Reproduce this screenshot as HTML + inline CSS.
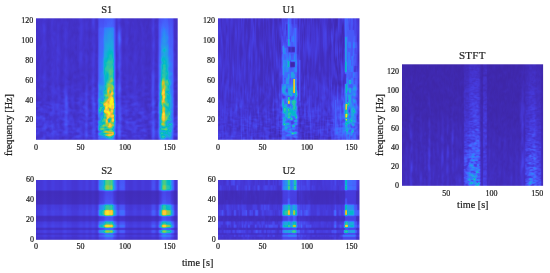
<!DOCTYPE html>
<html lang="en"><head><meta charset="utf-8"><title>Time-frequency figure</title><style>
html,body{margin:0;padding:0;background:#fff}
body{width:550px;height:273px;position:relative;overflow:hidden;font-family:"Liberation Serif",serif;color:#1c1c1c;-webkit-text-stroke:.2px #1c1c1c}
.p{position:absolute;display:flex;overflow:hidden}
.p i{display:block;flex:1 1 0;height:100%}
.t{position:absolute;white-space:nowrap;line-height:1;transform:translate(-50%,-50%);font-size:8px}
.r{position:absolute;white-space:nowrap;line-height:1;transform:translate(-100%,-50%);font-size:8px}
.T{position:absolute;white-space:nowrap;line-height:1;transform:translate(-50%,-50%);font-size:10.5px}
.L{position:absolute;white-space:nowrap;line-height:1;transform:translate(-50%,-50%);font-size:10.2px}
.Y{position:absolute;white-space:nowrap;line-height:1;transform:translate(-50%,-50%) rotate(-90deg);font-size:10.2px}
</style></head><body>
<div class="p" style="left:36px;top:18px;width:142px;height:122px"><i style="background:linear-gradient(#7c70dc .5px,#43c 1.5px,#4330c5 5.5px,#4434ce 8.5px,#4330c5 12.5px,#4434ce 15.5px,#422fc1 21.5px,#4332c9 23.5px,#4331c6 28.5px,#4433cd 34.5px,#422ebf 44.5px,#4330c5 48.5px,#422ec0 50.5px,#4330c5 53.5px,#422fc1 57.5px,#4331c8 62.5px,#422fc2 64.5px,#4434cf 67.5px,#4331c8 69.5px,#4331c7,#412cb8 81.5px,#412cba 82.5px,#4435d0 84.5px,#4538d8 87.5px,#4539d9,#4332c9,#422fc2 90.5px,#4536d3 93.5px,#4435d0 94.5px,#4536d4 96.5px,#4742e6 99.5px,#463adb,#463cde,#4433cd,#4538d7 107.5px,#4433cd 108.5px,#473fe3 110.5px,#463de0,#4537d6,#4536d4 113.5px,#473fe3,#4639da,#4331c8 119.5px,#4332c9,#6a5edb 121.5px)"></i><i style="background:linear-gradient(#7c71dc .5px,#4433cd 1.5px,#4332c9 4.5px,#4435d0,#4332c8 12.5px,#43c 18.5px,#4330c5 22.5px,#4433cd 38.5px,#422fc1 44.5px,#4332c9 49.5px,#422fc0 57.5px,#4433cb 62.5px,#4331c8 65.5px,#4435d0 71.5px,#4433cb,#4435d0 75.5px,#412ebe 81.5px,#422ebf 82.5px,#4537d6,#4537d6,#463adc 88.5px,#4434cf,#4433cb 90.5px,#4537d5,#4433cd 94.5px,#4536d5 97.5px,#4743e7 99.5px,#4743e7,#463ddf 101.5px,#4639da 104.5px,#4536d3 105.5px,#4539d9 107.5px,#4435d0,#4537d5,#473fe3 110.5px,#4639da 112.5px,#473fe3,#43c 118.5px,#4332c9,#43c,#6a5fde 121.5px)"></i><i style="background:linear-gradient(#7c70db .5px,#4433cb 1.5px,#4434cf,#4332cb 17.5px,#4434ce 19.5px,#4331c6 23.5px,#4434ce 29.5px,#4330c5 41.5px,#4332cb 43.5px,#4331c8,#4433cd 49.5px,#4332c9 54.5px,#4435d0 62.5px,#4331c7 66.5px,#4332ca 69.5px,#4435d1,#4434ce,#4538d7 75.5px,#422fc3 81.5px,#4330c4 82.5px,#463bde,#4538d8,#463bdd 88.5px,#4536d5 89.5px,#463adb 91.5px,#4639d9 92.5px,#43c 94.5px,#4536d3 95.5px,#4537d5,#4744e8 99.5px,#4744e8 100.5px,#4539d9 102.5px,#463cde 106.5px,#463adc,#4435d2,#4536d4,#473ee2 110.5px,#463cdf,#4740e4 114.5px,#473fe2 115.5px,#4435d1,#43c 119.5px,#4434cf,#6a60df 121.5px)"></i><i style="background:linear-gradient(#7c70db .5px,#4332ca 1.5px,#4435d0 10.5px,#4332c8 17.5px,#4433cd 20.5px,#4332c9,#4434cf 30.5px,#4331c7 41.5px,#4434d0 44.5px,#4433cd 54.5px,#4536d4 58.5px,#4332ca 69.5px,#4435d0,#4434ce,#4538d8 75.5px,#4331c6 81.5px,#4331c8 82.5px,#463cdf,#4536d4,#4639da 88.5px,#4538d7 89.5px,#463cdf 91.5px,#43c,#4538d7 97.5px,#4745e9 99.5px,#4742e6 100.5px,#4537d5 102.5px,#463ddf 106.5px,#4434cf 108.5px,#4435d2,#463cdf 110.5px,#463cdf 112.5px,#4639da 115.5px,#4434cf,#4434ce 119.5px,#4536d3,#6a60df 121.5px)"></i><i style="background:linear-gradient(#7c70db .5px,#4432cb 1.5px,#4435d0 11.5px,#4331c6 25.5px,#4434cf,#4435d0 33.5px,#4332ca 38.5px,#4435d2,#4433cd 54.5px,#4535d2 58.5px,#4433cb 63.5px,#4435d1 67.5px,#4332cb 70.5px,#4433cd 74.5px,#4435d2 75.5px,#4434cf 78.5px,#4331c6,#4332c9,#4639da,#4331c8 86.5px,#4332ca,#4536d4 88.5px,#473fe3,#4435d1 94.5px,#4434cf,#4743e7 98.5px,#4745e9 99.5px,#4537d6 102.5px,#463cde 106.5px,#4433cd 108.5px,#4435d1,#463adc 110.5px,#463bdc,#4434cf 114.5px,#43c 118.5px,#4434ce,#4537d6,#6a5fdf 121.5px)"></i><i style="background:linear-gradient(#7c70da .5px,#4332ca 1.5px,#4435d2 13.5px,#4332c9 24.5px,#4435d1 29.5px,#4332ca 35.5px,#4434d0 42.5px,#4332ca 55.5px,#4435d1,#4332c9,#4535d2 67.5px,#4332c9 70.5px,#43c,#4331c8 74.5px,#4434ce 78.5px,#4331c8 80.5px,#4435d1 84.5px,#4230c4 86.5px,#4331c7 87.5px,#473fe2 90.5px,#4740e3 91.5px,#463adb,#4433cb 95.5px,#43c 96.5px,#4742e6 98.5px,#4743e7 99.5px,#4639d9 102.5px,#463adc 106.5px,#4434ce,#463cde,#463bdd,#43c 114.5px,#4433cb 118.5px,#463ada 120.5px,#6a5fde 121.5px)"></i><i style="background:linear-gradient(#7c70da .5px,#4332cb 1.5px,#4537d6 7.5px,#4535d2,#4537d5 13.5px,#4434ce 18.5px,#4536d3 28.5px,#4433cb 33.5px,#4434ce 42.5px,#4331c8 54.5px,#4537d7 59.5px,#4433cb,#4535d2 67.5px,#4332c9 70.5px,#4433cb 79.5px,#4434cf 81.5px,#4331c6 86.5px,#4537d5 89.5px,#463ddf,#463ee1 91.5px,#4537d6 94.5px,#43c,#43c 96.5px,#473ee1,#4743e7 100.5px,#4538d7,#4537d6 108.5px,#4742e6,#463ee1,#4434cf 114.5px,#4434cf 117.5px,#4435d0 118.5px,#463ee1 120.5px,#6a60e0 121.5px)"></i><i style="background:linear-gradient(#7c72df .5px,#4435d0 1.5px,#4435d1,#463adb 7.5px,#463cde,#4536d2 17.5px,#4537d6 19.5px,#4537d6 27.5px,#4435d0 31.5px,#4536d2 36.5px,#4434ce 39.5px,#43c 47.5px,#4434cf 54.5px,#463bdd,#4435d1 64.5px,#4539d9 68.5px,#4332cb,#4435d1 74.5px,#4434d0 79.5px,#4537d5,#4433cd 83.5px,#43c 86.5px,#4536d3 87.5px,#4535d2,#463bdd 91.5px,#4538d8 94.5px,#4434cf,#4435d0 96.5px,#463bdd,#4849ed 100.5px,#4537d7 104.5px,#4537d6 105.5px,#4747eb 110.5px,#4536d4 114.5px,#4536d3 115.5px,#4743e7 120.5px,#6b62e4 121.5px)"></i><i style="background:linear-gradient(#7d73e3 .5px,#4536d4 1.5px,#4434cf 3.5px,#463adb 7.5px,#463de0,#4537d6 17.5px,#4537d5 23.5px,#4639d9 27.5px,#4536d5 29.5px,#4536d3 40.5px,#4434ce 45.5px,#4435d1 51.5px,#463cdf 59.5px,#4537d6 63.5px,#463adc 68.5px,#4435d1,#4433cd,#4537d6 74.5px,#4435d1 77.5px,#4537d6 81.5px,#4435d0 83.5px,#4435d0 86.5px,#4539d9 87.5px,#4536d3,#463adb,#463bdd 93.5px,#463adb,#4435d2,#4535d2 96.5px,#4538d7,#4746ea 100.5px,#463bdd 104.5px,#4743e7 106.5px,#484aee 110.5px,#463adb 113.5px,#4537d5 115.5px,#4740e4 118.5px,#4741e5 120.5px,#6b62e3 121.5px)"></i><i style="background:linear-gradient(#7d72e0 .5px,#4435d1 1.5px,#43c 3.5px,#4538d8 11.5px,#4434cd 20.5px,#4538d8 27.5px,#4537d6 32.5px,#4434cf 34.5px,#4536d3 39.5px,#43c 45.5px,#4639da 60.5px,#4536d5,#4639da 66.5px,#4434cd 70.5px,#4537d5 78.5px,#4434d0 83.5px,#4536d3 84.5px,#4434ce 86.5px,#4538d7,#4538d7,#4435d1 89.5px,#463bdc 92.5px,#4538d8 94.5px,#4433cb,#4332ca 96.5px,#4433cd,#463bdc 100.5px,#4538d8 101.5px,#463ddf 104.5px,#4746ea 106.5px,#484bef 109.5px,#4848ec 110.5px,#463bdc 112.5px,#4536d3,#463cde 118.5px,#4639d9 120.5px,#6a5edb 121.5px)"></i><i style="background:linear-gradient(#7c70db .5px,#4433cb 1.5px,#4332c9 4.5px,#4434cd,#4331c7 18.5px,#4435d0 28.5px,#4332ca 34.5px,#4434cf 39.5px,#4331c7 45.5px,#4434ce 48.5px,#43c 55.5px,#4536d3 61.5px,#4434ce 64.5px,#4535d2 66.5px,#4332c9 70.5px,#4536d4 77.5px,#4332c8 82.5px,#4536d3 84.5px,#4536d2,#4332ca 86.5px,#4538d7,#4536d3 90.5px,#463bdc 93.5px,#4539d9,#4332ca,#4330c5 96.5px,#4435d2 100.5px,#4433cd 101.5px,#463ddf 103.5px,#4746ea 108.5px,#4745e9,#473fe2,#4536d3,#4435d0 112.5px,#463cde 114.5px,#4639da 115.5px,#463adb 117.5px,#4433cb 120.5px,#695ad3 121.5px)"></i><i style="background:linear-gradient(#7b6fd8 .5px,#4332c9 1.5px,#4230c4 6.5px,#4330c5 26.5px,#4332ca 30.5px,#4230c3 33.5px,#43c 39.5px,#4230c3 42.5px,#4433cd 50.5px,#4230c4 55.5px,#4435d0 61.5px,#4331c7 64.5px,#4332ca 66.5px,#4230c3 69.5px,#4433cd 76.5px,#4330c5 81.5px,#4330c5 82.5px,#4536d4 84.5px,#4536d3,#4332ca 86.5px,#463bdc,#4537d6 90.5px,#4538d8 94.5px,#4330c5 96.5px,#4331c7 97.5px,#4536d4,#4434cf,#463ddf 103.5px,#4740e4 107.5px,#463cdf,#4331c8 111.5px,#4332c9 112.5px,#463ee1 114.5px,#463de0,#4331c6 120.5px,#6859cf 121.5px)"></i><i style="background:linear-gradient(#7b6ed6 .5px,#4331c7 1.5px,#4230c3 6.5px,#422fc1,#4331c7 14.5px,#4230c3 17.5px,#4331c7 21.5px,#4230c4 27.5px,#4332ca,#4230c4,#4332cb,#4332c8,#422fc0,#4332c9 45.5px,#4432cb 50.5px,#422fc2 56.5px,#4434ce 61.5px,#4230c3 65.5px,#4331c8,#4230c3 71.5px,#4434cf 76.5px,#4330c5 78.5px,#422fc1 82.5px,#4536d2 84.5px,#4536d3,#43c,#4435d1,#463bde,#463cde 89.5px,#4435d0 91.5px,#4538d8 94.5px,#4434cd 96.5px,#4537d6 99.5px,#4435d0,#463bdd,#463adb,#473fe2 107.5px,#473fe2 108.5px,#4433cd 110.5px,#4332c8,#4332ca 112.5px,#463bdd 114.5px,#473fe2,#4331c7 120.5px,#6859cf 121.5px)"></i><i style="background:linear-gradient(#7b6fd8 .5px,#4331c8 1.5px,#4230c4 9.5px,#4331c8,#4230c3 17.5px,#43c 26.5px,#4331c7 28.5px,#4332c9 36.5px,#4230c4 41.5px,#43c 45.5px,#4331c6 48.5px,#4332ca 53.5px,#422fc1 56.5px,#4434ce,#422fc1 66.5px,#4433cd 68.5px,#4331c6 73.5px,#4435d1 76.5px,#4331c8 78.5px,#4230c3 82.5px,#4536d4 84.5px,#4538d7 85.5px,#4434ce,#463bdd,#4433cd 91.5px,#4434cf 92.5px,#463bdd 94.5px,#463bdd 95.5px,#4434d0,#43c 101.5px,#4538d8 103.5px,#4539d9 106.5px,#473fe3,#4740e4 108.5px,#4536d4,#4433cd 112.5px,#4434ce 113.5px,#463bdd,#473fe3 117.5px,#463cde 118.5px,#43c 120.5px,#695bd4 121.5px)"></i><i style="background:linear-gradient(#7c70db .5px,#4433cb 1.5px,#4332c9 6.5px,#4433cd 12.5px,#4331c7 17.5px,#4433cd 26.5px,#4332c9 30.5px,#4332c9 41.5px,#4434ce 44.5px,#4331c8 49.5px,#4433cd 53.5px,#4331c6,#4434cf 59.5px,#4331c6 66.5px,#4536d2 68.5px,#4432cb 74.5px,#4435d0 76.5px,#4331c6,#4434ce,#463bdd 85.5px,#463ada,#4435d1 87.5px,#463adb,#4332ca 91.5px,#4332cb 92.5px,#473ee2 94.5px,#4741e5 95.5px,#463de0 97.5px,#4536d3 98.5px,#4433cb 100.5px,#4433cb 101.5px,#463adc,#4538d8 105.5px,#463adc,#4742e6,#4743e7,#463cde 109.5px,#4639d9 111.5px,#4435d0,#4434cf,#4536d4,#463ee1,#4740e3 116.5px,#463de0,#4536d4 120.5px,#6a5dda 121.5px)"></i><i style="background:linear-gradient(#7c70dc .5px,#4434ce 1.5px,#4536d4 4.5px,#4434ce 17.5px,#4536d3 20.5px,#43c 25.5px,#4434ce 39.5px,#4332c9 41.5px,#4536d3 47.5px,#4433cb,#4536d3 53.5px,#4434ce 55.5px,#4435d1 58.5px,#4433cb 63.5px,#4434ce 66.5px,#4639d9,#4537d6,#4639d9 72.5px,#4433cb 80.5px,#473fe2 86.5px,#463adb,#463adb,#463ee1,#463bdd,#4536d2,#4535d2 92.5px,#4742e6 94.5px,#4744e8 95.5px,#463ee1 97.5px,#4537d5,#4435d1,#4435d1,#4536d2 101.5px,#463ee1,#463bdd,#4747eb 107.5px,#4747eb 108.5px,#4538d8 112.5px,#4639da 113.5px,#4745e9 115.5px,#4538d8 120.5px,#6a5edd 121.5px)"></i><i style="background:linear-gradient(#7c72df .5px,#4536d2 1.5px,#4537d5 5.5px,#4435d0 8.5px,#4536d3 15.5px,#4434cf 17.5px,#4538d7 21.5px,#4433cd 30.5px,#4536d2 34.5px,#4435d2 39.5px,#43c 41.5px,#4537d6 46.5px,#4435d1 49.5px,#4538d7 53.5px,#4537d5 58.5px,#4434ce 61.5px,#463cdf 72.5px,#4538d7 77.5px,#4639d9 78.5px,#4435d1 81.5px,#4742e6 86.5px,#473fe2 88.5px,#4743e7 89.5px,#463de0 91.5px,#4744e8 94.5px,#4744e8 95.5px,#4536d3 99.5px,#4537d6,#463de0 105.5px,#4744e8 106.5px,#484bee 108.5px,#473fe2 112.5px,#484aee 115.5px,#463adc 120.5px,#6a60df 121.5px)"></i><i style="background:linear-gradient(#7c72df .5px,#4435d1 1.5px,#4332ca 11.5px,#4537d5 15.5px,#4434cf 18.5px,#4538d7 25.5px,#4434ce 30.5px,#4435d1,#4433cd,#4536d3 39.5px,#4434cf 41.5px,#4535d2 49.5px,#4537d6 52.5px,#4435d2 63.5px,#463de0 73.5px,#4434d0 81.5px,#4741e5 86.5px,#4743e7 89.5px,#4742e6 94.5px,#4741e4 95.5px,#4536d3 98.5px,#4435d2 102.5px,#4537d5,#4741e5,#4744e8 108.5px,#463de0 111.5px,#484aed 113.5px,#4746eb 116.5px,#4539d9 120.5px,#6a5fde 121.5px)"></i><i style="background:linear-gradient(#7c70db .5px,#4433cb 1.5px,#4434ce 5.5px,#4331c7 11.5px,#4537d6,#43c 19.5px,#4536d4 24.5px,#4434cd 31.5px,#4536d3 52.5px,#4434cd,#4536d3 58.5px,#4434ce 65.5px,#463ddf 74.5px,#4536d4 77.5px,#4433cb 81.5px,#4740e4 86.5px,#463ddf 90.5px,#463ee1 95.5px,#4435d2 97.5px,#4433cd 101.5px,#463de0 109.5px,#4639da,#4848ec 113.5px,#473ee2 117.5px,#4536d3 120.5px,#6a5dd9 121.5px)"></i><i style="background:linear-gradient(#7c6fd9 .5px,#4332c9 1.5px,#4434cd 3.5px,#4331c7 11.5px,#4435d1,#4433cd 19.5px,#4536d2 24.5px,#4332c9 27.5px,#4434ce 29.5px,#43c 35.5px,#4435d1 38.5px,#4433cd 49.5px,#4435d0 53.5px,#4433cd 55.5px,#4535d2 60.5px,#4332c9 68.5px,#4537d6,#463bdd,#4435d1 77.5px,#4332ca 81.5px,#4535d2 84.5px,#473fe3 86.5px,#463cde 91.5px,#4536d4,#463ada,#4434cf,#4433cd 99.5px,#4538d7 111.5px,#4744e9 113.5px,#4536d3 120.5px,#695cd8 121.5px)"></i><i style="background:linear-gradient(#7c6fd9 .5px,#4332c9 1.5px,#4332ca 12.5px,#4435d1 18.5px,#4433cb 27.5px,#4537d6 32.5px,#4435d0 35.5px,#4537d5 42.5px,#4434cf 55.5px,#4537d6 60.5px,#4332ca 67.5px,#4536d4 70.5px,#4639da 74.5px,#4639d9 75.5px,#4332ca 78.5px,#4536d2 84.5px,#4742e6 86.5px,#4742e6 87.5px,#463ee1 91.5px,#4435d0,#4639da 95.5px,#4433cd 98.5px,#4433cd 99.5px,#463adb 102.5px,#4435d1,#4539d9 106.5px,#4537d5 110.5px,#4740e3,#4740e4 116.5px,#4538d7,#4537d6 120.5px,#6a5dda 121.5px)"></i><i style="background:linear-gradient(#7b6fd9 .5px,#4331c8 1.5px,#4435d1 7.5px,#4434ce 14.5px,#4537d6 19.5px,#4536d3 25.5px,#463bdc 32.5px,#4537d5 36.5px,#463adb 41.5px,#4435d0 47.5px,#4639da 50.5px,#4536d5 63.5px,#4434cf 67.5px,#463adb,#4537d6 73.5px,#4539d9 75.5px,#4435d1 78.5px,#4538d8 84.5px,#4744e8 86.5px,#4745e9 87.5px,#4743e7,#4639da 93.5px,#473fe2 95.5px,#4535d2 98.5px,#4535d2 99.5px,#463cdf 101.5px,#463de0 102.5px,#4538d8,#473fe3 106.5px,#463bdd 107.5px,#463ada 110.5px,#463cde 114.5px,#4743e8,#4639da,#4639da 120.5px,#6a5fdd 121.5px)"></i><i style="background:linear-gradient(#7b6fd7 .5px,#4330c5 1.5px,#4536d4 7.5px,#4434ce 14.5px,#4537d6 17.5px,#4536d3,#463bdc 33.5px,#4536d4 38.5px,#4639da 41.5px,#4433cd 47.5px,#4538d8 51.5px,#4434ce 66.5px,#463cde 70.5px,#4538d7 73.5px,#463adb 79.5px,#4538d8 84.5px,#4742e6 86.5px,#4742e6 87.5px,#463ee1 93.5px,#4743e7 95.5px,#4537d5,#463bdd,#4537d6 104.5px,#463ee1 106.5px,#473ee2 109.5px,#463bdd 110.5px,#463de0,#4538d8,#4740e4,#4539d9,#4538d8 120.5px,#6a5edc 121.5px)"></i><i style="background:linear-gradient(#7b6ed6 .5px,#4330c5 1.5px,#4434d0 6.5px,#4332c9 14.5px,#4538d8 35.5px,#4435d1,#4536d4 41.5px,#43c 48.5px,#4435d2 54.5px,#4332c9 59.5px,#43c 63.5px,#4331c6,#4537d6 69.5px,#4538d7 70.5px,#4536d5 75.5px,#463bdd 79.5px,#4536d4 84.5px,#463de0 86.5px,#463bdd 89.5px,#463ee1 90.5px,#473fe2 95.5px,#4539d9 98.5px,#463cdf 100.5px,#4435d0 103.5px,#463adc 109.5px,#4639d9,#463de0,#463cdf 112.5px,#4434ce,#463adb 116.5px,#4434ce 120.5px,#695bd5 121.5px)"></i><i style="background:linear-gradient(#7b6fd8 .5px,#4331c8 1.5px,#43c 5.5px,#4230c4 14.5px,#4332c9 17.5px,#4332cb 28.5px,#4435d2 35.5px,#4331c7,#4331c7 63.5px,#422fc0 66.5px,#4434cf 72.5px,#4433cb 75.5px,#4536d3 77.5px,#4538d7 80.5px,#4434ce 84.5px,#4435d0 85.5px,#463bdd,#4539d9 89.5px,#473ee1,#4538d8 97.5px,#463ddf 100.5px,#4433cd,#4331c8 104.5px,#4536d3 110.5px,#463bde,#463cdf 112.5px,#4332c9,#4537d6,#4536d3,#4332ca 120.5px,#695bd3 121.5px)"></i><i style="background:linear-gradient(#7c70db .5px,#43c 1.5px,#4433cd 5.5px,#4330c5 8.5px,#422fc1 13.5px,#4332c9 24.5px,#4331c5 29.5px,#43c 39.5px,#4330c5 43.5px,#4331c6 51.5px,#422fc1 54.5px,#4331c8 61.5px,#412ebe,#43c 73.5px,#4331c6,#43c 77.5px,#4331c7 78.5px,#4535d2 81.5px,#4536d3,#4332ca,#463bdc,#4538d8 89.5px,#4741e5 93.5px,#4538d7 98.5px,#463cdf 100.5px,#463adb,#4433cd,#4331c6,#4331c6 104.5px,#4536d2,#43c,#4434ce,#463cde,#4435d0,#4539d8 116.5px,#4538d8 117.5px,#4331c8 120.5px,#695bd5 121.5px)"></i><i style="background:linear-gradient(#7c70da .5px,#4433cb 1.5px,#4433cd,#4330c5,#4332c8 10.5px,#422fc2 12.5px,#4332c9 17.5px,#4330c5 21.5px,#4332cb 26.5px,#4331c6 45.5px,#4332ca 50.5px,#422fc1 54.5px,#4433cd 61.5px,#422ebf,#4435d1 73.5px,#4331c7,#4433cb 77.5px,#4330c5,#4331c6 79.5px,#4536d4,#4538d7,#43c,#463bde 87.5px,#4537d5,#4742e6,#4538d7 96.5px,#4535d2,#463de0 100.5px,#463ee1 101.5px,#4332cb 103.5px,#4433cb,#4537d6,#4639da,#4538d8,#4434cf 108.5px,#4433cd,#463bdc 112.5px,#463bdd 116.5px,#463ada 117.5px,#4330c5 119.5px,#4230c4,#695bd5 121.5px)"></i><i style="background:linear-gradient(#7b6fd8 .5px,#4331c7 1.5px,#4433cd,#4332c9 7.5px,#4434ce 9.5px,#4331c7 13.5px,#4435d0 18.5px,#4332c8 22.5px,#4434ce 25.5px,#4331c7 32.5px,#4434cf 51.5px,#4331c6,#4434d0 59.5px,#4435d0 61.5px,#4230c3,#463adb 73.5px,#4435d0,#4536d4,#4434ce,#463bdc 81.5px,#463cde,#463cde 83.5px,#4536d3,#463cdf 87.5px,#4537d5 90.5px,#4538d8 91.5px,#4743e7 93.5px,#4536d3 96.5px,#4435d2,#4536d3 98.5px,#4741e5 100.5px,#4744e8 101.5px,#4537d6 103.5px,#473fe2 106.5px,#4535d2 110.5px,#4535d2 111.5px,#4741e5 113.5px,#4743e7 114.5px,#463bde 117.5px,#4332c8 119.5px,#4331c8,#695cd7 121.5px)"></i><i style="background:linear-gradient(#7b6fd7 .5px,#4331c6 1.5px,#4434cf,#43c 7.5px,#4537d6 18.5px,#4434cf 22.5px,#4536d3 25.5px,#4331c8 31.5px,#4536d4 43.5px,#4434ce 48.5px,#4537d6 52.5px,#4434cf 55.5px,#4435d1 62.5px,#4434ce 67.5px,#4741e5,#463cdf 79.5px,#4743e7,#4744e8,#473fe3 85.5px,#4742e6,#463de0 91.5px,#4849ed 93.5px,#463cde 96.5px,#463ee1 98.5px,#484bef 101.5px,#4741e5 103.5px,#484bef 106.5px,#4741e4 108.5px,#463bdd 111.5px,#4848ec 113.5px,#484aee 114.5px,#463ddf 117.5px,#4536d4,#4434cf,#4434cf,#6a5edc 121.5px)"></i><i style="background:linear-gradient(#7c6fda .5px,#4332c8 1.5px,#4435d1,#4434ce 7.5px,#4537d5 11.5px,#4639d9 18.5px,#4537d5 26.5px,#43c 31.5px,#4639da 43.5px,#4536d4 48.5px,#463ada 52.5px,#4435d1 58.5px,#4538d8 63.5px,#4537d6 66.5px,#4743e8 73.5px,#4745e9 76.5px,#484ff2 81.5px,#484ff2 88.5px,#4746eb 91.5px,#4852f4 93.5px,#4852f4,#4849ed 95.5px,#4746ea 97.5px,#484ff2 101.5px,#484df0 104.5px,#4758f8,#4849ed,#4745e9 110.5px,#4744e8 111.5px,#4850f3 114.5px,#4741e5 116.5px,#4536d4 119.5px,#4537d6,#6a60e0 121.5px)"></i><i style="background:linear-gradient(#7b6fd8 .5px,#4331c6 1.5px,#4435d1 4.5px,#4434cd 8.5px,#4538d8 14.5px,#4435d1 24.5px,#4536d4 28.5px,#43c 31.5px,#4434cf 37.5px,#4537d6 39.5px,#463adb 43.5px,#4537d5 50.5px,#4538d8 54.5px,#4434cf 59.5px,#4539d9 63.5px,#4535d2 66.5px,#463adb 68.5px,#4744e8 76.5px,#484df0,#4852f4 80.5px,#4851f3 83.5px,#4757f7 85.5px,#484cf0 91.5px,#4756f7 94.5px,#4849ed 96.5px,#4747eb 97.5px,#4852f4 102.5px,#484ff2,#4758f8,#4848ec 108.5px,#4849ed,#4850f3 114.5px,#4742e6 116.5px,#4537d7 119.5px,#4538d8,#6a5fde 121.5px)"></i><i style="background:linear-gradient(#7b6ed6 .5px,#422fc2 1.5px,#4435d1 5.5px,#43c 11.5px,#4536d4 15.5px,#4433cb 25.5px,#4434ce,#4331c7 31.5px,#4536d3 43.5px,#4435d1 51.5px,#4537d5 54.5px,#4332ca 60.5px,#4536d4,#4434ce 66.5px,#4538d7 68.5px,#4639d9 74.5px,#463ddf 77.5px,#4745e9 79.5px,#4743e7,#484df0 85.5px,#4848ec 90.5px,#484df0 94.5px,#473ee1 97.5px,#4744e8 101.5px,#484df0 103.5px,#4849ed 104.5px,#484df0,#473fe2,#4745e9 110.5px,#4747eb,#4539d9 118.5px,#4537d5 120.5px,#6a5dd9 121.5px)"></i><i style="background:linear-gradient(#7b6ed7 .5px,#4230c4 1.5px,#4433cb 4.5px,#4331c7 10.5px,#4433cd 15.5px,#4331c7 24.5px,#4433cd 27.5px,#4230c4 33.5px,#4434cf 45.5px,#4434ce 55.5px,#422fc2 61.5px,#4434ce 63.5px,#4332ca 66.5px,#4536d4 68.5px,#4332ca 75.5px,#463ada 80.5px,#4536d3,#463cdf 84.5px,#463ada 87.5px,#4743e7,#4537d6 97.5px,#463de0 101.5px,#4745e9 103.5px,#4740e4 106.5px,#4537d7,#4536d4 108.5px,#463de0,#463adc,#463ddf 114.5px,#4538d7 115.5px,#4539d9 117.5px,#4434d0 120.5px,#695bd5 121.5px)"></i><i style="background:linear-gradient(#7b6ed7 .5px,#4330c5 1.5px,#4230c4 9.5px,#4433cb 13.5px,#4331c6 20.5px,#43c 26.5px,#422fc2 37.5px,#43c 44.5px,#4433cd 50.5px,#412ebe 61.5px,#4332c9 63.5px,#4230c4 66.5px,#4435d0 68.5px,#4435d1 69.5px,#4332c9,#4332ca 73.5px,#4330c5 74.5px,#4536d4 80.5px,#4332c9,#4435d2,#4332ca,#4331c8 88.5px,#463cdf 91.5px,#473ee1 92.5px,#4538d7,#4536d4 96.5px,#463de0 100.5px,#463ddf 106.5px,#4434d0,#4433cb 108.5px,#4539d9,#4537d6 112.5px,#463adb,#4538d7,#4433cd 115.5px,#4536d4 117.5px,#4332c9 120.5px,#695ad3 121.5px)"></i><i style="background:linear-gradient(#7b6fd7 .5px,#4331c6 1.5px,#4332c9 16.5px,#4330c5 19.5px,#4332ca 25.5px,#422fc0 38.5px,#4433cb,#4331c8,#43c 50.5px,#412ebd 60.5px,#4330c5,#4230c4,#4435d0 69.5px,#4332ca 71.5px,#4332c9 76.5px,#4537d6 80.5px,#4434ce,#4434cf 84.5px,#422fc3 88.5px,#4230c4 89.5px,#4639da 91.5px,#463bdd 92.5px,#4434ce 94.5px,#4434ce 95.5px,#473fe3 100.5px,#4539d9,#463cdf 106.5px,#4435d1,#43c 108.5px,#4538d8,#4537d6 112.5px,#463bdd,#4539d9,#43c,#4433cb,#4435d1 117.5px,#4331c6 119.5px,#4331c7,#695bd5 121.5px)"></i><i style="background:linear-gradient(#7b6fd7 .5px,#4330c5 1.5px,#4332c9 4.5px,#4230c4 18.5px,#4433cd 22.5px,#4331c7 32.5px,#422fc0 36.5px,#4434d0 42.5px,#4332c8 46.5px,#43c 53.5px,#422fc0,#4331c7 65.5px,#4536d3 68.5px,#4435d1 73.5px,#4332ca 76.5px,#463adb 80.5px,#4435d1 86.5px,#4331c6 89.5px,#4332c8,#4537d6,#4639da 92.5px,#4433cb 94.5px,#4433cb 95.5px,#473fe2 100.5px,#4538d8,#463de0 106.5px,#4536d3,#4537d6 110.5px,#4535d2,#4536d3,#463bdd,#463bdd,#4434d0,#4433cd,#4435d2 117.5px,#4332ca 119.5px,#4434ce,#6a5dd9 121.5px)"></i><i style="background:linear-gradient(#7c70da .5px,#4332c9,#4331c8 2.5px,#4331c7 7.5px,#4433cb 9.5px,#4230c4,#422fc2 17.5px,#4434ce 22.5px,#4332c9 31.5px,#422ebf 35.5px,#4434ce 42.5px,#4332c9 45.5px,#4434ce 47.5px,#4434ce 52.5px,#4330c5 56.5px,#43c 65.5px,#4537d6 68.5px,#4434ce 76.5px,#463bdd 80.5px,#4539d9 86.5px,#4332ca 90.5px,#4539d9 92.5px,#43c,#463cdf 100.5px,#463adc,#473fe3 106.5px,#463adb,#463bdd,#4536d3 112.5px,#463bdc,#463ddf 114.5px,#4435d1 116.5px,#4536d4,#4435d0 118.5px,#4538d7 120.5px,#6a5edc 121.5px)"></i><i style="background:linear-gradient(#7c70db .5px,#4433cb 1.5px,#4230c4 7.5px,#4332ca 9.5px,#422fc2 14.5px,#43c 20.5px,#4433cd 25.5px,#4332ca 27.5px,#43c 30.5px,#422fc1 35.5px,#4331c7 39.5px,#4331c7 44.5px,#4435d0,#4434ce 52.5px,#4331c7,#4435d0 58.5px,#4331c7 62.5px,#4535d2 67.5px,#4435d1 70.5px,#4537d5 71.5px,#4434ce 76.5px,#4538d8,#4537d5 82.5px,#463adc 84.5px,#4434cf 90.5px,#463adb 92.5px,#4332c9 96.5px,#4331c7 98.5px,#4639d9 101.5px,#473fe2 106.5px,#463bdd,#4741e5,#4538d7,#463bdd 114.5px,#4536d2,#4434cf 116.5px,#463adb 119.5px,#4539d9,#6a5edb 121.5px)"></i><i style="background:linear-gradient(#7c70da .5px,#4332c9 1.5px,#4230c3 6.5px,#4331c8 9.5px,#422fc1 14.5px,#43c 18.5px,#4332ca 21.5px,#4434cf 25.5px,#4332c9 28.5px,#4433cb 33.5px,#4230c4 37.5px,#4434cf 51.5px,#422fc2 54.5px,#4435d0 58.5px,#4435d1 59.5px,#4331c6,#4330c5 63.5px,#4434cf 67.5px,#4332ca 69.5px,#4536d4,#4332ca 75.5px,#4434ce 77.5px,#4332cb 82.5px,#4538d7 84.5px,#4433cd 87.5px,#4433cb 89.5px,#4433cd 90.5px,#4639d9 92.5px,#4332cb,#4230c3,#4434cf,#4536d2 104.5px,#463bdc,#4538d7,#473fe3,#4538d8 112.5px,#4639da 113.5px,#4434ce 115.5px,#4434ce 116.5px,#463ddf 118.5px,#463cdf,#4537d6,#695cd7 121.5px)"></i><i style="background:linear-gradient(#7c6fd9 .5px,#4331c8 1.5px,#4332c9 3.5px,#4230c4 6.5px,#4331c8 10.5px,#422fc2 15.5px,#4332c9,#4330c5 21.5px,#4433cb,#422fc2 29.5px,#43c,#422fc1 39.5px,#4433cb 51.5px,#422fc0 54.5px,#4434cf 58.5px,#4435d0 59.5px,#4330c5,#4230c3 63.5px,#4434ce 67.5px,#4331c8 69.5px,#4536d3,#4331c5 75.5px,#4331c7 80.5px,#422fc3 82.5px,#4331c7,#4536d2 84.5px,#4330c5,#4330c5 90.5px,#4537d5 92.5px,#4331c6 98.5px,#4434cf 103.5px,#43c 104.5px,#4537d6,#4435d1,#463cde 110.5px,#4539d9 113.5px,#4332c8 115.5px,#4432cb 116.5px,#4740e4 118.5px,#463ee0,#4435d1,#695bd4 121.5px)"></i><i style="background:linear-gradient(#7c70da .5px,#4331c8 1.5px,#4230c4,#4332c9 9.5px,#422fc1 15.5px,#4331c7 17.5px,#422fc2 20.5px,#4332c9 24.5px,#422fc2,#4332ca,#422fc1 39.5px,#4331c6 41.5px,#4230c3 44.5px,#4332ca 51.5px,#4230c3 53.5px,#4433cb,#422fc0 63.5px,#43c 67.5px,#4332cb,#4536d3 71.5px,#4331c7 74.5px,#4230c4 78.5px,#43c,#4230c4 82.5px,#4331c8,#4537d6,#4536d3 85.5px,#4230c4 87.5px,#422fc2 90.5px,#4434cf,#4535d2 94.5px,#4332c9 98.5px,#4536d4 103.5px,#4434cf 104.5px,#4537d6,#4435d1 108.5px,#4740e4 112.5px,#463ee1,#4435d0,#4331c7,#4433cb,#463ee1,#4745e9,#4740e4,#4535d2,#695cd6 121.5px)"></i><i style="background:linear-gradient(#7c70db .5px,#4332c8 1.5px,#4330c5,#4433cb 9.5px,#422ec0 14.5px,#4331c7 18.5px,#4433cb 24.5px,#4332ca 41.5px,#422fc1 45.5px,#4331c8 50.5px,#422fc1 53.5px,#43c 58.5px,#4230c4,#43c 66.5px,#43c 69.5px,#4536d4,#4332c9 73.5px,#4331c6 76.5px,#4331c7,#4536d3,#4331c8 82.5px,#4434cf,#463bdd,#463ada 85.5px,#4332c9 87.5px,#4330c5 90.5px,#4537d5 94.5px,#4332c9 97.5px,#4538d8 103.5px,#4434cf 105.5px,#4434ce 108.5px,#463ee1,#4848ec 112.5px,#4744e8 113.5px,#4332ca 115.5px,#4433cd,#4741e4,#4747eb,#4743e7,#4538d7,#6a5dda 121.5px)"></i><i style="background:linear-gradient(#7c71dd .5px,#43c 1.5px,#4331c6 6.5px,#4435d0 10.5px,#4230c4 15.5px,#43c 18.5px,#4433cb 32.5px,#4435d1 42.5px,#4331c7 45.5px,#43c 49.5px,#422fc0 52.5px,#422fc0 53.5px,#4434ce 58.5px,#4330c5 62.5px,#4434ce 65.5px,#4434cf 69.5px,#4537d5,#4332c9 73.5px,#4331c8 76.5px,#4332ca,#4538d8,#4435d0,#473fe2 84.5px,#463de0 85.5px,#43c 88.5px,#4332ca 90.5px,#4639d9 94.5px,#4332c9 96.5px,#4332c9 97.5px,#4536d4 99.5px,#463bdd 103.5px,#4434ce,#4332ca 107.5px,#4433cd 108.5px,#4741e5,#4848ec 112.5px,#4745e9 113.5px,#4434cf 115.5px,#4536d4,#4743e8,#4849ed,#4744e8,#4639d9,#6a5edc 121.5px)"></i><i style="background:linear-gradient(#7d72e1 .5px,#4536d3 1.5px,#43c 6.5px,#4537d6,#4434cf 14.5px,#4537d6 20.5px,#4435d0 23.5px,#4536d3 29.5px,#4434ce,#4538d7 35.5px,#4539d9,#4435d1 49.5px,#4331c7 52.5px,#4433cb 58.5px,#4331c8 62.5px,#4435d1 65.5px,#4434cf 69.5px,#4537d5 71.5px,#43c 74.5px,#4536d3 78.5px,#463bde,#463adb,#4740e4 84.5px,#4435d1 89.5px,#4435d0 90.5px,#463adb,#463bdd,#43c 96.5px,#4538d7 99.5px,#4537d6,#4740e3 103.5px,#4435d2 106.5px,#4536d4,#4742e7 110.5px,#4745e9 113.5px,#463adc 115.5px,#463cde,#4746ea,#4848ec 118.5px,#4539d9 120.5px,#6a5fdd 121.5px)"></i><i style="background:linear-gradient(#7d74e3 .5px,#4538d7 1.5px,#4536d4 4.5px,#4639da,#4538d7 14.5px,#463adc 21.5px,#4537d7 23.5px,#4435d1 31.5px,#463bdd 35.5px,#463cde 41.5px,#43c 52.5px,#4434d0,#4331c7 60.5px,#4536d3 67.5px,#4435d0,#4536d4 71.5px,#4434ce 74.5px,#473ee1,#4538d7 88.5px,#4538d8,#473fe2 92.5px,#473fe2,#463ddf,#4536d3,#4434cf 96.5px,#4538d8 99.5px,#4435d0,#4740e3 103.5px,#4538d7 106.5px,#4740e4 110.5px,#473fe2 112.5px,#4743e7 113.5px,#4740e3 116.5px,#4745e9,#4744e8 118.5px,#4538d7 120.5px,#6a5edc 121.5px)"></i><i style="background:linear-gradient(#7d74e3 .5px,#4538d7 1.5px,#4537d5 3.5px,#463adc 8.5px,#4639da 18.5px,#4434cf 31.5px,#463bdd 35.5px,#463bdd 41.5px,#4332ca 52.5px,#4536d3 56.5px,#4330c5 59.5px,#4434d0 64.5px,#4434cf 73.5px,#4537d5,#4536d4 77.5px,#4740e3 81.5px,#4536d3 86.5px,#4538d8,#4537d6 90.5px,#4740e4,#4434d0,#4639da 99.5px,#4433cd,#463cdf 103.5px,#463de0 104.5px,#4539d9 106.5px,#463ddf,#463bdc,#4742e6 115.5px,#4740e4 117.5px,#4537d6 120.5px,#6a5edc 121.5px)"></i><i style="background:linear-gradient(#7d72e0 .5px,#4535d2,#4435d1 2.5px,#4538d8 8.5px,#4433cd 30.5px,#4538d7 36.5px,#4435d1 39.5px,#4536d4 44.5px,#4331c6 52.5px,#4435d1 56.5px,#422fc3 59.5px,#4434ce 63.5px,#4331c8 69.5px,#4433cd 73.5px,#4537d6,#4536d3 77.5px,#463de0 81.5px,#4434ce 84.5px,#4433cd 85.5px,#4435d2 87.5px,#463adb 88.5px,#4536d3 90.5px,#4536d4,#463cde,#463de0,#463cde 94.5px,#4434ce 96.5px,#4434ce 97.5px,#463bdc 99.5px,#4539d9,#4434cf 101.5px,#463de0 104.5px,#4538d7 106.5px,#4537d6 112.5px,#463ee1,#4435d0 120.5px,#6a5dd9 121.5px)"></i><i style="background:linear-gradient(#7c70db .5px,#43c 1.5px,#4536d2 7.5px,#4332c9 26.5px,#4434d0 30.5px,#4434ce 37.5px,#4332c8 40.5px,#4434ce 44.5px,#4331c6 52.5px,#4434cf 56.5px,#4230c3,#4432cb 62.5px,#422fc2 69.5px,#4331c7 73.5px,#4537d5 75.5px,#4435d2,#463adb,#4332c9 84.5px,#4332c9,#43c 86.5px,#473fe2 88.5px,#4740e4 89.5px,#4536d4 91.5px,#463bdd 94.5px,#463ada 95.5px,#43c,#463bdd 99.5px,#463cde 100.5px,#4435d1,#463bdc 104.5px,#4435d1 111.5px,#4536d3 114.5px,#463cdf 116.5px,#4332c9 120.5px,#695bd6 121.5px)"></i><i style="background:linear-gradient(#7c70da .5px,#4332ca 1.5px,#4434cf 6.5px,#4434ce 10.5px,#4332c9 13.5px,#4433cd 20.5px,#4331c8 26.5px,#4435d0,#4332c8 32.5px,#4435d0 37.5px,#4331c7,#43c 45.5px,#4331c8 52.5px,#4435d1 57.5px,#4331c7 59.5px,#43c 62.5px,#4330c5 69.5px,#43c 73.5px,#463ada 75.5px,#4537d5,#463adc 81.5px,#4536d2,#4435d1 85.5px,#4742e7 88.5px,#4745e9 89.5px,#463bdc,#4538d8,#463ddf,#4536d4 97.5px,#463de0 100.5px,#463bdd,#4536d3,#4535d2 103.5px,#463ddf,#463cdf 107.5px,#4537d5 110.5px,#4740e3 116.5px,#473fe2 117.5px,#4435d0 120.5px,#695dd8 121.5px)"></i><i style="background:linear-gradient(#7c70db .5px,#4433cb 1.5px,#4536d3 6.5px,#4435d1 10.5px,#4332c9 13.5px,#4434d0 24.5px,#4434cf 29.5px,#4331c7 32.5px,#4537d6 38.5px,#4435d0 41.5px,#4536d2 43.5px,#4332cb 51.5px,#4536d3 57.5px,#43c 60.5px,#4435d1 62.5px,#4434ce,#4536d4 70.5px,#463ada 73.5px,#4741e5 75.5px,#463de0 79.5px,#4740e4 81.5px,#473ee1 86.5px,#484bee 89.5px,#463ee1 93.5px,#4745e9 96.5px,#463de0 98.5px,#4740e4 101.5px,#463bdc,#463adc 103.5px,#484aee 106.5px,#463ee1 111.5px,#4848ec,#484cef,#463adc 120.5px,#6a5edc 121.5px)"></i><i style="background:linear-gradient(#7c6fd9 .5px,#4332cb 1.5px,#4537d5 5.5px,#4536d5 10.5px,#4332cb 14.5px,#4535d2 20.5px,#4434ce 29.5px,#4332c8 32.5px,#4538d7 38.5px,#4538d8 43.5px,#4435d0 46.5px,#4434ce 55.5px,#4536d3 57.5px,#4435d0 60.5px,#4537d6 62.5px,#4537d6 66.5px,#463adb 67.5px,#463ee1 73.5px,#4746ea 76.5px,#4741e5 78.5px,#4746eb 84.5px,#4743e8 86.5px,#484cef 90.5px,#4744e8,#484ef1,#4742e6 99.5px,#473fe2 103.5px,#4850f2 106.5px,#4742e6,#4854f6 116.5px,#4854f5 117.5px,#463ddf 120.5px,#6a5dda 121.5px)"></i><i style="background:linear-gradient(#7b6ed6 .5px,#4332c8 1.5px,#4535d2 4.5px,#4435d2 10.5px,#4331c8 14.5px,#4536d2 20.5px,#4433cb 24.5px,#4434ce 29.5px,#4230c3 33.5px,#4331c6 35.5px,#4535d2 38.5px,#4536d4,#4433cb 46.5px,#4332cb 56.5px,#4434cf 58.5px,#4435d0 65.5px,#4538d7 67.5px,#463adb 72.5px,#4740e4 76.5px,#463adb 78.5px,#463adb 79.5px,#4741e5,#463de0,#4744e9 91.5px,#4742e7 94.5px,#4747eb 96.5px,#4741e5 97.5px,#473fe3 101.5px,#463adb,#463adb 103.5px,#4742e6,#4745ea,#463de0,#463bdd 111.5px,#484df1 117.5px,#4538d8 120.5px,#695bd3 121.5px)"></i><i style="background:linear-gradient(#7b6fd7 .5px,#4332ca 1.5px,#4434ce 3.5px,#4332ca 6.5px,#4434cf 10.5px,#4331c5,#4330c4 16.5px,#4433cd 21.5px,#4332c8 24.5px,#4433cd 30.5px,#422fc2 35.5px,#4433cb,#4433cd 41.5px,#4331c5,#4332ca 49.5px,#4330c5 51.5px,#4332c9 54.5px,#4230c3 56.5px,#4330c5 63.5px,#4435d0 66.5px,#4433cb 70.5px,#463adb 76.5px,#4434cf 78.5px,#4538d7,#43c 88.5px,#463cdf,#463adb 96.5px,#4536d2 97.5px,#463cde 100.5px,#463adb,#4434d0,#4434cf,#4538d7 104.5px,#463adb,#4434d0 110.5px,#463adb 114.5px,#4538d8 115.5px,#4742e6 117.5px,#4537d6 120.5px,#695bd5 121.5px)"></i><i style="background:linear-gradient(#7b6fd8 .5px,#4331c7 1.5px,#4332ca 10.5px,#422ec0 14.5px,#422ec0 17.5px,#4332ca 22.5px,#4330c5 25.5px,#4331c8 40.5px,#4230c4,#43c 48.5px,#4330c5,#4331c7 54.5px,#422fc1 58.5px,#4435d1 66.5px,#4230c3 69.5px,#4330c5,#4434cf 73.5px,#4537d5 76.5px,#43c,#4434ce,#4332c9,#4433cd 84.5px,#422fc1 87.5px,#4331c6 89.5px,#4539d9 92.5px,#4331c6 97.5px,#4432cb,#4538d7,#4539d9,#4537d5,#4332c9,#4433cb,#463adb,#463adc 105.5px,#4332ca 110.5px,#4538d7 113.5px,#4537d6,#4434cf 115.5px,#463ee1 117.5px,#463de0,#4537d7,#4537d6,#695dd8 121.5px)"></i><i style="background:linear-gradient(#7b6fd9 .5px,#4331c7 1.5px,#4432cb 9.5px,#422fc0 14.5px,#43c 22.5px,#4230c3,#4331c8,#4230c4 31.5px,#43c 40.5px,#4331c8 44.5px,#4433cd 46.5px,#4331c6 51.5px,#4332ca,#4330c5 59.5px,#4434d0 62.5px,#4435d2 66.5px,#4330c5,#422fc1 70.5px,#4435d0 73.5px,#4434d0 75.5px,#4536d4 76.5px,#4435d0,#4536d3,#4332ca,#4435d1 84.5px,#4230c4 87.5px,#4230c4 88.5px,#4332c8,#4537d7 92.5px,#4536d4,#4332ca 94.5px,#4230c3 97.5px,#4538d7 99.5px,#4332c8 102.5px,#4434ce,#473fe3,#4741e5 105.5px,#4434cf 108.5px,#4332c9,#4538d8,#4538d8 114.5px,#4535d2,#4537d5,#463de0,#463cdf,#4536d3,#4536d4,#695cd7 121.5px)"></i><i style="background:linear-gradient(#7c71de .5px,#4435d0 1.5px,#4435d2 9.5px,#4230c4 15.5px,#4434cf 22.5px,#4332ca,#4433cd,#4230c3 31.5px,#4434ce 35.5px,#4536d4 40.5px,#4434d0 44.5px,#4536d3 47.5px,#4332c9 51.5px,#4434cf 54.5px,#4435d0 60.5px,#4539d9 63.5px,#4434ce 69.5px,#4539d9 73.5px,#4537d5 75.5px,#473fe3 80.5px,#4538d8,#463cdf 84.5px,#4434cf 88.5px,#4435d0,#463ada 92.5px,#4639da,#4536d2 94.5px,#4435d1 97.5px,#463cde 99.5px,#4537d6 100.5px,#4434d0 102.5px,#4537d5,#4744e8,#4746ea 105.5px,#4535d2 109.5px,#4435d1 110.5px,#463ddf 112.5px,#463cde 116.5px,#4741e5,#473fe2,#4537d6,#4535d2,#695cd6 121.5px)"></i><i style="background:linear-gradient(#7d75e6 .5px,#463bdd 1.5px,#463ee1 4.5px,#4332c9 16.5px,#4536d3 20.5px,#4537d5 26.5px,#4332c8 31.5px,#4537d6 35.5px,#463adb 40.5px,#463adc 47.5px,#4536d3 50.5px,#4535d2 52.5px,#473fe3 63.5px,#4639d9 67.5px,#4740e3 72.5px,#463cdf 75.5px,#484aee 80.5px,#4743e7 82.5px,#4848ec,#4740e4 88.5px,#4741e5 93.5px,#463cde 95.5px,#4743e7 99.5px,#463cdf,#463cde 101.5px,#473fe2 103.5px,#4848ec 104.5px,#463de0 109.5px,#4849ed 112.5px,#4849ed,#4744e8,#4744e9 118.5px,#463cde,#4639da,#6a5fde 121.5px)"></i><i style="background:linear-gradient(#7e78eb .5px,#473fe2 1.5px,#4741e5 4.5px,#43c 15.5px,#4537d6 20.5px,#4536d3 22.5px,#4538d8 28.5px,#4536d4 32.5px,#463adc 35.5px,#463cdf 40.5px,#463cde 47.5px,#4537d7 51.5px,#4740e3 63.5px,#4538d8 66.5px,#463bdd,#4745e9 70.5px,#463ee1 74.5px,#484bef 80.5px,#4849ed 83.5px,#4854f5 85.5px,#484aee 88.5px,#4848ec 93.5px,#4740e3 95.5px,#4848ec 98.5px,#4743e7 100.5px,#484aee 104.5px,#4745ea 109.5px,#4851f3 112.5px,#484aee 116.5px,#484bef 118.5px,#4743e7,#4741e5,#6b65e8 121.5px)"></i><i style="background:linear-gradient(#7e76e7 .5px,#463bdc 1.5px,#463ada 9.5px,#4433cb 15.5px,#4536d3 20.5px,#4435d0 23.5px,#4538d7,#4536d4 33.5px,#463adb 36.5px,#4538d8 47.5px,#4435d2 51.5px,#4537d6 53.5px,#4536d3 57.5px,#463ada,#4433cd 67.5px,#473fe3,#463adb 73.5px,#463cdf 78.5px,#4742e6 80.5px,#4741e5 83.5px,#4850f3 85.5px,#4852f4 86.5px,#4848ec 88.5px,#484aee 92.5px,#473fe3 95.5px,#4745e9 99.5px,#4741e5 100.5px,#4746eb 103.5px,#4743e7 105.5px,#4745e9 109.5px,#484ff2 112.5px,#484aee 113.5px,#484ef1 115.5px,#4848ec 116.5px,#484aee,#4743e7 120.5px,#6c66e9 121.5px)"></i><i style="background:linear-gradient(#7c71de .5px,#4434ce 1.5px,#4434ce 14.5px,#4331c6,#4433cd 20.5px,#4433cb 25.5px,#4435d0 28.5px,#4332ca 34.5px,#4435d2 36.5px,#43c 40.5px,#4434ce 54.5px,#4331c7 57.5px,#4434cd 59.5px,#4434cf,#422fc2 67.5px,#4331c5 68.5px,#4538d7 70.5px,#4435d0 73.5px,#463adb,#4435d0 77.5px,#4639da,#4536d5 83.5px,#4742e6 85.5px,#4744e8 86.5px,#463cdf 88.5px,#4741e5 93.5px,#4536d5 97.5px,#463adb 99.5px,#4537d5,#4538d8,#473fe3,#4741e5 103.5px,#463cdf 105.5px,#4743e7 111.5px,#463de0,#4743e8 115.5px,#473fe3 116.5px,#4742e6,#473fe3 120.5px,#6b62e4 121.5px)"></i><i style="background:linear-gradient(#7c6fd9 .5px,#4331c7,#4331c6 2.5px,#43c 14.5px,#4230c4 17.5px,#4332c8 19.5px,#4331c7 29.5px,#422fc1,#4433cd 37.5px,#4330c5,#4332ca 43.5px,#4331c6 47.5px,#4332c8 54.5px,#4230c3 58.5px,#4332c9 63.5px,#4230c4 67.5px,#4434cf,#4332cb 73.5px,#4537d6,#4332ca 77.5px,#4537d7 81.5px,#4435d1,#463adb 85.5px,#4434cf 88.5px,#4435d1,#4639da 92.5px,#4538d8 95.5px,#4331c6 97.5px,#4331c7 100.5px,#43c,#463adb,#463ddf 103.5px,#4538d7 106.5px,#473fe3,#4537d7 110.5px,#4538d7 111.5px,#4332ca,#4639da 115.5px,#463bde 120.5px,#6a5fde 121.5px)"></i><i style="background:linear-gradient(#7c71dd .5px,#4434ce 1.5px,#4331c8 5.5px,#4435d1 11.5px,#43c,#4434cf 19.5px,#4332ca 24.5px,#4433cb 34.5px,#4536d3 38.5px,#4434ce 40.5px,#4536d3 43.5px,#4434cd,#4535d2 51.5px,#4434ce 61.5px,#4539d9 66.5px,#4537d5 72.5px,#463cde 75.5px,#4639da 77.5px,#4743e7 82.5px,#4741e5 85.5px,#4639da 87.5px,#463bdd 90.5px,#473fe3 91.5px,#4741e5 95.5px,#4537d6 97.5px,#4435d0 100.5px,#4536d3,#473fe3,#4746ea,#4746ea 104.5px,#463ddf,#4848ec 108.5px,#4741e5 111.5px,#43c,#4740e3 115.5px,#463de0 120.5px,#6b60e0 121.5px)"></i><i style="background:linear-gradient(#7e7bee .5px,#4742e6 1.5px,#4741e5 4.5px,#4743e7 8.5px,#4849ed 11.5px,#484cf0 35.5px,#4853f5 42.5px,#4853f5 60.5px,#465dfb 64.5px,#406dfe 67.5px,#4564fd 71.5px,#4465fd,#3d70ff 75.5px,#3f6eff 78.5px,#3c72ff 79.5px,#2e86f7 81.5px,#2d89f5 82.5px,#3678fd 85.5px,#3678fe,#2f81fa,#2a92ee 91.5px,#2a93ed 92.5px,#317dfc 95.5px,#3b72fe 96.5px,#406dfe,#475af9 100.5px,#475af9,#3f6eff,#2d88f6,#2d8bf4 104.5px,#337bfc,#2b90ef,#2994ed 110.5px,#2c90f0,#406cfe,#4755f6,#475bfa,#327cfc,#3875fe,#4562fc,#4757f7,#475cfa,#4854f5,#6c70f3 121.5px)"></i><i style="background:linear-gradient(#7f83f5 .5px,#484df1 1.5px,#4852f4 8.5px,#475bf9 11.5px,#4759f8 15.5px,#4562fc 28.5px,#4562fc 35.5px,#406dfe 51.5px,#406dfe 61.5px,#3479fd 65.5px,#2d8cf3 67.5px,#2c8ff1 68.5px,#2c90f0 71.5px,#2e85f8,#2c90f0 75.5px,#2c90f0 79.5px,#1ea8e1 81.5px,#19acdc,#1aabdd 83.5px,#2699e9 86.5px,#259be8,#1fa6e2 88.5px,#02bac5 90.5px,#1cc0b4,#23c1af,#0cbdbc,#15afd9,#269be8,#2d8df2 96.5px,#2d89f5,#3479fd 100.5px,#337bfc,#2994ed,#18addb,#15afd8 104.5px,#23a0e5 106.5px,#17aeda,#05b6ce,#01b8c9,#11beb9,#0abdbd,#2796eb,#3c71ff,#307ffb,#20a4e3,#259de7,#3080fa,#426afe,#3b72fe,#4563fd,#6c7cfb 121.5px)"></i><i style="background:linear-gradient(#7f84f6 .5px,#484ff2 1.5px,#4756f6 8.5px,#465efb 10.5px,#475bfa 15.5px,#4562fc 21.5px,#4368fe 39.5px,#3f6eff,#406dfe 49.5px,#327cfc 58.5px,#3a73fe 61.5px,#307ffb 65.5px,#2798ea 68.5px,#249ee6 70.5px,#259de7 71.5px,#2e86f7 73.5px,#2d88f6 74.5px,#2797ea 77.5px,#2797eb 79.5px,#259de7,#1da9e0,#0db3d3,#05bbc1,#14beb8,#01b9c8,#1babde,#1ea7e1,#04b6cc,#28c3ab 89.5px,#38c896 91.5px,#35c79a,#11beba,#1da8e0,#2b90ef,#2d87f6 96.5px,#2a93ee 99.5px,#2d8cf3 101.5px,#23a1e4,#0db3d4,#0ab4d2 104.5px,#18addb 106.5px,#02bac3,#1ac0b5,#1fc0b2,#44cb89,#42ca8b,#1da8e0,#307ffb,#2699e9,#13b1d7,#1aacdd 116.5px,#3875fe 118.5px,#317efb,#4368fd,#6b7dfb 121.5px)"></i><i style="background:linear-gradient(#7f84f6 .5px,#484ff2 1.5px,#4756f7 8.5px,#465ffb 10.5px,#475cfa 14.5px,#4465fd 23.5px,#4367fd 35.5px,#3875fe 48.5px,#3d71ff,#317dfc 54.5px,#2e84f8 58.5px,#337bfc 60.5px,#347afd,#2e85f8 66.5px,#2699e9 68.5px,#249fe6,#249de6 70.5px,#2d87f6,#2d88f6 76.5px,#259de7 78.5px,#2994ec 81.5px,#22a2e4,#01b8ca,#27c2ac,#13beb8,#19acdc,#20a5e2,#02bbc3,#32c69e,#2bc3a8 90.5px,#02bac4 92.5px,#20a5e2,#2d89f5,#2f80fa,#2f81fa,#2b91ef 97.5px,#1ea7e1,#19acdc 101.5px,#05b6ce,#07bcc0,#01b9c7,#0fb2d4,#15afd9,#1cc0b3,#2fc5a3,#2bc3a8,#6ccd69,#62cd70,#12b1d6,#2a92ee,#16afd9,#0bb3d2,#0fb2d5,#269ae8,#307ffb,#2e85f8,#416bfe,#6c7cfb 121.5px)"></i><i style="background:linear-gradient(#7f84f6 .5px,#484ff2 1.5px,#4756f6 8.5px,#475dfa 10.5px,#4367fd 22.5px,#4465fd 29.5px,#3876fe 42.5px,#3080fa 48.5px,#337bfd,#2e87f7 54.5px,#2f82fa,#2e86f7 66.5px,#2698ea 68.5px,#259be7 69.5px,#2a93ee 72.5px,#269ae8,#2b90ef,#259ce7 78.5px,#269ae9 79.5px,#2d87f7 81.5px,#2895ec,#0fb2d4,#21c1b0,#2ac3a9,#06bcc0,#08b4d1,#0bbdbc,#23c1af,#02b7ca,#1aacdd,#1da8e0 92.5px,#2d87f6 94.5px,#2e83f9,#2e87f7,#2797eb,#259ce7,#1da9e0,#04b6cd,#0bbdbd,#2ac3a9,#2cc4a6,#0bbdbd,#01b9c6,#0dbdbc,#4bcb83,#51cc7f,#33c79c,#77cc60,#62cd71,#01bac5,#15afd9,#14beb8,#09b4d1,#05b6cd,#21a4e3,#2e84f8,#2d88f6,#3f6dfe,#6c7bfa 121.5px)"></i><i style="background:linear-gradient(#7f83f5 .5px,#484ef1 1.5px,#4756f7 8.5px,#4661fc 10.5px,#4368fe 16.5px,#3776fe 21.5px,#3a74fe 29.5px,#2f80fa 34.5px,#2e84f9 38.5px,#2c90f0 40.5px,#2896eb 44.5px,#2995ec 47.5px,#259de7 54.5px,#2c90f0,#2b92ee 60.5px,#2d8af4 65.5px,#2d8df2 66.5px,#259de7,#259ce7 70.5px,#22a1e4 71.5px,#10b2d5,#19acdc,#18addb 77.5px,#249fe5 80.5px,#249fe5,#15afd9,#1ec0b2,#46cb88,#86cb55,#94ca4a,#52cc7e,#2ec4a5,#04bbc2,#19acdc,#12b1d7,#26c2ad,#2fc5a3,#03bbc3,#14b0d8,#0cb3d3,#05bbc1 97.5px,#01b9c6 99.5px,#24c1ae,#36c799,#37c897,#2ac3a9,#01b9c6,#07bcc0,#38c895,#96ca49,#76cc60,#37c897,#6dcd68,#52cc7e,#28c3aa,#30c5a2,#43ca8b,#01b8c8,#10beba,#0fb2d5,#2d8cf3,#2d89f5,#3c71ff,#6c7bfa 121.5px)"></i><i style="background:linear-gradient(#7f86f8 .5px,#4853f5 1.5px,#475cfa 8.5px,#426afe,#3677fe 10.5px,#317dfc 12.5px,#2b91ef 21.5px,#2994ed 29.5px,#20a4e3 35.5px,#21a4e3 38.5px,#15afd9 40.5px,#01b8c9 44.5px,#0ab4d2 47.5px,#01b8c8 49.5px,#05bbc1 50.5px,#01b9c6 55.5px,#15afd9 57.5px,#1babde,#249ee6 65.5px,#18addb 67.5px,#1aacdd 70.5px,#11b1d6,#03bbc2,#16bfb7,#0ebdbb,#13beb9,#2dc4a5,#31c5a1,#18bfb6,#04bbc2 79.5px,#2dc4a5 81.5px,#3ac994,#5bcc76,#98c947,#e9bb30,#fec239,#d3bf27,#77cc60,#44cb89,#39c895,#82cc58,#fec03a,#fcd030,#bec32e,#3dc990,#2ec4a4,#44cb8a,#3fca8e,#2ec4a4,#49cb85,#6ecd66,#4fcc81,#30c5a1,#0abdbe,#12beb9,#3fca8e,#83cc57,#4acb84,#1bc0b4,#3ac994,#30c5a1,#36c899,#77cc5f,#6ccd69,#04bbc2,#2ec5a4,#0fbeba,#2994ed,#2d8bf4,#3876fe,#6b7dfb 121.5px)"></i><i style="background:linear-gradient(#7e89f9 .5px,#4757f7 1.5px,#4758f8 5.5px,#4660fb 8.5px,#3f6fff,#317efb,#2f82fa 11.5px,#2c8ff1 17.5px,#2994ed 22.5px,#23a0e5,#249fe5 30.5px,#19acdc 35.5px,#1aacdd 38.5px,#0ab4d1 40.5px,#01b9c6 43.5px,#09bcbe,#0abdbd,#02bac3,#02bac5,#08bcbf 48.5px,#25c2ad 50.5px,#25c2ad 51.5px,#14beb8,#17bfb6,#05bbc1 57.5px,#02bac4 58.5px,#03b7cc 61.5px,#0bb4d2,#07b5d0 65.5px,#01b9c7,#16bfb7,#19bfb5,#08bcbf,#01b9c6,#02bac4,#16bfb7,#1dc0b3,#12beb9,#20c1b1,#44cb8a,#66cd6d,#41ca8c,#2cc4a7,#35c79a,#4bcb83,#5fcd73,#8ecb4f,#d7be28,#fdcc32,#f7dc2a,#fec03b,#f5ba3a,#fec636 89.5px,#fdcc32 91.5px,#f5e526,#f5ee21,#fec636,#afc637,#5ccc75,#67cd6d,#4ecc81,#1ec0b2,#34c79c,#7bcc5d,#88cb53,#7ccc5c,#5fcd73,#59cc78,#72cd63,#7bcc5d,#39c895,#06bcc0,#2fc5a3,#1fc0b1,#47cb87,#c5c22a,#9ac945,#1dc0b2,#5ccc75,#46cb88,#20a4e3 118.5px,#317efb 120.5px,#6b7efb 121.5px)"></i><i style="background:linear-gradient(#7e8bfa .5px,#4759f9 1.5px,#4759f9 5.5px,#4561fc 8.5px,#3d71ff,#2f81fa 10.5px,#2d89f5 12.5px,#2895ec 22.5px,#21a3e3 26.5px,#1ea7e1 32.5px,#11b1d6,#17aeda 38.5px,#06b5cf,#01b8c9 42.5px,#02bac4,#12beb9,#19bfb5,#15bfb7,#18bfb6 47.5px,#2ac3a9 49.5px,#2dc4a5 50.5px,#2ac3a9,#0ebebb,#06bcc0 56.5px,#01b9c6 61.5px,#04bbc1,#0dbdbb,#21c1b0 64.5px,#3bc992 67.5px,#3dc991,#34c79c,#31c6a0 70.5px,#38c895,#2dc4a6 74.5px,#32c69f,#5dcc75,#8ecb4f,#6ccd68,#3dca90,#42ca8b,#6acd6a,#9ec942,#dcbd29,#fec239,#f6e028,#f5ed21,#f6e028,#f5eb23,#f9fb15,#f6f01f,#fdce31,#fdce31,#f5e725,#f7dc2a,#f0ba36,#bac430,#c4c22b,#bdc32e,#8bcb51,#9ec943,#e1bc2b,#fdbd3d,#fec339,#eeba34,#bec32e,#a9c73b,#8ecb4e,#56cc7b,#20c1b1,#30c5a2,#06bcc0,#43ca8a,#d7be28,#b1c636,#30c5a2,#97ca48,#98ca47,#04b6cd,#20a4e3,#2d8af5,#6b80fc 121.5px)"></i><i style="background:linear-gradient(#7e8bfa .5px,#4759f9 1.5px,#4465fd 8.5px,#3975fe,#2e85f8 10.5px,#2d8cf3 12.5px,#259be8 23.5px,#1da8e0,#1baade,#07b5cf 35.5px,#0ab4d1 38.5px,#01b9c6,#0cbdbc,#28c3ab,#23c1af,#33c69e 48.5px,#34c79c 49.5px,#31c6a0,#09bcbe 55.5px,#01b9c7 56.5px,#01b8ca,#02bac4 60.5px,#28c3ab 63.5px,#35c79a,#55cc7c,#6bcd69 66.5px,#60cd72 68.5px,#69cd6b,#82cc58,#a3c83f,#c2c22c,#c6c22a 73.5px,#99c946 75.5px,#9ac945,#94ca4a,#65cd6e,#43ca8a,#68cd6c,#c0c32d,#e9bb30 82.5px,#f9bb3d 84.5px,#feca34,#f9d72c,#f9d72d,#f6df29,#fbd22f,#fcbc3d 90.5px,#fcd030 92.5px,#f7f61a,#f5ee21,#fec736,#eeba34,#f4ba3a,#fec239,#fdcb33,#f9bb3d,#d1bf27,#d1bf27,#ecba32,#e6bb2d,#bec32e,#9dc943,#85cb55,#94ca4a,#49cb85,#38c896,#01b8ca,#36c799,#c8c129,#c3c22b,#49cb86,#c8c129,#d7be28,#2ac3a9,#06b5ce,#2797ea,#6985fe 121.5px)"></i><i style="background:linear-gradient(#7e8bfa .5px,#475af9 1.5px,#4367fd 8.5px,#3777fe,#2e86f7 10.5px,#2698ea 16.5px,#23a0e5 24.5px,#1caadf 26.5px,#15afd9 31.5px,#07b5d0 33.5px,#01b9c6,#04bbc2 39.5px,#14bfb8,#2fc5a3 43.5px,#31c6a0,#29c3aa,#27c2ac 46.5px,#31c69f,#32c69e,#38c895,#2fc5a2,#19bfb5 56.5px,#17bfb7 57.5px,#23c1af 60.5px,#2ac3a8,#36c899 62.5px,#54cc7c,#98c947 66.5px,#8acb52,#86cb54,#b2c635,#d3bf27,#e0bc2a,#f2ba38,#f2ba38,#dcbd29,#cdc028 75.5px,#bac430 77.5px,#a3c83e,#9ac945,#ccc028,#fcbc3d,#febe3c,#e3bc2c,#dcbd29,#f7ba3c,#fdcb33,#f9d82c,#fbd22f,#dfbc2a,#d4bf28,#f3ba38,#fec03a,#f5e924,#f8f917 94.5px,#f6e028 96.5px,#fdce31 99.5px,#b5c533,#15bfb8,#15afd9,#12beb9,#5bcc76,#abc739,#c6c22a,#d6be28,#f6ba3b,#a8c73b,#4dcc82,#07bcc0,#3ac994,#b6c532,#d9bd28,#7acc5d,#eeba34,#fabb3d,#49cb86,#17bfb6,#21a3e4,#648dff 121.5px)"></i><i style="background:linear-gradient(#7e8cfb .5px,#475bfa 1.5px,#4367fd 8.5px,#3479fd,#2d89f5 10.5px,#2796eb 14.5px,#23a0e5 23.5px,#19acdc,#01b8c9 33.5px,#01b9c6,#10beba 37.5px,#12beb9 40.5px,#19bfb6 41.5px,#31c69f 43.5px,#33c79c,#2fc5a2 45.5px,#2dc4a6 49.5px,#47cb87 52.5px,#4dcc82 53.5px,#43ca8a 56.5px,#36c898,#3eca8f 60.5px,#3bc992,#51cc7f,#6fcd66,#6fcd66,#78cc5f,#98ca47 66.5px,#96ca48 68.5px,#bec32e,#ccc028 70.5px,#a1c840 72.5px,#74cc62,#61cd72,#89cb52,#aac73a,#bec32e,#cdc028,#e3bc2c,#fabb3d,#fec03b 81.5px,#fec934,#fec835,#f6f11f 87.5px,#f5ec22,#fcbd3d,#8acb51,#5bcc77,#89cb53,#f3ba39,#f5e825,#f8f719,#f5ed22,#f9d82c,#fbbc3d,#bcc42f,#35c79b,#14b0d8,#1fa5e2,#05b6ce,#5bcc77,#f2ba38,#fad52d,#f7db2a,#f9d62d,#d7be28,#64cd6e,#2fc5a3,#61cd71,#aac73a,#e8bb2f,#a6c83d,#fec239,#fec537,#66cd6d,#28c3aa,#1da9e0,#599afb 121.5px)"></i><i style="background:linear-gradient(#7e8cfb .5px,#475cfa 1.5px,#4466fd 8.5px,#3479fd,#2d8af5,#2d8df2 11.5px,#2798ea 15.5px,#1ca9df 28.5px,#11b1d6 31.5px,#01b8c8,#02bac4,#19bfb5 37.5px,#1ac0b5 41.5px,#30c5a2 43.5px,#34c79c 44.5px,#2bc3a8 48.5px,#2fc5a3 49.5px,#4fcc81 52.5px,#54cc7c 53.5px,#57cc7a 56.5px,#3eca8f,#34c79b 58.5px,#5dcc75 60.5px,#60cd73,#7ccc5c,#8fcb4e,#73cd62,#65cd6e,#82cc57,#88cb53,#7dcc5c,#94ca4a,#a2c83f,#8acb52 71.5px,#3cc992 73.5px,#4bcb83,#aec637,#e5bb2c 76.5px,#f1ba36 78.5px,#fec636,#fcd130,#fcd12f,#f5ee21,#f9fb15,#f9fb15,#f6f11e,#f6f11e,#f9fb15,#f9f916,#f5e626,#e4bb2c,#89cb52,#a3c83e,#debc2a,#fcbd3d 94.5px,#febe3c 97.5px,#f1ba37,#a0c841,#2dc4a5,#19bfb6 101.5px,#57cc7a 103.5px,#85cb55,#e3bb2c,#fec934,#fec835,#fdbd3d,#b7c532,#5ccc76,#3dc990,#80cc5a,#8ecb4f,#e4bb2c,#b1c635,#fec13a,#f7ba3c,#52cc7e,#18bfb6,#1fa6e2,#57a3f5 121.5px)"></i><i style="background:linear-gradient(#7e8dfb .5px,#465dfb 1.5px,#4564fd 5.5px,#4562fc 7.5px,#4465fd,#3479fd,#2d8af4 10.5px,#2797ea 16.5px,#2699e9 20.5px,#20a5e3 23.5px,#1babde 29.5px,#14b0d8,#01b8c9,#07bcbf,#15bfb7 37.5px,#20c1b1 41.5px,#2ec4a4 43.5px,#30c5a1 44.5px,#2ac3a9,#3cc992,#4acb85 53.5px,#48cb86 55.5px,#44cb8a,#39c895,#3ac993 58.5px,#70cd65,#9fc941 62.5px,#90ca4d,#57cc7a,#45cb89 65.5px,#94ca4a,#8ecb4e,#a9c73b 71.5px,#a5c83d,#b3c534,#eeba35,#fbd32f,#fdcb33,#e9bb30,#f7ba3c,#f5e526,#f8f719 80.5px,#f9fb15,#f9fb15 84.5px,#f6f11f,#f5ed22 86.5px,#fad52e 88.5px,#f8da2b,#febe3c,#efba35,#fccf31,#f9d82c,#febf3b,#debc2a,#e3bc2c,#fec437,#fdce31,#e0bc2a,#87cb54,#96ca48,#bcc42f,#a9c73a,#73cd63,#93ca4b,#d5be28,#f0ba36,#ddbd29,#83cc57,#3bc993,#2fc5a2,#6ccd69,#75cc61,#e9bb30,#c9c129,#febe3c,#c9c129,#35c79a,#01b9c7,#23a0e5,#54a9f1 121.5px)"></i><i style="background:linear-gradient(#7e8dfb .5px,#465dfa 1.5px,#4660fc 7.5px,#4564fd,#3677fe,#2d88f6 10.5px,#2994ed 16.5px,#2a92ee 19.5px,#23a0e5 23.5px,#1fa6e2 29.5px,#13b0d7 32.5px,#01b8ca 34.5px,#03bbc3 37.5px,#0abdbd,#20c1b1 41.5px,#26c2ac 42.5px,#25c2ae,#18bfb6,#2cc4a7 48.5px,#36c799 51.5px,#3fca8e,#43ca8b 53.5px,#34c79c 55.5px,#33c79d 56.5px,#3ac993 58.5px,#41ca8c,#53cc7d,#6bcd69,#77cc60,#59cc78,#34c79c,#2ec4a4,#49cb85,#8acb52,#afc637,#b0c636,#9fc941,#9dc943,#b0c636,#ddbd29,#fec636,#fad42e,#f1ba37,#9bc945,#b3c534,#fec438,#f5e626,#f9fa16,#f9fb15,#f9fb15,#f5ec22 84.5px,#f8f818 86.5px,#fad42e,#fec537,#f8da2b,#fec537,#f0ba36,#fec735,#fcd030,#eaba30,#aac73a,#d5be28,#f9d72d,#f8db2b,#eeba34,#f1ba36,#f8da2b,#f6de29,#f6ba3c,#88cb53,#6acd6a,#acc739,#afc637,#51cc7f,#37c898,#16bfb7,#02bac4,#39c895,#61cd71,#f4ba3a,#efba35,#febe3c,#7acc5e,#12beb9,#17aeda,#2994ed,#56a6f3 121.5px)"></i><i style="background:linear-gradient(#7f87f8 .5px,#4755f6 1.5px,#465dfa 8.5px,#416bfe,#327bfc,#3080fb 11.5px,#2e85f8,#2896eb 27.5px,#2994ed 29.5px,#259de7 33.5px,#19acdc 39.5px,#01b8c9 42.5px,#01b7ca 43.5px,#14b0d8 45.5px,#14b0d8 46.5px,#05b6ce,#01b8c9 50.5px,#02bac3,#0dbdbc,#0bbdbd,#01b9c6,#05b6ce 55.5px,#01b8c9,#02b7cb 59.5px,#06bcc0,#1dc0b3,#22c1af 62.5px,#01b9c7 64.5px,#07b5d0,#01b8c8,#25c2ad,#48cb86,#6bcd69,#62cd71,#42ca8b,#31c6a0,#36c799,#6bcd69,#92ca4c,#5ecc74,#32c69f,#3bc993,#6fcd66,#9dc943,#d6be28,#ecba33,#ddbd29,#e9bb30,#f9d72c,#f5e626,#fec835,#fcd12f,#f5e227,#f9bb3d,#95ca49,#66cd6d,#6acd6a,#3fca8e,#2ec4a4,#89cb53,#fec03b,#fdbd3d,#cbc129,#eeba34,#fad42e,#fcd12f,#dfbc2a,#61cd71,#3cc991,#6bcd69,#71cd64,#28c3ab,#01b9c6 109.5px,#1ea7e1 111.5px,#03b7cc,#2dc4a5,#b7c532,#d1bf27,#c4c22b,#19bfb5,#1fa6e2 118.5px,#317efb 120.5px,#5c95fd 121.5px)"></i><i style="background:linear-gradient(#7f81f3 .5px,#484cef 1.5px,#484ff2 8.5px,#475bfa 11.5px,#4564fd 33.5px,#3e6fff 39.5px,#327cfc 42.5px,#3c72ff 46.5px,#327bfc,#317dfc 52.5px,#3876fe 59.5px,#2e87f7 62.5px,#307ffb 66.5px,#2797eb 68.5px,#249de6,#259ce7 70.5px,#2e87f7 72.5px,#2d88f6,#2698ea,#21a3e3 75.5px,#2a92ee 77.5px,#2b92ef 78.5px,#22a1e4 80.5px,#19addc,#11b1d6,#13b0d7,#02b7cb,#22c1b0,#28c2ab,#1fc0b2,#32c69f,#34c79c,#05bbc1,#1baade,#22a2e4,#20a4e3 93.5px,#2b92ee 95.5px,#1aacdd,#15bfb7,#07bcbf,#11b1d6,#08b4d1,#06bcc0,#14bfb8,#02bac4,#1babde,#21a3e3,#1ca9df,#1ea7e1 107.5px,#2c8ef1 109.5px,#2d89f5,#3479fd,#2f81fa,#2995ec,#13b0d7,#01b8c9,#0fb2d5,#2e84f9,#416bfe 118.5px,#475bf9 120.5px,#6c78f9 121.5px)"></i><i style="background:linear-gradient(#7e78ea .5px,#463ee1 1.5px,#463de0 7.5px,#4747eb 17.5px,#4742e6 29.5px,#484cef 42.5px,#4848ec 46.5px,#484ef1 49.5px,#4848ec 53.5px,#4849ed 60.5px,#4852f4,#4851f3 66.5px,#475af9 68.5px,#4851f4 73.5px,#4562fc 75.5px,#4755f6 78.5px,#4755f6 79.5px,#4562fc 83.5px,#3677fe 85.5px,#337afd 86.5px,#3678fe,#4564fd 90.5px,#4465fd 93.5px,#475af9,#3a73fe,#4464fd 99.5px,#4562fc,#4464fd 101.5px,#3678fe,#406dfe 105.5px,#4368fe,#4755f6 111.5px,#4756f7 112.5px,#3f6efe 115.5px,#4465fd,#484ef1,#4745e9 118.5px,#4740e3 120.5px,#6b64e6 121.5px)"></i><i style="background:linear-gradient(#7c72df .5px,#4536d2 1.5px,#4434cf 4.5px,#4434ce 11.5px,#4539d9 17.5px,#4537d6 22.5px,#4538d8 26.5px,#4536d3 28.5px,#4536d3,#43c 36.5px,#4536d3 42.5px,#4536d4 49.5px,#4331c7 54.5px,#4332ca,#4331c6 60.5px,#4435d1 62.5px,#463adb,#4538d7 72.5px,#463de0 75.5px,#4433cd 80.5px,#4744e8 86.5px,#4639da 90.5px,#463ee1 92.5px,#463adc 95.5px,#473fe2 97.5px,#4538d8 101.5px,#4746ea 103.5px,#4747eb,#4746ea 109.5px,#463de0 111.5px,#4743e7,#4538d7,#43c 120.5px,#695bd4 121.5px)"></i><i style="background:linear-gradient(#7d75e5 .5px,#4639d9 1.5px,#4536d4 4.5px,#4537d6 11.5px,#4740e4 16.5px,#4742e6 20.5px,#463cde 28.5px,#463de0 31.5px,#4536d4 37.5px,#463bdd 48.5px,#4330c5 55.5px,#4332c9 59.5px,#4639d9 62.5px,#4538d8 64.5px,#463ee1 67.5px,#473ee2 75.5px,#463adc 78.5px,#4535d2 80.5px,#4744e8 86.5px,#463bdd 89.5px,#463de0 94.5px,#4639da 96.5px,#4538d8 101.5px,#473fe3 103.5px,#463de0 104.5px,#4747eb 106.5px,#4745e9 107.5px,#484bee,#4743e7,#484bee 113.5px,#484aed 114.5px,#4537d5 120.5px,#6a5edb 121.5px)"></i><i style="background:linear-gradient(#7e7aec .5px,#473fe2 1.5px,#463ada 4.5px,#4741e5 10.5px,#4853f5 15.5px,#475cfa 19.5px,#4849ed 28.5px,#4741e4 36.5px,#4740e3 42.5px,#4747eb,#4849ed 48.5px,#463de0 53.5px,#4537d6 55.5px,#463cde 59.5px,#4847ec 62.5px,#4746ea 64.5px,#4854f6 71.5px,#4741e5 80.5px,#484ef1 86.5px,#4747eb 89.5px,#4849ed 94.5px,#4742e6 104.5px,#484ef1 106.5px,#4759f8 109.5px,#4854f5,#465efb 113.5px,#4852f4 117.5px,#4741e5 120.5px,#6b64e6 121.5px)"></i><i style="background:linear-gradient(#7e7aec .5px,#463ee1 1.5px,#4538d8 4.5px,#4745e9 10.5px,#475bf9 15.5px,#4367fd 18.5px,#426afe 20.5px,#465ffb,#484ef1,#4848ec 32.5px,#484cef 39.5px,#4848ec 42.5px,#484ff2 47.5px,#4742e6 56.5px,#484ef1 64.5px,#4660fc 70.5px,#4660fb 71.5px,#484aee 76.5px,#484bef,#4745e9 80.5px,#4850f2 85.5px,#484ff2 93.5px,#4755f6 100.5px,#4848ec 104.5px,#4849ed,#4852f4 106.5px,#475af9 108.5px,#4759f8 111.5px,#4466fd 113.5px,#475af9 117.5px,#4745e9 120.5px,#6b65e8 121.5px)"></i><i style="background:linear-gradient(#7d74e5 .5px,#4538d7 1.5px,#4434cf 4.5px,#4536d2 6.5px,#4747eb 13.5px,#4759f8 21.5px,#4746ea 27.5px,#4740e3 31.5px,#4848ec 39.5px,#4744e8 42.5px,#4848ec 46.5px,#473fe3 51.5px,#4744e8 54.5px,#4740e4,#4744e8 64.5px,#4852f4 70.5px,#4742e6 75.5px,#4743e7 78.5px,#463de0 80.5px,#4743e8,#4744e8 86.5px,#484ef1 90.5px,#484bef,#4852f4 96.5px,#484ef1,#4755f6 100.5px,#4755f6 101.5px,#4848ec,#4743e7,#4851f3 107.5px,#484bef 111.5px,#4758f8,#4850f2,#484ff2 117.5px,#463bde 120.5px,#6a5fde 121.5px)"></i><i style="background:linear-gradient(#7c70db .5px,#43c 1.5px,#4331c7 5.5px,#4332ca 7.5px,#4539d9 11.5px,#463adb 17.5px,#473fe3 22.5px,#4536d3 29.5px,#463bdd 40.5px,#4539d8 42.5px,#463adc 46.5px,#4435d0 51.5px,#463ada 54.5px,#4536d4 59.5px,#4639d9 62.5px,#4536d5 64.5px,#4538d7 68.5px,#463de0 71.5px,#4435d1 76.5px,#4639da,#4435d0 80.5px,#4539d9 83.5px,#4536d3 85.5px,#4745e9 90.5px,#4740e4 93.5px,#4744e8,#463de0 97.5px,#4848ec 100.5px,#4848ec 101.5px,#463bde,#4538d8,#4743e7 107.5px,#4745e9 108.5px,#463cdf 111.5px,#4746eb,#463adc,#4742e6 117.5px,#4332cb 120.5px,#685ad1 121.5px)"></i><i style="background:linear-gradient(#7b6ed7 .5px,#4330c5 1.5px,#4230c4 6.5px,#4433cd 10.5px,#4331c8 19.5px,#4433cd 23.5px,#4331c6 30.5px,#4434ce 40.5px,#4434ce,#4331c8 50.5px,#4434cf 54.5px,#4331c7 59.5px,#4434cf 62.5px,#4330c5 68.5px,#4535d2 71.5px,#4332c8 73.5px,#4230c4 76.5px,#4536d2 78.5px,#4331c7 81.5px,#4535d2,#4331c7,#4537d5 87.5px,#473ee1 90.5px,#463adc 92.5px,#463cde 95.5px,#4433cd 97.5px,#4434cf,#463adb,#463de0,#463ee1 101.5px,#4433cb 104.5px,#4332ca,#4433cd 106.5px,#463adc 108.5px,#4538d7 111.5px,#463ee1,#4434ce,#4741e5,#43c 119.5px,#4230c4,#6859ce 121.5px)"></i><i style="background:linear-gradient(#7b6fd8 .5px,#4331c7 1.5px,#422fc2,#4332ca 11.5px,#4331c8 17.5px,#422fc2 19.5px,#4332c9 24.5px,#422fc2 31.5px,#4433cd,#4331c8 57.5px,#422fc1,#4433cd,#4331c6 66.5px,#4433cd 71.5px,#422fc1 75.5px,#422fc2 76.5px,#4538d7 78.5px,#4537d6 79.5px,#4331c8,#4537d6,#4331c8,#4537d7 87.5px,#463cdf,#463cdf 93.5px,#463adc 95.5px,#4433cd,#4331c6,#4331c7 98.5px,#4639d9 101.5px,#4538d8 102.5px,#4331c7 104.5px,#4330c5,#4331c7 106.5px,#4537d5 108.5px,#4535d2 112.5px,#463adb 113.5px,#4434cf,#4744e8 117.5px,#463de0,#4434ce,#4331c6,#695bd4 121.5px)"></i><i style="background:linear-gradient(#7c70db .5px,#4432cb 1.5px,#43c 3.5px,#4330c5 6.5px,#4332ca 11.5px,#4331c6 19.5px,#43c 23.5px,#422fc3 32.5px,#4434ce 39.5px,#4332c9 51.5px,#4434cf 57.5px,#422fc2,#4433cd,#4331c7,#4433cd,#4432cb,#422fc1 75.5px,#422fc3 76.5px,#4639d9 78.5px,#4639da 79.5px,#4434ce,#4639da,#43c 85.5px,#463cde 88.5px,#463bdc 90.5px,#473fe3 93.5px,#463bdd,#4332ca 97.5px,#4331c7 98.5px,#4538d8 102.5px,#4538d8 103.5px,#4332ca 105.5px,#4537d7 109.5px,#4332c8 112.5px,#4536d3,#4537d6,#4435d1 115.5px,#4742e6 117.5px,#463ddf,#4434cf,#4331c7,#695cd6 121.5px)"></i><i style="background:linear-gradient(#7c70db .5px,#4433cd 1.5px,#4435d0 3.5px,#4332c9 13.5px,#4536d3 24.5px,#4331c6 32.5px,#4535d2 39.5px,#4332c9 51.5px,#43c 55.5px,#4535d2 57.5px,#4332c9,#4435d0,#4432cb,#4536d3 69.5px,#4230c4 76.5px,#4537d6 78.5px,#4435d1 81.5px,#463bdd,#4536d3 85.5px,#473fe2 88.5px,#463adb,#4743e8 92.5px,#4434ce 99.5px,#473fe3 103.5px,#463de0,#4537d6 105.5px,#463adb 109.5px,#4538d8 110.5px,#4331c8,#4539d9 114.5px,#4435d2 115.5px,#4740e3 117.5px,#4433cd 120.5px,#695bd5 121.5px)"></i><i style="background:linear-gradient(#7c70db .5px,#4434ce 1.5px,#4536d3 3.5px,#4434ce 7.5px,#4434cf 14.5px,#4539d9 24.5px,#4434ce,#4433cb 32.5px,#4434cf 37.5px,#4537d6 40.5px,#43c 55.5px,#4536d3 57.5px,#4434cf 60.5px,#4537d6 64.5px,#4435d1,#4639da 68.5px,#4434cf,#4435d1 74.5px,#4433cd,#4537d5,#4434ce 80.5px,#4435d1 81.5px,#463de0,#4539d9 85.5px,#463ee1 88.5px,#4538d8,#4745e9 92.5px,#463bdd 97.5px,#4536d2,#4434d0 99.5px,#463ee1 102.5px,#4746ea,#4848ec 104.5px,#463cde 106.5px,#463cde 110.5px,#4433cd 112.5px,#4434cf,#4539d8,#4435d2,#4536d3,#463cde 117.5px,#4536d3 120.5px,#695cd7 121.5px)"></i><i style="background:linear-gradient(#7c70db .5px,#43c 1.5px,#4537d6,#4433cd 7.5px,#4435d1 18.5px,#4538d8 20.5px,#4536d3 26.5px,#4433cd 28.5px,#43c 33.5px,#4537d5 42.5px,#43c 55.5px,#4536d3 58.5px,#4536d3 64.5px,#4434cf,#4639da 68.5px,#4434cf 71.5px,#4538d8 78.5px,#4434cf 80.5px,#4435d0 81.5px,#463cde,#4536d3 85.5px,#4639d9 88.5px,#4537d6,#4743e7,#463bdd 94.5px,#463adb 97.5px,#4435d0,#43c 99.5px,#463cdf 101.5px,#463cdf,#4746ea,#484bef 104.5px,#473ee1 106.5px,#473ee2 110.5px,#4434cf 112.5px,#4433cd,#4435d1,#4434ce,#4434cf,#4538d7 117.5px,#4536d3 120.5px,#6a5dd9 121.5px)"></i><i style="background:linear-gradient(#7c6fd9 .5px,#4332c8 1.5px,#4536d3 4.5px,#43c 6.5px,#4332ca 10.5px,#4332c9 17.5px,#4434d0 20.5px,#4331c8 24.5px,#4434ce 30.5px,#4332c9,#4435d0,#43c 39.5px,#4535d2 43.5px,#43c 46.5px,#4332ca 55.5px,#4434d0 57.5px,#4435d0 62.5px,#4332c8 66.5px,#4536d2 68.5px,#4332ca 71.5px,#4639d9 77.5px,#4434d0 81.5px,#463ada,#4332ca,#4536d3,#4536d3 89.5px,#463ee1 92.5px,#4537d5,#4538d7,#4332ca 98.5px,#4332cb,#4538d7,#463adc,#4537d6 102.5px,#4747eb,#463cde 106.5px,#463bdc,#473ee1 108.5px,#4740e3 110.5px,#463cdf,#4434ce,#4332c9 113.5px,#4435d2 117.5px,#4433cd 119.5px,#4435d0,#6a5edb 121.5px)"></i><i style="background:linear-gradient(#7b6fd7 .5px,#4331c6 1.5px,#43c 4.5px,#4330c5 11.5px,#422fc2 23.5px,#4332cb 27.5px,#4332ca 33.5px,#4434d0,#4330c5 39.5px,#4433cd 44.5px,#4331c7 50.5px,#4331c7 55.5px,#4433cd 58.5px,#4433cb 62.5px,#4230c3,#4434ce 68.5px,#4331c8 70.5px,#4331c8 73.5px,#4639da 78.5px,#4433cb 81.5px,#4535d2,#4330c5,#4435d1,#4433cd,#4639da,#4537d6 93.5px,#4433cb 94.5px,#4434cf,#4332c9 98.5px,#4434ce,#463adc,#4539d9,#4434ce,#463cde,#4743e7 104.5px,#4538d8 106.5px,#4537d5 107.5px,#4740e4 110.5px,#473fe3,#4435d1,#4332c8 113.5px,#4434ce 117.5px,#4332c9 119.5px,#4433cd,#695dd9 121.5px)"></i><i style="background:linear-gradient(#7b6ed7 .5px,#4331c7 1.5px,#4230c4 7.5px,#4332c8 15.5px,#422ebf 19.5px,#4331c8 25.5px,#4330c5,#43c,#422fc0 40.5px,#4432cb 44.5px,#4331c8 55.5px,#4434ce,#4434cf,#422fc2 64.5px,#4433cd 68.5px,#422fc2,#463bdd 78.5px,#4639d9 79.5px,#4331c6 81.5px,#4330c5,#4332ca 83.5px,#4331c8 85.5px,#4435d2,#4537d5,#4433cd,#43c,#4536d4 90.5px,#4536d3,#4331c7,#4433cd,#4332ca 98.5px,#4435d1,#463de0 100.5px,#4435d0,#4742e6 104.5px,#4536d2 107.5px,#4742e6 111.5px,#4433cd 113.5px,#4433cb 119.5px,#4433cd,#695cd7 121.5px)"></i><i style="background:linear-gradient(#7b6ed6 .5px,#4330c5 1.5px,#4331c7 7.5px,#4433cd 10.5px,#43c,#422fc1 18.5px,#4331c6 23.5px,#4230c4 31.5px,#4332c9 36.5px,#422fc0 40.5px,#4434ce 45.5px,#4332c9 53.5px,#4434cf 58.5px,#4433cd 62.5px,#4230c3 64.5px,#43c 69.5px,#4330c5 73.5px,#463ddf 78.5px,#463bdd 79.5px,#4332c9 81.5px,#4331c7 82.5px,#4332c9,#463adb 86.5px,#463ada,#4435d0,#4434ce,#4435d2 90.5px,#4434cf 93.5px,#4331c7,#4434cf,#4435d1 96.5px,#4332cb,#463adc,#4536d3,#4743e8 104.5px,#4538d7 107.5px,#463adb,#4741e5,#4539d9 113.5px,#4434cf 116.5px,#4434cf 120.5px,#695bd5 121.5px)"></i><i style="background:linear-gradient(#7b6ed6 .5px,#4330c4 1.5px,#43c,#4331c7 7.5px,#4433cd 13.5px,#4330c4 18.5px,#4433cb 22.5px,#4230c3,#4331c7,#422fc2 31.5px,#4332ca 37.5px,#4331c7 42.5px,#4535d2 48.5px,#4332c8 60.5px,#4434ce 62.5px,#4332c9 65.5px,#4434ce 69.5px,#4332c9 72.5px,#4433cd 74.5px,#463de0 78.5px,#463cdf 79.5px,#4434d0 81.5px,#4434ce 84.5px,#473fe2 86.5px,#463cdf,#4536d4,#4434cf 89.5px,#4433cb,#4536d4 93.5px,#4535d2 94.5px,#4538d8,#4332ca,#4434ce 100.5px,#43c,#4435d1,#463de0,#4745e9 104.5px,#463adb 108.5px,#473ee1 111.5px,#463ee0 113.5px,#463cdf 114.5px,#4435d2,#4538d7,#4434cf 120.5px,#695bd4 121.5px)"></i><i style="background:linear-gradient(#7b6fd8 .5px,#4330c5 1.5px,#4433cd 5.5px,#4332c9 8.5px,#43c,#4330c5 18.5px,#4434ce 22.5px,#4331c7,#4332c9 28.5px,#4330c5 30.5px,#4434cf 38.5px,#43c 43.5px,#4435d1 50.5px,#4332ca,#4536d3 62.5px,#4434ce 72.5px,#4435d1 74.5px,#463de0 79.5px,#4537d5,#4435d0 83.5px,#4741e5,#4435d0 89.5px,#4536d4 90.5px,#4435d1 92.5px,#4639da 93.5px,#463cdf,#4538d7 97.5px,#4433cb 98.5px,#4332c9 101.5px,#4434cf,#463de0,#4745e9,#4745e9 105.5px,#463cdf,#4740e4 113.5px,#463de0,#4537d5,#4536d3 116.5px,#463cde,#4435d1 120.5px,#695cd6 121.5px)"></i><i style="background:linear-gradient(#7c70da .5px,#4332c9 1.5px,#4332c8 10.5px,#4434ce 13.5px,#4434cf 22.5px,#4332c9,#4332ca 30.5px,#4537d5 38.5px,#4434ce,#4434ce 56.5px,#4639da 62.5px,#4536d3 65.5px,#4536d3 74.5px,#4538d8 77.5px,#463cde 78.5px,#4537d5 83.5px,#4742e6 85.5px,#4744e8 86.5px,#4537d6 88.5px,#4537d6,#463adb 90.5px,#4538d7 92.5px,#463cde 95.5px,#4538d7 97.5px,#43c 98.5px,#4332c9 100.5px,#4332c9,#4435d0,#463ee1,#4744e8 104.5px,#4740e3 106.5px,#4743e7 113.5px,#473fe3,#4537d6,#4537d6 116.5px,#473ee2,#4536d4 120.5px,#695cd7 121.5px)"></i><i style="background:linear-gradient(#7c70da .5px,#4332ca 1.5px,#4332c8 5.5px,#4332c9 10.5px,#4434cf 13.5px,#4332c9 26.5px,#4434cf 28.5px,#4434ce 32.5px,#4537d6 38.5px,#4332ca 50.5px,#4435d0 56.5px,#4538d7,#4538d7,#463bdc 62.5px,#4535d2,#4536d3 76.5px,#463bdd 78.5px,#4538d7 83.5px,#4743e7 85.5px,#4742e6 86.5px,#4536d4,#463cdf 90.5px,#463cde 91.5px,#4332cb 100.5px,#43c 101.5px,#463ee1 103.5px,#4740e4 104.5px,#463adc,#4742e6,#4744e8 110.5px,#463ee1 114.5px,#4538d8,#4538d7,#463de0,#463de0 118.5px,#4537d6 120.5px,#695cd7 121.5px)"></i><i style="background:linear-gradient(#7c6fd9 .5px,#4331c7 1.5px,#4433cd,#4332c8 25.5px,#4434cf 29.5px,#4433cb 32.5px,#4536d4 41.5px,#43c,#4332ca 51.5px,#4434cf 53.5px,#4433cd 56.5px,#4536d4,#4435d1 60.5px,#4538d8,#4433cd,#43c 69.5px,#4537d6 74.5px,#4435d1,#463adb 78.5px,#4537d5 82.5px,#4741e5 85.5px,#473fe2 86.5px,#4536d3 88.5px,#463ddf 91.5px,#4434cf 96.5px,#4434ce 100.5px,#463bdd 102.5px,#463cde 103.5px,#4536d4 105.5px,#4537d6,#4740e4,#4742e6 108.5px,#4741e4,#4539d8,#463ada 114.5px,#4536d4,#4537d6,#463ddf 117.5px,#4536d3 120.5px,#695bd5 121.5px)"></i><i style="background:linear-gradient(#7b6fd7 .5px,#4230c4,#4230c3 2.5px,#4433cb 13.5px,#4230c3 21.5px,#4332ca,#4331c8 31.5px,#4434ce 34.5px,#4433cd 42.5px,#4331c7 46.5px,#43c 53.5px,#4331c7 56.5px,#4434d0 63.5px,#4331c6 66.5px,#4536d3 74.5px,#4332ca,#4537d5 78.5px,#4434cf 82.5px,#463cdf 84.5px,#473fe2,#473ee2 86.5px,#4538d7 88.5px,#463cde 92.5px,#4537d7 93.5px,#4536d2 95.5px,#4332c9,#4332c9 97.5px,#4433cb 99.5px,#463bdd,#4433cd 105.5px,#4536d3,#4741e5,#4741e4,#4539d9,#463adb 110.5px,#4434ce,#4536d4,#4535d2 116.5px,#463bdd 117.5px,#4434ce 120.5px,#685ad1 121.5px)"></i><i style="background:linear-gradient(#7b6fd8 .5px,#4331c6 1.5px,#4230c3 5.5px,#4331c8 14.5px,#422fc2 22.5px,#43c,#4330c5 28.5px,#4433cb 33.5px,#4331c7 37.5px,#4332cb 39.5px,#4230c3 44.5px,#4332cb 50.5px,#4331c6 55.5px,#4332cb 58.5px,#4331c6 60.5px,#4332cb 63.5px,#4230c4 65.5px,#4433cd 68.5px,#4332c9 69.5px,#4536d3 72.5px,#4230c4 76.5px,#4535d2,#4332c9 82.5px,#463cdf 86.5px,#4537d6 89.5px,#4538d7 93.5px,#463bdc,#4539d9,#4332c9,#4230c3 97.5px,#4332c8,#4639da 101.5px,#463bde 102.5px,#4433cb 104.5px,#4332ca,#4434cf,#473fe3,#463ee1,#4434ce,#4435d1 110.5px,#4332c9,#4537d6,#4536d4 116.5px,#463cde,#463cde 118.5px,#4434cf 120.5px,#695ad2 121.5px)"></i><i style="background:linear-gradient(#7b6fd8 .5px,#4331c6 1.5px,#4230c3 5.5px,#4331c6 22.5px,#4433cb 25.5px,#4230c3 36.5px,#4332ca,#4330c5 42.5px,#4332ca 50.5px,#4330c5 65.5px,#4332cb,#4332c9 69.5px,#4535d2 72.5px,#4331c7,#422fc2 76.5px,#4434ce,#4331c7 82.5px,#463adb 86.5px,#4536d4,#4538d7 92.5px,#4741e4 94.5px,#463ee0,#4434ce,#422fc2 97.5px,#4331c7,#463cde 101.5px,#463ee1,#4639da,#43c,#4332c9,#4434cf,#463de0,#463cdf,#4434cd 109.5px,#4538d7 114.5px,#4536d4 116.5px,#463cde 117.5px,#463adb 119.5px,#4536d4,#695dd8 121.5px)"></i><i style="background:linear-gradient(#7b6fd8 .5px,#4331c6 1.5px,#4433cb 6.5px,#4230c4 9.5px,#4230c3 13.5px,#4332c9 21.5px,#4330c5 36.5px,#43c 42.5px,#4330c5 65.5px,#4435d1 71.5px,#4435d1 72.5px,#4330c5 74.5px,#4433cb 80.5px,#4331c6 81.5px,#4537d7 86.5px,#4434d0 89.5px,#4537d6 90.5px,#4538d7,#4744e8 94.5px,#4741e5 95.5px,#4332ca 97.5px,#4332c8,#4332c9 99.5px,#463ddf 101.5px,#473fe2,#463bdc,#4433cd,#4332ca 105.5px,#463cde 107.5px,#463adc,#4433cd 109.5px,#463bdd 112.5px,#4435d0 116.5px,#4639d9 117.5px,#4538d8 120.5px,#6a60df 121.5px)"></i><i style="background:linear-gradient(#7b6fd7 .5px,#4331c6,#4331c5 2.5px,#4434ce 6.5px,#4331c7 17.5px,#4433cd 26.5px,#4331c6 30.5px,#4434cd,#4433cb 36.5px,#4435d1 42.5px,#43c,#4434cf 48.5px,#4432cb 60.5px,#4330c5 64.5px,#4434ce,#4433cd 70.5px,#4435d0,#43c 74.5px,#4434ce 77.5px,#4331c6 81.5px,#4535d2 86.5px,#43c,#4639d9,#4538d8,#4745e9 94.5px,#4744e8 95.5px,#4537d6 97.5px,#4536d4,#4536d3 99.5px,#463cde 101.5px,#463bdd,#4538d8,#43c,#4433cd 105.5px,#463bdd 107.5px,#463adb,#4434ce,#4435d1,#463cde,#473fe3 112.5px,#4536d3,#4434cf 116.5px,#4537d5,#4435d2 118.5px,#463adb 120.5px,#6b61e1 121.5px)"></i><i style="background:linear-gradient(#7b6fd7 .5px,#4331c6 1.5px,#4330c5 3.5px,#4434d0 10.5px,#43c 20.5px,#4435d2,#4331c8 30.5px,#4435d0 34.5px,#4433cb 45.5px,#4536d3 48.5px,#43c 63.5px,#4536d4 67.5px,#4435d0 70.5px,#4537d6 77.5px,#4332c9,#4331c8 81.5px,#4434cf 85.5px,#4433cd 88.5px,#463bdd,#4639da,#4745e9 94.5px,#463de0,#463cdf 100.5px,#43c 104.5px,#463adb 107.5px,#4539d9,#4434cf,#4536d4,#473fe2,#4743e7 112.5px,#4536d4 114.5px,#4435d1 118.5px,#4639da 120.5px,#6a60df 121.5px)"></i><i style="background:linear-gradient(#7b6ed6 .5px,#4330c5 1.5px,#4230c3,#4230c4,#4433cd 10.5px,#4332ca 12.5px,#4434cf 15.5px,#4331c8 21.5px,#4435d1 24.5px,#4332c9 30.5px,#4535d2 34.5px,#4332c9 45.5px,#4435d1,#4435d1 51.5px,#4433cb,#4536d3 59.5px,#4435d0 62.5px,#4538d7 66.5px,#4435d0 73.5px,#4538d7 76.5px,#4537d6 77.5px,#4332c8 79.5px,#4435d0 85.5px,#4434cf 88.5px,#4539d9,#4539d9,#4741e5,#463cdf,#4742e6 98.5px,#4433cd 104.5px,#4639da 107.5px,#4536d4,#4743e7 111.5px,#4745ea 112.5px,#4536d4 114.5px,#4435d1 115.5px,#4539d9 117.5px,#4536d4 118.5px,#4538d7 120.5px,#6a5dda 121.5px)"></i><i style="background:linear-gradient(#7b6dd4 .5px,#422fc2 1.5px,#43c 18.5px,#4331c7,#43c 24.5px,#4332c9 30.5px,#4434ce 39.5px,#4331c7,#4434cf 51.5px,#4331c7 55.5px,#4536d4 60.5px,#4434cf 62.5px,#4537d6 69.5px,#4332c8 73.5px,#4537d6,#4435d2 77.5px,#4332c9,#4331c6,#43c 80.5px,#4331c6 84.5px,#4332ca 85.5px,#4332ca 88.5px,#4536d5 92.5px,#463adc 93.5px,#4537d5 96.5px,#4740e4,#463bdd,#4433cd,#4332ca 104.5px,#4433cd,#4538d8 106.5px,#4537d7 109.5px,#4742e6 111.5px,#4745e9,#4741e4,#4537d6,#4435d1 115.5px,#473ee1 117.5px,#4538d8 118.5px,#4435d0 120.5px,#695ad2 121.5px)"></i><i style="background:linear-gradient(#7b6dd4 .5px,#422fc1 1.5px,#4331c7 4.5px,#4332ca 10.5px,#4330c4 13.5px,#43c 18.5px,#4331c7 21.5px,#4330c5 35.5px,#4332c9 39.5px,#4230c3 46.5px,#4433cd 51.5px,#4230c4 54.5px,#4435d0 59.5px,#4330c5 65.5px,#4536d3 69.5px,#422fc2 72.5px,#422fc3 73.5px,#4536d3 75.5px,#4230c3 79.5px,#4332ca,#4332c9 81.5px,#422fc0 84.5px,#4331c7 90.5px,#4536d4,#4434ce 96.5px,#463de0 98.5px,#463de0 99.5px,#4539d9 101.5px,#4332c9 102.5px,#4230c3 104.5px,#4331c8,#4536d4 106.5px,#4535d2 109.5px,#463de0 111.5px,#473fe3,#463ee1 113.5px,#4433cd,#463de0,#4434ce 119.5px,#4433cb,#6859cf 121.5px)"></i><i style="background:linear-gradient(#7b6ed4 .5px,#422fc2 1.5px,#4332c9 5.5px,#422fc1,#4330c5 11.5px,#422fc1 13.5px,#4433cb 17.5px,#4330c5 23.5px,#4433cd 27.5px,#4331c6 30.5px,#4230c3 35.5px,#422fc2 46.5px,#4433cd,#422fc1 54.5px,#43c 59.5px,#4331c8 63.5px,#422fc1 65.5px,#4435d1 69.5px,#422fc1 72.5px,#422fc2 73.5px,#4435d2 75.5px,#4435d0 76.5px,#422fc3 78.5px,#4331c8,#422ebf 84.5px,#4331c7 86.5px,#422ec0 90.5px,#422fc1 91.5px,#43c 93.5px,#4434cd 96.5px,#4639da,#463bde 100.5px,#4538d8,#4331c7,#4230c3,#4230c3 104.5px,#4435d1 106.5px,#43c 109.5px,#4639da,#463ada,#4433cb,#4538d8,#4332c9 119.5px,#4332c9,#6859cf 121.5px)"></i><i style="background:linear-gradient(#7b6ed4 .5px,#422fc1 1.5px,#4331c6 4.5px,#422ebf 9.5px,#4331c7 16.5px,#422fc1 20.5px,#43c 26.5px,#422fc1,#4331c8 42.5px,#422fc1,#43c 50.5px,#422fc2 55.5px,#4331c8 59.5px,#4230c3 65.5px,#43c 69.5px,#422fc2 72.5px,#4230c4 73.5px,#4536d3 75.5px,#4230c3 78.5px,#4433cd 80.5px,#43c 81.5px,#422ec0 83.5px,#422fc1 84.5px,#4435d0 86.5px,#422ebf 91.5px,#463ada 100.5px,#4536d4,#4331c7 102.5px,#4331c6,#4434cd,#4330c4 108.5px,#4331c6,#4435d0,#4536d4,#4433cd 112.5px,#4435d0 114.5px,#4331c6 120.5px,#6859cf 121.5px)"></i><i style="background:linear-gradient(#7b6ed4 .5px,#422fc0 1.5px,#4230c3 9.5px,#4332ca,#422fc2 19.5px,#4332ca 26.5px,#4230c3 35.5px,#4332c9 41.5px,#422fc1 45.5px,#4332ca,#4230c4,#4432cb 60.5px,#4330c5 64.5px,#4432cb 67.5px,#4331c6 73.5px,#4435d1 75.5px,#4434cf 76.5px,#422fc2 78.5px,#4330c5,#4434cf,#4435d1 81.5px,#422fc2 83.5px,#4230c4 84.5px,#4538d8 86.5px,#4331c6,#4331c6 94.5px,#4536d4 96.5px,#4537d6,#4432cb 102.5px,#4535d2 103.5px,#4435d0 106.5px,#4230c4 108.5px,#4330c5,#4434cf,#4434cf,#4230c4 112.5px,#4432cb 115.5px,#422fc2 117.5px,#4230c3 120.5px,#685ad0 121.5px)"></i><i style="background:linear-gradient(#7b6dd4 .5px,#422fc1 1.5px,#4332c9 7.5px,#4330c5 11.5px,#4332c9,#422fc2 17.5px,#4332c9 26.5px,#4230c3 36.5px,#4331c8,#422ebf 44.5px,#4332cb 51.5px,#4230c4 59.5px,#4433cb,#4230c4 65.5px,#4332c9 66.5px,#4330c5 69.5px,#43c 75.5px,#4230c3 78.5px,#4330c5,#4434ce,#4435d1 81.5px,#422fc0 83.5px,#422fc2 84.5px,#4538d8 86.5px,#4332c8 94.5px,#4639d9 96.5px,#4434cf 101.5px,#4536d3,#463cde,#463cdf 104.5px,#4331c7 108.5px,#4332c9,#4435d1,#4435d0,#4331c6 112.5px,#43c 115.5px,#422fc1,#422ec0 119.5px,#422fc1,#685ad1 121.5px)"></i><i style="background:linear-gradient(#7b6ed5 .5px,#422fc2 1.5px,#43c 7.5px,#4330c5 12.5px,#4332c9 15.5px,#4230c4 17.5px,#4332cb 39.5px,#4230c3 43.5px,#4434ce 50.5px,#4331c7,#4332ca,#4230c4,#4434cd,#4331c8 65.5px,#43c 66.5px,#4332c9,#4535d2 72.5px,#43c 79.5px,#4536d4,#4331c7 83.5px,#4331c8 84.5px,#463ada 86.5px,#463adc,#4539d8,#4434cf 89.5px,#4433cd 93.5px,#463adb 96.5px,#4537d6 97.5px,#4539d8,#4536d3,#4741e5 103.5px,#4742e6 104.5px,#4434ce 108.5px,#4538d8 110.5px,#4538d7,#4435d1 112.5px,#4435d1,#4330c5 118.5px,#4330c5 120.5px,#695bd3 121.5px)"></i><i style="background:linear-gradient(#7c6fd9 .5px,#4332ca 1.5px,#4536d4 10.5px,#4332c9 17.5px,#4435d0 27.5px,#4433cb 30.5px,#4435d1 40.5px,#4434cf 47.5px,#4536d4 50.5px,#4435d0 52.5px,#463bdc 56.5px,#4539d9,#473fe3 74.5px,#463adb 79.5px,#463adc 83.5px,#4743e7 86.5px,#4741e5 87.5px,#4536d4 89.5px,#4435d1 90.5px,#4537d5,#473fe3 94.5px,#463ee1 99.5px,#463adb,#4747eb 103.5px,#4849ed 104.5px,#463bdd 107.5px,#4742e6 111.5px,#4639da 119.5px,#4536d3,#6a5dda 121.5px)"></i><i style="background:linear-gradient(#7d73e3 .5px,#4537d6 1.5px,#4639d9 7.5px,#463ee1 10.5px,#4435d1 20.5px,#463cdf,#4537d5 34.5px,#4538d8 42.5px,#463cde 45.5px,#4639da 47.5px,#463bdc 51.5px,#4849ed 57.5px,#4848ec 65.5px,#484df0 69.5px,#4746ea 79.5px,#4852f4 86.5px,#4740e3 90.5px,#4741e5 92.5px,#484cef,#4850f3 94.5px,#4747eb 96.5px,#4741e5 100.5px,#4742e6 101.5px,#4854f5,#484aed 107.5px,#4854f6 112.5px,#484ff2 114.5px,#484ef1 118.5px,#4743e7 120.5px,#6b65e7 121.5px)"></i><i style="background:linear-gradient(#7d75e6 .5px,#463adb,#463ada 2.5px,#473fe2 10.5px,#463adb 14.5px,#4639d9 20.5px,#4742e6,#4539d9 34.5px,#473fe2 45.5px,#463bdc 50.5px,#484df0 58.5px,#484aee 65.5px,#484df0 69.5px,#4745e9 79.5px,#4758f8,#4742e6 91.5px,#4745e9,#4852f4,#4756f6 94.5px,#4747eb 96.5px,#4742e6 99.5px,#4747eb 101.5px,#4757f7,#4851f4 107.5px,#465efb 112.5px,#4755f6 118.5px,#4747eb 120.5px,#6c68eb 121.5px)"></i><i style="background:linear-gradient(#7d73e1 .5px,#4536d3 1.5px,#4434cf 3.5px,#4538d7 8.5px,#4435d1 15.5px,#463cdf 27.5px,#4536d3 34.5px,#4537d7 40.5px,#4536d3 42.5px,#4539d9 45.5px,#4435d0 50.5px,#4741e5 58.5px,#463cde 64.5px,#463ddf 77.5px,#4538d8 79.5px,#484aee 85.5px,#4740e3 87.5px,#4639da 91.5px,#463ee1,#484aee,#484bef 94.5px,#463adc 96.5px,#4538d8 99.5px,#4848ec 103.5px,#484aed,#4744e8 109.5px,#4854f5,#484df0 117.5px,#473fe2 120.5px,#6b61e2 121.5px)"></i><i style="background:linear-gradient(#7c70db .5px,#4332c8 1.5px,#4230c3 3.5px,#4435d0,#4331c8 11.5px,#4434cf 32.5px,#4331c8 36.5px,#4332ca,#4330c5 42.5px,#4434ce,#4330c5 50.5px,#4537d6 58.5px,#4332ca 61.5px,#4332c9 63.5px,#4435d1 69.5px,#4434cf 71.5px,#4537d6,#4435d2 77.5px,#4330c5 79.5px,#4539d9 83.5px,#4538d7,#4332ca,#4536d4 89.5px,#4433cd,#4433cd 91.5px,#473fe3 93.5px,#463de0,#4435d0,#4331c7,#4330c5 97.5px,#4332c8 99.5px,#463bdd 102.5px,#463cdf 103.5px,#4539d8 105.5px,#463adc 106.5px,#4535d2 109.5px,#4745e9 113.5px,#463ee0 118.5px,#4537d5 120.5px,#695cd6 121.5px)"></i><i style="background:linear-gradient(#7b6ed7 .5px,#4230c4,#4230c3 2.5px,#4433cd,#4330c4 12.5px,#4331c7 16.5px,#422fc2,#4331c8 22.5px,#4230c4 36.5px,#4331c7 39.5px,#422fc1 43.5px,#4433cb 46.5px,#4230c3 50.5px,#4434cf 58.5px,#422fc2,#4332ca 68.5px,#4331c8 71.5px,#4536d3 73.5px,#43c 77.5px,#4330c5 78.5px,#4330c4 81.5px,#4332c9 83.5px,#412dbd 86.5px,#412dbd 87.5px,#4435d0,#4332cb,#463ada 93.5px,#4537d5,#4331c8,#4230c4 96.5px,#4330c5 99.5px,#4538d7 103.5px,#4433cd 105.5px,#4331c8,#4740e4 113.5px,#463adb 118.5px,#4538d8,#4434ce,#6859cf 121.5px)"></i><i style="background:linear-gradient(#7b6fd8 .5px,#4331c8 1.5px,#4434ce 9.5px,#4331c7 13.5px,#4332ca,#4330c5,#4433cb 22.5px,#4332c9,#4435d0 40.5px,#43c 44.5px,#4435d2,#4433cd 50.5px,#4535d2 58.5px,#4331c8,#4435d1 68.5px,#43c 71.5px,#4538d7 73.5px,#4434cf 78.5px,#4537d6 80.5px,#4434cf 81.5px,#4331c8 85.5px,#4332ca,#463adb 89.5px,#4537d6 92.5px,#463cde,#463cde 94.5px,#4434cd 96.5px,#43c 97.5px,#4433cd 101.5px,#4538d8 103.5px,#4538d8 104.5px,#4434cf 106.5px,#4434ce,#4743e7 112.5px,#4745e9 113.5px,#463ada 119.5px,#4435d1,#685ad0 121.5px)"></i><i style="background:linear-gradient(#7d75e6 .5px,#463bdc 1.5px,#4742e6 7.5px,#473fe3 18.5px,#4744e8 24.5px,#4742e7 31.5px,#484cf0 47.5px,#4848ec,#484bef 55.5px,#4849ec 63.5px,#4852f4 68.5px,#484cef 71.5px,#4854f5 75.5px,#484ef1 78.5px,#4854f5,#484cef 82.5px,#4757f7 85.5px,#465ffb 89.5px,#475af9 92.5px,#4562fc,#4564fd 94.5px,#4852f4 96.5px,#484ef1 97.5px,#4852f4 100.5px,#484ff2,#4854f5,#484ef1 106.5px,#4850f3 109.5px,#475bf9,#4660fb 113.5px,#4850f3 118.5px,#4743e7 120.5px,#6b63e5 121.5px)"></i><i style="background:linear-gradient(#7f81f4 .5px,#484df0 1.5px,#4757f7 7.5px,#4758f8 18.5px,#4661fc 26.5px,#465ffb 31.5px,#426afe 40.5px,#4367fd,#3876fe 48.5px,#3f6eff 50.5px,#3c72ff 55.5px,#3f6efe,#3777fe 61.5px,#3b73fe,#2e83f9 65.5px,#2d8df2 69.5px,#2d8bf4 70.5px,#337bfc 72.5px,#2b90f0 75.5px,#2a92ee 76.5px,#2e86f7,#2d8af4,#3080fa,#2895ec 84.5px,#259be7 85.5px,#2995ec 89.5px,#2c8ff1,#2c8ff0 91.5px,#22a1e4 93.5px,#22a2e4 94.5px,#2c8ef1 96.5px,#2d8cf3 97.5px,#2798ea 99.5px,#2a93ee,#2e86f7,#2e86f7,#2d8df2 103.5px,#2d8cf3,#2d8af5 107.5px,#2e83f9,#2e87f7,#2797eb 110.5px,#2d8af4,#2995ec 114.5px,#2994ed,#2d88f6 116.5px,#307ffb 118.5px,#3c72ff,#4660fc,#6c79f9 121.5px)"></i><i style="background:linear-gradient(#7f85f7 .5px,#4852f4 1.5px,#4851f4 3.5px,#475af9 7.5px,#4661fc 18.5px,#3e70ff 28.5px,#426afe 31.5px,#3b73fe 33.5px,#3a73fe 36.5px,#317efb 41.5px,#3974fe 44.5px,#2e83f9,#2c8ef2,#2d89f5 50.5px,#2d8df2 55.5px,#2d8af4 57.5px,#2797eb 60.5px,#2994ed 62.5px,#2798ea 63.5px,#19acdc 65.5px,#14b0d8 66.5px,#19addc 70.5px,#22a2e4 72.5px,#1ea8e1,#15afd9,#05b6ce,#01b8c8,#05b6ce,#14b0d8,#18addb 79.5px,#0fb2d4 81.5px,#0fb2d4 82.5px,#01b9c7 84.5px,#01b9c8,#07b5d0,#1ca9df,#22a1e4 88.5px,#259de7 90.5px,#15afd8 93.5px,#12b1d7 95.5px,#09b4d1 96.5px,#01b9c7 98.5px,#0abdbe,#02bac5,#0fb2d5,#18aedb 102.5px,#0fb2d5 104.5px,#02bac3,#02bbc3,#13b0d7,#249ee6,#22a2e4,#01b7ca,#09b4d1,#21a3e3,#1ea7e1,#0bb3d2,#01b8ca,#16afd9 116.5px,#1ca9e0 118.5px,#249ee6,#2d88f6,#5f92fe 121.5px)"></i><i style="background:linear-gradient(#7f87f8 .5px,#4756f6 1.5px,#4756f7 4.5px,#416cfe,#3974fe 18.5px,#307ffb 21.5px,#2e84f8 25.5px,#2c8ff1 28.5px,#2d8df2 30.5px,#2994ed,#2c8ef2 36.5px,#2895ec 38.5px,#1ea7e1 41.5px,#1fa5e2 42.5px,#2895ec 44.5px,#19addc,#1baade 50.5px,#09b4d1 55.5px,#0ab4d2 58.5px,#02b7cb,#02bac4 60.5px,#0abdbd 62.5px,#24c1ae 63.5px,#3bc993 65.5px,#40ca8d 66.5px,#30c5a2 68.5px,#29c3aa 71.5px,#35c79b 73.5px,#49cb85,#6dcd68,#5fcd73,#34c79b,#1abfb5,#0ebdbb,#1fc0b2,#31c6a0,#44cb8a,#5ecc74,#54cc7c,#38c896,#2cc4a7,#07bcbf,#10b2d5,#15afd9,#0fb2d5,#01b8c9,#06bcc0,#01b8c9,#01b8ca,#22c1b0,#37c897,#3eca8f 97.5px,#67cd6c 99.5px,#63cd70,#53cc7d,#33c79d,#25c2ae,#2ac3a9,#5dcc75,#66cd6d,#27c2ab,#12b1d6,#13b1d7,#25c2ad,#20c1b1,#16afd9,#18aedb,#09bcbe,#26c2ad,#04bbc2,#01b9c6,#0abdbd,#01b8c9,#1fa6e2,#56a5f4 121.5px)"></i><i style="background:linear-gradient(#7f88f9 .5px,#4756f7 1.5px,#4368fe 8.5px,#307ffb 14.5px,#307ffb,#2d8bf3 20.5px,#2d8df2 25.5px,#2797eb 27.5px,#259de7 30.5px,#1da9e0 32.5px,#2798ea 35.5px,#269ae8 36.5px,#1ea8e0 38.5px,#15afd8,#05b6cd,#02bac4,#01bac6 42.5px,#1aacdd 44.5px,#17aeda,#01b8ca,#07bcbf 47.5px,#02bac4 49.5px,#03bbc2 50.5px,#1cc0b3 52.5px,#1cc0b3,#13beb8,#18bfb6,#26c2ad,#26c2ad,#1dc0b3,#24c1ae,#37c897,#5ccc76,#8bcb51,#bec32e,#d2bf27,#d9be28,#cfc028,#b0c636,#91ca4c,#84cc56,#92ca4c,#b4c534,#e0bc2a,#f6ba3b,#fec735,#fcd12f,#fdbd3d,#d2bf27,#b8c431,#b1c635,#b3c534,#c2c22b,#e2bc2b,#f7ba3c,#dbbd29,#a0c841 85.5px,#5acc77 88.5px,#6ccd68 89.5px,#9cc943 91.5px,#aec637,#9bc944,#abc739,#e8bb2f,#fdbd3d,#f9bb3d 97.5px,#fdbd3d,#ecba33 101.5px,#b7c532,#78cc5f,#71cd65,#bac430,#c1c32c,#5acc77,#14bfb8,#01b8ca,#2ec4a4,#35c79b,#0bb3d2,#1aacdd,#0fbebb,#26c2ac,#02bac3,#0bbdbd,#2bc3a8,#1ec0b2,#16afd9,#55a8f1 121.5px)"></i><i style="background:linear-gradient(#7e8afa .5px,#4758f8 1.5px,#4368fd 7.5px,#3c72ff,#317dfc 11.5px,#2d88f6 15.5px,#2797eb 23.5px,#2c90f0 25.5px,#249ee6 29.5px,#1fa6e1 30.5px,#07b5d0,#1da9e0 34.5px,#21a2e4,#21a3e3,#1da9e0 37.5px,#02b7cb 40.5px,#08bcbf 42.5px,#02bac5 45.5px,#25c2ad 47.5px,#21c1b0 48.5px,#2dc4a6 53.5px,#24c2ae,#22c1b0,#2ec5a4,#32c69e,#30c5a2,#37c897,#55cc7b 60.5px,#98c947 62.5px,#c5c22a,#dbbd28,#d9bd28,#bdc32e,#a0c840,#94ca4a,#9ec942,#cfc028,#f9bb3d,#fccf30,#f5e227,#f5ea24,#f7db2b,#fec339,#fec437,#f7db2a,#f6e028 79.5px,#febe3c,#f5ba3b 83.5px,#c6c22a,#6fcd66,#4dcb82,#56cc7b,#89cb53,#cdc028,#e2bc2b 90.5px,#e6bb2d 92.5px,#eeba34,#feca33,#f5ed21,#f7f51b,#f6df29 97.5px,#f6e028,#fdcb33 101.5px,#eabb30,#b3c534,#97ca48,#b8c431,#c5c22a,#7ccc5c,#2ac3a9,#02b7cb,#29c3aa,#41ca8c,#04b6cd,#20a5e2,#01b8c9,#06bcc0,#08b5d0,#09bcbe,#2fc5a2,#20c1b1,#1babde,#57a3f5 121.5px)"></i><i style="background:linear-gradient(#7e8efc .5px,#465dfa 1.5px,#4269fe 8.5px,#2f81fa 11.5px,#2b90f0 17.5px,#2994ed 21.5px,#259be8,#2b92ee 25.5px,#2a93ee 26.5px,#1fa6e2 29.5px,#15afd9,#02b7cb,#02bac5,#07b5d0,#19acdc 34.5px,#1ea7e1,#17aeda 38.5px,#0bb4d2 39.5px,#01b9c7,#16bfb7,#09bcbe 45.5px,#1cc0b3,#28c2ab,#24c1ae 48.5px,#2ec5a4,#27c2ab 52.5px,#2bc3a8 53.5px,#26c2ad 55.5px,#2fc5a2 58.5px,#38c896,#4acb84 60.5px,#60cd72 62.5px,#86cb55,#a2c83f,#9fc941,#97ca48 66.5px,#c9c129 68.5px,#d4bf27,#debd29 70.5px,#e4bb2c 72.5px,#f7ba3c,#fcbc3d 74.5px,#dbbd29 76.5px,#efba35,#fdcb33,#fdcc32,#efba35,#c1c32c,#c2c22c,#d2bf27,#b7c531,#6bcd69,#37c897,#33c69e,#4acb84,#96ca48,#c8c129,#c8c129,#b9c430,#c7c12a,#edba33,#fec636,#fccf31,#fec239 97.5px,#fec13a,#f7ba3c 101.5px,#d7be28,#9ac945,#67cd6c,#69cd6b,#89cb53,#62cd70,#25c2ad,#01b9c7,#33c79d,#5dcc75,#04bbc2,#1fa6e2,#09b4d1,#05b6ce,#17aeda,#01b8c9,#20c1b1,#01bac5,#249ee6,#589cfa 121.5px)"></i><i style="background:linear-gradient(#7e8efc .5px,#465efb 1.5px,#4466fd 8.5px,#3f6fff,#317dfc 12.5px,#2d8cf3 20.5px,#2895ec 22.5px,#2c8ff1 26.5px,#2a93ee 27.5px,#21a3e3,#13b1d7 31.5px,#13b1d7 32.5px,#21a3e3,#22a2e4 36.5px,#09b4d1 41.5px,#01b8c8,#07bcc0 43.5px,#01b9c6,#15bfb7 47.5px,#11beba 48.5px,#21c1b0,#16bfb7 52.5px,#1ec0b2 58.5px,#1abfb5,#1ec0b2,#28c3ab 61.5px,#46cb87 63.5px,#48cb86,#3dc990,#3fca8e 66.5px,#86cb55 68.5px,#8acb52 69.5px,#46cb88 72.5px,#3cc991,#3dca90 74.5px,#57cc7a 77.5px,#72cd63,#64cd6f,#37c897,#2cc4a7,#38c896,#59cc79,#6ecd67,#61cd71,#3eca8f,#2bc3a8,#15bfb7,#28c2ab,#3eca8f,#43ca8b,#34c79c,#31c6a0,#3ac994,#4fcc80,#6dcd67 96.5px,#9ec942 99.5px,#9cc944 101.5px,#6dcd67,#3bc992,#24c1ae,#22c1b0,#33c79d,#2ec4a5,#12beb9,#18bfb6,#52cc7e,#75cc61,#18bfb6,#13b0d7,#01b9c7,#02b7cb,#1baade,#1aabdd,#0ab4d2,#1fa6e2,#2d88f6,#6190ff 121.5px)"></i><i style="background:linear-gradient(#7e8cfb .5px,#475bfa 1.5px,#4368fe 9.5px,#3678fd,#2d88f6 19.5px,#2d8af4 25.5px,#2c8ff1 27.5px,#22a2e4 31.5px,#249ee6,#15afd8 41.5px,#08b4d0,#0bb3d2,#01b8c9 47.5px,#03bbc2 53.5px,#1cc0b3 55.5px,#02bac4 58.5px,#02b7cb,#01b7ca,#11beb9,#33c69d,#4acb84,#51cc7f,#3fca8e,#35c79a,#39c895,#46cb88,#47cb87 69.5px,#26c2ac 72.5px,#0abdbe,#0ebdbb,#2cc4a6,#30c5a1,#29c3aa,#2ec4a4,#2cc4a7,#22c1b0,#28c3aa 81.5px,#3cc991 84.5px,#51cc7f,#5acc77,#3dc990,#17bfb7,#04bbc2,#16bfb7,#1ec0b2,#17bfb6,#17bfb6 93.5px,#2dc4a5 95.5px,#3ac994,#4bcb84 97.5px,#9bc944 99.5px,#9ac945,#7bcc5d,#37c898,#0bbdbc,#0cb3d3,#12b1d6 105.5px,#0bb3d2 107.5px,#03bbc2,#27c2ab,#4dcc82,#5ccc76,#18bfb6,#01b8c8,#11beb9,#06bcc0,#18addb,#23a0e5,#21a3e3,#2a92ee,#3a73fe,#6a83fd 121.5px)"></i><i style="background:linear-gradient(#7e8afa .5px,#4758f8 1.5px,#3d71ff 13.5px,#327cfc 17.5px,#2d88f6 19.5px,#317efb 24.5px,#2b92ee 28.5px,#269ae8 33.5px,#2896ec 36.5px,#1da8e0 41.5px,#1caadf 45.5px,#0eb2d4 47.5px,#0db3d3 48.5px,#17aeda 50.5px,#17aeda,#13b1d7,#05b6ce,#04bbc1,#0cbdbc,#04bbc2,#02b7cb 57.5px,#07b5cf 59.5px,#04b6cd,#11beb9,#32c69e,#45cb89,#53cc7d,#45cb89 65.5px,#26c2ad 67.5px,#1fc0b1,#25c2ad 69.5px,#27c2ac 71.5px,#1ac0b5,#02bac4,#01b8c9,#16bfb7,#21c1b0,#05bbc1,#02b7cb,#01b8c9,#06bcc0,#15bfb7,#1ac0b4,#19bfb6,#24c2ae,#3ac994,#5bcc77,#4ccb83,#28c2ab,#07bcbf,#06bcc0,#10beba 91.5px,#0fbeba 93.5px,#1fc0b1,#29c3aa,#36c898 96.5px,#5dcc75 98.5px,#5acc78 99.5px,#34c79c 101.5px,#04bbc1,#17aedb,#1fa5e2,#1caadf 105.5px,#1da9e0 107.5px,#02bac5,#14bfb8,#1dc0b3,#2cc4a7,#02bbc3,#04b6cd 113.5px,#02bac4 115.5px,#11b2d5,#22a2e4,#249ee6,#2d8cf3,#3e6fff,#6b80fc 121.5px)"></i><i style="background:linear-gradient(#7f84f6 .5px,#4850f3,#4851f3 2.5px,#4561fc 10.5px,#4367fd 16.5px,#3a73fe 19.5px,#416bfe 23.5px,#3b73fe,#327cfc 27.5px,#2e83f9,#2f83f9 37.5px,#2b91ef,#2994ed 43.5px,#23a1e4 47.5px,#2c8ff0 50.5px,#2b92ef 51.5px,#1ea8e1 54.5px,#1ea8e1 56.5px,#23a0e5 59.5px,#21a4e3,#14b0d8,#01b9c7 62.5px,#29c3aa 65.5px,#28c3ab,#11beb9,#01b9c7,#02bac4 69.5px,#23c1af 71.5px,#19bfb5,#01b8ca,#14b0d8,#01b8c9,#17bfb6,#0fbebb,#01b9c7,#01b8c9,#02bac5,#04b6cd,#0db3d3,#07b5d0,#08bcbf,#2fc5a3,#3dc990,#33c69d,#20c1b1,#09bcbe,#01b9c7,#01b9c6,#09bcbe 92.5px,#29c3aa,#39c895 96.5px,#3eca90,#36c799,#20c1b1,#16bfb7,#1fc0b2,#09b4d1,#249fe5,#259ce7,#13b0d7,#09b4d1,#12b1d6,#01b9c8 108.5px,#1babde 110.5px,#02b7cb,#01b9c7 112.5px,#18addb,#08b4d0 116.5px,#18addb,#21a3e3 118.5px,#347afd 120.5px,#6888fe 121.5px)"></i><i style="background:linear-gradient(#7f84f6 .5px,#4850f2 1.5px,#4851f3 4.5px,#4562fc 20.5px,#4465fd 28.5px,#3e6fff 31.5px,#406dfe,#317dfc 39.5px,#327cfc 42.5px,#2d8bf4 46.5px,#2d8af4 47.5px,#3579fd 50.5px,#2797eb 56.5px,#2994ed 57.5px,#2e85f8 59.5px,#2d89f5 60.5px,#21a3e3 62.5px,#1babde 63.5px,#01b8c9 65.5px,#01b8c8,#13b1d7,#1ea7e1,#20a5e2 69.5px,#13b0d7 71.5px,#15afd8 72.5px,#249ee6 74.5px,#1aabdd,#02b7cb,#01b9c6 77.5px,#05b6ce 79.5px,#04b6cd 80.5px,#15afd9 82.5px,#13b0d7 83.5px,#01b9c8 85.5px,#01b8c8,#08b5d0 87.5px,#03b7cc,#12b1d6 91.5px,#01b8ca,#18bfb6,#26c2ad,#46cb88,#44cb8a,#07bcc0,#03b7cc,#10b2d5,#02b7cb,#13beb8,#13b0d7,#2895ec,#2994ed,#04b6cd,#1ac0b4,#01b8ca,#09b4d1,#1fa5e2,#269ae9,#13b0d7,#13beb9,#05bbc1,#1aacdd,#1caadf,#0bb3d2,#0ab4d2,#1da9e0,#2895ec,#2e87f7,#5c94fd 121.5px)"></i><i style="background:linear-gradient(#7f83f5 .5px,#484ff2 1.5px,#475af9 12.5px,#4561fc 28.5px,#416afe 31.5px,#4368fd 35.5px,#3b73fe 38.5px,#3e70ff 42.5px,#307ffb 45.5px,#317dfb 47.5px,#3c72ff 50.5px,#3876fe 52.5px,#2c8ff0 55.5px,#2b90ef 56.5px,#347afd 59.5px,#307ffb 60.5px,#2699e9 63.5px,#20a4e3 65.5px,#249de7 66.5px,#2f82f9 68.5px,#3080fa 69.5px,#2d8df2 71.5px,#2d8cf3 74.5px,#239fe5,#1fa6e2 78.5px,#1da9e0 83.5px,#259de7,#1fa6e2 89.5px,#2699e9 91.5px,#21a3e3,#16afd9 93.5px,#13b1d7 95.5px,#16afd9,#239fe5 97.5px,#259be8 99.5px,#1fa6e2,#0fb2d5,#21a4e3,#2c8ef1,#2b90ef,#07b5d0,#1bc0b4,#11b1d6,#1da9e0 108.5px,#2699e9 110.5px,#1caadf,#04bbc2,#02bac4,#1ca9df,#22a1e4 115.5px,#1da9e0,#2c8ef1 119.5px,#2e84f8,#5c95fd 121.5px)"></i><i style="background:linear-gradient(#7f82f5 .5px,#484df0 1.5px,#4759f9 11.5px,#4561fc 28.5px,#4368fe 32.5px,#4368fe 42.5px,#3678fd 46.5px,#3f6fff 52.5px,#3b73fe,#307ffb,#2d89f5,#2e85f8,#347afd,#3974fe 58.5px,#2e87f7 65.5px,#2f82f9,#3777fe 67.5px,#3c72ff 69.5px,#327cfc 72.5px,#2e86f7 77.5px,#2c8ff1,#2d8bf4 81.5px,#2895ec 86.5px,#2b92ee 88.5px,#2e85f8 91.5px,#2797eb,#2d88f6 95.5px,#2d88f6 98.5px,#2e84f8 99.5px,#2a92ee,#2e87f7 103.5px,#2c8ef2,#1caadf,#04b6cd,#21a2e4,#259ce7,#22a2e4 109.5px,#2699e9 111.5px,#22a2e4,#23a1e4,#2a93ee 114.5px,#2c90f0,#2e83f9 118.5px,#3479fd,#3b72fe,#6789fe 121.5px)"></i><i style="background:linear-gradient(#7f80f3 .5px,#484aed 1.5px,#465efb 23.5px,#475cfa,#4465fd 35.5px,#4465fd 43.5px,#416bfe 45.5px,#4269fe 53.5px,#3f6efe,#3678fd 55.5px,#406cfe 58.5px,#3c71ff 63.5px,#426afe 67.5px,#416bfe 69.5px,#3777fe,#3d71ff 77.5px,#317dfc 80.5px,#337bfc 84.5px,#2d89f5 86.5px,#3777fe 91.5px,#2e85f8 93.5px,#3975fe 96.5px,#317dfc 101.5px,#3578fd,#3479fd,#2f82fa 104.5px,#269be8 106.5px,#2c8ef1,#2d89f5,#2c90f0 109.5px,#317efb,#3479fd 113.5px,#3d70ff 114.5px,#3d70ff 116.5px,#475dfa 120.5px,#6c7cfa 121.5px)"></i><i style="background:linear-gradient(#7d75e5 .5px,#463ada 1.5px,#463ee1 4.5px,#463ddf 8.5px,#4745e9 24.5px,#4741e5 31.5px,#484aee 36.5px,#4747eb 53.5px,#484ff2 63.5px,#4746ea 67.5px,#4848ec,#4853f5 73.5px,#484aed 78.5px,#4852f4 80.5px,#4850f3 84.5px,#4755f6 86.5px,#484df0 91.5px,#4851f4 93.5px,#484bee 96.5px,#4854f5 100.5px,#4850f2,#4563fd 106.5px,#465ffb,#4850f2 110.5px,#484df0,#4853f5 112.5px,#484ef1,#4853f5,#4746ea,#473fe3 120.5px,#6b65e7 121.5px)"></i><i style="background:linear-gradient(#7b6fd8 .5px,#4331c7 1.5px,#43c 4.5px,#4230c4 8.5px,#4332c9 11.5px,#4331c7 19.5px,#4435d1 23.5px,#4331c7 31.5px,#4537d5 36.5px,#4434ce 39.5px,#4536d4 43.5px,#4332ca 54.5px,#4538d8 62.5px,#4331c6 65.5px,#4330c5 66.5px,#43c,#4331c7 70.5px,#4537d6 73.5px,#4332c9 77.5px,#4435d1 80.5px,#4435d0 86.5px,#4536d4 88.5px,#4330c5 96.5px,#4433cb,#463bdd,#4537d6 102.5px,#4745e9 106.5px,#4740e4,#4435d1 110.5px,#4435d1,#463cde 112.5px,#463adc 114.5px,#4742e6,#4744e8 116.5px,#4434ce 119.5px,#4332c9,#685ad1 121.5px)"></i><i style="background:linear-gradient(#7b6fd8 .5px,#4331c6 1.5px,#4230c3 5.5px,#4331c7 11.5px,#422fc2 20.5px,#4433cb 23.5px,#4230c4 27.5px,#4331c7 30.5px,#422fc3 32.5px,#43c 36.5px,#4330c5 39.5px,#4434ce,#4433cd 47.5px,#422fc3,#4330c5 57.5px,#4435d2,#422ebe 65.5px,#4332ca 68.5px,#422ebf 70.5px,#4433cd,#422fc2 76.5px,#422fc1 82.5px,#4330c5,#422fc1,#4434ce 88.5px,#412dbd 96.5px,#4332cb 98.5px,#4538d7,#463adb,#4536d3 101.5px,#463ee1 106.5px,#4536d3,#4434d0,#4538d8 112.5px,#4435d0,#4537d5,#4740e3,#4744e8,#473fe2 117.5px,#4331c7 119.5px,#4230c3,#6859cf 121.5px)"></i><i style="background:linear-gradient(#7b6fd8 .5px,#4331c7 1.5px,#4230c3 5.5px,#4331c7 18.5px,#422fc2 20.5px,#4331c7 24.5px,#4230c3,#4332c8,#4230c3 33.5px,#4433cb 47.5px,#4330c4 50.5px,#4331c7 54.5px,#422fc2 57.5px,#43c 61.5px,#422ebf,#4433cb,#422ebf,#4332c8,#422fc0 76.5px,#422ebe 82.5px,#4331c7,#4230c3,#4536d3,#4331c6 90.5px,#4332c9,#4230c4,#463bdd 99.5px,#463bdc,#4537d5 101.5px,#463cde,#4639da 105.5px,#463cde 106.5px,#4434ce,#463adb 110.5px,#4639d9 111.5px,#4433cb 113.5px,#4536d3,#473fe3,#4743e7,#4740e4 117.5px,#4330c5 119.5px,#422fc2,#685ad2 121.5px)"></i><i style="background:linear-gradient(#a39be5 .5px,#7c70da 1.5px,#7b6ed5 6.5px,#7b6fd8 8.5px,#7b6dd3,#7c70db 16.5px,#7a6dd2 21.5px,#7b6fd9 24.5px,#7b6ed4 44.5px,#7b6fd8,#7b6dd3,#7c70da 53.5px,#7b6ed5,#7c70da 61.5px,#7a6dd2,#7c70da 67.5px,#7b6ed5 69.5px,#7b6ed6 73.5px,#7a6bce 81.5px,#7d73e2 88.5px,#7b6dd3,#7b6ed7 92.5px,#7c71dd 93.5px,#7c70dc,#7e78ea 99.5px,#7d73e2,#7e76e8,#7d72e0 105.5px,#7d75e6,#7d75e5,#7c71de 108.5px,#7e78ea 110.5px,#7e76e8 111.5px,#7c70db,#7e79ec 115.5px,#7e7bed,#7e79ec 117.5px,#7b6fd9 119.5px,#7b6fd7,#968de3 121.5px)"></i></div>
<div class="p" style="left:218px;top:18px;width:142px;height:122px"><i style="background:linear-gradient(#7c71de .5px,#4434cf 1.5px,#463adc 14.5px,#4434ce 24.5px,#4332ca 32.5px,#463cde 44.5px,#4536d4 55.5px,#4537d5 58.5px,#4434ce 62.5px,#4435d1 70.5px,#4433cd 75.5px,#4537d5 78.5px,#4536d4 80.5px,#463bde 83.5px,#4538d7 85.5px,#4538d7 91.5px,#4331c7,#4433cb 95.5px,#4331c6,#4331c7 97.5px,#4539d9,#4434cf 101.5px,#4434cf 102.5px,#463bde 104.5px,#4538d7,#4332c8,#4332c9,#4536d4,#4538d8 109.5px,#4536d4 112.5px,#473fe2 116.5px,#463adb,#463ee1 118.5px,#4537d5 120.5px,#6b61e1 121.5px)"></i><i style="background:linear-gradient(#7d72e0 .5px,#4536d4 1.5px,#463bdc,#4330c5 21.5px,#4332c9 32.5px,#4537d6 37.5px,#463bdc 43.5px,#4330c5 62.5px,#4230c4 66.5px,#4332c9 69.5px,#422fc2 73.5px,#4332ca 80.5px,#4537d7 82.5px,#4538d8 83.5px,#4433cd 85.5px,#4435d1 90.5px,#4230c4 93.5px,#4331c6 95.5px,#422fc2 96.5px,#4536d3,#4330c5 102.5px,#4535d2,#422ec0 106.5px,#4330c5,#4536d4 108.5px,#4538d8,#4433cd 112.5px,#4537d5 113.5px,#463adc 115.5px,#4742e6,#473ee1,#4742e6 118.5px,#4538d7 120.5px,#6b64e6 121.5px)"></i><i style="background:linear-gradient(#7c71dd .5px,#4434d0 1.5px,#463bdc 11.5px,#4435d1 20.5px,#4434ce 32.5px,#463cdf 39.5px,#473ee1 43.5px,#4435d1 54.5px,#43c,#4434cf,#4331c7 78.5px,#4538d8 84.5px,#463bdd 89.5px,#4639d9 93.5px,#463adb 101.5px,#4537d5 102.5px,#463adc,#4536d4,#463ee1,#463bde,#4435d1 112.5px,#4639d9,#4539d9,#463cde,#4743e8 116.5px,#4740e3 118.5px,#4536d4,#4537d5,#6b64e7 121.5px)"></i><i style="background:linear-gradient(#7b6ed5 .5px,#4230c3 1.5px,#4330c5 8.5px,#463de0 22.5px,#4434cf 33.5px,#4639d9 47.5px,#4230c4 59.5px,#4330c5 62.5px,#4536d3 66.5px,#4536d4 71.5px,#4332ca 78.5px,#4434cf 82.5px,#4537d6 84.5px,#4639da 89.5px,#4538d8 97.5px,#4435d1,#4435d0 99.5px,#463ddf 101.5px,#4539d9 102.5px,#463adb 104.5px,#4536d4 105.5px,#463ddf 108.5px,#4537d6 112.5px,#463cdf,#4538d7 114.5px,#463adb,#4537d7 118.5px,#4332c9,#4435d1,#6b62e3 121.5px)"></i><i style="background:linear-gradient(#7d72e0 .5px,#4536d2 1.5px,#4331c6 17.5px,#4538d7 27.5px,#4433cb 48.5px,#4537d5 54.5px,#463adc 65.5px,#4230c3 74.5px,#422fc2 79.5px,#4435d1 86.5px,#463ada,#463adb,#4740e4 92.5px,#463de0 97.5px,#4537d5,#463cdf 101.5px,#4539d8 102.5px,#463bdd 104.5px,#4536d4,#4536d5,#463de0,#473fe2 108.5px,#463cde 112.5px,#4742e6,#473fe2 114.5px,#463ee1 118.5px,#463ada,#473fe2,#6c66e9 121.5px)"></i><i style="background:linear-gradient(#7c71de .5px,#4435d0 1.5px,#4434ce 10.5px,#422ebf 18.5px,#422ec0 25.5px,#4332ca 30.5px,#4331c8 39.5px,#463adb 53.5px,#463bdd 58.5px,#4435d0 70.5px,#43c 80.5px,#4434cf,#463ddf 92.5px,#463bdd 94.5px,#4537d6 95.5px,#4538d8,#4435d0 99.5px,#463bdd 104.5px,#4434cf,#4433cd,#4639da,#463adb 108.5px,#4535d2 112.5px,#463bdc 113.5px,#4740e4 115.5px,#4538d7 119.5px,#463ddf,#6b62e3 121.5px)"></i><i style="background:linear-gradient(#7c70db .5px,#43c 1.5px,#4536d4 11.5px,#422ebe 23.5px,#4330c4 30.5px,#422fc1 38.5px,#4433cd 43.5px,#4536d5 50.5px,#4435d2 55.5px,#422fc2 63.5px,#4435d1 68.5px,#4435d0 71.5px,#4537d6 73.5px,#463ada 78.5px,#4639da,#4740e3 94.5px,#463cde 96.5px,#463ee0 104.5px,#4536d3,#4435d1,#4639d9 107.5px,#4332ca 109.5px,#4330c5,#463bdd 115.5px,#4539d9,#4434ce 117.5px,#4536d4 119.5px,#463bdc,#6a5fde 121.5px)"></i><i style="background:linear-gradient(#7c71dd .5px,#4434cd 1.5px,#4433cd 15.5px,#4230c3 24.5px,#4434cf 32.5px,#4433cd 38.5px,#4536d3 42.5px,#4536d4 48.5px,#422ec0 60.5px,#4331c6,#463adb 68.5px,#463ee0 74.5px,#463de0 78.5px,#4639da 81.5px,#463de0 94.5px,#4539d9 96.5px,#463de0 100.5px,#463adb 101.5px,#463cde 104.5px,#4537d6 105.5px,#463bdc 107.5px,#4537d7 111.5px,#4639d9,#4742e6,#4639da 117.5px,#4639da 120.5px,#6a5fde 121.5px)"></i><i style="background:linear-gradient(#7d75e5 .5px,#4539d9 1.5px,#4435d0 5.5px,#422fc2 8.5px,#422fc0 10.5px,#422fc1 13.5px,#4536d3 18.5px,#4538d8 22.5px,#4536d4 46.5px,#4230c4 59.5px,#4536d3 63.5px,#463ddf 69.5px,#4433cd 81.5px,#4538d7,#4332ca 89.5px,#4535d2 90.5px,#463adb 94.5px,#463bdc,#4537d5 96.5px,#463de0 99.5px,#4538d7 104.5px,#4435d2 105.5px,#4434ce 111.5px,#4742e6 115.5px,#463cde 120.5px,#6b64e6 121.5px)"></i><i style="background:linear-gradient(#7d75e6 .5px,#4639da 1.5px,#4332ca,#463adc 21.5px,#4332ca,#4538d7 45.5px,#4332c8 53.5px,#4434ce,#4434ce 59.5px,#463bdd 63.5px,#463bdd,#43c 75.5px,#4332c9 80.5px,#4332ca 83.5px,#4536d4,#4537d6,#4434ce 89.5px,#4537d6 90.5px,#4639da 92.5px,#4538d7 93.5px,#463de0 95.5px,#4537d5,#4535d2 101.5px,#4537d5 102.5px,#43c,#4434d0 106.5px,#4332c9 107.5px,#4536d5 110.5px,#4435d1 111.5px,#4536d3,#473fe2 115.5px,#4740e3 118.5px,#463adb,#463bdd,#6c66e9 121.5px)"></i><i style="background:linear-gradient(#7d72e0 .5px,#4536d2 1.5px,#4434d0 12.5px,#4537d6 24.5px,#4434cf 33.5px,#4536d3 36.5px,#4435d0 40.5px,#4538d7 46.5px,#4535d2 53.5px,#4539d9 56.5px,#4538d8 60.5px,#463ddf 63.5px,#4538d8 67.5px,#463bdc 73.5px,#4331c6 83.5px,#43c 87.5px,#4332c9 89.5px,#4435d1 90.5px,#4536d3 92.5px,#4434ce 93.5px,#4536d3 95.5px,#422fc2 99.5px,#4332ca 102.5px,#422fc0 104.5px,#4331c6,#4536d4,#43c,#43c 108.5px,#4538d8 110.5px,#4434cf 113.5px,#4539d9 115.5px,#4538d7 116.5px,#463de0 118.5px,#4639da,#463bdc,#6b64e6 121.5px)"></i><i style="background:linear-gradient(#7c6fd9 .5px,#4332c9 1.5px,#4332ca 14.5px,#422fc1 28.5px,#4230c3 40.5px,#4434ce 49.5px,#4332c9 62.5px,#422fc1,#4536d2 72.5px,#4331c7 76.5px,#4331c6 81.5px,#422fc1 83.5px,#4332cb 87.5px,#4331c7 88.5px,#4435d1,#4536d3,#4535d2,#4332ca 96.5px,#4434cf 97.5px,#4230c4 99.5px,#4332ca 102.5px,#422fc1 104.5px,#4330c5,#4537d5 106.5px,#4330c5,#4434ce 110.5px,#4331c7,#4433cd 116.5px,#463adb,#463bdc 120.5px,#6b63e5 121.5px)"></i><i style="background:linear-gradient(#7c71dc .5px,#4434cf 1.5px,#4536d3 4.5px,#43c 18.5px,#4434d0 35.5px,#4230c3 46.5px,#4330c5 59.5px,#422ebf 65.5px,#422fc1 67.5px,#4435d2 72.5px,#422fc2 76.5px,#4331c8 81.5px,#422fc0 84.5px,#43c,#4433cb,#4539d9 90.5px,#473fe3 93.5px,#4740e4 97.5px,#4539d9,#463cde,#43c 103.5px,#4332c8,#43c,#463ada 106.5px,#4330c5 108.5px,#422ebf,#4332c9 116.5px,#463cde,#463ddf 120.5px,#6b64e7 121.5px)"></i><i style="background:linear-gradient(#7d74e5 .5px,#4639d9 1.5px,#4538d7 5.5px,#422fc1 19.5px,#4330c5 26.5px,#4331c7 55.5px,#4434cf 59.5px,#4432cb 64.5px,#463de0 73.5px,#4537d6,#4537d6 81.5px,#4433cb 84.5px,#4537d5,#4536d4,#463cde 90.5px,#473fe3 93.5px,#473fe3 97.5px,#4538d7,#4740e3 101.5px,#4434cf 104.5px,#4434d0,#4639d9,#4538d7 107.5px,#4331c7 109.5px,#43c 110.5px,#4332ca 112.5px,#463bdd 116.5px,#4848ec 118.5px,#4741e5,#4740e4,#6c67ea 121.5px)"></i><i style="background:linear-gradient(#7d73e1 .5px,#4536d4 1.5px,#4536d3 5.5px,#412dbc 19.5px,#422fc1 28.5px,#4639da 49.5px,#4332cb 61.5px,#463cdf 71.5px,#4535d2,#4535d2 81.5px,#4332ca 84.5px,#4536d4 86.5px,#4434ce 92.5px,#4538d8 93.5px,#463adb,#4537d6,#4331c8 99.5px,#4434ce,#463bde,#463cde 102.5px,#4433cb,#4435d1 108.5px,#43c,#4538d7 110.5px,#4537d6 112.5px,#4740e3 116.5px,#4849ed 118.5px,#463ee1,#463adb,#6b62e3 121.5px)"></i><i style="background:linear-gradient(#7c70da .5px,#4332ca 1.5px,#4332ca 4.5px,#412ebe 11.5px,#422fc1 14.5px,#412ebd 20.5px,#43c 40.5px,#473fe3 50.5px,#463de0 57.5px,#4537d6 60.5px,#4435d0 65.5px,#4536d4 73.5px,#4331c6 78.5px,#4434ce,#4433cb 84.5px,#4537d6,#4537d6 88.5px,#4332ca 91.5px,#4433cb 92.5px,#463adc 94.5px,#4435d2 99.5px,#4536d5 100.5px,#4743e7 102.5px,#4743e7 103.5px,#4639da 106.5px,#463ee0 108.5px,#463bdc,#4740e4 110.5px,#463de0,#4741e5 114.5px,#4740e3 117.5px,#4744e9 118.5px,#4536d4 120.5px,#6a5dda 121.5px)"></i><i style="background:linear-gradient(#7c70da .5px,#4332c9 1.5px,#4331c6 11.5px,#43c 24.5px,#422fc1 40.5px,#4435d1 50.5px,#4332cb 61.5px,#4435d0 68.5px,#463adb 73.5px,#4536d3 76.5px,#4537d5,#4434ce 84.5px,#4538d7 86.5px,#4539d9 91.5px,#473fe3 94.5px,#4639da,#4538d8,#4435d1 100.5px,#4537d6,#473fe2,#4741e5 103.5px,#4537d6 106.5px,#463ddf 108.5px,#463adb,#473ee2,#4639da,#463adb 112.5px,#4745e9 114.5px,#473fe2 117.5px,#4742e6 118.5px,#4536d3 120.5px,#695cd7 121.5px)"></i><i style="background:linear-gradient(#7c70da .5px,#4332ca 1.5px,#463bdd 14.5px,#4434cf 24.5px,#4331c7 35.5px,#4435d1 53.5px,#4330c5 66.5px,#4536d2 74.5px,#4434cf 77.5px,#4536d4 79.5px,#4537d6 84.5px,#463cdf 86.5px,#463ee0,#4745e9 92.5px,#4538d8 97.5px,#463adb 98.5px,#4434ce 100.5px,#4434cf,#463bdd 102.5px,#43c 106.5px,#4536d4 107.5px,#4538d8 109.5px,#463de0 110.5px,#4538d7,#4742e6 114.5px,#463adb 117.5px,#463cde 118.5px,#4434ce 120.5px,#695bd3 121.5px)"></i><i style="background:linear-gradient(#7c70da .5px,#4332ca 1.5px,#43c 5.5px,#463adb 14.5px,#4537d7 20.5px,#4331c6 29.5px,#4332ca 44.5px,#4538d8 60.5px,#4538d8 62.5px,#4434ce 66.5px,#4435d2 72.5px,#463adb,#4539d9,#473fe3,#463ddf 84.5px,#484bee,#4746ea 92.5px,#4740e4 93.5px,#463bde 98.5px,#4537d5 99.5px,#4434ce 101.5px,#463adb 102.5px,#4332c9 106.5px,#4536d4,#4537d6,#4435d0,#4536d3 110.5px,#4434cf,#4639da,#4536d5,#463adb,#4435d1 120.5px,#695bd4 121.5px)"></i><i style="background:linear-gradient(#7c70db .5px,#43c 1.5px,#4332c9 17.5px,#4536d3 28.5px,#4539d9 55.5px,#4537d6 62.5px,#4331c7 66.5px,#4433cb 71.5px,#4536d4 74.5px,#4537d5 78.5px,#463de0,#4639da,#4639da 87.5px,#463ee1 89.5px,#4639da 92.5px,#4435d1,#4434ce 94.5px,#4538d8 98.5px,#4434cf 101.5px,#463adb 102.5px,#4537d5 106.5px,#4639d9,#4538d7,#4332c9,#4230c3,#422fc2,#4330c5 112.5px,#4536d4,#4537d5 116.5px,#463adc 117.5px,#4537d5 120.5px,#695bd5 121.5px)"></i><i style="background:linear-gradient(#7c71de .5px,#4535d2 1.5px,#4639da 9.5px,#4435d1 31.5px,#4435d2 44.5px,#4539d9 55.5px,#4536d3,#4536d4 61.5px,#4332c9 65.5px,#4537d7 73.5px,#4536d3 79.5px,#4639d9 82.5px,#4331c7 87.5px,#4435d0 89.5px,#4433cd 92.5px,#4330c5 94.5px,#4539d9 99.5px,#4434ce 101.5px,#4537d6,#4535d2 103.5px,#4537d6 107.5px,#422fc2 110.5px,#4330c5,#4537d5,#4537d6 116.5px,#463bdd 117.5px,#4536d5 120.5px,#695bd5 121.5px)"></i><i style="background:linear-gradient(#7c71de .5px,#4435d0 1.5px,#4536d4 19.5px,#4230c4 30.5px,#4230c4 34.5px,#4435d1 45.5px,#4539d9 48.5px,#463ddf 56.5px,#4536d5,#4539d9 76.5px,#4435d1 80.5px,#4538d8,#4537d6,#463adb,#463adb 88.5px,#4230c4 91.5px,#4331c8 92.5px,#422fc2 96.5px,#4537d5 99.5px,#4332ca 101.5px,#4434cf 102.5px,#4332c8,#4434ce,#422fc1,#412dbc 110.5px,#4536d3 114.5px,#4538d7,#4536d4,#463bdd 117.5px,#4537d5 120.5px,#695cd7 121.5px)"></i><i style="background:linear-gradient(#7b6fd8 .5px,#4331c7 1.5px,#4434cf 14.5px,#412dbd 28.5px,#412dbd 34.5px,#422fc2 46.5px,#463bdd 57.5px,#4536d3 66.5px,#4331c6 70.5px,#4331c8 72.5px,#4536d3 75.5px,#463de0 84.5px,#4747eb 88.5px,#4537d5 91.5px,#4537d7 93.5px,#4434ce,#4639da 99.5px,#4537d5,#4639da 101.5px,#4538d7 104.5px,#463adb,#4332cb 108.5px,#4536d4 111.5px,#4435d0,#4639d9 115.5px,#4538d7,#463cdf,#4537d6 118.5px,#4435d2 120.5px,#695cd7 121.5px)"></i><i style="background:linear-gradient(#7d75e6 .5px,#463ada 1.5px,#4538d8 6.5px,#4331c8 16.5px,#4331c6 24.5px,#412dbd,#412dbc 36.5px,#4434ce 44.5px,#4433cd 49.5px,#4537d5 56.5px,#4434cf,#4435d2 66.5px,#422fc2 70.5px,#422fc2 73.5px,#4536d4 80.5px,#4741e5 83.5px,#4746ea 88.5px,#463bdd 91.5px,#463ddf 98.5px,#4742e6,#4740e3,#4746ea 101.5px,#4744e8 104.5px,#4848ec,#4741e5 108.5px,#4746ea,#473ee2,#484aee,#4744e8 120.5px,#6c68eb 121.5px)"></i><i style="background:linear-gradient(#7b6fd8 .5px,#4332c8 1.5px,#4536d3 7.5px,#4434ce 15.5px,#4538d8 24.5px,#4230c4 32.5px,#422fc0 35.5px,#4539d9 45.5px,#4434cf 50.5px,#4434cf 63.5px,#4537d6 66.5px,#4536d4 70.5px,#4538d8 77.5px,#4741e5 85.5px,#4536d4 92.5px,#4535d2,#4537d5 98.5px,#463bdd,#4538d8,#463ee1 101.5px,#4639da,#4743e7 107.5px,#463de0 108.5px,#4742e6,#4434cf 114.5px,#4536d3,#4434cd,#4536d3,#4434cf,#4539d8,#463adb,#6b64e6 121.5px)"></i><i style="background:linear-gradient(#7d73e3 .5px,#4537d6 1.5px,#4536d3 14.5px,#4538d8 25.5px,#4434ce 35.5px,#4536d5,#43c 49.5px,#4435d1 54.5px,#4332ca 63.5px,#4639da 73.5px,#4536d2 80.5px,#4639da 83.5px,#463adc 88.5px,#4435d2 95.5px,#463bdd,#463ee1 99.5px,#4639d9,#463ee1 101.5px,#4639d9,#4747eb 107.5px,#4740e3 108.5px,#4747eb 110.5px,#4746ea 111.5px,#4639da 114.5px,#463bdd,#4536d3 116.5px,#4536d4 118.5px,#473fe3,#4744e8,#6c70f2 121.5px)"></i><i style="background:linear-gradient(#7c71dd .5px,#4433cd 1.5px,#422fc1 7.5px,#4331c5 21.5px,#4435d1 31.5px,#4435d1 39.5px,#4538d7 42.5px,#463cde 53.5px,#4537d6 60.5px,#422fc2 68.5px,#4230c3 70.5px,#4433cd,#4331c6 76.5px,#4332c9 84.5px,#4537d6 88.5px,#4434cf 90.5px,#4537d6 91.5px,#4433cd 95.5px,#4537d6 98.5px,#463cde,#463adb,#463de0 101.5px,#4434cf 103.5px,#4435d0 106.5px,#463adc,#4433cb 108.5px,#4538d7,#4331c7 112.5px,#463bdc 115.5px,#4434cf,#4434ce,#4536d4,#473ee1,#473fe3,#6c6bef 121.5px)"></i><i style="background:linear-gradient(#7a6dd2 .5px,#412ebe 1.5px,#412dbc 3.5px,#422ebf 13.5px,#4332ca 19.5px,#4331c6 28.5px,#4435d0 36.5px,#4537d5 51.5px,#4332c9 64.5px,#463de0 74.5px,#4536d3 77.5px,#4330c5 84.5px,#4536d4 88.5px,#4435d1 90.5px,#4639d9 91.5px,#4537d6 95.5px,#463ada,#4744e8 101.5px,#4435d2 105.5px,#4536d2,#463cdf,#4435d0 108.5px,#4536d5 110.5px,#4330c5,#412dbd 112.5px,#4536d4 115.5px,#4331c6 116.5px,#4433cd 118.5px,#4538d7,#4536d2,#6b62e4 121.5px)"></i><i style="background:linear-gradient(#7b6dd3 .5px,#422ebf 1.5px,#412dbd 3.5px,#412ebe 6.5px,#4434ce 13.5px,#4536d4 18.5px,#4331c8 27.5px,#422fc1 41.5px,#4331c7 52.5px,#422fc1 58.5px,#4331c5 63.5px,#4536d4 69.5px,#4536d4 80.5px,#4433cb,#4435d1 88.5px,#4433cd,#4434cf,#4538d8,#4537d6,#4433cd,#4434ce 94.5px,#4639da 100.5px,#473fe3 101.5px,#473fe3,#4538d7,#463ee1 107.5px,#4538d8,#4537d5,#463ada,#4435d1,#4434cf,#4538d7 113.5px,#4538d7 115.5px,#4434cd 116.5px,#4536d4 119.5px,#4434cd,#6a60e0 121.5px)"></i><i style="background:linear-gradient(#7c70dc .5px,#4332ca 1.5px,#412ebe 7.5px,#4434cd 19.5px,#412ebe 27.5px,#422ebf 32.5px,#4332c9 38.5px,#422fc0 45.5px,#4230c4 50.5px,#422fc1 63.5px,#4435d1 72.5px,#463cde 76.5px,#463ee1 81.5px,#4435d1 85.5px,#463ada 88.5px,#4435d2,#4639d9 92.5px,#4537d5 93.5px,#473fe2 98.5px,#473fe2 100.5px,#4849ec 103.5px,#473fe3,#4743e7,#463cdf 109.5px,#4741e6 110.5px,#463ee1 112.5px,#4741e5 115.5px,#463bdc 120.5px,#6b64e6 121.5px)"></i><i style="background:linear-gradient(#7b6ed5 .5px,#422ebf 1.5px,#412dbc 4.5px,#422ebe 24.5px,#4434ce 31.5px,#4538d7,#4434d0,#4537d6 49.5px,#43c 56.5px,#4434cf 64.5px,#4433cb 67.5px,#4434ce 72.5px,#4537d5 75.5px,#4435d2 79.5px,#4639d9,#4434cf,#4434cf 88.5px,#4332cb,#4537d5 92.5px,#4435d1 96.5px,#463bdd,#4639da 102.5px,#473ee1 103.5px,#4536d3 106.5px,#4538d7 108.5px,#4332ca,#4435d2 110.5px,#4536d4 114.5px,#463bdd,#4538d7 120.5px,#6b61e2 121.5px)"></i><i style="background:linear-gradient(#7a6cd1 .5px,#412dbc,#412dbc 2.5px,#422ebf 18.5px,#463cdf 30.5px,#4740e4 36.5px,#4740e3 38.5px,#4435d2 45.5px,#4536d3 60.5px,#4331c8 71.5px,#4536d3,#4538d7 83.5px,#4332ca 86.5px,#4332ca,#422fc1 90.5px,#4434d0 96.5px,#4741e5 98.5px,#4747eb 99.5px,#4745e9 101.5px,#473fe2 102.5px,#4745ea 105.5px,#4740e3 106.5px,#4742e6 108.5px,#463bdd 109.5px,#473fe2 111.5px,#4535d2 114.5px,#463adb 118.5px,#4537d5 120.5px,#6a5fde 121.5px)"></i><i style="background:linear-gradient(#7b6fd7 .5px,#4331c5,#4330c5 2.5px,#4332c8,#4538d7 22.5px,#463ada 31.5px,#4538d8,#4332cb 43.5px,#4331c7 47.5px,#4639da,#463de0 65.5px,#4639d9 69.5px,#463cdf 74.5px,#463ada 78.5px,#4433cd 81.5px,#4331c6 86.5px,#4536d3,#4331c6 90.5px,#4537d6 94.5px,#4741e5 97.5px,#4746ea,#4746ea 101.5px,#463ee1 102.5px,#4746ea 105.5px,#463adc 107.5px,#463cde,#4536d5 109.5px,#4538d7 111.5px,#4330c4 114.5px,#43c 115.5px,#4435d1 117.5px,#463bdd 118.5px,#463cde 120.5px,#6b64e7 121.5px)"></i><i style="background:linear-gradient(#7e76e8 .5px,#463bdd 1.5px,#4434cf 14.5px,#4435d0 18.5px,#463adb 24.5px,#4539d9 32.5px,#463ddf 41.5px,#4538d7 48.5px,#463adc 65.5px,#4434cf,#4435d1 73.5px,#4331c7 76.5px,#4434ce 80.5px,#4331c6 86.5px,#4536d2,#4332ca,#4434cf,#4332ca,#43c,#4536d4,#4535d2 100.5px,#4537d7,#4331c8,#4332c8,#4537d5,#463adb 105.5px,#4434cf,#4435d0,#4639da 111.5px,#4536d3 114.5px,#463cdf 115.5px,#463cdf 117.5px,#4744e8 118.5px,#4848ec 120.5px,#6c70f3 121.5px)"></i><i style="background:linear-gradient(#7d75e6 .5px,#463bdc 1.5px,#4537d6 11.5px,#463ee1 24.5px,#4435d2 33.5px,#4536d4 41.5px,#4434ce 47.5px,#4433cd 60.5px,#422ebf 69.5px,#4331c8 72.5px,#422fc0 76.5px,#463adc 82.5px,#463ada 83.5px,#4331c7 86.5px,#4433cd 92.5px,#4330c5 96.5px,#43c 98.5px,#4330c4,#4330c5,#4433cd,#412ebe,#422ebe,#4434d0 104.5px,#463ada,#4536d3,#4539d9 113.5px,#4537d5,#463ddf,#4539d9 116.5px,#463cde,#463bdc 120.5px,#6c67ea 121.5px)"></i><i style="background:linear-gradient(#7b6dd3 .5px,#422fc1 1.5px,#463bdc 8.5px,#4741e5 16.5px,#463ee1 22.5px,#4332c9 30.5px,#422fc0 36.5px,#4230c3 39.5px,#422fc0 45.5px,#4434ce 55.5px,#422fc0 60.5px,#412ebd 66.5px,#422fc0,#4434cf,#4433cb 75.5px,#463bdc 82.5px,#43c,#4434ce 90.5px,#4230c3,#4230c4 96.5px,#4330c5,#4434ce,#4331c8 99.5px,#4538d8 101.5px,#43c,#4434d0,#463cde 104.5px,#4744e8 107.5px,#4742e6 108.5px,#4535d2,#4434ce 114.5px,#4538d7,#4435d1,#4536d4,#4434d0,#422fc0,#422ebf,#695bd3 121.5px)"></i><i style="background:linear-gradient(#7a6dd2 .5px,#422ec0 1.5px,#4330c5 6.5px,#4639d9 17.5px,#463bdd 22.5px,#4537d6 28.5px,#4230c4 37.5px,#4230c4 42.5px,#4433cd 50.5px,#422fc2 64.5px,#4331c6,#4230c3 70.5px,#4332ca 72.5px,#4230c4 75.5px,#4435d1 82.5px,#4435d1 85.5px,#43c 86.5px,#4537d5,#4331c7 96.5px,#4536d3 98.5px,#4433cb 99.5px,#473fe3,#4536d4 103.5px,#4746eb 107.5px,#463ee1 110.5px,#4639d9 111.5px,#4537d5 113.5px,#463bdd 117.5px,#422fc3 120.5px,#695ad2 121.5px)"></i><i style="background:linear-gradient(#7d73e2 .5px,#4538d8 1.5px,#4537d6 14.5px,#463adb,#4536d2 32.5px,#4538d8,#4434ce 48.5px,#4538d8 60.5px,#4331c7 69.5px,#4332ca 74.5px,#4536d4 78.5px,#43c 80.5px,#4332c8 86.5px,#4434cf 89.5px,#4331c6 93.5px,#4332cb 94.5px,#4332c9,#4639d9 98.5px,#4536d4,#463bdd,#4746eb 101.5px,#463bdc 103.5px,#463adb 104.5px,#4744e8,#4849ed 108.5px,#4639d9 111.5px,#4434cf 113.5px,#4434cf,#4639d9,#463ada 116.5px,#4536d3 119.5px,#4537d6,#6b62e3 121.5px)"></i><i style="background:linear-gradient(#7c70db .5px,#4433cb 1.5px,#422ebf 8.5px,#422ebe 16.5px,#4331c7 26.5px,#4639d9 34.5px,#463adb 38.5px,#4536d4 47.5px,#463ada 53.5px,#463ada 60.5px,#4435d0 64.5px,#4434ce 69.5px,#4434ce 79.5px,#4536d4 82.5px,#4332ca,#4433cb 86.5px,#4536d4 87.5px,#4538d7 89.5px,#4331c8 92.5px,#43c,#422ec0,#4434cf 98.5px,#4332c9,#4536d2,#473fe3,#4740e4 102.5px,#463adb 104.5px,#4741e4 105.5px,#484aee 108.5px,#4435d1 113.5px,#4434ce,#4538d7 115.5px,#4433cd 119.5px,#4536d3,#6b61e2 121.5px)"></i><i style="background:linear-gradient(#7b6dd3 .5px,#422fc0 1.5px,#412cbb 13.5px,#412dbc 27.5px,#4433cb 34.5px,#4332ca 46.5px,#4435d0 52.5px,#4332ca 62.5px,#463cde 70.5px,#4435d0 77.5px,#463cde 82.5px,#4536d3,#4536d3 86.5px,#463cdf 89.5px,#463adb 91.5px,#4740e4 94.5px,#4332ca,#4434cd 98.5px,#4330c5,#4332c8,#4537d5,#463adb 102.5px,#4537d5 104.5px,#463bdd,#463bdd,#4537d7,#463bdc,#4434d0 109.5px,#4230c4 113.5px,#4331c6,#4435d0,#4331c6 116.5px,#4330c5 119.5px,#4432cb,#6a5edc 121.5px)"></i><i style="background:linear-gradient(#7c70db .5px,#4434ce 1.5px,#4435d1,#422ebf 11.5px,#412dbb 14.5px,#422fc2 37.5px,#4331c8 40.5px,#4331c7 44.5px,#4536d4 52.5px,#4535d2 55.5px,#4230c4 60.5px,#4331c7 64.5px,#4536d3 69.5px,#4433cd 86.5px,#4740e3,#4848ec 94.5px,#463cdf,#463ee1 98.5px,#4538d7 99.5px,#463adb 102.5px,#4435d1 104.5px,#463adb,#463bdd,#4435d1,#4435d0,#4330c5 109.5px,#4230c4 111.5px,#4332c8,#4330c5 113.5px,#4536d5 115.5px,#43c 116.5px,#4434cf 118.5px,#4331c8,#4433cb,#6a5edc 121.5px)"></i><i style="background:linear-gradient(#7c71dd .5px,#4434d0 1.5px,#4535d2 6.5px,#422fc2 14.5px,#4332ca 27.5px,#4330c5 37.5px,#4435d1 41.5px,#4539d9,#422fc0 61.5px,#422ebf 66.5px,#43c,#422fc2 80.5px,#422ec0 86.5px,#4435d2 89.5px,#4536d4 90.5px,#4332ca 93.5px,#4536d2 94.5px,#4433cd,#4639da 98.5px,#4536d3,#4537d5 100.5px,#43c,#4537d5 106.5px,#4331c7 107.5px,#4230c4,#4331c8 111.5px,#4435d2,#4433cd 113.5px,#463adb 115.5px,#4538d8 116.5px,#463adb 118.5px,#4536d2,#4536d3,#6a5fde 121.5px)"></i><i style="background:linear-gradient(#7c70db .5px,#4332cb 1.5px,#422ec0 9.5px,#422ebf 16.5px,#4535d2,#412dbc 38.5px,#4331c6 48.5px,#412dbc 61.5px,#422fc2 63.5px,#422fc1 66.5px,#4538d7 70.5px,#463ada 72.5px,#4537d6 75.5px,#412ebd 83.5px,#4230c3,#4434cf,#4435d0 89.5px,#4230c4 93.5px,#4433cd 94.5px,#4434ce,#4538d8 98.5px,#4536d4,#4639da 100.5px,#4538d8,#463de0 104.5px,#463bdd,#4740e3,#4539d9 107.5px,#4435d1 111.5px,#4537d6,#4435d1,#4538d8 114.5px,#463ee1 118.5px,#4537d5,#4435d2,#6a5dda 121.5px)"></i><i style="background:linear-gradient(#7b6ed6 .5px,#4230c4 1.5px,#412dbc 5.5px,#4230c3 20.5px,#4536d4 27.5px,#4435d1,#412dbd 37.5px,#412dbb 39.5px,#412dbb 61.5px,#422fc0 64.5px,#412dbd 66.5px,#4434cf 71.5px,#422ec0 78.5px,#412ebe 83.5px,#4433cd 86.5px,#422fc2 93.5px,#4434cf,#4332cb 97.5px,#4433cd,#4331c8 99.5px,#4332ca 101.5px,#463adb 104.5px,#4639da,#4740e3 106.5px,#4535d2 108.5px,#4535d2 109.5px,#4332c8,#43c 113.5px,#4639d9 114.5px,#4639da 116.5px,#463ddf,#463bdd,#4332c9,#422fc2,#6859ce 121.5px)"></i><i style="background:linear-gradient(#7b6fd8 .5px,#4330c5 1.5px,#412dbd 5.5px,#412dbd 17.5px,#4537d6 31.5px,#4536d3 34.5px,#412dbd 41.5px,#422ebf 66.5px,#4435d1 72.5px,#422fc0 77.5px,#4230c3,#422ebf 81.5px,#4331c7 85.5px,#422ebe 88.5px,#4434cf 92.5px,#4535d2 95.5px,#4331c7 97.5px,#4332c8 98.5px,#412dbc 100.5px,#412dbd 101.5px,#43c 104.5px,#4332c9,#4434cf 106.5px,#4230c3 108.5px,#4332ca 109.5px,#4230c4,#4332c8 113.5px,#4435d1 114.5px,#4435d2 116.5px,#463bdd,#463cde,#4433cb,#4230c3,#6859ce 121.5px)"></i><i style="background:linear-gradient(#7d72e1 .5px,#4536d3 1.5px,#4330c5 10.5px,#43c 23.5px,#4538d8 30.5px,#4537d7 35.5px,#4433cb 43.5px,#4434ce,#4331c6 53.5px,#4537d5 73.5px,#4536d3 74.5px,#422ebf 77.5px,#412ebe 78.5px,#422fc1,#4434cf,#422fc1 87.5px,#4230c3 88.5px,#463bdd 92.5px,#4538d7 95.5px,#4435d0 96.5px,#4537d5,#4230c4 100.5px,#422fc1 101.5px,#4332ca,#422fc2,#422fc2 107.5px,#4332c8,#4537d6 109.5px,#43c 113.5px,#4741e5 118.5px,#4537d6 120.5px,#6a5edc 121.5px)"></i><i style="background:linear-gradient(#7b6dd3 .5px,#422fc0 1.5px,#412ebd,#412dbd,#4230c4 13.5px,#4331c7 21.5px,#422fc2 44.5px,#4332c9 48.5px,#422fc1 61.5px,#4433cb 64.5px,#4332c8,#4434cf,#4330c5 79.5px,#4536d4 82.5px,#4332ca 87.5px,#463ee1 91.5px,#473ee1 92.5px,#4536d5,#4434cf,#463cdf,#4434cf 100.5px,#4434ce 101.5px,#4539d9,#4434d0,#4434ce 107.5px,#4536d4,#473fe3,#4742e6 110.5px,#463bdc 112.5px,#4535d2,#4435d0 114.5px,#4434ce 116.5px,#4539d8,#463ada 118.5px,#4331c7 120.5px,#6859ce 121.5px)"></i><i style="background:linear-gradient(#7b6ed6 .5px,#4230c3 1.5px,#412dbc 8.5px,#422fc2 16.5px,#43c 22.5px,#43c 30.5px,#4435d0 34.5px,#43c 40.5px,#4230c4 44.5px,#422fc2,#4330c5,#4434ce 59.5px,#422ec0 71.5px,#4434ce,#43c 79.5px,#4538d7 81.5px,#4434cf 86.5px,#4740e4 92.5px,#4740e4 93.5px,#4538d7 95.5px,#4537d6,#463ee0,#4740e4 98.5px,#4538d7 101.5px,#4639d9,#473ee1 103.5px,#4433cd 106.5px,#4433cd 108.5px,#463de0,#4744e8 110.5px,#4537d6 116.5px,#4741e5,#4536d4 120.5px,#695cd8 121.5px)"></i><i style="background:linear-gradient(#7c71dc .5px,#43c 1.5px,#4331c8 5.5px,#4433cb 13.5px,#412dbd 27.5px,#422fc1 47.5px,#4332ca,#4433cb 55.5px,#4537d6 61.5px,#4332c9 66.5px,#43c 69.5px,#4331c7 71.5px,#4537d5 75.5px,#4434ce 83.5px,#4538d8 90.5px,#473ee2 93.5px,#463adb 95.5px,#463bdc 96.5px,#4742e6 98.5px,#463de0 102.5px,#4744e8,#4741e5 104.5px,#4536d4 106.5px,#4537d6,#4434cf 108.5px,#4742e6 110.5px,#463de0 111.5px,#4741e4 113.5px,#463cde 116.5px,#4745e9,#463ee1 120.5px,#6b62e4 121.5px)"></i><i style="background:linear-gradient(#7c71dd .5px,#4433cb 1.5px,#422fc2 3.5px,#422ebe 7.5px,#4331c6 17.5px,#4330c5,#412ebd 25.5px,#422ebe 36.5px,#4434d0 52.5px,#43c 55.5px,#4434ce 63.5px,#422fc2,#43c 69.5px,#4331c7 71.5px,#4332c9 74.5px,#4538d8,#4433cb 82.5px,#4332ca,#4536d3 88.5px,#4433cd 92.5px,#4536d4 93.5px,#4434ce 96.5px,#4537d5 98.5px,#4435d1 99.5px,#463adc 101.5px,#4435d0,#4639d9 103.5px,#4332cb 106.5px,#4536d3,#4332ca 108.5px,#463ee0 110.5px,#4538d8,#463ada,#473fe3 113.5px,#463ee0 116.5px,#4742e6,#4741e5 120.5px,#6b64e6 121.5px)"></i><i style="background:linear-gradient(#7c71de .5px,#4434cf 1.5px,#4331c8 8.5px,#4433cb 22.5px,#412dbd 33.5px,#422ebe,#4331c6 43.5px,#412dbd 49.5px,#422ebe 54.5px,#4535d2 60.5px,#4538d7 64.5px,#4433cd 67.5px,#4435d0 69.5px,#43c,#4538d8 77.5px,#4639d9 79.5px,#4433cd 83.5px,#4433cd,#4537d6 87.5px,#4536d4 92.5px,#463ddf,#4539d9,#463bdc 98.5px,#4538d8 99.5px,#4741e5 101.5px,#463ada,#463cde 103.5px,#4434d0 105.5px,#4434cd,#4537d6,#43c 108.5px,#463de0 110.5px,#4537d6,#4536d3,#463cdf,#4740e3 114.5px,#4539d8 118.5px,#463de0 120.5px,#6b63e5 121.5px)"></i><i style="background:linear-gradient(#7b6ed5 .5px,#4330c4 1.5px,#4433cb 6.5px,#4535d2 21.5px,#4433cb 34.5px,#412dbc 45.5px,#422ebf 49.5px,#412dbb 52.5px,#43c 60.5px,#43c 67.5px,#4538d8 71.5px,#463adb 76.5px,#4332c9 83.5px,#4434cf 87.5px,#4330c5 89.5px,#43c 90.5px,#4535d2 93.5px,#4538d8,#4639da,#4435d1 96.5px,#4536d4 99.5px,#473ee1,#4744e8,#463ee1,#463ddf 103.5px,#4435d0 105.5px,#4434ce,#4435d1,#4332c9 108.5px,#4537d6 110.5px,#4331c7,#422fc2 112.5px,#463cde,#4535d2 116.5px,#422fc2,#412dbb 118.5px,#4332cb 120.5px,#6a5edb 121.5px)"></i><i style="background:linear-gradient(#7a6cd0 .5px,#412dbc 1.5px,#422ebe 12.5px,#4434cf 21.5px,#43c 28.5px,#4639da 34.5px,#4537d6 38.5px,#422ebf 44.5px,#412dbc 46.5px,#422fc2,#422ebf 52.5px,#4230c4,#4434cf 68.5px,#4538d7 70.5px,#4435d0,#4536d4,#4331c8 79.5px,#422fc0 85.5px,#4330c5,#412ebe,#4331c7 91.5px,#4331c7,#422fc0 93.5px,#43c 95.5px,#4230c3 96.5px,#422ebf 98.5px,#4330c5 99.5px,#463adc 101.5px,#4537d6 102.5px,#4435d1 105.5px,#4331c7 107.5px,#4332ca 110.5px,#412dbb,#412cb9,#412ebe,#4435d1 114.5px,#402bb7 118.5px,#4230c4 120.5px,#695cd7 121.5px)"></i><i style="background:linear-gradient(#7b6dd2 .5px,#412ebe 1.5px,#412dbb 4.5px,#422fc1 15.5px,#4433cd,#4330c5 29.5px,#4433cd 34.5px,#4331c7 46.5px,#4434ce 53.5px,#43c 63.5px,#4230c4 68.5px,#4332c9 71.5px,#412dbc 85.5px,#422fc1 89.5px,#43c 91.5px,#4332ca,#422fc0,#4230c4,#4434d0 95.5px,#4330c5,#4536d4,#463adc 104.5px,#463ada,#4434d0,#4535d2,#463bdd,#463bde 109.5px,#43c 111.5px,#4332c9,#43c,#4639d9,#4434ce 115.5px,#422fc1 118.5px,#4435d0 120.5px,#6a5edb 121.5px)"></i><i style="background:linear-gradient(#7c70db .5px,#4432cb 1.5px,#4433cb 4.5px,#463adb 12.5px,#463adc 17.5px,#4537d5 24.5px,#4332c9,#422fc2 36.5px,#412dbd 46.5px,#4230c3 49.5px,#463cdf 57.5px,#4740e4 63.5px,#463cdf 65.5px,#43c,#422fc1 71.5px,#4230c4 83.5px,#4536d3 87.5px,#4536d3,#463ee1 91.5px,#463ddf,#4536d3,#4434ce,#4536d3 95.5px,#4331c7 97.5px,#4331c6,#4433cd,#4433cb 100.5px,#4535d2 104.5px,#4433cd,#422fc2,#4432cb,#463cdf,#463de0 109.5px,#422fc2 111.5px,#422fc0,#4331c7,#4537d5,#43c 115.5px,#4434ce 117.5px,#4332c9 118.5px,#463bde 120.5px,#6a60df 121.5px)"></i><i style="background:linear-gradient(#7d73e1 .5px,#4537d6 1.5px,#463adb 9.5px,#4435d1 25.5px,#4535d2 34.5px,#4331c6 45.5px,#4332c9,#463adc,#4741e5 63.5px,#463ddf 66.5px,#43c 71.5px,#4332c9 77.5px,#463cde 82.5px,#4741e5 86.5px,#463bdd 88.5px,#463bdd 89.5px,#4848ec 91.5px,#4746ea,#463cde,#4639da,#463bdd 95.5px,#4435d2 98.5px,#4539d9 99.5px,#4435d0 103.5px,#4435d1 104.5px,#4230c4 106.5px,#4434ce,#473ee2,#473ee1,#4433cb 110.5px,#422fc2,#4435d1 114.5px,#4331c7 115.5px,#4434cd 117.5px,#4433cb 118.5px,#4742e6 120.5px,#6b62e3 121.5px)"></i><i style="background:linear-gradient(#7a6dd2 .5px,#422ebf 1.5px,#4331c6 5.5px,#4332c9 13.5px,#4538d8 23.5px,#4639da 30.5px,#4536d4 36.5px,#4537d6 47.5px,#4230c4 54.5px,#4230c3 67.5px,#4331c8 70.5px,#422fc1 74.5px,#4330c5 79.5px,#4539d9 82.5px,#4538d8 83.5px,#4433cb 85.5px,#422fc1 88.5px,#422fc1 89.5px,#4538d7 91.5px,#4434d0,#422fc2,#412ebe 94.5px,#4230c3 96.5px,#412dbc,#412dbd,#4332c9,#4433cd 100.5px,#4331c6 103.5px,#43c 105.5px,#4331c8,#4433cd,#463bdc,#463ada,#4331c8,#4332c9 111.5px,#412ebe 113.5px,#422fc1,#412dbd,#4230c4 116.5px,#422fc2,#4639da 120.5px,#685ad1 121.5px)"></i><i style="background:linear-gradient(#7a6ccf .5px,#412cba 1.5px,#422fc2 10.5px,#422fc2 24.5px,#4537d5,#4433cd 44.5px,#43c 51.5px,#412ebd 61.5px,#4538d8,#4435d1 79.5px,#463de0 82.5px,#463de0,#4539d9,#43c 85.5px,#4331c7,#4538d8 91.5px,#422ebf 93.5px,#412dbb 94.5px,#4230c4 96.5px,#412ebe 97.5px,#4435d1 100.5px,#4230c3 102.5px,#4230c3 103.5px,#4433cb,#4330c5 107.5px,#4535d2,#4435d1,#4331c7 110.5px,#412cb9 113.5px,#412cba,#412dbc,#4332c9 116.5px,#4230c3,#4537d5 120.5px,#6859cf 121.5px)"></i><i style="background:linear-gradient(#7a6ccf .5px,#412cbb 1.5px,#412dbd 6.5px,#4434cf 13.5px,#4331c7 27.5px,#4434ce,#463bdc 35.5px,#4741e5 42.5px,#463bdd 47.5px,#412cba,#422fc2 67.5px,#4332ca 70.5px,#4332ca 72.5px,#4537d6 75.5px,#4539d9,#4746ea 83.5px,#4742e7,#463bdd 85.5px,#4538d8,#463ee1 91.5px,#4434ce 93.5px,#4433cd 94.5px,#4536d4 96.5px,#4435d2 97.5px,#4741e5 100.5px,#4537d6 102.5px,#4740e4 106.5px,#463bdd 107.5px,#473fe2 110.5px,#4537d6 111.5px,#4535d2 113.5px,#4536d4 116.5px,#4331c7,#4536d3 120.5px,#685ad1 121.5px)"></i><i style="background:linear-gradient(#7b6ed5 .5px,#4230c3 1.5px,#4331c6 10.5px,#412cba 17.5px,#422ebf 31.5px,#463cde 42.5px,#463de0 46.5px,#463adb 49.5px,#412dbb 56.5px,#412dbd 58.5px,#4331c6 61.5px,#412dbc 68.5px,#4435d0 79.5px,#4744e8 83.5px,#463ee1 85.5px,#463bdd 89.5px,#4746ea,#463bde,#463cdf,#4744e8 97.5px,#4745e9 100.5px,#463ee1,#463cdf 102.5px,#4746ea 106.5px,#473fe3 109.5px,#4744e8,#463adc,#463cdf,#4538d7 113.5px,#4537d5 115.5px,#422ebf 118.5px,#4435d0 120.5px,#695ad2 121.5px)"></i><i style="background:linear-gradient(#7c70db .5px,#43c 1.5px,#4434ce 9.5px,#422ebf 18.5px,#4331c7 28.5px,#4331c7 37.5px,#463bdc 48.5px,#43c,#4332c9 58.5px,#4434ce 61.5px,#422fc2 70.5px,#4332c9 74.5px,#4537d6 76.5px,#43c 81.5px,#4538d7 83.5px,#4639da 89.5px,#4745e9 91.5px,#463de0 95.5px,#4747eb 97.5px,#463de0 102.5px,#4746eb 103.5px,#4849ed 106.5px,#4743e7 108.5px,#463bdd,#463ee1,#4537d5,#463de0,#4536d3 113.5px,#4536d2 115.5px,#4331c8 116.5px,#4331c7 118.5px,#4537d5,#4639da,#6a5dd9 121.5px)"></i><i style="background:linear-gradient(#7a6bce .5px,#412cba 1.5px,#4538d7 8.5px,#4639da 10.5px,#4537d6 16.5px,#402bb8 25.5px,#412dbb 33.5px,#463adc 42.5px,#463de0 48.5px,#463adc,#473fe2 56.5px,#4536d3 64.5px,#463ada 70.5px,#4743e7 74.5px,#484cef 76.5px,#484cef 77.5px,#463adb,#4742e6 87.5px,#4740e4,#4745ea 91.5px,#4745ea 94.5px,#463ee1 95.5px,#473fe2,#4536d3 99.5px,#4435d1,#4331c8,#4332c9,#463cde 103.5px,#4538d8 105.5px,#463ddf 106.5px,#473ee1 108.5px,#4435d0,#4435d0,#422fc2,#4535d2,#412ebe,#412cb9,#4230c4,#402ab6,#3f29b1,#402ab3,#4332c9,#4435d0,#6858cd 121.5px)"></i><i style="background:linear-gradient(#7a6bcd .5px,#402bb8 1.5px,#463de0 9.5px,#4740e3 11.5px,#463adc 18.5px,#412dbc 24.5px,#412cba 28.5px,#422fc2 38.5px,#4332ca,#4330c5 44.5px,#4742e6 55.5px,#4740e4 57.5px,#4332ca 64.5px,#4435d1 69.5px,#4743e7 76.5px,#473fe2 80.5px,#4539d9 82.5px,#4539d9 83.5px,#463cde 85.5px,#4747eb,#484bef 87.5px,#463de0 89.5px,#463bdc 90.5px,#4849ed 94.5px,#4740e3 95.5px,#4740e3,#4639da 99.5px,#463bdd,#4537d6,#4639da,#4746ea,#4742e7,#4639da 105.5px,#463cde 107.5px,#4741e5 108.5px,#463bdd 110.5px,#4536d3,#4740e4 112.5px,#4537d5 114.5px,#463ddf 115.5px,#402bb7 117.5px,#402bb6,#4434ce,#4538d7,#685ad2 121.5px)"></i><i style="background:linear-gradient(#7c71dd .5px,#4434ce 1.5px,#4435d0 5.5px,#463cdf 10.5px,#463ddf,#4745e9 18.5px,#473fe2 25.5px,#473ee1 31.5px,#4536d4 35.5px,#4741e5 40.5px,#473ee1,#4745e9 48.5px,#4741e6 51.5px,#4745ea 56.5px,#4639da,#4537d6 64.5px,#463adc,#4849ec 66.5px,#4758f8,#4756f7 74.5px,#4849ed 77.5px,#4848ec 79.5px,#4853f5 84.5px,#465efb 86.5px,#465efb,#4851f3 88.5px,#4537d6 90.5px,#4537d5,#463adb,#4848ec,#484ef1 94.5px,#4743e7 96.5px,#4746ea 100.5px,#463ddf,#473ee1,#484aee 103.5px,#473fe2 105.5px,#4744e8,#463ee1 107.5px,#463bdc 111.5px,#4746ea 112.5px,#463ddf 114.5px,#4746eb 115.5px,#4537d5 117.5px,#4538d7,#4744e8,#4849ed,#6c67ea 121.5px)"></i><i style="background:linear-gradient(#7e7cef .5px,#4745e9 1.5px,#4848ec 10.5px,#463bdc 14.5px,#463cde 17.5px,#4747eb,#4849ed 19.5px,#4850f2 23.5px,#4849ed 24.5px,#484cf0 26.5px,#4851f3,#4562fc,#4465fd 29.5px,#4562fc 33.5px,#4756f7,#4757f7,#4561fc 36.5px,#3d71ff 40.5px,#4367fd,#4465fd 46.5px,#4366fd,#3c71ff 48.5px,#4466fd 51.5px,#4368fe 53.5px,#4563fd 56.5px,#4755f6,#4851f3 58.5px,#484ef1 64.5px,#4853f5,#3876fe,#307ffb 67.5px,#2798ea,#1ea7e1 71.5px,#2699e9,#2896ec,#2e86f7,#416bfe,#4854f5,#4746ea,#4743e8,#4849ed,#475bf9,#3776fe,#2d8df2,#2699e9 83.5px,#19acdc 86.5px,#20a5e3 87.5px,#3876fe 89.5px,#4660fb,#4561fc,#416afe,#327cfc,#317efb,#416bfe,#465dfa 96.5px,#465dfa 98.5px,#4368fe,#406dfe,#465ffb 101.5px,#3b72fe 103.5px,#3e6fff,#3a73fe,#307ffb,#4562fc,#4757f7,#4759f8 109.5px,#3f6efe 111.5px,#3f6eff,#465ffb,#4757f7,#465efb,#4756f7 116.5px,#475bf9,#4368fe 120.5px,#6a81fd 121.5px)"></i><i style="background:linear-gradient(#7e77e9 .5px,#463ee1 1.5px,#4744e8 5.5px,#4744e8 21.5px,#4849ed 23.5px,#4759f9 26.5px,#4564fd,#2c8ff1 28.5px,#2797ea 30.5px,#2796eb 33.5px,#2d89f5,#2e87f7,#3677fe,#3875fe 37.5px,#337bfd 41.5px,#2c8ef1 42.5px,#2c8ff1 45.5px,#2698ea 47.5px,#2796eb 55.5px,#2a93ee,#3678fd,#3b73fe 58.5px,#3d71ff 64.5px,#3b72ff,#3080fa,#2e86f7 67.5px,#23a0e5 69.5px,#17aeda 73.5px,#21a3e4,#2d88f6,#4466fd,#484ef1,#463adb,#463bdc,#484ef1,#3a73fe,#2a93ee 82.5px,#1aacdd 84.5px,#13b0d7,#05b6ce 86.5px,#0ab4d2 89.5px,#01b8c9,#01b9c7,#06b6ce,#0eb2d4,#1fa6e2,#2d8bf4,#426afe 96.5px,#3776fe 98.5px,#2c8ef2,#249de6,#2896ec,#21a3e4 102.5px,#21a4e3 104.5px,#0cb3d3,#0bbdbd,#2e87f7,#4562fc,#4466fd,#3678fd,#2e85f8,#3e6fff,#4758f8,#4758f8,#4561fc,#475af9 116.5px,#4367fd 119.5px,#4367fd,#6b7dfb 121.5px)"></i><i style="background:linear-gradient(#7e7aed .5px,#4741e4 1.5px,#4743e7 9.5px,#4851f3 15.5px,#4747eb,#4746ea 23.5px,#4851f3,#4465fd 29.5px,#307ffb,#2f82f9 31.5px,#2e86f7 35.5px,#4269fe,#4465fd 37.5px,#4367fd,#406dfe 41.5px,#2d88f6 42.5px,#2b90f0 47.5px,#2f82fa 49.5px,#307ffb 50.5px,#2e83f9 53.5px,#3876fe 54.5px,#3876fe 56.5px,#4366fd 59.5px,#4755f6 60.5px,#4562fc 62.5px,#465ffb 65.5px,#2d8af5 66.5px,#23a0e5 68.5px,#1ea7e1 69.5px,#2798ea 72.5px,#22a2e4 74.5px,#2796eb,#337bfc,#475cfa,#4740e3,#4742e6,#4755f6,#4269fe,#3a74fe,#3e70ff 83.5px,#3975fe 85.5px,#1fa5e2 88.5px,#01b8c9,#2ec4a4,#34c79b,#2bc3a8,#1ec0b2,#01b9c7,#23a1e4,#327bfc,#3876fe,#3578fd,#2c8ff1,#08b4d1,#05b6cd,#12b1d6,#249ee6,#22a2e4,#0cbdbc,#4bcb83,#22a2e4,#3080fa 108.5px,#2b90f0 110.5px,#2e84f9,#4269fe,#4759f8,#4756f6,#475cfa,#4756f7 116.5px,#4369fe 119.5px,#4466fd,#6c7af9 121.5px)"></i><i style="background:linear-gradient(#7e76e8 .5px,#463de0 1.5px,#484bef,#484aee,#484ff2 13.5px,#484ff2 15.5px,#4742e6,#4746ea 23.5px,#4759f8 29.5px,#3b73fe 30.5px,#3678fd 33.5px,#2f81fa 35.5px,#3e6fff 36.5px,#416bfe 38.5px,#4562fc 39.5px,#416bfe 41.5px,#2e85f8 42.5px,#2f82f9 44.5px,#2d8af5 47.5px,#307efb 49.5px,#2f81fa 53.5px,#3d70ff 54.5px,#4465fd 59.5px,#4758f8 60.5px,#4464fd 62.5px,#4368fe 65.5px,#2b90f0 66.5px,#23a1e4 68.5px,#22a2e4,#2797eb,#2e84f9,#3a73fe,#327cfc,#2b91ef,#259ce7,#2b91ef,#3975fe,#4854f5,#4854f5 79.5px,#4367fd,#475cfa 83.5px,#465ffb,#426afe,#249fe5 86.5px,#1caadf 88.5px,#08b4d0,#19bfb5,#23c1af 91.5px,#12beb9 93.5px,#05bbc1,#10b2d5,#1fa6e2 96.5px,#22a2e4 98.5px,#2c8ef1,#2d8bf4 100.5px,#259de7 102.5px,#327cfc,#3080fb,#1fa6e2,#0abdbd,#249ee6,#2994ed,#1ea7e1,#21a3e3,#2c8ef1,#307ffb,#4367fd,#4853f5 114.5px,#4756f7 116.5px,#465dfa 117.5px,#4755f6 120.5px,#6c6df1 121.5px)"></i><i style="background:linear-gradient(#7e77e9 .5px,#473fe2 1.5px,#4847ec 5.5px,#4539d9,#4536d3 7.5px,#4434cf 10.5px,#4435d1,#463adc,#463cdf 13.5px,#463de0 17.5px,#4746ea 18.5px,#4850f3 21.5px,#4851f4 23.5px,#4848ec 24.5px,#4849ed 26.5px,#4853f5 29.5px,#465efb 30.5px,#475cfa 33.5px,#4660fc,#3f6eff 35.5px,#3e70ff 39.5px,#2e87f7,#317efb 45.5px,#2f80fa 47.5px,#2d8af5 48.5px,#2e85f8 53.5px,#416cfe 54.5px,#4368fe 57.5px,#3c71ff 59.5px,#2e86f7 60.5px,#2994ed 64.5px,#2a93ee,#347afd 66.5px,#3080fb 68.5px,#3479fd,#4465fd,#4850f2,#484cef,#4852f4,#3d70ff,#2d8df2,#2a93ed,#2e84f8,#3d70ff,#4466fd,#3f6eff,#307ffb,#2e86f7,#307ffb,#426afe,#4563fd,#259de7 86.5px,#20a5e2,#06b5cf,#19acdc 92.5px,#1da8e0 98.5px,#2d8df2,#347afd 100.5px,#3b73fe 102.5px,#4561fc,#3c72ff,#249ee6,#18addb,#2c90f0,#2796eb,#18addb,#23a0e5,#2d89f5,#3080fa,#3a74fe,#4759f8,#484ff2,#475cfa,#3578fd,#475bf9 118.5px,#4849ed 120.5px,#6c69ec 121.5px)"></i><i style="background:linear-gradient(#7e7bee .5px,#4849ed 1.5px,#4758f8 5.5px,#484df0,#484bef 7.5px,#484df0 17.5px,#4853f5 20.5px,#475cfa,#465efb 22.5px,#475bf9 27.5px,#484ff2,#484ff2,#4759f8 30.5px,#4660fc 34.5px,#3f6eff,#3875fe 38.5px,#2e87f7 41.5px,#23a0e5 43.5px,#23a1e4 48.5px,#2796eb 49.5px,#2c8ef2 53.5px,#3a74fe,#3f6dfe 55.5px,#3c72ff 58.5px,#3678fd,#2c8ef1 60.5px,#2896eb 65.5px,#3677fe 66.5px,#2e85f8 68.5px,#307ffb,#406dfe,#4757f7,#4852f4,#4854f5,#4367fd,#2f81fa,#2d89f5,#337bfd,#4561fc 78.5px,#4368fe 80.5px,#3080fa,#249ee6,#1da8e0,#2896eb,#3678fe,#416bfe,#3f6efe,#3a74fe,#2798ea,#10b2d5,#08b5d0,#20a4e3,#2b92ef,#1caadf,#17aeda 95.5px,#15afd9 97.5px,#0cb3d3,#1aacdd,#2c8ef2,#347afd,#4563fc,#4759f9,#3e70ff,#0fb2d4,#17aeda,#2e83f9,#2d88f6,#2896eb,#2f82f9,#3a73fe,#406cfe,#3876fe,#4660fb,#4757f7,#3f6eff,#2e86f7,#465efb,#4848ec,#463ddf,#6b63e4 121.5px)"></i><i style="background:linear-gradient(#7d8ffc .5px,#3a74fe 1.5px,#327cfc 5.5px,#2d8af4,#2d8cf3 7.5px,#2d8df2 18.5px,#2d8bf4,#2e83f9,#1ea7e1,#19acdc 22.5px,#19acdc 26.5px,#20a4e3,#465dfa,#4538d7 29.5px,#4539d9 32.5px,#463bdc,#484df0,#475cfa 35.5px,#426afe 39.5px,#3876fe 41.5px,#2e85f8,#01b7ca,#07bcc0 44.5px,#07bcc0 47.5px,#01b8c9,#2c8ff1,#2e86f7 50.5px,#2f81fa 53.5px,#406cfe,#3e6fff,#2896eb,#259be8 57.5px,#259ce7 60.5px,#2b92ee 61.5px,#2b92ef 65.5px,#337bfd 66.5px,#2a92ee 68.5px,#2994ed,#22a1e4 70.5px,#21a3e3 75.5px,#2a92ee,#3777fe,#4756f6,#38c896 79.5px,#3ac994 81.5px,#5acc77,#fbbc3d,#fcbc3d,#d5be28,#475bf9,#475bf9,#4368fd,#2896eb,#08bcbf,#3ac994,#32c69f,#0ebebb,#0ebdbb,#28c3aa,#32c69e,#22c1af,#25c2ad,#3ac994,#1babde,#2f80fa,#475cfa,#4851f4,#3f6efe,#0db3d4,#1baade,#307ffb,#2e85f8,#307ffb,#4367fd 110.5px,#4464fd 112.5px,#307ffb,#3d70ff,#465efb,#3876fe,#327cfc,#465efb,#4849ed,#463bdd,#6b62e3 121.5px)"></i><i style="background:linear-gradient(#7f88f8 .5px,#4563fd 1.5px,#4368fe 5.5px,#3876fe,#3678fd 7.5px,#3776fe 17.5px,#3b72ff 19.5px,#416bfe,#2d8bf3 21.5px,#2a93ed 26.5px,#2d8df2,#475af9,#4230c4,#412cba 30.5px,#412cba 32.5px,#4230c3,#484ff2,#416cfe 35.5px,#307efb 38.5px,#2e84f8 40.5px,#2e83f9,#3f6eff,#2896ec,#2699e9 44.5px,#2699e9 47.5px,#2995ec,#3975fe 49.5px,#416cfe 53.5px,#3a74fe 55.5px,#3080fa 56.5px,#2f81fa 59.5px,#317dfc,#4269fe 61.5px,#4466fd,#426afe,#307efb,#2d8bf3 69.5px,#1ea6e1 70.5px,#1baade 75.5px,#1da9e0,#2b90ef,#4759f8,#07bcc0,#09bcbe,#1bc0b4,#42ca8b,#c7c12a,#bcc42f,#7ecc5b,#465ffb,#4757f7,#4561fc,#347afd,#23a0e5,#02bac3,#12beb9,#07bcbf,#19bfb5,#2fc5a3,#2ac3a9,#1ec0b2,#25c2ad,#35c79b,#18addb,#2f81fa,#4563fc,#4759f8,#4563fd,#2f82f9,#2d8af5,#347afd,#2d8af4,#337bfc,#426afe,#2c8ff1,#406dfe,#2d88f6,#307ffb,#4660fb,#327cfc,#327cfc,#465efb 118.5px,#4742e6 120.5px,#6b64e6 121.5px)"></i><i style="background:linear-gradient(#7e8bfb .5px,#475dfa 1.5px,#4367fd 8.5px,#465ffb 16.5px,#475bf9,#484ff2 18.5px,#484df0 20.5px,#4853f5 23.5px,#4465fd 24.5px,#426afe 26.5px,#4368fe,#4755f6,#4434cf,#4331c7 30.5px,#4331c7 32.5px,#43c,#4849ed,#4562fc 35.5px,#3777fe 38.5px,#347afd 40.5px,#3776fe,#475dfa,#484aed,#43c,#4331c6 45.5px,#4331c6 47.5px,#43c,#484aee,#465ffb 50.5px,#4661fc 53.5px,#416bfe 54.5px,#3f6efe 58.5px,#426afe,#4759f8,#4755f6 61.5px,#4758f8,#4661fc,#3777fe 67.5px,#2f81fa,#2d89f5,#1fa6e2 70.5px,#1aabdd 72.5px,#1aabdd 75.5px,#07b5d0,#1caadf,#3b73fe,#4755f6,#4852f4,#4367fd,#2c8ff1,#23a0e5,#269ae9,#2e84f8,#406dfe,#426afe,#259be8 88.5px,#1caadf 90.5px,#01b7ca 93.5px,#0cbdbc,#20c1b1,#0fbebb,#0ab4d1,#19acdc,#1babde,#02b7cb,#1ca9df,#4368fd,#4756f6 103.5px,#4465fd 105.5px,#3a74fe,#3f6eff,#3c72ff,#406dfe,#3f6fff,#2b92ee,#337bfc,#2a93ee,#2797eb,#3875fe,#337bfd,#3777fe,#4465fd 118.5px,#4755f6 120.5px,#6c70f3 121.5px)"></i><i style="background:linear-gradient(#7e7ef1 .5px,#4747eb 1.5px,#484bee 5.5px,#4854f5 6.5px,#475cfa 9.5px,#4759f8 16.5px,#475af9 17.5px,#4367fd 19.5px,#426afe 22.5px,#4368fe,#475cfa 24.5px,#465dfb 27.5px,#484ff2,#4434ce,#4331c7,#4331c7 31.5px,#4433cb 33.5px,#4743e7,#4758f8,#4853f4 36.5px,#465ffb 41.5px,#317dfc,#4759f8,#402bb7,#3e26a9 45.5px,#3e26a9 47.5px,#3f29b2,#4745e9,#475cfa 50.5px,#4660fc 52.5px,#4269fe,#2994ed,#259ce7 55.5px,#249fe6,#2796eb 59.5px,#406dfe,#4367fd,#4367fd 62.5px,#406dfe 65.5px,#3975fe,#2e83f9 67.5px,#249de6 69.5px,#20a5e2,#1fa6e1,#0db3d4,#1fa6e2,#259de7,#21a3e3,#16afd9,#19addc,#3080fa,#475bfa,#4852f4,#4757f7,#2e84f8,#23a0e5,#23a0e5 84.5px,#2e83f9 86.5px,#3974fe 87.5px,#2f81fa,#1ca9df 91.5px,#08b4d1,#02b7cb,#02b7cb,#0bb3d2,#1baade 96.5px,#2d8bf4 98.5px,#2994ed,#2fc5a3,#28c3ab,#3875fe,#4741e5,#473fe3,#4743e7,#475bf9,#4465fd,#4759f8,#4756f7,#4269fe,#406cfe,#4369fe,#2e84f9,#23a0e5,#17aeda,#2e83f9,#465ffb,#465ffb 118.5px,#4854f6 120.5px,#6c6ff2 121.5px)"></i><i style="background:linear-gradient(#7d74e4 .5px,#463adc 1.5px,#463bdd 5.5px,#4742e7 6.5px,#4852f4 10.5px,#475af9 16.5px,#465efb,#416bfe 18.5px,#3b73fe,#3b73fe 22.5px,#3f6eff,#475cfa 24.5px,#475af9 27.5px,#484cf0,#422ebf,#402bb6 30.5px,#402bb6 32.5px,#412dbd,#4744e8,#475cfa,#4756f6 36.5px,#4562fc 41.5px,#2d87f6,#4661fc,#412cb8,#3e26a9 45.5px,#3e26a8 47.5px,#402ab3,#484aed,#4563fd 50.5px,#4564fd 52.5px,#416bfe,#2797ea,#249fe5,#23a0e5 56.5px,#259de7 58.5px,#2995ec,#4466fd,#465efb 61.5px,#465efb 63.5px,#416bfe 66.5px,#3579fd 67.5px,#249fe5 69.5px,#1baade,#1aabdd,#12b1d6,#2798ea,#2e86f7,#2e86f8,#2d8cf3,#2d89f6,#465dfa,#4850f3,#484cf0,#475cfa,#02bac4,#25c2ad 83.5px,#22c1b0 85.5px,#0abdbe,#2d8df2,#2e85f8,#2d8df2,#22a1e4,#12b1d6,#03b6cc,#01b8c9 93.5px,#09b4d1 96.5px,#17aeda,#3080fb,#317efb,#1ea7e1,#21a3e3,#465ffb,#4740e3,#463cde,#4742e6,#4561fc,#23a0e5,#249de6,#426afe,#307ffb,#4366fd,#4853f5,#4563fd,#1da9e0,#46cb88,#249de6,#4852f4,#4755f6,#4848ec,#4742e6,#6b63e5 121.5px)"></i><i style="background:linear-gradient(#7d74e5 .5px,#4740e4 1.5px,#4741e5 5.5px,#4849ed 8.5px,#4854f5 10.5px,#4464fd 15.5px,#406dfe 17.5px,#347afd,#307ffb 19.5px,#2e83f9 22.5px,#307ffb,#416cfe 24.5px,#4561fc 27.5px,#4851f3,#422ebe,#402ab4 30.5px,#402ab4 32.5px,#412dbc,#4747eb,#465efb,#475af9 36.5px,#4561fc 38.5px,#4564fd 41.5px,#2e86f8,#465ffb,#402cb8,#3e26a9 45.5px,#3e26a9 47.5px,#402ab4,#484ff2,#416cfe 50.5px,#4368fe 52.5px,#406cfe,#2b90ef 54.5px,#249ee6,#259ce7 58.5px,#2995ec,#406dfe,#9ec942 61.5px,#aac73a 67.5px,#bfc32d 70.5px,#c2c22c,#b2c635 74.5px,#2e85f8,#307ffb,#3c71ff,#4852f4 78.5px,#4852f4 80.5px,#426afe,#18bfb6,#2fc5a2 83.5px,#2ec4a4 86.5px,#21c1b0,#1ec0b2 88.5px,#26c2ad 90.5px,#1dc0b3,#1ea7e1,#0ab4d1 93.5px,#05b6ce 96.5px,#14b0d8,#3a74fe,#4464fd 99.5px,#475cfa 102.5px,#4852f4,#4744e8,#4850f2,#337bfc,#16bfb7,#15bfb8,#2f81fa,#2e86f7,#426afe,#484bef,#4757f7,#21a3e4,#2cc4a7,#2d8bf4,#4757f7,#4660fc,#4849ed,#4537d6,#6a5edc 121.5px)"></i><i style="background:linear-gradient(#7e7cef .5px,#484ef1 1.5px,#4852f4 8.5px,#4755f6,#4564fd,#4366fd 11.5px,#416cfe 23.5px,#4367fd 27.5px,#4758f8,#4434cf,#4331c6 30.5px,#4331c5 32.5px,#4433cd,#484ff2,#4367fd,#337afd,#2f81fa 37.5px,#2e87f7,#2e86f7 41.5px,#2c90f0,#4367fd,#4433cd,#422ebf 45.5px,#422ebf 47.5px,#4332cb,#4660fb,#2e83f9 50.5px,#3479fd 53.5px,#4367fd,#416afe,#2b92ef 56.5px,#2896ec 58.5px,#2a92ee,#327cfc,#fabb3d,#fcbc3d 62.5px,#fbbc3d 74.5px,#2d8af4 75.5px,#2f80fa 77.5px,#3c71ff,#3974fe,#2e84f8,#23a1e4,#22c1b0,#2fc5a3 83.5px,#28c2ab 86.5px,#2bc3a8 90.5px,#15bfb7,#2994ed,#10b2d5,#05b6ce 94.5px,#05b6ce 96.5px,#10b2d5,#2d8cf3,#337afd,#4660fc,#4758f8,#2c8ff0,#2b91ef,#475af9,#3975fe,#2e87f7,#21a3e3,#23a0e5,#3677fe,#327bfc,#4269fe,#4851f3,#4465fd,#1caadf,#16afda,#3b72ff,#4562fc,#3b73fe,#4757f7,#4537d5,#6a5edc 121.5px)"></i><i style="background:linear-gradient(#7e77e9 .5px,#473fe2 1.5px,#4741e5 5.5px,#4849ed 6.5px,#484df0 8.5px,#4852f4,#406dfe,#3d71ff 11.5px,#3d71ff 27.5px,#426afe 29.5px,#4269fe 33.5px,#3876fe 36.5px,#337bfd 41.5px,#2e87f7 42.5px,#337bfc 44.5px,#3678fe 48.5px,#2e85f8,#2d8df2 50.5px,#2d89f5 53.5px,#3f6eff,#4368fe 55.5px,#4466fd 58.5px,#4367fd,#3579fd,#2b91ef 61.5px,#2895ec 65.5px,#2c8ff0 66.5px,#1caadf 68.5px,#0ab4d2,#05b6ce,#0eb2d4 71.5px,#14b0d8 73.5px,#09b4d1,#12b1d6,#0eb2d4,#1aacdd,#2699e9,#2d8df2,#2d8cf3,#259de7,#06b5cf,#18bfb6,#18bfb6,#18aedb,#1fa6e2,#1ea7e1,#12b1d7,#05bbc1,#06b5cf,#1ca9df,#269ae9,#16afd9 93.5px,#13b1d7,#06b5cf,#05b6ce 99.5px,#2d8af5,#406cfe,#21a3e3,#1da8e0,#3d70ff,#2797eb,#2797eb,#4368fe,#475dfa 108.5px,#465ffb,#484aee 112.5px,#4368fe,#10b2d5,#1da8e0,#3c72ff,#4465fd,#3578fd,#4464fd,#4743e7,#6c67ea 121.5px)"></i><i style="background:linear-gradient(#7e7aec .5px,#4741e5 1.5px,#4740e4 5.5px,#4747eb 6.5px,#484df0 9.5px,#4757f7,#4758f8 11.5px,#4757f7 34.5px,#4759f8,#4465fd 36.5px,#416bfe 40.5px,#3d71ff,#2e83f9 42.5px,#2d8bf4 44.5px,#2e86f8 47.5px,#327cfc 48.5px,#2e86f8 52.5px,#2f82f9,#4367fd,#465efb 55.5px,#475af9 58.5px,#475cfa,#3f6eff,#3975fe 61.5px,#4369fe 66.5px,#2f80fa,#307ffb 70.5px,#2e85f8,#23a0e5,#0db3d4,#11beba,#27c2ac,#1dc0b2,#01b8c8,#21a3e3,#2d8af4,#3c71ff,#4368fd,#3c72ff,#2e83f9,#2d8cf3,#3479fd,#426afe,#3579fd,#2a92ee,#21a3e4 89.5px,#2a93ee 92.5px,#3677fe 94.5px,#347afd,#2896ec,#14b0d8,#11beb9,#34c79b,#1ea7e1,#2d89f5,#259ce7,#269ae9,#3677fe,#2d8df2,#2d88f6,#4755f6,#4849ed,#4850f3,#4851f3 110.5px,#4848ec 112.5px,#465ffb,#2797eb,#2d8af5,#4661fc,#4758f8,#4368fd,#4563fd,#484df1,#6c72f4 121.5px)"></i><i style="background:linear-gradient(#7d75e5 .5px,#4538d8 1.5px,#4537d5 5.5px,#463ee1 10.5px,#4743e7 19.5px,#4741e5 23.5px,#463de0 24.5px,#4536d2 34.5px,#4536d4,#463bdd 36.5px,#463de0,#4849ed,#484ff2 45.5px,#4743e8 49.5px,#4745e9,#473ee1 55.5px,#463bde 59.5px,#463ee1 62.5px,#4435d2 66.5px,#463ada,#4536d4 70.5px,#4538d8,#484cef,#4759f8 73.5px,#406dfe 75.5px,#416bfe,#4563fc 77.5px,#484aee 79.5px,#4745e9 80.5px,#4849ed 82.5px,#4743e7 86.5px,#4854f6 88.5px,#4755f6,#484ff2 90.5px,#4755f6,#484cf0,#4759f8 96.5px,#4465fd 97.5px,#2f81fa 99.5px,#416bfe,#465ffb,#416bfe,#4367fd,#4757f7,#475bfa,#4759f8,#4747eb,#4744e8,#484df0 109.5px,#4745ea 112.5px,#484cef,#4660fc 114.5px,#4849ed 117.5px,#4852f4,#4850f3,#4740e3,#6c69ec 121.5px)"></i><i style="background:linear-gradient(#7b6fd8 .5px,#4331c6 1.5px,#422fc0 3.5px,#4230c4,#4536d3 11.5px,#463adc 16.5px,#463adb 19.5px,#4332c8 31.5px,#4435d2 35.5px,#463ddf 38.5px,#4746ea 42.5px,#4747ec 45.5px,#463ddf 53.5px,#463cde 62.5px,#4536d4 66.5px,#4639d9 69.5px,#4536d4 71.5px,#4743e7 76.5px,#463ada,#4740e4 82.5px,#463cdf 84.5px,#473fe3 85.5px,#463de0 87.5px,#4331c5 90.5px,#4538d8 92.5px,#4743e7 95.5px,#4747eb,#4850f3,#4740e4 101.5px,#473ee1 105.5px,#4435d1 107.5px,#4435d0,#463cde 109.5px,#4536d4 112.5px,#4537d6,#473fe3,#4740e4 115.5px,#463cde,#473fe3 119.5px,#4537d5,#6b63e4 121.5px)"></i><i style="background:linear-gradient(#7d73e1 .5px,#463bdd 1.5px,#463ee1 40.5px,#4741e5,#4758f8,#475bf9 43.5px,#4759f9 81.5px,#4757f7,#4743e7,#4742e6,#4747eb 85.5px,#473fe3,#4331c7 89.5px,#4330c5,#4434cf 91.5px,#4331c6 93.5px,#4331c6 94.5px,#4434ce 96.5px,#4434cd,#4538d8,#4538d7 99.5px,#422ec0 101.5px,#422ec0 102.5px,#4435d1 105.5px,#4330c5,#422fc2,#4330c5,#4536d3,#4538d8 110.5px,#4536d3,#4539d9 116.5px,#4537d5 117.5px,#4539d9 119.5px,#4435d1,#6b61e2 121.5px)"></i><i style="background:linear-gradient(#7c71de .5px,#4535d2 1.5px,#4535d2 5.5px,#4331c8 14.5px,#4332c9,#4536d5 28.5px,#4331c8,#4331c7 40.5px,#4332ca,#463cde,#463de0 43.5px,#463de0 81.5px,#463cdf,#4538d7 83.5px,#4744e8 85.5px,#4744e9 86.5px,#4536d3 89.5px,#4537d5,#463bdd 91.5px,#4536d4 93.5px,#4538d7 96.5px,#4433cd,#4435d1 98.5px,#402bb7 101.5px,#412cba 103.5px,#4331c7,#4434ce,#412cba,#402bb6,#412cb9 108.5px,#463cdf 112.5px,#463adb,#4433cd,#4536d4 115.5px,#463cde 119.5px,#4537d6,#6b61e1 121.5px)"></i><i style="background:linear-gradient(#7a6cd1 .5px,#412dbd 1.5px,#4433cd 8.5px,#4332ca 17.5px,#4536d3 24.5px,#4230c4 34.5px,#422fc0 41.5px,#4230c4 44.5px,#422fc1 53.5px,#4535d2 58.5px,#4435d0 60.5px,#412ebe 65.5px,#422ec0 67.5px,#4433cd,#422fc0 73.5px,#4332c9 75.5px,#422fc0,#422ebf 81.5px,#4536d3 85.5px,#4435d1 86.5px,#4230c3 88.5px,#4538d8 91.5px,#4536d4 93.5px,#4538d8 96.5px,#4435d0,#4537d6 98.5px,#422ebf 101.5px,#422fc2 102.5px,#4741e5 105.5px,#4536d4,#4433cb 107.5px,#43c 109.5px,#4539d9 112.5px,#4536d4,#4230c4,#4433cd 115.5px,#4435d0 119.5px,#4331c6,#685ad2 121.5px)"></i><i style="background:linear-gradient(#7b6ed6 .5px,#4331c8 1.5px,#4537d6 5.5px,#4538d8 7.5px,#422ebf 17.5px,#4332c9 33.5px,#422fc1 52.5px,#4331c7 62.5px,#422ebf 65.5px,#4434cf,#4331c7 73.5px,#4434ce 76.5px,#4332c9 81.5px,#4537d5 85.5px,#4537d5 86.5px,#4331c6 88.5px,#4230c3 89.5px,#4435d0 92.5px,#4331c7 94.5px,#4332c9 95.5px,#4535d2 97.5px,#463bdd 98.5px,#43c 101.5px,#4741e5 105.5px,#4537d5 106.5px,#4332ca,#422fc1,#4332cb 112.5px,#4331c8,#402bb8,#422fc2 115.5px,#412dbd 117.5px,#422fc1 120.5px,#6859d0 121.5px)"></i><i style="background:linear-gradient(#7a6cd1 .5px,#422ebe 1.5px,#422ebf 3.5px,#4433cd 7.5px,#4332c9 16.5px,#4639da 26.5px,#463cdf 32.5px,#4434ce,#4536d4,#412ebe,#4230c4 64.5px,#4539d9 70.5px,#4435d1 73.5px,#4538d8 77.5px,#4332c9 80.5px,#4330c5,#4331c6,#4536d3 86.5px,#4230c4,#4434ce 92.5px,#422fc2 94.5px,#4331c8,#4536d5 96.5px,#463cdf 98.5px,#4435d0 101.5px,#463de0 105.5px,#4434cf,#4434cf 107.5px,#412dbd,#4332c8 113.5px,#412dbc,#4330c5,#4330c5,#412dbd,#422fc0 118.5px,#402bb7 120.5px,#6756c7 121.5px)"></i><i style="background:linear-gradient(#7d72e0 .5px,#4536d3 1.5px,#4434cd 5.5px,#412dbc 10.5px,#412dbd 17.5px,#422fc3 21.5px,#4435d1 26.5px,#463adb 34.5px,#4435d1 47.5px,#4330c5 54.5px,#4331c8 56.5px,#4537d6 59.5px,#463cdf,#4848ec 69.5px,#4741e5 72.5px,#473fe2,#4433cd 80.5px,#4331c8,#4434cf,#473ee1 86.5px,#463de0,#4746ea 92.5px,#4741e5,#4747eb,#4745e9,#463bdc 100.5px,#43c,#4332ca 102.5px,#4433cd 104.5px,#4536d3,#4331c6,#4433cd 107.5px,#4435d0 109.5px,#4332c9 110.5px,#4332c9 112.5px,#463ada 115.5px,#463adc 116.5px,#4639d9 118.5px,#4434cf,#43c,#695cd6 121.5px)"></i><i style="background:linear-gradient(#7b6fd8 .5px,#4331c7 1.5px,#4331c7 16.5px,#463ada 26.5px,#4536d3 40.5px,#412dbb 52.5px,#412dbc 56.5px,#4331c7,#4331c7 60.5px,#4537d6 69.5px,#422fc1 81.5px,#473ee1 86.5px,#463adb 89.5px,#4741e5 93.5px,#473fe2,#4743e7 95.5px,#4742e6 98.5px,#463de0,#473fe2 100.5px,#4435d2 102.5px,#4536d4,#4434ce,#4535d2,#4434cd,#4538d8,#463adb 108.5px,#4535d2 110.5px,#4536d3,#43c 112.5px,#4537d5,#4332c9,#4435d0 118.5px,#4331c7,#4230c3,#6859ce 121.5px)"></i><i style="background:linear-gradient(#7a6cd1 .5px,#422ebe 1.5px,#4433cd 11.5px,#4433cd 18.5px,#4639d9 24.5px,#463adc 29.5px,#422ebf,#412dbd 55.5px,#4332ca 58.5px,#4332ca 60.5px,#4537d5 65.5px,#4536d3 78.5px,#4433cb 81.5px,#463de0 85.5px,#463ddf 86.5px,#4433cd 88.5px,#4332ca,#4434ce 90.5px,#4433cb 92.5px,#4434cf,#4331c8,#4434ce 95.5px,#4433cd 97.5px,#4537d5,#4435d1,#4537d5 100.5px,#4230c4 102.5px,#4332c9,#412ebe 104.5px,#4230c4,#463ee1 108.5px,#4537d5 109.5px,#4331c8 112.5px,#4332c9,#4435d1,#422fc3,#422fc0 116.5px,#4433cd 118.5px,#4230c4,#422fc1,#6758cb 121.5px)"></i><i style="background:linear-gradient(#7c71dc .5px,#4434ce 1.5px,#4537d6,#4537d6 15.5px,#4742e6 25.5px,#463ee1 30.5px,#4230c4 38.5px,#412ebe 42.5px,#4535d2 48.5px,#4435d1 55.5px,#4539d9 58.5px,#4434ce 62.5px,#4331c6 69.5px,#4536d2 73.5px,#4535d2 76.5px,#463cdf 81.5px,#4745e9 84.5px,#4537d5 88.5px,#4537d5 91.5px,#463de0 93.5px,#4536d3 96.5px,#463adb 98.5px,#4536d3 99.5px,#4435d0 101.5px,#4330c4,#43c,#422ebf 104.5px,#422fc2,#4740e4 108.5px,#4537d6 109.5px,#4432cb 111.5px,#4433cd 112.5px,#463bdd 114.5px,#4433cd,#4433cd 116.5px,#4537d6 118.5px,#4433cd,#4434cd,#695dd8 121.5px)"></i><i style="background:linear-gradient(#7b6fd7 .5px,#4331c8 1.5px,#4536d4,#4536d3 15.5px,#473fe3 24.5px,#4742e6 30.5px,#463ee1 35.5px,#4331c6 43.5px,#4332ca 48.5px,#4332c8 52.5px,#463ada,#4434cf 66.5px,#422fc3 69.5px,#4434cf 73.5px,#4332c9 76.5px,#463cde 80.5px,#4742e6 83.5px,#463ddf 87.5px,#4747eb 95.5px,#4745e9 98.5px,#463ee1 99.5px,#463ddf,#4536d3 103.5px,#4330c5,#4331c7,#422fc3,#43c,#463cde,#43c,#4331c6,#4330c4 111.5px,#4538d7 113.5px,#4538d7,#422ebf,#412cb9 116.5px,#422fc3 118.5px,#412cba,#412dbc,#6859ce 121.5px)"></i><i style="background:linear-gradient(#7b6ed5 .5px,#4331c6 1.5px,#4538d7 8.5px,#4537d6 22.5px,#4741e5 32.5px,#463ee1 35.5px,#4332c8 43.5px,#4331c8 47.5px,#412ebe 53.5px,#4331c6 60.5px,#4331c7 68.5px,#463adc 73.5px,#463ada 76.5px,#473fe2 78.5px,#4744e8 82.5px,#4848ec 93.5px,#4744e8 94.5px,#4849ed,#473ee2 102.5px,#43c 104.5px,#4536d2,#4433cd 106.5px,#463cde 108.5px,#4434cf,#4433cb 110.5px,#4332cb 112.5px,#4537d6,#4537d5,#422fc1,#412cba,#412dbb,#4230c4,#412cbb,#412cb9,#6758cb 121.5px)"></i><i style="background:linear-gradient(#7c70dc .5px,#4433cb 1.5px,#4332c9 12.5px,#422fc2 17.5px,#4331c8 23.5px,#4537d5 26.5px,#463de0,#4538d7,#422ebf 41.5px,#422fc2 51.5px,#412dbd 55.5px,#4433cb 60.5px,#43c 68.5px,#4536d5,#4536d3 76.5px,#463cde 78.5px,#4538d8 88.5px,#4743e7 93.5px,#4741e5 94.5px,#484ff2,#484cef 102.5px,#4742e6 104.5px,#4848ec,#4746ea 106.5px,#484df0 108.5px,#4743e7 111.5px,#463de0 112.5px,#4740e4 114.5px,#4639da,#4537d6,#4537d6,#463bdd,#4435d1,#4434ce,#695dd9 121.5px)"></i><i style="background:linear-gradient(#7d74e4 .5px,#4538d7 1.5px,#4434cf 8.5px,#4434ce 16.5px,#4639da 28.5px,#4435d2 37.5px,#4330c5 42.5px,#4230c3 46.5px,#4332c9 51.5px,#4330c5 54.5px,#4435d2 61.5px,#4435d2 76.5px,#463adb 78.5px,#4537d5 88.5px,#463ee1 93.5px,#4538d8 95.5px,#463ee1 98.5px,#463bdc,#463cde,#4537d5,#4639d9 102.5px,#4537d6 104.5px,#463ee1 105.5px,#4744e8 108.5px,#463bdd 112.5px,#473fe3 114.5px,#463adb,#4639da 116.5px,#4740e4 118.5px,#463adb,#4538d8,#6b60e0 121.5px)"></i><i style="background:linear-gradient(#7b6ed5 .5px,#4230c3 1.5px,#4435d1 10.5px,#4538d8 37.5px,#4331c8 53.5px,#4332c8 57.5px,#4537d5 62.5px,#4332ca 71.5px,#4435d0 74.5px,#4332ca 76.5px,#4332cb 80.5px,#4435d2 82.5px,#4331c6 86.5px,#4330c5 88.5px,#4535d2 89.5px,#4747ec 93.5px,#4740e3 95.5px,#4744e8 98.5px,#473ee1,#473fe2,#4538d8 101.5px,#4639d9 104.5px,#463ee1 105.5px,#473fe2 107.5px,#4639da 110.5px,#4538d7 114.5px,#4433cb,#4332c9 116.5px,#4536d5,#422fc3 120.5px,#6858cc 121.5px)"></i><i style="background:linear-gradient(#7c70db .5px,#43c 1.5px,#4536d3 10.5px,#4435d1 16.5px,#4537d6 32.5px,#4331c6 43.5px,#4330c4 51.5px,#4535d2 61.5px,#4331c6 68.5px,#4332c9 71.5px,#4537d5,#4639d9 75.5px,#4434cf,#4435d1 83.5px,#4230c3 86.5px,#4230c4 88.5px,#4435d2 89.5px,#4743e7 92.5px,#4746eb 93.5px,#4742e6 95.5px,#4745e9 98.5px,#463de0,#463cdf,#4535d2,#4435d0 102.5px,#4535d2,#463ee1,#4537d7,#4536d4,#4741e5,#463adb 114.5px,#4434cf,#4433cb,#4537d5,#4539d8,#4539d9,#4434d0,#695bd4 121.5px)"></i><i style="background:linear-gradient(#7a6cd1 .5px,#412ebe 1.5px,#4434cf 10.5px,#4537d5 20.5px,#4537d6 32.5px,#4332ca 51.5px,#4434cd 59.5px,#4537d6 63.5px,#4433cb 66.5px,#4332ca,#4435d1,#4433cd 78.5px,#4536d4 87.5px,#4435d0,#4539d9 89.5px,#473ee1,#463adc 95.5px,#473fe2 97.5px,#473fe2 98.5px,#4434ce 101.5px,#4434ce,#4536d3,#4535d2 104.5px,#473fe2 106.5px,#4538d7 110.5px,#4639d9,#4741e5 112.5px,#4230c3 116.5px,#4331c8,#422fc0,#4331c7,#412dbb,#6756c7 121.5px)"></i><i style="background:linear-gradient(#7a6cd0 .5px,#412dbd 1.5px,#4332ca 11.5px,#4434ce 23.5px,#463de0 34.5px,#463cde 42.5px,#4330c5 51.5px,#422fc1,#4331c8,#4538d8,#4435d0 67.5px,#4537d5 70.5px,#4435d0 77.5px,#463ee1 88.5px,#4742e6 89.5px,#4743e8 92.5px,#4538d8 96.5px,#463bdd,#463adc,#4536d3,#4435d1 100.5px,#4538d7 103.5px,#43c,#4332c9,#4435d0,#4433cb 107.5px,#4536d4,#4434ce 111.5px,#463ada 112.5px,#4434cf,#43c 116.5px,#4434cf,#422ec0,#4331c7,#402cb8,#6655c4 121.5px)"></i><i style="background:linear-gradient(#7b6dd4 .5px,#4230c3 1.5px,#4538d8 11.5px,#4639da 24.5px,#463ee0 33.5px,#4538d8 39.5px,#422ec0 47.5px,#412dbc 53.5px,#463cde 64.5px,#463bdc 71.5px,#4537d5,#4538d8,#4332c9 80.5px,#4332c9 81.5px,#4434cf 83.5px,#4433cd 86.5px,#463adb 91.5px,#473fe3 92.5px,#4639da 95.5px,#4535d2,#4538d7,#4536d4 98.5px,#4332c9,#463ada 102.5px,#4639da,#4332ca,#4230c4,#4332cb,#4230c4 107.5px,#4538d7,#4536d3 111.5px,#463bdd 112.5px,#4537d5 114.5px,#4538d7 117.5px,#4230c3,#4332c9,#412dbc,#6756c8 121.5px)"></i><i style="background:linear-gradient(#7a6cd0 .5px,#412ebe 1.5px,#4538d8 12.5px,#463ee1 21.5px,#463adb 28.5px,#412dbc 47.5px,#422ebe 57.5px,#4539d9 65.5px,#463adc 71.5px,#4535d2 75.5px,#4536d4 77.5px,#422fc1 80.5px,#422ec0 81.5px,#4332c9 86.5px,#463bdd 89.5px,#473ee1 91.5px,#4744e9 92.5px,#463ddf 96.5px,#473fe3 97.5px,#463adc 99.5px,#4741e4 102.5px,#473ee1 103.5px,#4435d1 105.5px,#4538d7,#4435d0 107.5px,#463ada 109.5px,#4435d1 110.5px,#463ee0 112.5px,#4537d6 116.5px,#4434cf,#422ebe,#422fc2,#412cbb,#6655c5 121.5px)"></i><i style="background:linear-gradient(#7a6dd2 .5px,#412ebe,#412dbd 2.5px,#422fc2 8.5px,#4639d9 20.5px,#4537d6,#422ebe 40.5px,#4331c6 51.5px,#422fc2 55.5px,#4434ce 66.5px,#422fc1 80.5px,#4435d0 85.5px,#463bde 87.5px,#4743e7 90.5px,#4746ea,#4740e3,#4740e4 96.5px,#4747eb 97.5px,#4740e4 102.5px,#4433cd 105.5px,#4537d5,#4434d0,#4538d8,#463ada,#4537d6 110.5px,#4746ea,#4744e8 114.5px,#4332ca 118.5px,#4331c7 120.5px,#6758cb 121.5px)"></i><i style="background:linear-gradient(#7b6dd3 .5px,#422fc2 1.5px,#4434cf 11.5px,#4434cf 24.5px,#4331c7 36.5px,#4433cb 44.5px,#4537d5 49.5px,#4536d4 51.5px,#4330c5 55.5px,#422ebf 60.5px,#422fc2 62.5px,#4536d3 66.5px,#4538d7 68.5px,#4434cf 83.5px,#4538d7 86.5px,#4536d3 88.5px,#473fe3 92.5px,#4537d5 94.5px,#4536d5,#4537d5,#463ee1,#473fe3 98.5px,#4332ca 103.5px,#4331c6 105.5px,#43c,#4332ca,#4537d5 108.5px,#4535d2 110.5px,#463de0,#4741e5 112.5px,#463cde,#4330c5,#422fc1,#4434ce 120.5px,#695ad2 121.5px)"></i><i style="background:linear-gradient(#7c71de .5px,#4434cf 1.5px,#422ebf 8.5px,#4330c5 20.5px,#422ebf 42.5px,#4434cf 50.5px,#422fc2 55.5px,#422ec0 61.5px,#4230c3 63.5px,#4537d5 67.5px,#4435d1 76.5px,#4537d7,#4434ce 82.5px,#473fe2 86.5px,#463bdc 88.5px,#4740e4 92.5px,#4539d9 95.5px,#4538d8,#463ddf,#463de0 98.5px,#4537d6 100.5px,#4639da 101.5px,#4536d3 103.5px,#4538d8,#4536d4 105.5px,#4538d8 107.5px,#473ee1 108.5px,#4740e4 110.5px,#484aee,#484cef 112.5px,#484cf0,#473fe3 116.5px,#463bdc 119.5px,#463cde,#6a5fde 121.5px)"></i><i style="background:linear-gradient(#7c70dc .5px,#43c 1.5px,#4230c4,#4331c8 25.5px,#412dbc 41.5px,#412dbd 46.5px,#4332c9 57.5px,#4332c9 64.5px,#4537d6 68.5px,#4537d5,#4639da,#4537d5 77.5px,#463adb 79.5px,#4639da 80.5px,#4433cd 82.5px,#43c 83.5px,#4538d8 85.5px,#4539d9 86.5px,#4537d6 95.5px,#4536d3,#4332c9,#4435d1,#4230c3 103.5px,#4332cb 104.5px,#4331c7 106.5px,#4332cb,#4536d4,#4535d2,#4639d9,#4743e7 111.5px,#4741e5 113.5px,#4746eb 114.5px,#4742e6 117.5px,#463adb 118.5px,#4539d9 120.5px,#6a5eda 121.5px)"></i><i style="background:linear-gradient(#7c72df .5px,#4435d1 1.5px,#4536d4 5.5px,#43c 24.5px,#412dbd 35.5px,#412dbd 47.5px,#4331c6 50.5px,#4536d3 59.5px,#4435d1 65.5px,#463adc 68.5px,#463cde 76.5px,#4742e6 79.5px,#4742e6 80.5px,#4639d9 83.5px,#463de0 85.5px,#463adb 89.5px,#4434cf,#463adb 95.5px,#4434ce 99.5px,#463adb,#4332c9 103.5px,#4434ce 104.5px,#43c 106.5px,#4434d0,#463ada 108.5px,#473fe2 110.5px,#4848ec 111.5px,#463ee1 113.5px,#4744e8 114.5px,#473ee1 117.5px,#4536d5,#4537d6,#4538d8,#6a5fde 121.5px)"></i><i style="background:linear-gradient(#7c71dc .5px,#4434ce 1.5px,#463cde 11.5px,#463ee1 24.5px,#463cde 28.5px,#4330c5 35.5px,#412ebd 41.5px,#422fc2 54.5px,#4538d7 60.5px,#4741e5 69.5px,#463bdd 75.5px,#4742e6 80.5px,#463cde 83.5px,#4639d9,#4740e4 95.5px,#4539d9,#4740e4 101.5px,#4538d7 103.5px,#4434cf 106.5px,#463bdd,#463cde 110.5px,#4743e7 111.5px,#4537d5 113.5px,#4639da 114.5px,#4539d9 117.5px,#43c 118.5px,#4535d2 120.5px,#6a5edc 121.5px)"></i><i style="background:linear-gradient(#7d73e2 .5px,#4537d6 1.5px,#4741e5 17.5px,#463cde 28.5px,#4332ca 40.5px,#43c 45.5px,#422fc2 54.5px,#4330c5 56.5px,#4536d3 59.5px,#463bdd 66.5px,#4742e6 69.5px,#4744e8 71.5px,#463cde,#4742e6,#4639da 83.5px,#43c 90.5px,#473fe3 93.5px,#473fe3,#463ada 97.5px,#4434cf 98.5px,#4536d3 102.5px,#4331c6,#4331c8 104.5px,#422fc1 106.5px,#422fc3,#4434cd 108.5px,#4435d0 110.5px,#463adb 111.5px,#4332ca 113.5px,#463adb 117.5px,#4536d4 118.5px,#463bdd 120.5px,#6b64e6 121.5px)"></i><i style="background:linear-gradient(#7c71dd .5px,#4434ce 1.5px,#4435d0 5.5px,#463cdf,#4743e7 15.5px,#463ee1 30.5px,#4435d0 41.5px,#4535d2 46.5px,#4331c7 55.5px,#4537d5 60.5px,#4536d2 62.5px,#4537d6,#463cdf 70.5px,#4434cd 75.5px,#463cde 79.5px,#4536d4,#4537d5 85.5px,#4230c3 90.5px,#4330c5 91.5px,#4538d7,#463ddf,#4539d9 97.5px,#4434ce 98.5px,#4434ce,#463adb 102.5px,#4435d1 103.5px,#4537d5,#4740e3 111.5px,#4435d0,#4435d0,#463de0 117.5px,#4538d8 118.5px,#4537d5 120.5px,#6a5fde 121.5px)"></i><i style="background:linear-gradient(#7c70da .5px,#4332ca 1.5px,#4332c9 4.5px,#463bdd,#463ddf 26.5px,#463adc,#4434cf 34.5px,#4332c8 40.5px,#4332ca 52.5px,#422fc3,#43c 60.5px,#4332ca 62.5px,#463ddf 71.5px,#4434d0,#4434d0 81.5px,#4639d9 85.5px,#4536d3 87.5px,#4536d5 88.5px,#422fc2 91.5px,#422fc2 92.5px,#4536d4,#463bdd 96.5px,#4639d9,#4433cb 98.5px,#422fc2 100.5px,#4331c7,#4537d6,#4332ca 103.5px,#463de0,#463adb 109.5px,#4741e5,#4537d6,#4536d4 115.5px,#4537d5,#463ee1 117.5px,#4434cf 120.5px,#695cd7 121.5px)"></i><i style="background:linear-gradient(#7c70db .5px,#4332cb 1.5px,#422fc1 7.5px,#43c 29.5px,#412ebe 34.5px,#422fc1 51.5px,#412dbd 57.5px,#4230c4 60.5px,#422fc0 62.5px,#4332c9 67.5px,#463bdd 71.5px,#463bdd 72.5px,#4331c7 80.5px,#4538d7 84.5px,#4536d3 87.5px,#4538d7 88.5px,#4535d2 91.5px,#4639da 96.5px,#4535d2 98.5px,#4537d6,#4536d3,#463adb,#4745e9,#4740e3 103.5px,#484bee,#4740e4 109.5px,#4747eb 111.5px,#4745e9 114.5px,#463ada 116.5px,#473fe2,#463cde,#4435d2,#43c,#695bd3 121.5px)"></i><i style="background:linear-gradient(#7a6dd2 .5px,#422ebe 1.5px,#412dbc 5.5px,#4433cd 19.5px,#4332ca 24.5px,#412dbb 34.5px,#422fc1 43.5px,#422fc1 57.5px,#4331c8 60.5px,#422fc2 67.5px,#4536d4 72.5px,#4433cd 79.5px,#4539d9 82.5px,#463adc 87.5px,#4740e3 91.5px,#4538d7 94.5px,#43c 95.5px,#43c 98.5px,#4536d4,#43c,#4536d3,#473fe3,#463bdd,#463ddf,#4746ea,#4849ed 106.5px,#463adb,#4539d9,#4434ce 112.5px,#4639d9,#463cde,#4536d3,#4435d0,#4538d8,#4536d4,#422fc1,#412dbd,#6756c7 121.5px)"></i><i style="background:linear-gradient(#7a6bce .5px,#412cba 1.5px,#412dbb 9.5px,#4434ce 21.5px,#43c 24.5px,#412cbb 29.5px,#412cba 35.5px,#43c 43.5px,#4332cb 52.5px,#463adb 63.5px,#4537d6 71.5px,#4639da 75.5px,#4435d1 82.5px,#4539d9 87.5px,#4743e7 91.5px,#4433cd 98.5px,#4536d3,#4331c8,#43c,#4639da,#4536d3,#4537d7 104.5px,#4745ea 106.5px,#463bdd 107.5px,#4538d7 110.5px,#4331c8,#422ec0,#4535d2,#4538d8 114.5px,#4536d4 117.5px,#43c,#412cb9,#412cb9,#6654c2 121.5px)"></i><i style="background:linear-gradient(#7a6ccf .5px,#412dbb 1.5px,#412cb9,#412cb9 9.5px,#4330c5 14.5px,#4331c7 18.5px,#412cba,#422ec0 38.5px,#412dbd 41.5px,#4331c6 47.5px,#4331c6 55.5px,#4536d3 62.5px,#4535d2 67.5px,#4332c8,#4536d3 75.5px,#4435d1 80.5px,#4332ca 82.5px,#4537d5 85.5px,#4435d2 90.5px,#4538d8,#4435d1,#4537d6,#4433cb 98.5px,#4536d4,#4433cd 100.5px,#463adc,#4332c9 104.5px,#43c,#463cde,#4435d0 107.5px,#463bdd 110.5px,#4536d4 112.5px,#463de0 113.5px,#4639da 117.5px,#412ebe 119.5px,#412ebe,#6655c5 121.5px)"></i><i style="background:linear-gradient(#7c72df .5px,#4434ce 1.5px,#412dbd 6.5px,#422fc0 9.5px,#463cde 14.5px,#4742e6 18.5px,#473fe3 21.5px,#4331c7 28.5px,#4536d4 36.5px,#4433cd 56.5px,#463adc 62.5px,#463bdd 65.5px,#4740e4 67.5px,#463ada 70.5px,#473fe2 75.5px,#463bde 82.5px,#4744e9,#4538d7,#4639da 94.5px,#463de0,#4536d4 98.5px,#463bdd,#463ada,#4740e4,#4741e5,#463cde,#4433cd,#4434ce,#4742e6,#4639da 107.5px,#463ee1 109.5px,#4745e9 110.5px,#4849ed 117.5px,#4741e5 118.5px,#463bdd 120.5px,#6a5fde 121.5px)"></i><i style="background:linear-gradient(#7c72e0 .5px,#4434cf 1.5px,#4330c5 6.5px,#4331c7 9.5px,#463de0 17.5px,#4743e7 21.5px,#4538d7 34.5px,#4538d7 55.5px,#4536d3 58.5px,#412dbd 65.5px,#4230c4 68.5px,#4230c3,#4435d0 72.5px,#4741e5 78.5px,#4740e4,#484bef,#4850f2 87.5px,#4745e9 93.5px,#4745e9 96.5px,#463de0,#4742e6 100.5px,#484bee 101.5px,#473fe3 103.5px,#4434ce,#43c,#4740e3,#463cde 107.5px,#4849ed 110.5px,#4747eb,#473fe2 114.5px,#484bee 117.5px,#4745e9 118.5px,#4743e7 120.5px,#6b64e7 121.5px)"></i><i style="background:linear-gradient(#7b6dd4 .5px,#422fc0,#422ebf 2.5px,#4536d3 9.5px,#4539d9 13.5px,#4535d2 20.5px,#4331c7 24.5px,#4435d1 35.5px,#4434d0,#4639da 49.5px,#4536d3 55.5px,#422fc2,#412dbc 65.5px,#4332c9 68.5px,#43c,#4537d6 72.5px,#463ada,#4746ea 78.5px,#4757f7 88.5px,#484ef1 91.5px,#4746ea 98.5px,#4747eb 100.5px,#4853f5 101.5px,#4851f3,#4745e9 105.5px,#484df0 106.5px,#4848ec 108.5px,#4850f2 111.5px,#484cef,#4741e5,#473ee1 114.5px,#4742e6 117.5px,#463de0 118.5px,#4741e4 120.5px,#6b61e2 121.5px)"></i><i style="background:linear-gradient(#7b6dd3 .5px,#422ebf 1.5px,#402bb7,#4230c3,#412cb8 22.5px,#422fc2 34.5px,#412cbb 40.5px,#412ebe 42.5px,#4537d6 47.5px,#463bdd 50.5px,#4537d7 56.5px,#422fc1 60.5px,#412ebe 62.5px,#422fc1 65.5px,#4538d7 69.5px,#4639d9 76.5px,#4747eb 79.5px,#484aed 91.5px,#484ff2 92.5px,#4848ec 95.5px,#484ef1 99.5px,#484bee,#4850f2,#484cf0,#484ff2 103.5px,#4848ec 105.5px,#4848ec,#475bf9 111.5px,#475af9,#4852f4 113.5px,#4853f5 115.5px,#4744e9 118.5px,#484aee 120.5px,#6b65e8 121.5px)"></i><i style="background:linear-gradient(#796acc .5px,#402ab4,#402ab3 2.5px,#402ab5,#4536d3 16.5px,#4435d0,#463cde 28.5px,#473ee1,#463bdd 36.5px,#412cb9 43.5px,#422fc1 48.5px,#4433cd 51.5px,#4539d9 57.5px,#4536d4 59.5px,#422fc0 62.5px,#412cba 66.5px,#422fc2,#4230c3 72.5px,#4435d1 76.5px,#4744e8 79.5px,#4847ec 81.5px,#475cfa 82.5px,#4562fc 92.5px,#4561fc 108.5px,#416bfe 111.5px,#4465fd,#4465fd 115.5px,#4561fc,#4852f4,#484df0,#4851f3,#484df0,#6b63e5 121.5px)"></i><i style="background:linear-gradient(#796aca .5px,#3f29b1,#3f29b1 2.5px,#402ab5 7.5px,#4537d6 13.5px,#463bdc 16.5px,#4537d5 24.5px,#463cde 34.5px,#4537d6,#422ebe 40.5px,#412dbb 41.5px,#422ec0 46.5px,#402bb6 49.5px,#402bb7 50.5px,#4537d5 56.5px,#4639da 58.5px,#4539d9 59.5px,#412dbb 64.5px,#412cb9 66.5px,#4639da 77.5px,#4741e5 79.5px,#4849ed 82.5px,#4848ec 84.5px,#484ef1 88.5px,#475af9 91.5px,#4853f5 95.5px,#4756f7,#4660fc 99.5px,#4661fc 100.5px,#4757f7 102.5px,#4755f6 105.5px,#475cfa,#465dfb,#4759f8 108.5px,#406dfe 110.5px,#3d70ff 111.5px,#416cfe 113.5px,#3875fe,#3f6eff,#4660fb,#4850f3,#4848ec,#484df0,#4746ea,#6a60e0 121.5px)"></i><i style="background:linear-gradient(#7a6bce .5px,#412cb9 1.5px,#412ebe 7.5px,#4435d2 12.5px,#4538d7 15.5px,#4538d7 17.5px,#4332ca,#463bdc 29.5px,#4740e4 34.5px,#4537d6 46.5px,#422ebf,#402bb7 54.5px,#412cba 56.5px,#4332ca 59.5px,#4332c9 65.5px,#4742e6 69.5px,#4743e7 72.5px,#4853f4 79.5px,#475cfa,#475bf9 83.5px,#484ff2 86.5px,#465efb,#4747eb,#484ef1,#4746eb 102.5px,#4851f3 105.5px,#475bf9,#465ffb,#475af9 108.5px,#3d71ff 110.5px,#3e6fff,#4466fd,#426afe,#3777fe 114.5px,#4465fd,#484ff2 118.5px,#4854f5,#4849ed,#6b63e5 121.5px)"></i><i style="background:linear-gradient(#7e76e8 .5px,#463ddf 1.5px,#4740e4 6.5px,#463ddf 12.5px,#422fc0 23.5px,#422ebf,#4330c5,#422ebf 38.5px,#422fc1 40.5px,#4433cd 43.5px,#4434d0 49.5px,#4330c5 53.5px,#422fc2 61.5px,#402bb6 64.5px,#402bb6 65.5px,#4435d1 68.5px,#4537d6 69.5px,#4433cd 72.5px,#473ee2 77.5px,#4741e5,#484df0,#484bee 86.5px,#465ffb,#4746ea 94.5px,#4852f4 96.5px,#4851f4,#4757f7 98.5px,#4850f3,#4740e3,#4740e4 104.5px,#4741e5 105.5px,#4850f2 107.5px,#484cef,#475bf9,#4465fd,#4563fd,#4756f7 112.5px,#4564fd,#4561fc,#4759f8 118.5px,#465efb,#4852f4,#6c6ff2 121.5px)"></i><i style="background:linear-gradient(#7e77e9 .5px,#463cde 1.5px,#4537d6 13.5px,#4330c4 21.5px,#4434cf 27.5px,#463bdd 32.5px,#43c 38.5px,#4434cf 42.5px,#4230c3 45.5px,#412cb9 50.5px,#412dbd 54.5px,#4331c8 57.5px,#4331c8 61.5px,#412dbb,#402ab4 65.5px,#402ab5 66.5px,#4230c4 69.5px,#4230c3 73.5px,#4537d5 76.5px,#463bdd 80.5px,#484bee,#484bef 86.5px,#4759f8,#484bee 94.5px,#4759f8 96.5px,#4758f8 97.5px,#4660fb 99.5px,#4744e8 103.5px,#4742e6 105.5px,#4849ed 106.5px,#4742e6 108.5px,#4757f7,#4367fd,#426afe,#465ffb,#4465fd,#4466fd,#465ffb,#4465fd 116.5px,#475af9 118.5px,#475bf9,#4851f3,#6c6ef1 121.5px)"></i><i style="background:linear-gradient(#7c71dd .5px,#4434cd 1.5px,#4536d4 13.5px,#412dbd 18.5px,#402bb7 22.5px,#4434ce 31.5px,#412dbc 36.5px,#422fc2 40.5px,#4434cf,#4536d2 46.5px,#4330c5 54.5px,#4433cb 56.5px,#4332ca 61.5px,#422ebf 63.5px,#402bb6,#4331c6 69.5px,#4331c6 73.5px,#4745e9 82.5px,#4746ea,#484df0,#475bf9,#4660fb 90.5px,#4660fb 94.5px,#406cfe 96.5px,#426afe 97.5px,#3c72ff 99.5px,#3c71ff 100.5px,#4758f8 103.5px,#4854f5 104.5px,#465efb,#484ef1 108.5px,#465efb,#3e6fff,#3e6fff,#4466fd,#426afe 113.5px,#475af9 115.5px,#4464fd,#4660fb 117.5px,#4745e9 120.5px,#6b65e8 121.5px)"></i><i style="background:linear-gradient(#7c72e0 .5px,#4435d2 1.5px,#4331c6 10.5px,#4331c7 13.5px,#402bb6 18.5px,#402ab4 20.5px,#402bb7 23.5px,#4433cb 31.5px,#4330c5 37.5px,#4433cd,#463adb 43.5px,#4741e5 47.5px,#4744e8 52.5px,#473fe2 58.5px,#4741e5 61.5px,#4538d7 63.5px,#4433cb 66.5px,#4433cd 67.5px,#463de0 70.5px,#4744e8 76.5px,#484ff2 79.5px,#4740e4 86.5px,#4848ec 89.5px,#484cef 94.5px,#475af9 96.5px,#465ffb,#4746ea 104.5px,#484ff2,#4852f4 106.5px,#4745e9 108.5px,#4758f8,#4368fd,#465ffb,#465dfa,#4562fc 113.5px,#4757f8 115.5px,#4466fd,#4562fc 117.5px,#4746eb 120.5px,#6c69ec 121.5px)"></i><i style="background:linear-gradient(#7e78ea .5px,#463bdd 1.5px,#422ebf 6.5px,#3f29b2 9.5px,#3f29b0 11.5px,#402ab3 15.5px,#422fc3 24.5px,#412dbc,#412dbd 30.5px,#402bb6 34.5px,#402bb7 39.5px,#422ebf 42.5px,#463cde 48.5px,#4742e6 51.5px,#4746ea 55.5px,#463ee1 61.5px,#4539d9 63.5px,#4538d7 66.5px,#463ddf 68.5px,#484cef 71.5px,#4850f2 73.5px,#4747eb 76.5px,#4756f6 80.5px,#4853f5 81.5px,#4744e8,#473fe2 85.5px,#4740e4 86.5px,#484bef 88.5px,#4741e5 93.5px,#4756f7 96.5px,#4561fc,#475bf9,#4747eb,#484cef 104.5px,#465efb,#465efb,#4853f5,#484ff2,#4465fd,#3974fe,#426afe 111.5px,#3a73fe 114.5px,#426afe,#3e6fff 116.5px,#465ffb,#4854f5 120.5px,#6c76f7 121.5px)"></i><i style="background:linear-gradient(#7e76e8 .5px,#4639d9 1.5px,#412cb8 7.5px,#402ab3 19.5px,#402ab3 27.5px,#412dbb 31.5px,#412dbb 34.5px,#463ddf 54.5px,#4537d6 58.5px,#412ebe 63.5px,#422ebf 66.5px,#463de0 72.5px,#473ee2 76.5px,#475af9 81.5px,#4756f7,#416bfe 87.5px,#416cfe 88.5px,#475cfa 91.5px,#475af9 93.5px,#465ffb 94.5px,#4660fb 97.5px,#426afe,#4466fd,#475cfa,#484aee,#4745e9 102.5px,#4757f7 104.5px,#3b72ff,#3975fe,#4464fd,#4660fc 108.5px,#337afd 110.5px,#3f6fff,#3080fa,#307ffb 113.5px,#426afe,#4759f8 117.5px,#484cef 120.5px,#6c73f5 121.5px)"></i><i style="background:linear-gradient(#7f7ff2 .5px,#484aee 1.5px,#4743e7 10.5px,#4639d9 17.5px,#463ee0 19.5px,#4639da 28.5px,#4742e6 31.5px,#473fe2 35.5px,#4744e8 40.5px,#473fe2 43.5px,#4743e7 44.5px,#484ef1 52.5px,#484df0,#4741e5,#463cde,#4434d0,#43c 57.5px,#4331c6 63.5px,#4433cb 65.5px,#463ee1 66.5px,#4745e9 69.5px,#4852f4 71.5px,#475bf9 74.5px,#4852f4 80.5px,#4855f6 83.5px,#4759f8,#4465fd,#3579fd,#2e84f8 87.5px,#3777fe 90.5px,#2e87f7,#2b90f0,#2e84f9 96.5px,#2f81fa,#2d87f6,#317efb,#426afe,#4850f2,#4747eb,#4851f3,#4562fc,#3776fe,#3080fa,#3c71ff,#406dfe 108.5px,#2f81fa 110.5px,#347afd,#2d88f6 112.5px,#3876fe,#4563fd 116.5px,#484ff1 120.5px,#6c74f6 121.5px)"></i><i style="background:linear-gradient(#7e8bfb .5px,#4269fe 1.5px,#4269fe 17.5px,#3e6fff,#2797eb,#259ce7 20.5px,#259ce7 42.5px,#239fe5,#08b4d0,#03b7cc 45.5px,#01b7ca 52.5px,#11b1d6,#3e6fff,#475cfa,#4538d8,#4434cf 57.5px,#4536d3 64.5px,#4740e4,#2b91ef,#259be8 67.5px,#249de6 73.5px,#259be8,#2d88f6,#2d88f6,#2c8ff1,#2e86f7,#2e84f9 79.5px,#2e83f9 84.5px,#2994ed,#5ccc76,#71cd64,#79cc5e 88.5px,#79cc5e 90.5px,#4dcb82,#03bbc3,#01b9c6,#03b7cc,#04bbc1,#a2c840,#a8c73b,#b5c533,#40ca8d,#2797eb,#46cb88,#01b8c9,#2b92ef,#1da9e0,#08b5d0,#06b5cf,#22a2e4 107.5px,#2d8cf3 110.5px,#2c8ef1 112.5px,#3776fe,#426afe 114.5px,#4367fd,#484ff2 120.5px,#6c6ef1 121.5px)"></i><i style="background:linear-gradient(#7e8efc .5px,#4562fc 1.5px,#4562fc 17.5px,#4368fe,#2d8cf3,#2b91ef 20.5px,#2c8ff0 41.5px,#2994ed 43.5px,#1da8e0,#1babde 45.5px,#1caadf 52.5px,#20a4e3,#3975fe,#416bfe,#4757f7,#4855f6 57.5px,#4759f8 59.5px,#4464fd 60.5px,#4269fe 64.5px,#3677fe,#06b5cf,#03bbc2 67.5px,#08bcbf 71.5px,#03b7cc 74.5px,#21a3e3,#23a1e4 76.5px,#259ce7 82.5px,#23a0e5 84.5px,#0cb3d3,#fbbc3d 86.5px,#fcbc3d 90.5px,#b0c636,#19bfb5 92.5px,#24c1ae 94.5px,#4ccb83,#f5e128,#f5e227,#f5e228,#acc738,#259be7,#fabb3d,#63cd70,#1da9e0,#02bac5,#20c1b1,#10beba,#14b0d8 107.5px,#249de6 110.5px,#1aabdd,#02bac4,#1fa5e2,#2a92ee 114.5px,#2d89f5 116.5px,#327cfc,#3f6efe 118.5px,#4367fd 120.5px,#6b80fc 121.5px)"></i><i style="background:linear-gradient(#7d90fd .5px,#4561fc 1.5px,#4564fd,#475cfa,#465ffb 10.5px,#4759f9 14.5px,#475bf9 17.5px,#426afe 19.5px,#426afe 23.5px,#4562fc 26.5px,#465ffb,#4466fd 34.5px,#4562fc 40.5px,#3974fe 45.5px,#3e6fff 47.5px,#4367fd 48.5px,#4564fd 52.5px,#426afe,#4564fd 58.5px,#4269fe,#317dfc,#2e83f9 61.5px,#2a92ee 65.5px,#2895ec 68.5px,#1da8e0 70.5px,#1fa6e2,#259de7,#2d88f6,#3777fe,#3f6efe 75.5px,#2e87f7 77.5px,#3a73fe,#416bfe 79.5px,#4465fd 81.5px,#4755f6,#4759f8,#2d8bf4,#01b8ca,#48cb87,#35c79b,#15bfb8,#01b8c9,#01b7ca,#0eb2d4,#22a1e4,#1da8e0,#12b1d6,#0cbdbc,#67cd6c,#58cc7a,#35c79a,#04b6cd,#2797eb,#07bcc0,#0db3d3,#20a5e2,#02bac5,#04bbc2,#23a1e5,#2c8ef1,#2d8af4 108.5px,#23a0e5 110.5px,#10b2d5,#0bbdbc,#1da9e0 113.5px,#2a92ee 115.5px,#3777fe,#4464fd,#4464fd,#3f6dfe,#3e6fff,#6789fe 121.5px)"></i><i style="background:linear-gradient(#7f83f5 .5px,#4851f3 1.5px,#4756f7,#4854f5 7.5px,#475cfa 11.5px,#4758f8 13.5px,#475bf9 22.5px,#4660fb,#3f6eff,#3e70ff 25.5px,#416bfe 29.5px,#475bf9 30.5px,#4759f9 32.5px,#475dfa,#3a73fe,#3776fe 35.5px,#3776fe 50.5px,#3a74fe,#4563fc,#4367fd 53.5px,#4660fb 57.5px,#4466fd 59.5px,#4660fc,#4367fd,#3777fe 62.5px,#2f82fa 64.5px,#2f81fa,#3c71ff,#416bfe,#406dfe,#347afd,#2d8df2,#2d8df3,#2e85f8,#3678fe 73.5px,#406dfe 75.5px,#2e85f8,#259be8,#249fe6 78.5px,#2d87f6 82.5px,#2a93ee,#06b5cf,#30c5a1,#32c69e,#01b8c9,#259be8,#2e85f8 89.5px,#3e6fff 91.5px,#4465fd,#4464fd,#3080fa,#259ce7,#16afd9,#22a2e4,#2e86f7,#3080fb,#2d8df2 100.5px,#2798ea 102.5px,#1ea7e1,#04bbc2,#09b4d1,#2f81fa,#3e6fff,#3f6fff,#2f81fa,#2994ed,#2c90f0,#2e84f9,#3e70ff,#2f82fa,#2d8af4,#4466fd,#4759f8 117.5px,#4465fd 119.5px,#4465fd,#6c7bfa 121.5px)"></i><i style="background:linear-gradient(#7f87f8 .5px,#4854f5 1.5px,#4745e9 7.5px,#4747eb 11.5px,#4756f7,#4758f8 13.5px,#475af9 22.5px,#4661fc,#3a74fe 24.5px,#3479fd 26.5px,#3a73fe 29.5px,#465ffb,#475cfa 31.5px,#465dfb 33.5px,#3a73fe,#3876fe 35.5px,#317dfc 46.5px,#3876fe 51.5px,#4368fe,#4368fe,#4660fc 54.5px,#4561fc 56.5px,#4759f8 60.5px,#4464fd,#1babde,#0fb2d4,#0eb2d4,#1aabdd,#4465fd,#475af9,#475af9,#4465fd,#20a4e3,#1babde 71.5px,#1ca9df 73.5px,#21a3e3,#3777fe 75.5px,#22a2e4,#10b2d5 79.5px,#10b2d5,#19addc,#1babde 82.5px,#11b1d6 85.5px,#1ca9e0 87.5px,#2d87f7,#307efb,#406dfe,#4757f7,#4747eb,#4745e9,#475af9,#3975fe,#2e85f8,#3875fe,#4465fd,#3974fe,#2d8df2 100.5px,#269be8 102.5px,#1da9e0,#16afda,#22a2e4,#317dfc,#2d88f6,#327cfc,#2e86f7,#259be8,#3678fd,#465ffb,#4464fd,#337afd,#2d8bf4 115.5px,#3776fe 117.5px,#327cfc 118.5px,#3777fe 120.5px,#6b7ffc 121.5px)"></i><i style="background:linear-gradient(#7f80f3 .5px,#484bef 1.5px,#484bee 10.5px,#484df0,#4757f7,#4758f8 13.5px,#4758f8 22.5px,#475cfa,#416afe 24.5px,#3a74fe 27.5px,#3d70ff 29.5px,#465ffb,#475cfa 31.5px,#465ffb 40.5px,#4561fc,#317dfc,#307efb 43.5px,#347afd,#416bfe 51.5px,#416bfe 53.5px,#4660fb 54.5px,#4563fd 56.5px,#4759f8 59.5px,#475bf9,#4466fd,#1aabdd,#0eb2d4,#0eb2d4,#1babde,#4563fd,#4758f8,#4758f8,#4562fc,#22a1e4,#1ca9df 71.5px,#1ca9df 73.5px,#21a3e3,#3776fe 75.5px,#2797ea 77.5px,#22a2e4 80.5px,#23a1e4 84.5px,#2c8ff1,#2d8cf3 88.5px,#2e85f8,#3b72ff,#406dfe 91.5px,#3f6dfe 94.5px,#317efb,#4369fe 98.5px,#347afd,#2b91ef,#22a2e4,#06b5cf,#05b6ce,#259ce7,#2d88f6,#4563fd,#465dfa,#475bf9,#416bfe,#2d89f5,#4367fd,#4757f7 112.5px,#3a74fe,#307ffb 116.5px,#3f6efe,#475dfa,#4853f4,#475bf9,#6c6ff2 121.5px)"></i><i style="background:linear-gradient(#7f88f9 .5px,#4755f6 1.5px,#4852f4 10.5px,#4758f8 13.5px,#4759f8 27.5px,#4755f6 36.5px,#4757f7,#4564fd,#4368fe 39.5px,#4660fb 43.5px,#4561fc 46.5px,#4465fd,#3678fe,#317dfc 49.5px,#3777fe 53.5px,#475dfa 54.5px,#4759f8 58.5px,#475bf9,#3e6fff,#3a73fe,#307ffb,#2f81fa 63.5px,#3777fe 65.5px,#475cfa 66.5px,#4758f8 68.5px,#475bfa,#3c71ff 70.5px,#3080fb,#3776fe 74.5px,#3678fe,#2e86f7,#2d89f5,#337bfd 78.5px,#3479fd 83.5px,#2c8ef2 85.5px,#2b91ef,#2a93ee 87.5px,#2d8af5 89.5px,#23a0e5,#21a4e3 91.5px,#22a2e4 94.5px,#2699e9,#22a1e4 96.5px,#2796eb,#1fa5e2 100.5px,#0fb2d5,#21c1b0,#0cbdbc,#22a2e4,#2798ea,#2f81fa,#465efb,#484df0,#4851f3,#3c71ff,#3678fd,#2e84f8,#249ee6 113.5px,#2c90f0 115.5px,#2b91ef,#3677fe,#475af9,#4850f2,#4561fc,#6c7afa 121.5px)"></i><i style="background:linear-gradient(#7f85f6 .5px,#4852f4 1.5px,#4853f5 5.5px,#484bef 10.5px,#484cf0,#4757f7,#4758f8 13.5px,#4759f8 36.5px,#475bfa,#3975fe,#3678fd 39.5px,#3875fe 41.5px,#406dfe 42.5px,#4269fe 47.5px,#3677fe,#337afd 49.5px,#3b72ff 53.5px,#465efb 54.5px,#475cfa 58.5px,#465efb,#3974fe 60.5px,#2f82fa 63.5px,#3479fd 65.5px,#4660fb,#475cfa 67.5px,#4562fc 69.5px,#3974fe,#3080fb,#2f82f9,#327dfc 73.5px,#2f82f9 76.5px,#3578fd,#4563fd,#4563fd 79.5px,#327bfc,#406dfe 83.5px,#3f6dfe 84.5px,#3975fe 86.5px,#317efb 87.5px,#2b92ee 89.5px,#1ea8e1 90.5px,#18aedb 93.5px,#1caadf,#249de6 95.5px,#23a0e5 97.5px,#2699e9 98.5px,#2798ea 100.5px,#259ce7,#1da9e0,#1fa5e2,#2994ed 104.5px,#21a3e3 106.5px,#2d8cf3,#475cfa,#4758f8,#3479fd,#2b90ef,#1aabdd,#08bcbf,#22a1e4,#317efb,#3975fe,#4464fd 117.5px,#475bfa 119.5px,#426afe,#6b80fc 121.5px)"></i><i style="background:linear-gradient(#7e77e9 .5px,#463de0 1.5px,#4742e6,#463cde 9.5px,#473fe3 11.5px,#4854f5,#4757f7 13.5px,#4758f8 17.5px,#4563fc 22.5px,#4466fd,#3974fe 24.5px,#2f81fa 26.5px,#2f81fa 29.5px,#416bfe,#4465fd 31.5px,#3c72ff 36.5px,#475dfa 40.5px,#4366fd 45.5px,#475af9 48.5px,#4757f7 52.5px,#475af9,#3e6fff,#347afd,#317efb,#327cfc 57.5px,#406dfe 59.5px,#475cfa,#475cfa 61.5px,#4563fc 65.5px,#3a74fe 66.5px,#2f81fa,#249ee6 70.5px,#259ce7,#2d89f5,#317dfc 73.5px,#2c8ff0 76.5px,#2e87f7,#3e6fff,#4368fe,#3678fe,#2b90f0,#2798ea 82.5px,#2e87f7 84.5px,#3479fd,#3b72fe,#317efb 87.5px,#1da8e0 90.5px,#09b4d1,#0cbdbc,#18bfb6,#05b6cd,#15afd8 95.5px,#1babde 97.5px,#2a93ee,#2895ec,#2c8ff0,#2c90f0,#259be7,#239fe5,#2d89f5,#2d8bf4,#19addc,#249de6,#4563fc,#4854f5,#3f6efe,#2e86f8,#2699ea,#259ce7,#307ffb,#4660fc 115.5px,#4367fd 118.5px,#4564fd 120.5px,#6c78f8 121.5px)"></i><i style="background:linear-gradient(#7e7df0 .5px,#4745e9 1.5px,#4743e7 9.5px,#4850f2 16.5px,#4853f5,#465dfa 18.5px,#4660fc 23.5px,#3f6efe,#3a73fe 25.5px,#3776fe 28.5px,#3a74fe,#465dfb 30.5px,#4854f6 32.5px,#4757f7 35.5px,#465dfb 36.5px,#4852f4 39.5px,#475cfa 43.5px,#475cfa 46.5px,#4757f7,#4741e5 48.5px,#4537d6 52.5px,#463bdd,#4561fc,#416bfe,#406cfe 56.5px,#465efb 59.5px,#484bee 60.5px,#4755f6 63.5px,#4755f6 65.5px,#416bfe,#3876fe,#2e86f7,#2698ea,#249ee6,#2896ec,#2e85f8,#337bfd,#3080fa,#2c8ef1,#2797eb,#2c90f0,#3578fd,#4367fd,#4269fe,#2f81fa,#2995ec,#2896ec,#2e86f7,#4368fd,#4758f8,#465ffb,#3a73fe,#2f82f9,#2c8ff1,#22a2e4,#07b5d0,#09bcbe,#10b2d5,#2b90f0,#327cfc,#337bfc 97.5px,#2d8df2 99.5px,#2e85f8,#2e84f8,#259ce7,#19addc,#2d8df2,#3c72ff,#2f82fa,#3a73fe,#4853f5,#484ef1,#4464fd,#4563fd,#4759f8,#4759f8,#4561fc,#4660fb,#3f6fff,#3a73fe,#3b72ff 118.5px,#426afe 120.5px,#6b7dfb 121.5px)"></i><i style="background:linear-gradient(#7f7ff2 .5px,#4849ed 1.5px,#4747eb 14.5px,#484bef 17.5px,#4852f4 18.5px,#4850f3 23.5px,#475bf9 24.5px,#465ffb 26.5px,#475bfa 29.5px,#484cef 30.5px,#4849ed 32.5px,#484cf0 35.5px,#4755f6 36.5px,#4854f5 39.5px,#4759f8,#484bef 47.5px,#4639d9 48.5px,#4538d8 52.5px,#463ddf,#465dfa,#4562fc 55.5px,#4562fc 59.5px,#4755f6 60.5px,#4367fd 63.5px,#4563fd,#3678fe,#2b91ef 69.5px,#2994ed,#2b90f0 71.5px,#317efb 73.5px,#337bfc 74.5px,#3080fb 76.5px,#3678fd,#4368fd,#475cfa,#475af9,#416afe,#3080fa,#2e86f8,#317efb,#416bfe,#4562fc,#4464fd 87.5px,#337bfd 90.5px,#2d8af4 92.5px,#2896eb,#2994ed,#307ffb,#3e6fff,#406cfe 97.5px,#317efb,#3479fd,#2d89f5 103.5px,#3876fe,#475cfa 105.5px,#475bfa 108.5px,#426afe,#4850f2 112.5px,#4853f5,#4465fd 114.5px,#4563fc 117.5px,#4368fd 119.5px,#4464fd,#6c7cfb 121.5px)"></i><i style="background:linear-gradient(#7d75e6 .5px,#463cde 1.5px,#4741e4 6.5px,#473ee2 12.5px,#4746ea,#4744e8 22.5px,#4747eb,#4851f3,#4755f6 25.5px,#4758f8 28.5px,#4756f7,#484ef1 30.5px,#4747eb 35.5px,#484df0 36.5px,#4849ed 39.5px,#484aee 47.5px,#473ee2,#473fe2 49.5px,#4746ea 53.5px,#475cfa 54.5px,#4759f8 56.5px,#475dfa 59.5px,#4757f7 60.5px,#4564fd 64.5px,#4661fc,#4368fe,#3777fe 70.5px,#3678fe,#4466fd,#465dfb 73.5px,#465ffb 76.5px,#4757f7,#4746ea 80.5px,#4661fc 83.5px,#4466fd 85.5px,#406dfe 86.5px,#327dfc 88.5px,#337bfd,#3f6eff,#4466fd,#4464fd 92.5px,#3c72ff,#465efb,#484ff2,#4850f3 100.5px,#465efb 104.5px,#484ef1 106.5px,#4661fc 109.5px,#484ff2 111.5px,#475af9,#484aee,#484bef 120.5px,#6c6cf0 121.5px)"></i><i style="background:linear-gradient(#7d72e1 .5px,#4536d5 1.5px,#463cde 9.5px,#4537d6 16.5px,#4332ca 21.5px,#4433cd 23.5px,#4538d7 24.5px,#473fe2 28.5px,#4639d9 42.5px,#463bdd 47.5px,#4536d4,#4536d4 49.5px,#463de0 53.5px,#4849ed 54.5px,#4850f3 58.5px,#484cf0 61.5px,#4851f3 65.5px,#4849ed 68.5px,#4851f3 70.5px,#484ff2,#4743e7,#473fe3 73.5px,#484cf0 76.5px,#4848ec,#463de0 80.5px,#463ee1 84.5px,#473fe3 85.5px,#4850f2 87.5px,#465dfb,#4561fc 89.5px,#484df1 92.5px,#4850f3,#4742e6,#4435d1 98.5px,#4537d7,#4536d2,#463adc,#463cde,#4740e4,#484ff1,#484ff2,#4747eb 106.5px,#484ef1 109.5px,#4747eb 110.5px,#4759f8 114.5px,#4850f2,#4740e3 118.5px,#463ddf,#473ee1,#6c67ea 121.5px)"></i><i style="background:linear-gradient(#7c70db .5px,#4433cd 1.5px,#4537d5,#4435d1 19.5px,#4538d7 25.5px,#4434ce 32.5px,#422ebe,#422fc0,#4536d4 47.5px,#473fe3 54.5px,#473fe2 58.5px,#4538d8,#463adb,#4332ca 67.5px,#4539d9 71.5px,#4538d8 76.5px,#463cde,#4538d8 84.5px,#4740e3 87.5px,#484df0,#484cf0,#4740e3,#4741e4,#463cde 97.5px,#463cdf,#4744e9 99.5px,#463cdf 102.5px,#463de0,#484bee,#4849ed,#463adb 106.5px,#4537d6,#4538d7 110.5px,#463cdf 111.5px,#4743e7 115.5px,#4741e5 116.5px,#4332cb 118.5px,#4331c6,#43c,#6b60e0 121.5px)"></i><i style="background:linear-gradient(#bdb6ea .5px,#a198e2 1.5px,#a29ded 11.5px,#a3a0f2 29.5px,#a199e6 41.5px,#a29ced 57.5px,#a29cec 64.5px,#a198e2 68.5px,#a198e2 75.5px,#a29ae8 78.5px,#a198e2 82.5px,#a3a5f7 91.5px,#a29ded,#a39eef 95.5px,#a29ceb 96.5px,#a3a0f2 99.5px,#a29bea 103.5px,#a3a0f1,#a39ff1,#a198e3,#a198e2 107.5px,#a3a1f3 114.5px,#a39ef0 116.5px,#a199e6 117.5px,#a097df 120.5px,#b4aeeb 121.5px)"></i></div>
<div class="p" style="left:402px;top:64px;width:142px;height:122px"><i style="background:linear-gradient(#7868c4 .5px,#3e27ab 1.5px,#3e27ab 4.5px,#3f29b2 6.5px,#3e26a8 15.5px,#3f28ad 17.5px,#3f28ae 29.5px,#3e27a9 33.5px,#3f28af 36.5px,#3e27aa 40.5px,#3f29b0 43.5px,#3f29b0,#3e27aa 55.5px,#3f29b1 58.5px,#3e27aa 60.5px,#402bb8 64.5px,#3f29b1 66.5px,#4029b3 69.5px,#3e28ac 71.5px,#402bb7,#3f29b0 83.5px,#402ab5 86.5px,#3f29b2 90.5px,#412cb9,#402ab4 96.5px,#412dbc 102.5px,#412cb9 105.5px,#412cbb 118.5px,#422ebf 120.5px,#6758cb 121.5px)"></i><i style="background:linear-gradient(#7868c4 .5px,#3e27ab 1.5px,#3e27aa 4.5px,#3f28af 6.5px,#3e27a9 20.5px,#3f29b0 25.5px,#3e27ab 31.5px,#3f28af 35.5px,#3e27ab 44.5px,#3f29b2 47.5px,#3e27aa 56.5px,#3f29b2 58.5px,#3f28af,#412cb8 64.5px,#3f29b2 66.5px,#3f28af 71.5px,#402bb7 75.5px,#402bb6 77.5px,#3e28ad 80.5px,#402bb7 93.5px,#402ab3 96.5px,#412dbb 101.5px,#402bb7 111.5px,#412dbc 120.5px,#6757c9 121.5px)"></i><i style="background:linear-gradient(#7868c4 .5px,#3e27ab 1.5px,#3f28ae,#3e27aa 9.5px,#3f28ad 12.5px,#3e27a9 14.5px,#3e27aa 20.5px,#3f29b1 24.5px,#3e27ab,#3f29b1 34.5px,#3e28ac 37.5px,#3f29b2 39.5px,#3e27a9 44.5px,#3f29b2 48.5px,#3f28ad 55.5px,#402ab4 58.5px,#3f28ae 62.5px,#402bb6 65.5px,#3f29b0 71.5px,#402bb8 75.5px,#3e28ad 80.5px,#412dbb 92.5px,#402bb7 96.5px,#412dbc 102.5px,#402bb6 104.5px,#412dbd 108.5px,#402bb7 111.5px,#412cba 113.5px,#402bb8 117.5px,#422ec0 119.5px,#412ebe,#6757c9 121.5px)"></i><i style="background:linear-gradient(#7868c5 .5px,#3e28ad 1.5px,#3e27a9 10.5px,#3f29b0 16.5px,#3f28ad,#3f29b1 24.5px,#3f28ad,#3f29b1,#3e27ab,#3f29b1 36.5px,#3f29b0 41.5px,#3e27aa 44.5px,#3f29b1 48.5px,#3f28ad 51.5px,#3f29b2 53.5px,#3e27ac 56.5px,#402ab4 58.5px,#3f28ad 62.5px,#402ab4,#3f28ad 68.5px,#402ab4 74.5px,#3f29b0 78.5px,#412cba 84.5px,#412cb9 89.5px,#412ebe 92.5px,#412ebe 102.5px,#402bb7,#422ebe 108.5px,#422fc2 113.5px,#422fc1 120.5px,#6858cc 121.5px)"></i><i style="background:linear-gradient(#7868c4 .5px,#3f28ad 1.5px,#3e27a9,#3e27a9 11.5px,#402ab3,#402ab3 23.5px,#3e27aa 27.5px,#3f29b1,#3e27ab,#3f29b1 36.5px,#3f28ad 38.5px,#402ab3 41.5px,#3f28ae 43.5px,#3f29b0 53.5px,#3e27ab 56.5px,#4029b2 58.5px,#402ab5,#3f28ae 70.5px,#412cba 81.5px,#4230c3 84.5px,#412dbd 89.5px,#422fc1 93.5px,#422fc0 101.5px,#412cba 104.5px,#4331c7 113.5px,#422fc1 120.5px,#6858cc 121.5px)"></i><i style="background:linear-gradient(#7868c4 .5px,#3e27ac 1.5px,#3e27a9 6.5px,#3e27aa 12.5px,#4029b2 17.5px,#3f28ad 21.5px,#3f29b0,#3e27ab 27.5px,#3f28af 40.5px,#3e27ab 51.5px,#3f29b1 63.5px,#402bb6 65.5px,#3f28ad 74.5px,#412cb9 79.5px,#422ebf 87.5px,#412cb9 99.5px,#412dbc 103.5px,#412cb8,#412ebd 107.5px,#412cba,#422fc0 113.5px,#412dbb,#422ebe 117.5px,#412dbb 120.5px,#6757c9 121.5px)"></i><i style="background:linear-gradient(#7868c4 .5px,#3e27a9 1.5px,#3f28ae 20.5px,#3e27aa 22.5px,#3f28af 26.5px,#3e27aa 31.5px,#3f28af,#3e27aa,#3f28ae,#3e27ac 39.5px,#3f29b2 47.5px,#3e28ac 51.5px,#3f28af,#3e27ac 57.5px,#402ab4 61.5px,#3f29af 63.5px,#402bb6 67.5px,#3f28ae 74.5px,#402bb6 80.5px,#412dbb 95.5px,#402bb7 100.5px,#412dbd 107.5px,#412cb9 120.5px,#6757c8 121.5px)"></i><i style="background:linear-gradient(#7868c4 .5px,#3e28ad 1.5px,#3e27a9 6.5px,#3f28af 17.5px,#3e27a9 22.5px,#402ab3 28.5px,#3f28ae 35.5px,#402ab4,#3f28af 39.5px,#402ab5 47.5px,#3f28af 50.5px,#402bb6 55.5px,#3f28ae 57.5px,#412ebe 61.5px,#412cba 64.5px,#412ebd,#402bb8 74.5px,#3f28ae 78.5px,#412cba 85.5px,#412cb8 89.5px,#422fc0 92.5px,#422fc2 96.5px,#422ebf 108.5px,#4331c7,#412ebe 120.5px,#6758cb 121.5px)"></i><i style="background:linear-gradient(#7869c6 .5px,#3f29b0 1.5px,#3e27ab 10.5px,#3f29b2 12.5px,#3f28ae 15.5px,#402ab5 17.5px,#3e27ab 20.5px,#3e27aa 25.5px,#402ab4 29.5px,#402bb6 37.5px,#3f29b1 40.5px,#402bb8 44.5px,#402ab3 49.5px,#412dbc,#412dbd 55.5px,#402bb6 57.5px,#422ec0,#4435d0 69.5px,#4433cd,#402ab3 77.5px,#3f29b2 78.5px,#4331c7 86.5px,#422fc2 89.5px,#422fc1 94.5px,#4435d1 101.5px,#4537d5 105.5px,#43c 111.5px,#4536d4 114.5px,#4536d3 120.5px,#6a5dda 121.5px)"></i><i style="background:linear-gradient(#7969c9 .5px,#3f29b0 1.5px,#3f28af 3.5px,#3f28ae 10.5px,#402ab5 13.5px,#402bb7 17.5px,#3f28ae 20.5px,#3e27ab 25.5px,#402ab4 29.5px,#3f29b1 39.5px,#402bb6 43.5px,#402ab5 46.5px,#422fc3 55.5px,#402bb6 61.5px,#4435d1 71.5px,#412dbb 78.5px,#4434cf 84.5px,#4330c5 88.5px,#412dbb,#412cba 92.5px,#422ebf 95.5px,#463adb 100.5px,#4740e3,#463cde,#4433cd,#4332ca 112.5px,#4537d5 118.5px,#4536d4 120.5px,#6a5fde 121.5px)"></i><i style="background:linear-gradient(#7969c8 .5px,#3e27ac,#3e27aa 2.5px,#3f29b0 5.5px,#3e27ab 7.5px,#402ab3 14.5px,#3e27ac 18.5px,#3f28af 24.5px,#3e27a9,#3f29b1,#3e27ac 33.5px,#3f29b0 35.5px,#3f28ae 39.5px,#402ab4 41.5px,#402ab4 46.5px,#422fc0 55.5px,#3f29b2 61.5px,#422fc2,#412dbc 79.5px,#4331c6 84.5px,#412dbc 90.5px,#422fc3 95.5px,#4537d6 103.5px,#4434ce,#412dbd 109.5px,#412cba 111.5px,#4331c7 116.5px,#4230c4 120.5px,#695bd3 121.5px)"></i><i style="background:linear-gradient(#7868c4 .5px,#3e27a9 1.5px,#3f28ae,#3e27ab 7.5px,#3f28ae,#3e27a9 11.5px,#3f28ae 16.5px,#3e27aa 19.5px,#3f29b1 25.5px,#3e26a9 28.5px,#3f29b2 37.5px,#3f28af 40.5px,#402bb6 50.5px,#402ab4 58.5px,#3f28af 61.5px,#402ab4 63.5px,#402bb8 70.5px,#402bb6 75.5px,#412cba 77.5px,#402ab5 80.5px,#412dbb 85.5px,#402bb8 88.5px,#412ebe 100.5px,#4230c3 102.5px,#402bb6 112.5px,#422fc1 117.5px,#402bb8 120.5px,#6756c8 121.5px)"></i><i style="background:linear-gradient(#7867c3 .5px,#3e26a8 1.5px,#3e28ac 4.5px,#3e26a9 6.5px,#3f28ae 16.5px,#3e28ac 20.5px,#402ab4 23.5px,#3e27a9 28.5px,#3f29b2 34.5px,#3f28ad 44.5px,#402ab4 50.5px,#3f28ad 52.5px,#3e27ab 56.5px,#3f29b1 59.5px,#3f28af 64.5px,#402bb6 72.5px,#3f29b1 75.5px,#412cb9,#402ab4 79.5px,#412cb9 86.5px,#402ab5 94.5px,#412cbb,#402bb6 98.5px,#412ebe 102.5px,#402bb7 111.5px,#412cbb 118.5px,#402bb6 120.5px,#6656c6 121.5px)"></i><i style="background:linear-gradient(#7867c2 .5px,#3e26a9 1.5px,#3e27a9 8.5px,#3f29b0 16.5px,#3e27ac 28.5px,#3f28af,#3e27aa 32.5px,#3f29b1 40.5px,#3e27ab 44.5px,#3f29b0 47.5px,#3e28ac 52.5px,#3f29b2 60.5px,#3f29b0 65.5px,#402bb6 69.5px,#3f29b2 75.5px,#402bb8 77.5px,#412cba 83.5px,#422fc0 86.5px,#412cb9 93.5px,#412dbd 96.5px,#402bb7 98.5px,#4330c5 105.5px,#412cba 110.5px,#402bb6 118.5px,#412cbb 120.5px,#6756c7 121.5px)"></i><i style="background:linear-gradient(#7868c3 .5px,#3e27aa 1.5px,#4029b2 16.5px,#3f28ae 18.5px,#3f29b1,#3e27a9,#3f29b0 27.5px,#3e27aa 32.5px,#3f28ae 38.5px,#402ab5 40.5px,#3e27aa 44.5px,#3f29b0 46.5px,#3e27ab 51.5px,#402ab4,#3f28af 57.5px,#402bb6,#3f29b0 65.5px,#402ab5 67.5px,#412cb8 78.5px,#412ebe,#412cba 82.5px,#422fc2 86.5px,#4230c3 95.5px,#422ebf 98.5px,#4331c7 105.5px,#422fc1 107.5px,#402bb7 118.5px,#412dbc 120.5px,#6757ca 121.5px)"></i><i style="background:linear-gradient(#7868c3 .5px,#3e26a9 1.5px,#3f28af 5.5px,#3e27ac 8.5px,#3f29b1 20.5px,#3e27a9 23.5px,#3e27aa,#3f29b1 27.5px,#3e27a9 34.5px,#402ab5 40.5px,#3e27ac 44.5px,#3f29b1 49.5px,#3e27aa,#402ab5,#402bb7,#3f28ae 57.5px,#402ab4,#3f28ad 65.5px,#402bb8 70.5px,#3f29b2 72.5px,#402bb7 76.5px,#402ab5,#412cba 80.5px,#402ab5 83.5px,#412dbc 85.5px,#422ebf,#412cbb,#422ec0 109.5px,#402bb6 112.5px,#412dbd 114.5px,#412dbb 118.5px,#422ebe 120.5px,#6758cb 121.5px)"></i><i style="background:linear-gradient(#7868c4 .5px,#3e27aa,#3e27a9 2.5px,#3f28ae 6.5px,#3e27ac 15.5px,#402ab5 20.5px,#3e27a9,#3f29b1,#3e27aa 32.5px,#3f29b2 39.5px,#3e27ab 44.5px,#402ab3 47.5px,#3e27aa,#412cba 55.5px,#3f28ae 57.5px,#3f28ad 58.5px,#3f29b2 63.5px,#3f28ae 67.5px,#402bb8 70.5px,#402bb7 76.5px,#3f29b2 78.5px,#402bb6 81.5px,#3f29b1 83.5px,#412cba 93.5px,#402ab5 98.5px,#412dbb 101.5px,#412dbc 109.5px,#402bb7 112.5px,#412dbb 117.5px,#422ebf 120.5px,#6757ca 121.5px)"></i><i style="background:linear-gradient(#7869c6 .5px,#3f28ae 1.5px,#3e28ac 3.5px,#3f28af 7.5px,#3e27aa 9.5px,#3f29b0 14.5px,#3e28ac 17.5px,#402ab5 19.5px,#3e27a9 22.5px,#3f29b1 28.5px,#3e27a9 35.5px,#3f28af 40.5px,#3e27ac 44.5px,#3f28af 51.5px,#402bb8 55.5px,#3f29af 58.5px,#402bb7,#402ab4 68.5px,#412dbb 72.5px,#402bb7,#412cb9 76.5px,#3f29b1 79.5px,#402bb6 81.5px,#402ab5 86.5px,#412ebe 94.5px,#402bb6 98.5px,#422ebe 101.5px,#422fc3 116.5px,#422ebe,#422fc1 120.5px,#6858cd 121.5px)"></i><i style="background:linear-gradient(#7869c6 .5px,#3f28ae 1.5px,#3f28ae 7.5px,#3e27aa,#3f28ae 11.5px,#3e27ab 16.5px,#402ab5,#3e26a9,#3f29b2 25.5px,#3e27aa 35.5px,#3f29b2 42.5px,#3e28ac,#402ab4 48.5px,#412cba 56.5px,#402ab5 61.5px,#412dbd,#412cb9 67.5px,#422fc2 72.5px,#422fc1 76.5px,#402bb8,#402bb6 80.5px,#402bb6 85.5px,#422ebf,#412dbd,#422fc2 94.5px,#412cba 100.5px,#412dbd 105.5px,#4536d4 114.5px,#4331c7 119.5px,#4332c8,#695bd4 121.5px)"></i><i style="background:linear-gradient(#7869c6 .5px,#3f28ae 1.5px,#3e27a9,#3f28af 11.5px,#3e27ac 14.5px,#402ab3 19.5px,#3e27a9,#4029b3 25.5px,#3e27ac 36.5px,#402ab3 39.5px,#402ab3 41.5px,#3e27ab 45.5px,#402ab3 48.5px,#3f29b1 53.5px,#412cb9 56.5px,#402bb7 61.5px,#422fc2 71.5px,#412dbb 79.5px,#412ebe 81.5px,#402bb7 85.5px,#412dbd 88.5px,#402bb7 90.5px,#412dbd 93.5px,#402bb7 101.5px,#412dbb 106.5px,#4230c4 108.5px,#4435d1 114.5px,#4230c3 119.5px,#4230c4,#685ad2 121.5px)"></i><i style="background:linear-gradient(#7969c8 .5px,#3f29b2 1.5px,#3e27a9 6.5px,#3f29b2 12.5px,#3f28ad 14.5px,#3f29b0,#3e27ac 22.5px,#3f29b0 24.5px,#3e28ac 27.5px,#3f28af 31.5px,#3e28ad 44.5px,#3f29b2 48.5px,#3f28ae 53.5px,#412dbc 71.5px,#402bb6 73.5px,#402bb7 79.5px,#412dbd,#412cb9 85.5px,#422ebe 87.5px,#402ab4,#412dbc 93.5px,#402ab4 101.5px,#4230c3 117.5px,#412ebd 119.5px,#422ebf,#6859ce 121.5px)"></i><i style="background:linear-gradient(#7969c8 .5px,#3f28af 1.5px,#3e28ac 3.5px,#3e27ab 9.5px,#4029b2 11.5px,#3e27aa 14.5px,#3f28ae 16.5px,#3e27ab 25.5px,#3f28af 28.5px,#3e27aa 35.5px,#3f29b0 38.5px,#3e27aa 43.5px,#402ab4 46.5px,#3f28ad 53.5px,#3f28ae,#402bb6 59.5px,#402bb8 65.5px,#402ab3 73.5px,#402bb8 77.5px,#402ab3 79.5px,#412dbd,#402bb7,#412dbc 88.5px,#402ab5 97.5px,#412cb9,#402ab5 101.5px,#412cba 108.5px,#402bb6 112.5px,#422fc0 117.5px,#412dbc 119.5px,#422ebf,#6859ce 121.5px)"></i><i style="background:linear-gradient(#7869c6 .5px,#3e28ac 1.5px,#3f29b0,#3e27a9 9.5px,#3f29b1 11.5px,#3e27ab 15.5px,#3f28af 25.5px,#402ab5 28.5px,#3e27a9 32.5px,#3e26a9,#3f29b0 38.5px,#3e27ac 43.5px,#402ab4 45.5px,#3f28ae 52.5px,#402ab4 58.5px,#402ab5 67.5px,#412dbc,#3f29b1 73.5px,#402bb8 75.5px,#402ab3 79.5px,#412ebe 82.5px,#412dbc 86.5px,#422fc2,#422ebe 96.5px,#422fc2 98.5px,#412dbc,#4230c3 104.5px,#412dbb 106.5px,#402bb8 112.5px,#4330c5 115.5px,#4230c3 120.5px,#685ad1 121.5px)"></i><i style="background:linear-gradient(#7969c7 .5px,#3f28ae 1.5px,#3e27ac 6.5px,#3f28ae,#3e27ab,#3f28af 12.5px,#3e27a9 16.5px,#3f29b1,#3e27ac 22.5px,#402ab4 28.5px,#3f28ae 30.5px,#3e27ab 36.5px,#3f28ae 43.5px,#402ab5 45.5px,#3e28ac 52.5px,#3f29b0 54.5px,#3f29b1 66.5px,#412dbc 69.5px,#3f29b2 73.5px,#402bb7 75.5px,#402ab4,#412dbd 83.5px,#402bb6 86.5px,#4230c3 91.5px,#422fc0 93.5px,#4330c5 98.5px,#422ebf 101.5px,#4331c6 103.5px,#402bb8 108.5px,#402bb6,#422fc1,#422fc1 120.5px,#6859d0 121.5px)"></i><i style="background:linear-gradient(#7868c6 .5px,#3f28ae 1.5px,#3e27a9 5.5px,#3e27a9 13.5px,#3f29b1 19.5px,#3e27ab 22.5px,#3f29b1 28.5px,#3e27ab,#3f29b0 32.5px,#3e27ac 37.5px,#3f29b2 46.5px,#3e27ab 50.5px,#3f29b2 58.5px,#3f29b0 67.5px,#402ab5,#3f28af 71.5px,#402bb8 83.5px,#3f29b2 86.5px,#412dbc 88.5px,#412cb9 99.5px,#422ebf,#402bb8 107.5px,#412ebd 110.5px,#402ab5,#3f29b2,#412dbb 116.5px,#412dbb 120.5px,#6757ca 121.5px)"></i><i style="background:linear-gradient(#7868c5 .5px,#3f29b0,#402ab3 2.5px,#3e27a9 6.5px,#3e26a8 12.5px,#3f28ad 15.5px,#3e27a9 21.5px,#3f28af 28.5px,#3e27ab 30.5px,#402ab3 33.5px,#3f28ae 35.5px,#402ab3 39.5px,#3f28ad 44.5px,#3f29b1 46.5px,#3e27aa 54.5px,#402ab5 59.5px,#3f29b1 66.5px,#402ab5 69.5px,#3f29b0 71.5px,#402ab5 74.5px,#402ab5 81.5px,#412ebe 84.5px,#412cba 86.5px,#422fc1 89.5px,#412dbc 93.5px,#422fc0 96.5px,#412dbd 98.5px,#4330c5 101.5px,#412dbb 107.5px,#422ebf,#412cb8 113.5px,#422fc0 117.5px,#422ebf 120.5px,#6858cd 121.5px)"></i><i style="background:linear-gradient(#7869c7 .5px,#3f28af 1.5px,#3e27a9 11.5px,#3f29b0 14.5px,#3e27aa,#3e27ac 26.5px,#402ab4 29.5px,#3f29b2 31.5px,#402bb8,#402bb6 37.5px,#412dbc 39.5px,#3f29b1 42.5px,#3f28ae 44.5px,#3f29b0 50.5px,#3f28ad 52.5px,#422fc0 59.5px,#412ebe,#402ab3 65.5px,#412ebd 73.5px,#4331c6 76.5px,#412ebd 81.5px,#4433cb 84.5px,#4537d6,#4433cd 94.5px,#4536d3 96.5px,#4536d2 99.5px,#4539d9 101.5px,#4537d6 104.5px,#422fc2 109.5px,#4332cb 120.5px,#695cd7 121.5px)"></i><i style="background:linear-gradient(#7869c6 .5px,#3e27ab,#3e27aa 2.5px,#3f29b0,#3e27ac 26.5px,#412dbd 39.5px,#402ab4 44.5px,#3f29b0 52.5px,#4331c6 58.5px,#4331c6 61.5px,#412dbd 65.5px,#4230c3,#422fc0,#4330c5,#4230c3,#4434ce,#4535d2 77.5px,#4331c8 82.5px,#4537d6 86.5px,#463cde 91.5px,#4536d4,#4535d2 99.5px,#463bdd 104.5px,#463adb 105.5px,#4434ce,#4332ca 109.5px,#4434cf 114.5px,#4332ca 120.5px,#695bd5 121.5px)"></i><i style="background:linear-gradient(#7969c8 .5px,#3f28ae 1.5px,#3e27aa 3.5px,#3f29b0,#3f28ae 15.5px,#3f29b2 18.5px,#3e27ac 28.5px,#402bb7 49.5px,#3f28ae 52.5px,#412dbd 60.5px,#412cb9 63.5px,#422ebf 67.5px,#412cbb,#4331c5 79.5px,#422ebe 84.5px,#4433cd 91.5px,#422fc1 94.5px,#412dbb 98.5px,#43c 105.5px,#4331c7 108.5px,#4434ce 114.5px,#422fc2 118.5px,#4330c4 120.5px,#685ad1 121.5px)"></i><i style="background:linear-gradient(#7869c6 .5px,#3f28ae,#3e27ac 2.5px,#3f29b1 8.5px,#3e27aa 13.5px,#3f29af 17.5px,#3e27aa 33.5px,#3f28af 35.5px,#3f28ad 41.5px,#3f29b1 43.5px,#3e27ab 46.5px,#402ab3 50.5px,#3f28ad 52.5px,#3f29b1,#3f28ad 58.5px,#402ab3 60.5px,#402bb7 68.5px,#3f29af 75.5px,#412dbb 79.5px,#3f29b1 84.5px,#412cbb 91.5px,#402ab5 94.5px,#402ab4 99.5px,#412dbb 101.5px,#412ebe 105.5px,#412dbc 112.5px,#422fc0,#412dbb 116.5px,#412dbb 119.5px,#412dbd,#6758cb 121.5px)"></i><i style="background:linear-gradient(#7969c7 .5px,#3f28ae,#3e28ac 2.5px,#3f29b1 9.5px,#3e27ab 12.5px,#3f29b0 14.5px,#3e27a9 17.5px,#3f28ae 23.5px,#3e27aa 25.5px,#3f28ae 28.5px,#3e27aa,#3f29b0 38.5px,#3e27ab 40.5px,#3f29b1 44.5px,#3f28ae 46.5px,#402ab5 50.5px,#3f29b0 52.5px,#402ab3 55.5px,#3f28ad 59.5px,#402bb6 62.5px,#3f29b0 75.5px,#412cba,#402ab4 83.5px,#412cba 93.5px,#402bb6 99.5px,#412ebd 102.5px,#422fc0 109.5px,#412ebd 120.5px,#6758cb 121.5px)"></i><i style="background:linear-gradient(#7869c6 .5px,#3f28ae,#3f28ad 2.5px,#3f29b2 5.5px,#3f28ad 11.5px,#402ab4 13.5px,#3e27aa 16.5px,#3e26a9 18.5px,#3f29b0 27.5px,#3e27ab 31.5px,#3f29b1 45.5px,#3f28ad 47.5px,#402ab4 50.5px,#3f29af 52.5px,#402bb7 56.5px,#3f29b0,#402bb8 62.5px,#402ab3 64.5px,#402bb8 69.5px,#3f29b0,#3f29b0 75.5px,#412ebe 80.5px,#412cb9 82.5px,#422fc2 85.5px,#412cba 99.5px,#422fc2,#422fc1 105.5px,#4332c9 109.5px,#412dbd 120.5px,#6757c9 121.5px)"></i><i style="background:linear-gradient(#7868c5 .5px,#3f28ad 1.5px,#4029b3 5.5px,#3f28ae 11.5px,#402ab3 13.5px,#3e26a9 19.5px,#3e27ac 24.5px,#3f29b2 26.5px,#3e28ac 29.5px,#3f29b1 33.5px,#3f28ad 47.5px,#402bb6 57.5px,#402ab3 60.5px,#402bb6 62.5px,#3f29b1,#402bb8 70.5px,#3f29b2 76.5px,#412cba 80.5px,#402bb7 83.5px,#422ebe 87.5px,#422fc1,#412cba 99.5px,#422fc0 101.5px,#422fc2,#412cbb 115.5px,#422ebf 119.5px,#412dbb,#6756c7 121.5px)"></i><i style="background:linear-gradient(#7868c4 .5px,#3f28ad 1.5px,#3e27a9 4.5px,#3f29b2 16.5px,#3e27a9 20.5px,#3f29b1 26.5px,#3e27ab 29.5px,#4029b2 39.5px,#3e27aa 46.5px,#402ab4 58.5px,#3f28af 60.5px,#402ab3,#3f28ad 66.5px,#402bb7,#402bb7 74.5px,#3f29b2 76.5px,#402bb8 80.5px,#402bb6 85.5px,#412cba 87.5px,#402ab5,#412dbc 93.5px,#412cb8,#412dbc 97.5px,#412dbc 120.5px,#6757c9 121.5px)"></i><i style="background:linear-gradient(#7869c6 .5px,#3f29b0 1.5px,#3e27a9 4.5px,#3f29b2 16.5px,#3e26a9,#3f28af 26.5px,#3e27ac 35.5px,#3f29b2 39.5px,#3e27aa 47.5px,#402ab3 58.5px,#3f28ae,#402ab3 64.5px,#3f28ad 66.5px,#412cb9 70.5px,#412cbb 72.5px,#3f29b2 75.5px,#412dbc 79.5px,#412cb9 85.5px,#412dbc 87.5px,#402bb7 91.5px,#412cba,#402bb6 95.5px,#412dbc 98.5px,#402bb7 103.5px,#422fc0 120.5px,#6859ce 121.5px)"></i><i style="background:linear-gradient(#7868c4 .5px,#3e27ac 1.5px,#3e27aa 5.5px,#402ab4 7.5px,#3f28ae 12.5px,#402ab4 15.5px,#3e26a9 22.5px,#3f29b1 26.5px,#3e27a9 35.5px,#402ab3 42.5px,#3f28ad 46.5px,#3f29b1 49.5px,#3f29b0 55.5px,#412cb9 59.5px,#402ab4 65.5px,#422ebf 72.5px,#402ab5 75.5px,#422fc0 79.5px,#4230c4,#402bb6 95.5px,#412dbc 99.5px,#412cb9 104.5px,#412dbd 114.5px,#4230c3 116.5px,#4331c6 120.5px,#685ad2 121.5px)"></i><i style="background:linear-gradient(#7868c4 .5px,#3e27ab 1.5px,#3f29b2 7.5px,#3f28ae 11.5px,#402ab3 14.5px,#3f29b0 20.5px,#3e27ab 22.5px,#3f29b0 26.5px,#3e27aa 36.5px,#3f29b1 40.5px,#3f29b0 46.5px,#402ab3 48.5px,#3f29b0 52.5px,#412dbc 59.5px,#412cba,#422ebe 69.5px,#402bb8 76.5px,#4330c5 87.5px,#402bb8 95.5px,#422fc1 100.5px,#412cba 104.5px,#422ebf 106.5px,#412dbc,#4331c5 112.5px,#422ebe 114.5px,#422ebf 120.5px,#6858cd 121.5px)"></i><i style="background:linear-gradient(#7868c5 .5px,#3e27ab,#3e27aa 2.5px,#3f29b2 6.5px,#3f28ad 12.5px,#3f29b2 16.5px,#3e27ac 18.5px,#3f29b0 21.5px,#3e27aa 29.5px,#3f28ae 32.5px,#3f28ad 38.5px,#3f29b2,#3e28ac 42.5px,#3f28ae 54.5px,#402bb7 59.5px,#412cba 68.5px,#402bb8 85.5px,#422ebe 93.5px,#412cba 96.5px,#422ec0 103.5px,#412dbc 109.5px,#422fc1 112.5px,#412cb9 114.5px,#412ebe 120.5px,#6758cb 121.5px)"></i><i style="background:linear-gradient(#7868c6 .5px,#3e27ab 1.5px,#3f29b2 5.5px,#3e28ac 12.5px,#3f29b1,#3e27ac 18.5px,#3f29b1 26.5px,#3e27aa 31.5px,#3f29b2 40.5px,#3e27ab 43.5px,#402ab3 49.5px,#3f28af,#402ab5 59.5px,#3f29b2 69.5px,#412dbd 74.5px,#402bb7 78.5px,#402bb8 88.5px,#422ec0 93.5px,#412dbc 96.5px,#422ebf 101.5px,#412cba 107.5px,#412cba 118.5px,#422fc0 120.5px,#6858cd 121.5px)"></i><i style="background:linear-gradient(#7868c6 .5px,#3e27ab 1.5px,#3f29b1 10.5px,#3e27aa 12.5px,#3f29b1 19.5px,#3e27ab 21.5px,#402ab3,#3e27aa 31.5px,#3f28af 38.5px,#3f28ad 44.5px,#402bb7 48.5px,#402ab4,#412cba 60.5px,#402bb7 63.5px,#412dbb 69.5px,#43c 74.5px,#412cb9,#422fc1 86.5px,#4434cd 90.5px,#4435d1 93.5px,#4434ce 100.5px,#422ebe 106.5px,#4230c4 113.5px,#412dbd 118.5px,#4331c7 120.5px,#695ad2 121.5px)"></i><i style="background:linear-gradient(#7969c7 .5px,#3f28ae 1.5px,#3e27ac 6.5px,#402ab3 9.5px,#3e27aa 15.5px,#3f29b1 19.5px,#3f28af 21.5px,#402ab4 27.5px,#3e27ab,#3e27aa 35.5px,#3f29b2 38.5px,#3e27aa 44.5px,#402ab3 47.5px,#422ebf 56.5px,#422fc1 69.5px,#4434d0 75.5px,#412dbd 80.5px,#4230c3,#4536d3,#463bdd 92.5px,#4538d8 97.5px,#412dbd 105.5px,#4434cf,#4330c5 119.5px,#4332c9,#695cd8 121.5px)"></i><i style="background:linear-gradient(#7868c6 .5px,#3f28ae 1.5px,#3e27aa,#3f29af,#3f28af 13.5px,#3e27aa 15.5px,#3f29b1 19.5px,#3f29b2 27.5px,#3f28ae 31.5px,#4029b3,#3f28ae 45.5px,#412dbd 57.5px,#412cba 60.5px,#422fc2 66.5px,#422ebe 70.5px,#4330c5 75.5px,#422fc3,#412cb9 81.5px,#4331c7 88.5px,#4330c5 90.5px,#4433cd,#4433cd 96.5px,#422ebf 102.5px,#422ebf 106.5px,#4332c9 111.5px,#4230c4,#4331c8,#422ebe 120.5px,#6859ce 121.5px)"></i><i style="background:linear-gradient(#7867c3 .5px,#3e27aa 1.5px,#3e27aa 8.5px,#3f29af 12.5px,#3e27a9 15.5px,#3f29b0 23.5px,#3f28ad 26.5px,#3f29b2,#3e27ac 30.5px,#402ab4 41.5px,#3f28af 43.5px,#3f28ae 46.5px,#402ab5 52.5px,#3f29b1 55.5px,#402bb7 59.5px,#3f29b1 61.5px,#412cb8 65.5px,#402ab4 71.5px,#412cb9 78.5px,#3f29b1 81.5px,#412cb8 85.5px,#402ab5 94.5px,#412ebd 101.5px,#422fc0 111.5px,#412dbb 114.5px,#422ebf,#412cba,#412dbc 120.5px,#6757c9 121.5px)"></i><i style="background:linear-gradient(#7867c2 .5px,#3e26a9 1.5px,#3f28ae 6.5px,#3e27ab 10.5px,#3f29b1 12.5px,#3f28ad 19.5px,#3f29b2 23.5px,#3e27aa 26.5px,#3f28ae 28.5px,#3e27ac,#402ab3 38.5px,#3f28ad 47.5px,#402ab4 53.5px,#3f29b0 61.5px,#402bb7 65.5px,#3f29b0 70.5px,#402bb7 76.5px,#3f29b2,#402bb8 84.5px,#402bb8 95.5px,#422fc0 104.5px,#412cba 118.5px,#412dbd 120.5px,#6756c8 121.5px)"></i><i style="background:linear-gradient(#7868c3 .5px,#3e27ab,#3e27ab 2.5px,#3f29b0,#3e27aa 10.5px,#3f29b2 13.5px,#3e27ab 18.5px,#402ab3 24.5px,#3e27ab 27.5px,#3e27ac 33.5px,#402ab5 37.5px,#3f29af 39.5px,#402ab3 45.5px,#3f28af 47.5px,#402bb6 53.5px,#402ab4 60.5px,#412dbc 65.5px,#402ab3 71.5px,#412cb9 76.5px,#402bb7 80.5px,#4331c6 90.5px,#4331c7 93.5px,#422fc0 97.5px,#4435d0 105.5px,#43c 108.5px,#412dbc 112.5px,#4230c3 120.5px,#6858cc 121.5px)"></i><i style="background:linear-gradient(#7868c4 .5px,#3e27ac 1.5px,#3f29b0 5.5px,#3e27aa 7.5px,#3e27ab 11.5px,#3f29b1 14.5px,#3e27ab 19.5px,#402ab4 25.5px,#3e28ac 30.5px,#3e28ac 33.5px,#402ab5 38.5px,#3f29b0 40.5px,#402ab4 45.5px,#3f29af,#412cba 53.5px,#412dbc 59.5px,#422fc2 61.5px,#4330c5 65.5px,#4330c5 68.5px,#3f29b2 72.5px,#3f29b2 74.5px,#412cba 79.5px,#4434d0 83.5px,#4639da 88.5px,#4537d6 92.5px,#4332ca 94.5px,#422fc1 97.5px,#4537d6 103.5px,#4537d5 107.5px,#4332c8 110.5px,#4330c5 112.5px,#4433cb 120.5px,#695bd4 121.5px)"></i><i style="background:linear-gradient(#7868c5 .5px,#3f28ad 1.5px,#3f28af 5.5px,#3e27aa 11.5px,#3f29b1 15.5px,#3e28ac,#412cb9 25.5px,#3f29b1 28.5px,#3e27ac,#402ab5 38.5px,#3f28ae 41.5px,#402ab3,#3f28af 49.5px,#412dbb 57.5px,#412cb9,#422fc1 61.5px,#3f29b1 74.5px,#402bb6 77.5px,#402ab4 79.5px,#4433cb 83.5px,#43c 85.5px,#4537d7 88.5px,#4434cf 92.5px,#4230c3 94.5px,#412cba 97.5px,#4332cb,#4332ca 107.5px,#422fc2 110.5px,#4332c9,#4330c5 120.5px,#6859ce 121.5px)"></i><i style="background:linear-gradient(#7868c5 .5px,#3f28ad 1.5px,#3e27ab 4.5px,#3f28ae 8.5px,#3e27aa 10.5px,#3f28af 19.5px,#3e27ac 22.5px,#402ab4 26.5px,#3f28ae 28.5px,#3f29b1,#3e27a9,#3f29b0 37.5px,#3e27aa 42.5px,#3f29b1 46.5px,#3e27ac 53.5px,#402bb6,#3f29b2 59.5px,#402bb7 63.5px,#3f29b0 74.5px,#402bb6 76.5px,#3f29b2 79.5px,#422ebf,#402bb7 97.5px,#422fc0 107.5px,#412cb9 110.5px,#422ebe 114.5px,#412cba 120.5px,#6756c8 121.5px)"></i><i style="background:linear-gradient(#7868c4 .5px,#3e27ab 1.5px,#3e27aa 4.5px,#3f29af 14.5px,#3e27aa 19.5px,#402ab3 26.5px,#3f29b0 31.5px,#3e27aa 33.5px,#3f28ad,#3e27a9 41.5px,#3f29af 43.5px,#3e27ab 47.5px,#3f29b1 50.5px,#3e27ac 52.5px,#402bb7 55.5px,#3f29b0 57.5px,#402ab3 63.5px,#3f28af,#412cb9 69.5px,#402ab5 71.5px,#412cb8 77.5px,#402ab4 85.5px,#412cb9 89.5px,#402bb8 109.5px,#412ebe 112.5px,#412cb8 119.5px,#412dbb,#6757ca 121.5px)"></i><i style="background:linear-gradient(#7868c3 .5px,#3e27ab 1.5px,#3f29b1 9.5px,#3e28ad 12.5px,#3f29b1 17.5px,#3e27ac 19.5px,#402ab5 27.5px,#3e27ab 33.5px,#3f29b0,#3e27aa 41.5px,#402ab4 43.5px,#3f28ae 47.5px,#402ab4 50.5px,#3f29b0 52.5px,#412dbc 55.5px,#402bb6 57.5px,#402bb7 66.5px,#4230c4,#4230c3 72.5px,#4332c8 74.5px,#422ebf 81.5px,#412ebe 86.5px,#422fc2 89.5px,#412dbd 91.5px,#412cb9 101.5px,#422ebf 103.5px,#412cb9 108.5px,#422ebf 119.5px,#4230c3,#6859d0 121.5px)"></i><i style="background:linear-gradient(#7868c3 .5px,#3f28ad,#3f29b1 2.5px,#3f29b0 8.5px,#3e28ac 11.5px,#3f29b2 19.5px,#3f28ae 25.5px,#402ab5 28.5px,#3f29b0 30.5px,#3e28ac 36.5px,#3f28af,#402bb8 44.5px,#402bb6 50.5px,#3f29b1 52.5px,#412cb9 55.5px,#422fc0 64.5px,#4536d4 70.5px,#463adb 75.5px,#4433cd 79.5px,#422fc0 81.5px,#4433cd 89.5px,#4330c5,#4230c4 93.5px,#4332cb,#4330c5 101.5px,#43c 103.5px,#412cba 112.5px,#412cba 119.5px,#422fc1,#685ad2 121.5px)"></i><i style="background:linear-gradient(#7868c3 .5px,#3f28ad 1.5px,#3f29b1 16.5px,#3f28ad 21.5px,#3f29b1,#3f28ad 25.5px,#402ab4 32.5px,#3e27aa 35.5px,#412cb9 45.5px,#3f28ad,#3f29b1,#422ebf 60.5px,#412dbd 64.5px,#4331c6 66.5px,#4331c8 70.5px,#4434cf 73.5px,#422fc0 79.5px,#402ab5 81.5px,#402ab4 82.5px,#412dbb 84.5px,#422fc1,#412ebe 94.5px,#4433cb 97.5px,#4230c4 101.5px,#4332c9 106.5px,#412dbb 110.5px,#412dbd,#402bb6 116.5px,#422ebf 120.5px,#6859cf 121.5px)"></i><i style="background:linear-gradient(#7867c3 .5px,#3e27aa 1.5px,#3f28ae 6.5px,#3e27aa 8.5px,#3f29b1,#3e27aa 18.5px,#3f28ae 20.5px,#3e27a9 21.5px,#3f28af 26.5px,#3e28ad 29.5px,#3f29b1 31.5px,#3e27ac,#3f29b0 37.5px,#3e27ab 39.5px,#402bb6 43.5px,#3e27ab 50.5px,#3f29b2,#3f28ae 56.5px,#412dbc,#402ab3 64.5px,#412cb9 66.5px,#402bb7 71.5px,#412dbb 73.5px,#402ab4 81.5px,#412cb9,#402ab4 87.5px,#412cb9 89.5px,#402bb7 92.5px,#422ebe 97.5px,#422ec0 106.5px,#412cb9 110.5px,#422fc0,#402ab5 116.5px,#422ebf 120.5px,#6757ca 121.5px)"></i><i style="background:linear-gradient(#7868c5 .5px,#3e27aa 1.5px,#3e27a9 3.5px,#3f29b0 10.5px,#3e27a9 15.5px,#3f28ad 19.5px,#3e27a9,#3f29b1 29.5px,#3e28ac 33.5px,#402ab3,#3e27aa 39.5px,#402bb6,#3f29b0,#3f28af 51.5px,#402ab4 53.5px,#3f29b0 56.5px,#412cba 60.5px,#402ab5 65.5px,#402ab5 71.5px,#412dbc 73.5px,#402ab6 87.5px,#402bb7 92.5px,#422ec0 94.5px,#422fc2 97.5px,#422fc3 105.5px,#412dbc 108.5px,#4230c4 114.5px,#412dbb 118.5px,#4230c3 120.5px,#6859d0 121.5px)"></i><i style="background:linear-gradient(#7868c4 .5px,#3e27a9 1.5px,#3e27ab 7.5px,#3f29b1 10.5px,#3e27aa 14.5px,#3f28ae 20.5px,#3e27a9,#3f29b0,#3e28ac 32.5px,#402ab4 35.5px,#3f29b0 41.5px,#402bb6 43.5px,#3e27ac 49.5px,#402bb7 53.5px,#3f29b2 55.5px,#412cbb 60.5px,#402bb7 70.5px,#422fc1 73.5px,#422fc2 75.5px,#412cb9 85.5px,#422ebe 87.5px,#422fc0,#4434ce,#4332ca 102.5px,#412cba,#4332c9 114.5px,#4330c5 118.5px,#4332cb 120.5px,#695cd6 121.5px)"></i><i style="background:linear-gradient(#7868c5 .5px,#3f28ad 1.5px,#3e27ab 7.5px,#3f29b0 12.5px,#3e27aa 15.5px,#3f28ae 17.5px,#3f28af 26.5px,#402ab4 28.5px,#3f29b0 32.5px,#402bb7 35.5px,#3f28af 41.5px,#402ab4 43.5px,#3f28ad 49.5px,#3f29b2 53.5px,#3f28ad 55.5px,#402bb7 59.5px,#402ab4 61.5px,#412cbb 66.5px,#402ab5 70.5px,#422fc0 76.5px,#412cba 85.5px,#4332cb 97.5px,#412dbb 107.5px,#412dbc,#4230c4 111.5px,#4331c8 120.5px,#685ad2 121.5px)"></i><i style="background:linear-gradient(#7868c5 .5px,#3f28ae 1.5px,#3e27a9 5.5px,#3f28ad 13.5px,#3e27aa 22.5px,#402ab4 34.5px,#3f28ae 40.5px,#402ab4,#3f28ae 50.5px,#402ab4 59.5px,#3f29b1 64.5px,#412cb9 67.5px,#402ab5 72.5px,#422ebe 78.5px,#402bb7 86.5px,#4230c4 97.5px,#412cb9 106.5px,#4331c5,#4433cb 116.5px,#4331c6 120.5px,#6859cf 121.5px)"></i><i style="background:linear-gradient(#7868c4 .5px,#3f28ae 1.5px,#3e26a9 5.5px,#3f29b0 20.5px,#3e27ab 22.5px,#3e27ac 29.5px,#402ab4 33.5px,#3e28ac,#402bb7 45.5px,#3f29b0 50.5px,#412cba 65.5px,#402bb8 70.5px,#412dbd 79.5px,#412dbd 83.5px,#3f29b2 86.5px,#402ab3 88.5px,#4331c6 96.5px,#412cba 103.5px,#412dbb 108.5px,#4536d4 116.5px,#4331c7 120.5px,#6859cf 121.5px)"></i><i style="background:linear-gradient(#7868c5 .5px,#3f28ae 1.5px,#3e27aa 6.5px,#3f28ad 9.5px,#3e27ab 15.5px,#402ab4 19.5px,#3e28ac 24.5px,#3f28ad 31.5px,#402ab3 33.5px,#3e27ac 41.5px,#402ab3 45.5px,#3f28ad 50.5px,#3f29b2 58.5px,#422ebe 65.5px,#412cba 73.5px,#422ebe 80.5px,#3f29b0 88.5px,#412cb9 92.5px,#422ebf 101.5px,#402bb8,#4434ce 115.5px,#4330c5 120.5px,#6859cf 121.5px)"></i><i style="background:linear-gradient(#7868c4 .5px,#3e27aa 1.5px,#3f28ae 10.5px,#3e27aa,#402ab4,#3e27ab 22.5px,#3e27aa 31.5px,#3f28ae 33.5px,#3e27a9 36.5px,#3f29b2 44.5px,#3f28ae 50.5px,#3f29b0 59.5px,#402bb7 63.5px,#402bb6 77.5px,#412dbc 80.5px,#3f29b1 89.5px,#412cba 92.5px,#412cba 98.5px,#422fc1 100.5px,#402ab5 109.5px,#422ebf 112.5px,#422fc1 120.5px,#6858cc 121.5px)"></i><i style="background:linear-gradient(#7868c3 .5px,#3e27aa 1.5px,#3f28af 3.5px,#3e27ab 12.5px,#3f29b2 18.5px,#3e27a9 23.5px,#3f28af 32.5px,#3e27a9,#3e27ab 38.5px,#402ab3 40.5px,#3e28ac 46.5px,#3f29b2 48.5px,#3e28ad,#4029b3 54.5px,#3f28af 64.5px,#402bb7 70.5px,#4029b3 77.5px,#402bb6 79.5px,#3f29b2 82.5px,#402ab4 89.5px,#412cba 93.5px,#402bb7,#422ebf 99.5px,#412cb9,#412cb9 107.5px,#402ab3 109.5px,#412dbb 114.5px,#412dbb 120.5px,#6756c7 121.5px)"></i><i style="background:linear-gradient(#7868c4 .5px,#3e27ab 1.5px,#402ab3 3.5px,#3e27ab 12.5px,#402ab3 18.5px,#3e27ab 25.5px,#402bb6 28.5px,#402bb8 32.5px,#3f29b0 34.5px,#402bb6 40.5px,#3f28ae,#412cb9 48.5px,#3f29b2 50.5px,#3f29b0 53.5px,#402cb8 59.5px,#3f29b0 63.5px,#412dbb,#402bb8 69.5px,#412dbd 77.5px,#402bb6,#4230c4 87.5px,#412dbc 89.5px,#4331c8 94.5px,#422fc1 96.5px,#4331c6 97.5px,#4331c6 101.5px,#412ebd 102.5px,#412dbc 104.5px,#4332c9 105.5px,#422fc0 112.5px,#4332cb 113.5px,#4330c5,#4332c9 117.5px,#422ec0,#422ebf,#4230c3,#6858cd 121.5px)"></i><i style="background:linear-gradient(#796acc .5px,#402ab5 1.5px,#412cba 5.5px,#402bb6 7.5px,#412dbb 10.5px,#402bb8,#412ebd 14.5px,#412cba 17.5px,#422ebf 18.5px,#402bb6 22.5px,#412dbc 23.5px,#412dbd,#4332c8 27.5px,#4332c9,#422fc3 29.5px,#4332c9 32.5px,#4331c7,#412dbd 34.5px,#4332c9 37.5px,#422fc2 41.5px,#4331c8 43.5px,#422fc3 44.5px,#4434cf 47.5px,#4434cf 49.5px,#4331c7,#43c 51.5px,#422ec0 53.5px,#4330c5 54.5px,#422fc2 56.5px,#4536d4 59.5px,#4539d9,#43c 63.5px,#4538d8 66.5px,#4433cd,#4433cb,#4433cb,#4536d3 70.5px,#4538d7 72.5px,#4434ce 73.5px,#4434cf 76.5px,#463ddf,#463ee1,#4537d5 79.5px,#463adb 81.5px,#4332c9,#4639da,#43c,#463bdd 85.5px,#473fe3 87.5px,#463bdd,#4434d0,#473ee2 90.5px,#4756f7 94.5px,#4849ed 96.5px,#484ff2 97.5px,#4740e4,#484cef 101.5px,#4535d2 102.5px,#4536d5 104.5px,#484ff2,#484aee,#484ef1,#4746ea 108.5px,#4745e9 112.5px,#4759f8 113.5px,#4745e9 115.5px,#4744e8,#484ef1,#463de0,#463cdf,#4741e5,#6b63e5 121.5px)"></i><i style="background:linear-gradient(#7a6bce .5px,#412cb9 1.5px,#402bb8 6.5px,#422ebf 14.5px,#412cba 17.5px,#422ebf,#402bb7 21.5px,#422fc3 24.5px,#4434cf 26.5px,#4434cf 27.5px,#422fc2 29.5px,#4332c8 33.5px,#4230c3 34.5px,#422fc1 36.5px,#4331c6,#422fc2 38.5px,#4332c9 41.5px,#422fc3 42.5px,#4331c7 44.5px,#4230c4,#4331c6,#4435d1 47.5px,#4433cd 50.5px,#4536d4 51.5px,#4331c8,#4536d2,#4434ce 57.5px,#4536d4 58.5px,#4537d5 60.5px,#463adb 61.5px,#4536d4 63.5px,#4539d9,#4538d7,#4536d4,#4332c9 67.5px,#4740e4 71.5px,#463cdf,#4536d3 73.5px,#4639da 75.5px,#4537d7,#4740e3,#4743e7,#463cdf,#4744e8,#4740e4,#4639da,#4740e4,#4434d0,#4740e4,#484aee,#484df1,#463ddf,#4535d2,#4744e8,#4746ea,#4852f4 92.5px,#4562fc,#4757f7 96.5px,#465efb,#484ff2,#4849ec,#4850f2,#4848ec,#4536d4,#4535d2,#4639da,#4746eb,#4849ed,#4758f8,#475cfa 108.5px,#484aee 110.5px,#484bef 111.5px,#4758f8 113.5px,#4758f8,#484ff2,#4852f4,#475dfa 117.5px,#484ff2 119.5px,#4744e8,#6b64e6 121.5px)"></i><i style="background:linear-gradient(#7a6bcd .5px,#402bb8,#402bb7 2.5px,#412ebd,#402bb8 6.5px,#412dbc 7.5px,#412cba 12.5px,#422fc1 16.5px,#412dbb,#422ebf 18.5px,#412dbc 21.5px,#422fc2,#422ebf,#4331c7 24.5px,#4434cf 27.5px,#4230c3,#412dbd 29.5px,#4434ce 34.5px,#4330c5 36.5px,#4433cb,#422fc2,#422fc2 39.5px,#4435d1 41.5px,#4331c7 42.5px,#43c 44.5px,#422fc1,#422fc0,#4433cb 47.5px,#4434ce 51.5px,#4330c4,#4230c3 53.5px,#4536d3 55.5px,#4539d9 58.5px,#4535d2,#463ada 62.5px,#4435d2,#463bdc,#463adb 65.5px,#4332c9 67.5px,#4538d7 68.5px,#4746eb 71.5px,#4536d4 73.5px,#463cde 74.5px,#463ee1 79.5px,#4743e7 80.5px,#463de0 82.5px,#473ee1,#4536d3,#463de0,#4850f2,#4755f6 87.5px,#463adb 89.5px,#484ff2,#4849ed 91.5px,#4758f8 93.5px,#475bf9,#4851f4 95.5px,#475cfa 97.5px,#4746ea,#4743e7,#484aee,#463adb,#4538d7,#463ada,#4745e9 104.5px,#4741e5 106.5px,#4853f4,#406cfe,#4564fd,#4756f7,#4747eb,#4758f8,#4852f4,#4464fd,#475cfa 115.5px,#4564fd 117.5px,#465dfb,#4850f3,#463cdf,#6a5dda 121.5px)"></i><i style="background:linear-gradient(#7a6bce .5px,#402bb8,#402bb7,#412dbd 3.5px,#402bb7 6.5px,#412ebd,#412cba 8.5px,#412dbd 11.5px,#412cb8 12.5px,#4230c3 16.5px,#412dbc,#422fc1,#412dbc 19.5px,#4331c6 22.5px,#422ec0,#4332ca 24.5px,#4435d0 27.5px,#412ebd 29.5px,#422ebf 30.5px,#4536d2 34.5px,#4331c8 36.5px,#4434cf,#422fc2,#422fc0 39.5px,#4433cb 41.5px,#4434cf 44.5px,#4230c3,#422fc1 46.5px,#4434ce 48.5px,#4332ca 49.5px,#43c,#4330c5 53.5px,#4434cf 54.5px,#463adb 58.5px,#4537d6,#463bdd 62.5px,#4536d2,#4538d8,#4538d7,#4434d0 66.5px,#463adc 68.5px,#4435d1 69.5px,#4746ea,#463bdc 73.5px,#4742e6,#4539d8,#4740e3 76.5px,#4435d1 78.5px,#463ee1 79.5px,#4745e9 81.5px,#4434ce 84.5px,#463bdc,#4849ed,#4852f4 87.5px,#4746ea 89.5px,#475cfa,#484ef1 91.5px,#4758f8,#4742e6,#4848ec 97.5px,#463adb 98.5px,#4741e5 100.5px,#463cde,#4747eb 102.5px,#4853f5 105.5px,#4849ed,#4853f5,#3b72ff,#3678fd,#4269fe,#475bf9,#4564fd,#4561fc,#3578fd 114.5px,#406dfe 116.5px,#465ffb,#465ffb 118.5px,#4746ea 120.5px,#6a5fdd 121.5px)"></i><i style="background:linear-gradient(#7a6cd0 .5px,#412cba,#412cb9,#422ec0 3.5px,#412cb9 5.5px,#422fc0 10.5px,#412dbb 12.5px,#4330c5 16.5px,#412dbc 19.5px,#4331c6 21.5px,#4332c8,#4230c4,#4434cd 24.5px,#4435d1 26.5px,#4435d0 27.5px,#4230c3 29.5px,#4331c7 30.5px,#4330c5,#4434cf,#4433cb 36.5px,#4435d1,#4331c5 38.5px,#4332cb 40.5px,#4331c6,#4435d1 42.5px,#4331c6 46.5px,#4435d1 48.5px,#4331c8 49.5px,#4434cf 52.5px,#4331c8,#4435d1 54.5px,#4435d2 56.5px,#463bdd 57.5px,#463ddf 59.5px,#463adb 60.5px,#463cde 62.5px,#4537d6 63.5px,#4435d1 66.5px,#463ee0,#463cde,#4433cd 69.5px,#484bee,#463ee1 73.5px,#473fe3,#4536d3,#473ee2 76.5px,#43c,#4744e8 80.5px,#4852f4,#4744e8,#4435d1,#4536d3,#4742e6 85.5px,#4851f4,#484bef 89.5px,#465efb,#4853f4 91.5px,#475cfa 93.5px,#4746ea,#463ada 95.5px,#463adb 97.5px,#473fe3,#484cef,#484bee,#475cfa,#465efb 102.5px,#4854f5 104.5px,#475bfa,#4755f6,#4759f8,#3579fd,#2e83f9,#3975fe,#337bfd,#3c71ff,#3975fe,#2f82f9,#2c90f0,#2d89f5,#475bf9,#4368fd,#416bfe,#4562fc,#6c6ef1 121.5px)"></i><i style="background:linear-gradient(#7b6dd4 .5px,#422fc1,#422fc0,#4332ca,#4332c9,#422fc1 5.5px,#4331c7 13.5px,#4434d0 15.5px,#4332ca 18.5px,#4230c3,#4433cd,#4435d0 21.5px,#4433cd 23.5px,#4536d4 24.5px,#4538d8,#4434ce,#4538d8 30.5px,#4536d4 33.5px,#4538d8 35.5px,#4435d1,#4536d5,#4332ca 38.5px,#4639d9 40.5px,#4537d5,#463cde 42.5px,#43c 44.5px,#4537d6,#4433cd,#4537d6,#4538d8,#4434cf 49.5px,#4538d7 52.5px,#4538d7 54.5px,#4434cf,#4536d5,#4743e7,#473fe3,#4743e7 59.5px,#463cdf 61.5px,#473fe2,#4538d7 63.5px,#473fe3 65.5px,#463cde,#4747eb 67.5px,#463bdd,#4756f7,#4741e4 73.5px,#4740e4,#4538d7,#473fe3,#4741e4,#4537d5,#463ee1,#4755f6,#4368fd,#4757f7,#4639d9,#463adb,#484df0,#4757f7,#465dfa,#4756f7,#4759f8,#4563fc,#4561fc 91.5px,#426afe 93.5px,#4746ea,#4740e4,#4848ec,#4747eb,#475af9,#3c72ff,#3e6fff,#2f83f9,#3a73fe 102.5px,#465efb 104.5px,#4563fd,#4660fc,#4466fd,#2d87f6,#2797eb,#2d88f6,#2b91ef,#317dfc 112.5px,#2d8bf4 114.5px,#1aacdd,#1fa5e2,#3b72ff,#317efb,#259be8,#3080fb,#6886fe 121.5px)"></i><i style="background:linear-gradient(#7b6ed7 .5px,#4331c8,#422fc2,#43c,#43c,#4230c3 5.5px,#4434cf 8.5px,#4330c5 10.5px,#4537d7 15.5px,#4535d2 18.5px,#4332ca,#4435d1,#4435d0 21.5px,#463bdc 25.5px,#463adb,#4535d2 27.5px,#463cde 30.5px,#4535d2,#463adb 32.5px,#4537d6 34.5px,#463bdd,#4537d5,#4639da,#4536d3 38.5px,#473fe2,#463de0 42.5px,#4435d0,#4535d2,#463ee0,#4434cf,#4535d2,#463bdc 48.5px,#463ddf 50.5px,#4537d5 51.5px,#463bdd 53.5px,#4435d0,#4434cd,#4536d4,#4746ea,#4639d9,#4742e6,#473fe3,#4538d7,#463de0,#4537d6 63.5px,#4745e9 65.5px,#4740e4,#4745e9,#463de0 68.5px,#4854f5 71.5px,#4743e7 73.5px,#4747eb,#463ada,#463bdc,#4740e4,#463cde,#484aee,#4464fd,#3c71ff,#4660fc,#463de0,#463bdc,#4746ea,#4759f8,#465dfa,#4757f7,#4661fc,#475cfa,#4561fc,#406dfe,#426afe,#4848ec 94.5px,#426afe 96.5px,#4759f8,#475bfa,#3777fe 99.5px,#2798ea 101.5px,#317efb,#3975fe,#4562fc,#3c72ff,#3f6efe,#465ffb,#426afe,#2d8cf3 109.5px,#2895ec 111.5px,#3b73fe,#3777fe,#3974fe,#2994ed,#2e86f7,#2d8cf3,#2797eb,#15afd9,#2f82f9,#668aff 121.5px)"></i><i style="background:linear-gradient(#7b6ed6 .5px,#4332c9,#422fc1 2.5px,#4331c8 4.5px,#422ec0 5.5px,#4434cf 8.5px,#4434cf,#4332c8 10.5px,#4332cb 13.5px,#4536d2 14.5px,#4538d7 16.5px,#4433cb 19.5px,#4536d3,#4435d0 21.5px,#463cde 23.5px,#4538d8,#463ddf 25.5px,#4536d3,#4740e3 29.5px,#463ee0,#4434ce,#4539d9,#463bdd,#4535d2,#473fe3,#463adb 36.5px,#463adb,#4741e5 40.5px,#473fe2 41.5px,#4435d1,#4743e7 45.5px,#4535d2,#4536d3,#473ee1,#4742e6 49.5px,#4538d7 51.5px,#463cde,#463bdc,#4434ce,#4434ce,#4537d6,#4747eb,#4538d8,#4743e7,#473fe2,#4538d7,#473fe2,#4536d4,#4537d7,#473fe3,#473fe3,#4848ec,#473fe2,#473fe2,#484aed,#484ef1,#4745e9,#4743e7,#484df0 74.5px,#4539d9,#4746ea 78.5px,#4758f8,#4465fd,#4368fd,#465efb,#484aee 83.5px,#4743e7 85.5px,#4851f3,#4759f9,#484ff2,#4563fc 89.5px,#416bfe 91.5px,#337afd,#3677fe,#4562fc,#3876fe,#317efb,#475cfa,#4746ea,#4465fd,#2d88f6,#21a2e4,#2d8bf4,#307efb,#3b72fe,#2d8bf3,#3b73fe,#4747ec,#4851f3,#327cfc,#249ee6,#22a2e4,#317efb 112.5px,#3678fe 115.5px,#4852f4,#2e86f8,#0db3d3,#06b5ce,#317dfc,#6a83fd 121.5px)"></i><i style="background:linear-gradient(#7b6ed5 .5px,#4332c9,#422fc2 2.5px,#4230c4 4.5px,#412dbd 5.5px,#43c,#4435d2 9.5px,#4433cd 12.5px,#4331c6,#4536d4 14.5px,#4435d2 16.5px,#4331c8,#4434cf,#4433cb,#4536d4 20.5px,#463de0 23.5px,#4639da,#463de0,#4537d6,#4537d5,#4539d9,#4740e4,#473ee1,#4435d0 31.5px,#4639d9 33.5px,#4537d5,#4742e6,#463bdd,#463adc 37.5px,#4745e9 39.5px,#4746ea 40.5px,#4639da 42.5px,#463ada 43.5px,#4744e9 45.5px,#463bdd 46.5px,#4740e4 48.5px,#463de0 51.5px,#4744e8 52.5px,#4435d1 54.5px,#4536d5 55.5px,#4747eb 57.5px,#4538d8,#4741e4,#463cde,#463ddf,#4743e7 62.5px,#4537d5,#4744e8 66.5px,#4855f6 67.5px,#4744e8,#4853f5 71.5px,#4747eb,#4743e7,#484ef1,#4747eb,#463adc,#463ddf,#484ef1,#465dfa,#4660fb,#4758f8 81.5px,#475af9 83.5px,#4564fd,#4852f4,#4853f5,#475cfa,#484ff2,#4465fd,#317efb,#337bfc,#2d8bf4,#2f81fa,#4368fe,#307ffb,#2d89f5,#4464fd,#4747eb,#4367fd,#2e83f9,#259be7,#2d88f6,#2a93ee,#337bfc,#2d8df2,#3e70ff,#4746ea,#4758f8,#3876fe,#2798ea,#1da8e0,#269ae9,#2e84f8,#2e86f7,#2c8ef2,#4851f3,#3c71ff,#1aacdd,#249fe6,#3975fe,#6c7dfb 121.5px)"></i><i style="background:linear-gradient(#7b6ed5 .5px,#4331c7,#422fc2 2.5px,#4332ca 4.5px,#4230c3,#4433cb 6.5px,#4434cf 8.5px,#4332ca 13.5px,#4538d8 14.5px,#4331c6 17.5px,#4537d6 18.5px,#4536d3 20.5px,#463ee1 23.5px,#463cde 25.5px,#4536d3,#4537d6,#4434cf,#463adb,#463cde,#4538d8,#463bdd 32.5px,#4536d4 34.5px,#473ee2,#4539d9,#4639da 37.5px,#4746ea 39.5px,#463ee1,#4744e8 45.5px,#4743e7,#463bdd,#4849ec 51.5px,#484bee 52.5px,#4537d6 54.5px,#473fe2 55.5px,#484aed 57.5px,#4741e5,#473fe2 59.5px,#4741e5 61.5px,#463cde,#463ee1,#4537d5,#473ee2,#4743e7,#4755f6,#4757f7,#4849ed 69.5px,#4759f9,#473ee2 73.5px,#484ef1,#4745e9,#4539d9,#463adb,#484cf0,#465efb,#4562fc,#4757f7,#4759f8 82.5px,#3d70ff 84.5px,#465ffb,#4758f8 86.5px,#4756f7 88.5px,#3f6fff,#2e86f7,#3974fe,#2c8ef1,#307ffb,#4756f7,#3a74fe,#2c90f0,#3f6fff,#475cfa,#4367fd,#4563fc 100.5px,#3d71ff 102.5px,#22a2e4,#317dfc,#2e85f8,#406cfe,#4747eb,#484bef,#4368fe,#307ffb,#2699e9,#1da8e0,#337bfc,#2a93ee,#16aeda,#327cfc,#307ffb,#2c8ff1,#2f82fa,#3e6fff,#6c7dfb 121.5px)"></i><i style="background:linear-gradient(#7b6ed6 .5px,#4332c9,#4331c7 2.5px,#4332c9 5.5px,#4435d2 7.5px,#4332cb,#4434cf 13.5px,#4538d8 14.5px,#4331c7 16.5px,#4331c8,#4537d6,#4639da 19.5px,#4435d1 22.5px,#463ee0 23.5px,#4435d1 26.5px,#4537d6,#4433cd 28.5px,#4740e4 32.5px,#4740e4,#4435d1,#4539d9 35.5px,#463adb,#4743e7 39.5px,#4741e5,#463bdd,#4740e4 42.5px,#4740e4,#4746ea 46.5px,#473fe2 49.5px,#4851f3 51.5px,#484bef 52.5px,#463bdc,#484df1 56.5px,#484ef1 57.5px,#463ee1 59.5px,#4849ed,#4742e6,#4538d7,#463bdd,#4537d7,#4741e5,#463de0 66.5px,#484ff2 68.5px,#4747eb 69.5px,#4755f6 71.5px,#484ff2,#4741e4,#484bef,#4746ea,#463bdc,#463ee1,#475bfa,#3e6fff,#4368fe,#4758f8,#4756f7 82.5px,#426afe 84.5px,#465ffb 85.5px,#4853f5 87.5px,#4757f7,#3f6dfe,#3777fe,#4759f8,#3975fe,#3579fd,#475bf9,#3d70ff,#2d88f6,#4561fc,#4466fd,#4464fd,#4744e8,#4744e8,#4756f7,#2d8df2,#3975fe,#347afd,#4466fd 106.5px,#4745e9 108.5px,#4563fc,#3f6fff,#2e83f9,#22a2e4,#2e87f7,#08bcbe,#1ec0b2,#23a0e5 116.5px,#2d87f6 118.5px,#2c8ef1,#3b73fe,#638eff 121.5px)"></i><i style="background:linear-gradient(#7b6ed6 .5px,#4331c8 1.5px,#422fc2 3.5px,#4331c8 6.5px,#4536d3 7.5px,#4433cb 10.5px,#4435d0 11.5px,#4332c9 13.5px,#4536d2 14.5px,#43c 16.5px,#463cde 19.5px,#4537d5 21.5px,#43c,#463bdd 23.5px,#4536d3,#4537d6 27.5px,#4432cb 28.5px,#4536d4 30.5px,#473fe2 31.5px,#4744e8 33.5px,#4537d6,#4435d1 35.5px,#4742e6 38.5px,#4741e4 39.5px,#4538d8 41.5px,#473ee1 42.5px,#463cde,#4849ed 46.5px,#4744e9 49.5px,#484df0 51.5px,#473fe2 54.5px,#4854f5 56.5px,#4741e5 59.5px,#484cf0 60.5px,#4537d6 62.5px,#4536d4,#463de0,#484ff2 65.5px,#463adb 67.5px,#4744e9 68.5px,#4849ed 71.5px,#4853f5,#484df0 73.5px,#484df0 76.5px,#4852f4,#4368fe,#3876fe,#4465fd 80.5px,#484cf0 82.5px,#475bf9,#465dfa,#4853f4,#4561fc 86.5px,#4757f7 88.5px,#465ffb,#475bf9,#484df0,#4660fc,#3a74fe,#4465fd 94.5px,#3479fd 96.5px,#484aed,#4758f8,#4660fb,#4741e5,#463ee1,#4849ed,#3f6eff,#347afd,#406cfe 105.5px,#3c72ff 107.5px,#4854f5,#3a74fe,#317dfb 110.5px,#259be7 112.5px,#2b91ef,#2b91ef,#259ce7,#2797eb,#2e85f8,#2d8df3,#249ee6,#2e85f8,#50b1eb 121.5px)"></i><i style="background:linear-gradient(#7b6fd7 .5px,#4330c5 1.5px,#422fc2,#4332c8 5.5px,#4230c3,#4435d0 7.5px,#4434cf 9.5px,#4331c8,#4434cd,#4330c5,#4331c7 13.5px,#4538d7 15.5px,#4435d0,#463adc,#4537d7,#463cde 19.5px,#4536d2 22.5px,#463bdc 23.5px,#4536d3 25.5px,#4639da,#4538d7,#43c 28.5px,#463de0 31.5px,#463ddf,#4744e8 33.5px,#4536d3 35.5px,#4742e6 38.5px,#463cde,#4745e9 42.5px,#463cde,#463adb,#4745e9,#484bef,#4743e7,#4745e9 48.5px,#463cde,#4849ed,#4741e4,#4850f2,#4745e9,#4849ed 60.5px,#473fe2,#473ee1,#4537d6,#4744e8,#475bf9,#4852f4,#463cdf,#4742e6 68.5px,#4746eb 71.5px,#4852f4 72.5px,#4854f5 75.5px,#4563fc 76.5px,#4660fb 78.5px,#416cfe,#4757f7,#4854f6,#4744e8,#475cfa,#465efb,#4755f6,#4369fe,#3f6dfe,#465efb,#4561fc,#4851f3,#4759f8,#3e70ff,#3d71ff,#4564fd,#3e6fff,#317dfc,#4746ea,#4745e9,#4853f5,#4746ea,#4744e8,#484df1,#3f6dfe,#2d8df2,#416afe,#2e84f8,#23a0e5,#249ee6,#2f82fa,#327cfc,#2b91ef,#2b90ef,#2e83f9,#4369fe,#337bfd,#337afd,#4853f5,#3080fb,#2994ed,#2b92ee,#34c6d4 121.5px)"></i><i style="background:linear-gradient(#7a6cd1 .5px,#422ebf 1.5px,#4433cd 4.5px,#4330c5 6.5px,#4332cb 7.5px,#4332cb 9.5px,#4330c4,#4332c9 11.5px,#4331c6,#4538d7 15.5px,#4434cf,#4539d9,#4536d4 18.5px,#463ada 20.5px,#4639da 23.5px,#4536d3 25.5px,#4639d9 26.5px,#4433cd 28.5px,#4639d9 29.5px,#463ada 31.5px,#4537d6,#4742e6 33.5px,#4537d6 36.5px,#4537d7,#463cdf,#4539d9 39.5px,#4848ec 42.5px,#4639da 44.5px,#4744e8,#4848ec,#4740e4 47.5px,#4435d2 50.5px,#463ee1,#4746ea,#4849ed,#473ee2,#4746ea,#4848ec,#4745e9,#484aee,#4848ec,#4744e8,#463adc,#484aed,#463bdc,#4747eb,#475bf9,#475bf9,#4746ea,#4747ec 68.5px,#4741e4 70.5px,#484ff2,#4755f6,#4853f5,#4747eb,#4850f3,#416cfe 76.5px,#4759f8 78.5px,#465ffb,#4852f4,#4854f5,#484df0 82.5px,#4562fc 84.5px,#4563fd,#3d71ff,#3b73fe,#475cfa,#4562fc,#4851f3,#4561fc,#2f80fa,#4369fe,#465dfa 94.5px,#426afe 96.5px,#484cf0,#484cf0,#4851f3,#3974fe,#3876fe,#4661fc,#3a74fe,#2f83f9,#3a74fe 105.5px,#22a2e4 107.5px,#1aacdd,#4466fd,#465efb,#416bfe,#337bfc,#4367fd,#484ff2,#3677fe,#327bfc,#4849ed,#4755f6,#259de7,#1ea7e1,#34c7d3 121.5px)"></i><i style="background:linear-gradient(#7a6bcf .5px,#422ebf 1.5px,#4230c4 3.5px,#4433cd 4.5px,#4332c9 7.5px,#422fc2,#4331c6 9.5px,#4331c6 13.5px,#4539d9 15.5px,#4536d2 16.5px,#4639da 21.5px,#4434cf 23.5px,#4536d4,#4434ce,#4535d2 26.5px,#4332ca 28.5px,#4537d6,#4538d7,#4537d6,#4433cd,#473fe2 33.5px,#463ddf 35.5px,#4435d0 36.5px,#4639da 38.5px,#4536d4 39.5px,#463ee1 43.5px,#4537d5 44.5px,#473fe2 46.5px,#463ddf 47.5px,#4434d0 49.5px,#4435d1,#463ddf,#4742e6,#4744e8,#463ddf,#4743e7 55.5px,#4740e3 57.5px,#484aed 58.5px,#473fe3 60.5px,#4539d9,#484aee,#4740e3,#4742e6 64.5px,#4757f7 66.5px,#4847ec,#484bef 68.5px,#463adb 70.5px,#484bee,#4756f6 72.5px,#4747eb 74.5px,#4850f2,#416bfe 76.5px,#465ffb,#475cfa,#4660fb 82.5px,#484ff2,#4756f6,#4465fd,#3677fe,#3f6eff,#475bf9,#4563fc,#4758f8,#4759f8,#3678fd,#465ffb 93.5px,#4746ea 96.5px,#4851f4 97.5px,#4757f7 99.5px,#3777fe,#3678fe,#406dfe,#3e6fff,#4368fd,#2d8af5,#2d8df2,#3875fe,#23a0e5,#475cfa 109.5px,#4852f4 111.5px,#4369fe 112.5px,#4853f5 114.5px,#317efb,#2d8af5,#475bfa,#2e85f8,#01b8c9,#14b0d8,#4db5e9 121.5px)"></i><i style="background:linear-gradient(#7a6ccf .5px,#422fc1 1.5px,#412ebe 3.5px,#4330c5 4.5px,#412dbc,#4230c3 12.5px,#422ebe,#422fc1,#4434ce 15.5px,#43c 17.5px,#4435d1,#4330c4 23.5px,#4432cb 24.5px,#4230c3 27.5px,#4332ca 31.5px,#4330c5,#4537d6,#4538d8,#4537d6,#4332c8 36.5px,#4434cf,#4330c5,#4332ca 42.5px,#4536d4,#4332cb 44.5px,#4536d3,#4332ca,#4435d0,#463bdd 52.5px,#4539d9 56.5px,#4435d0,#463bdd 58.5px,#4537d6 61.5px,#473fe3 62.5px,#4537d5 64.5px,#4538d8,#4741e5,#463de0,#4746ea 68.5px,#4536d3 70.5px,#463ada,#4747eb 72.5px,#4746ea,#4853f5 78.5px,#4851f3,#4756f7 82.5px,#4742e6,#4744e8,#4755f6,#4466fd,#4758f8,#4853f5,#475af9 89.5px,#4744e8 91.5px,#465dfa,#4755f6,#4849ed 94.5px,#4539d9 96.5px,#484df0 97.5px,#4755f6 99.5px,#4853f5,#4745e9,#475bf9 102.5px,#475af9 104.5px,#327cfc,#3776fe,#465ffb,#3479fd,#465dfa,#4855f6,#4756f7,#4563fd 112.5px,#4851f3 114.5px,#4367fd,#3a74fe,#4759f8,#2b90ef,#249ee6,#347afd,#658bff 121.5px)"></i><i style="background:linear-gradient(#796aca .5px,#402ab5 1.5px,#402bb6 11.5px,#3f29b1,#402bb8 15.5px,#412dbb 20.5px,#412cba 24.5px,#402ab4,#412cb8 28.5px,#402bb7,#422ebf 34.5px,#402ab4 36.5px,#412dbd 46.5px,#402bb6,#412dbd 50.5px,#422ebf 54.5px,#422ebf 56.5px,#412cb9 57.5px,#422fc1 62.5px,#412dbc 65.5px,#4230c3 67.5px,#4433cb 68.5px,#422fc0 71.5px,#4332c9 72.5px,#4331c6 76.5px,#4536d3 78.5px,#4536d4 81.5px,#4435d2,#4330c5,#4331c6 84.5px,#4536d3 86.5px,#4435d0 87.5px,#4536d4,#4230c3 91.5px,#4537d5,#4537d6 93.5px,#4330c5 96.5px,#4537d5 97.5px,#4539d9 100.5px,#43c,#4538d8 102.5px,#4539d9 104.5px,#473fe3 105.5px,#463adc 107.5px,#473fe3 108.5px,#463adb,#473ee1 112.5px,#4639da,#4539d9,#4740e4,#463de0,#4435d0,#4849ed,#4747eb,#4639da,#6b64e6 121.5px)"></i><i style="background:linear-gradient(#7868c6 .5px,#3f28ad 1.5px,#3f28af,#3e27aa 5.5px,#3f29b0 10.5px,#3e27ab,#3f29b1 18.5px,#3f29b0 23.5px,#3e27aa,#402ab3 29.5px,#3f28ad 31.5px,#3f28af,#3e27ab 37.5px,#3e27ac,#402ab3 41.5px,#3f29b0 48.5px,#402ab4 51.5px,#3e27ac 53.5px,#402bb6 56.5px,#3e27ac 58.5px,#3e27ab 59.5px,#402bb6 67.5px,#3f29b1 76.5px,#402bb7 78.5px,#412cb9 82.5px,#3f29b2 91.5px,#412cba 95.5px,#422fc0 108.5px,#412cb9 113.5px,#422fc2,#412dbb 117.5px,#422ebf 120.5px,#6859ce 121.5px)"></i><i style="background:linear-gradient(#7868c5 .5px,#3f28ae 1.5px,#3e27aa 4.5px,#3f28ae 9.5px,#3e27aa 11.5px,#402ab3 18.5px,#3e27ac,#3f29b0,#3f28ae 27.5px,#402ab4 29.5px,#3e28ad 32.5px,#3f28ad 39.5px,#402ab5 42.5px,#3f29b2 54.5px,#402bb6 58.5px,#3f29b1 60.5px,#402bb7 64.5px,#402bb6 76.5px,#412dbb 79.5px,#4029b3,#402ab5 91.5px,#412dbd 95.5px,#412cb8 103.5px,#412dbd 112.5px,#4230c4 115.5px,#422ebf 119.5px,#422ec0,#6858cd 121.5px)"></i><i style="background:linear-gradient(#7a6ccf .5px,#412cb9 1.5px,#3f29b1 4.5px,#412dbc 9.5px,#3f29b0,#422fc3 13.5px,#4331c7 17.5px,#4331c7,#402ab5,#4331c8 23.5px,#412dbd,#4433cd 29.5px,#422fc1 33.5px,#4331c6 35.5px,#412dbd 36.5px,#4332ca 39.5px,#4331c7 40.5px,#4538d7 43.5px,#4331c8 45.5px,#4434cf 48.5px,#4433cb,#4434ce,#4538d7,#4433cb 56.5px,#4435d2,#463de0,#4639da,#4433cd 60.5px,#4331c7,#4536d4 64.5px,#4536d3 65.5px,#463adb 67.5px,#4433cd 68.5px,#4538d7 70.5px,#4538d8,#4435d0 72.5px,#463cde 78.5px,#463bdd,#4433cd 84.5px,#4433cd 86.5px,#463bdd,#463cdf,#4434cf 89.5px,#4435d2 91.5px,#463bdc,#463adc,#4435d1 94.5px,#4434cf 96.5px,#4536d5,#4434d0 98.5px,#463adb 100.5px,#4537d5 103.5px,#43c 105.5px,#4539d9 106.5px,#4740e3,#4537d5 112.5px,#4743e7 114.5px,#463bdd,#473fe2 120.5px,#6c66e9 121.5px)"></i><i style="background:linear-gradient(#7b6dd4 .5px,#412cba 1.5px,#402bb7 3.5px,#412dbb 4.5px,#412cba 7.5px,#422fc1,#422fc2 9.5px,#402ab4,#4332ca,#4433cd,#4331c6,#4433cb,#412cbb,#4332cb 23.5px,#412cba 26.5px,#4433cd 28.5px,#43c 34.5px,#4230c3 36.5px,#4434d0 37.5px,#4538d7 39.5px,#4332c8 40.5px,#4537d6 42.5px,#4537d5 43.5px,#4331c6,#463ada 49.5px,#4538d8,#463bdd,#4538d7,#4538d8 57.5px,#463ddf 58.5px,#4536d3 60.5px,#4536d4,#43c,#4433cd 63.5px,#4742e6 66.5px,#4740e3,#4435d1,#4435d0 69.5px,#463cdf 71.5px,#4639da,#473fe2 79.5px,#463bdc,#463ddf 81.5px,#4435d0 84.5px,#4639da 86.5px,#4744e8,#4744e8,#4538d8 89.5px,#463bdc 91.5px,#4740e4,#463cde,#4434cf 94.5px,#463de0 97.5px,#4538d8 98.5px,#473ee1 100.5px,#4434ce 105.5px,#463bde 106.5px,#4744e8,#473fe3,#4536d3,#4745ea 114.5px,#4740e3 115.5px,#473fe2 117.5px,#463adc 118.5px,#473fe3 120.5px,#6c6bef 121.5px)"></i><i style="background:linear-gradient(#7b6dd3 .5px,#412cbb 1.5px,#402bb8 3.5px,#4230c4 6.5px,#412ebe,#4230c4 8.5px,#3f29b1 11.5px,#4433cb 13.5px,#4230c4 19.5px,#422ebf 20.5px,#4331c6 24.5px,#412cba 26.5px,#4330c5 27.5px,#4332ca 31.5px,#4331c8,#4435d0 33.5px,#4230c3 35.5px,#4330c5,#4434cf 37.5px,#4434cf 39.5px,#422fc2 40.5px,#4536d4 42.5px,#4434d0,#4537d6 44.5px,#4330c4 46.5px,#463bdd 49.5px,#4639da 51.5px,#463cdf 52.5px,#4538d8,#463de0 56.5px,#4435d0 59.5px,#4434cf,#463ada 61.5px,#4332ca 63.5px,#4434cf,#463bde,#4741e4,#463de0 67.5px,#4433cd 69.5px,#4742e6,#4537d6 75.5px,#4536d3,#473fe2 79.5px,#43c 82.5px,#4332ca 83.5px,#473ee1 88.5px,#4536d4 89.5px,#4742e6 92.5px,#4537d5 94.5px,#4538d7,#473ee1,#463cdf,#4536d4 98.5px,#463ee1,#4537d6 102.5px,#4538d8 103.5px,#4536d3 105.5px,#473ee1,#4741e6 107.5px,#4741e5 110.5px,#4537d6,#4742e6,#463cde 116.5px,#463adc 119.5px,#463cde,#6c6aed 121.5px)"></i><i style="background:linear-gradient(#7a6ccf .5px,#402bb8 1.5px,#402bb6 4.5px,#4330c5 6.5px,#422ebf,#422fc2,#422ebf 9.5px,#3f29b2,#422fc1,#4331c6 15.5px,#412ebe 19.5px,#422fc2,#422ebf 23.5px,#4330c5 24.5px,#412dbb,#412cba 28.5px,#422fc1 29.5px,#422fc1,#43c,#422fc3,#43c 37.5px,#422ebf 40.5px,#4332c9 41.5px,#4332c8 43.5px,#4535d2,#4434ce,#4230c4 46.5px,#4536d4 49.5px,#4434ce,#4536d4 53.5px,#4435d0,#4639d9,#4639d9 56.5px,#4330c5 60.5px,#4434cf 61.5px,#4230c4 63.5px,#4331c6 64.5px,#4538d7 66.5px,#4536d4,#4331c8,#4331c7 69.5px,#463adb 71.5px,#463de0 72.5px,#4435d1 74.5px,#4434cf 77.5px,#463de0 79.5px,#4538d8 80.5px,#412dbc 82.5px,#412dbc 83.5px,#4435d0 85.5px,#4433cb 86.5px,#4435d1 88.5px,#4331c8 89.5px,#4538d8,#4536d5 93.5px,#4538d7 96.5px,#4434ce 98.5px,#4639da,#463bdd 100.5px,#4434cf 102.5px,#4538d7,#4538d8,#4434cf 105.5px,#463adb,#473ee1,#4536d5,#4537d5 113.5px,#463adb 114.5px,#4536d2,#463adb,#4538d8 120.5px,#6c67ea 121.5px)"></i><i style="background:linear-gradient(#7868c5 .5px,#3f28ad 1.5px,#3f29b2,#3e27ab 11.5px,#4029b2 21.5px,#3f28ae 26.5px,#3f29b1 32.5px,#402bb6 34.5px,#3f29b1 35.5px,#402ab5 38.5px,#3f28af 40.5px,#3f29b2,#3e28ad,#402ab4,#3f29b1,#402bb8 55.5px,#3f28af,#402ab5 63.5px,#402ab5 72.5px,#3f29b1 74.5px,#412dbd 79.5px,#412dbd 80.5px,#402ab4 82.5px,#412cba 85.5px,#412cb8 89.5px,#422ec0 94.5px,#412cba 97.5px,#422ebe 99.5px,#412cba 102.5px,#4230c3 114.5px,#412ebd 116.5px,#4230c3 120.5px,#6859cf 121.5px)"></i><i style="background:linear-gradient(#7868c5 .5px,#3f28ae 1.5px,#3f29b1,#3e27aa 11.5px,#3f28ae 14.5px,#3e27a9 18.5px,#3f28ae 20.5px,#3e27ab 23.5px,#402ab3 34.5px,#3f28ad,#3f29b1 38.5px,#3f28ad 45.5px,#3f29b2 48.5px,#3e27aa 52.5px,#3f29b2,#3f28af 56.5px,#402ab5 63.5px,#3f29b0 66.5px,#402bb7 70.5px,#3f29b2 73.5px,#412dbc 80.5px,#402bb7,#412ebe 86.5px,#412dbb 88.5px,#422fc1,#412cb9 102.5px,#412dbd 105.5px,#412cb9 111.5px,#422fc0 114.5px,#422ec0,#4331c7,#422fc2 120.5px,#6858cc 121.5px)"></i><i style="background:linear-gradient(#7868c4 .5px,#3e27ab 1.5px,#3e27aa,#3f29b0 5.5px,#3e27aa 10.5px,#3f29b0 13.5px,#3e27ab,#3f28ae 17.5px,#3e27ab 22.5px,#3f29b2 29.5px,#3f28ae 35.5px,#402ab4 40.5px,#3e27ac,#3f29b2 46.5px,#3e27ac,#402bb7,#402ab5 67.5px,#412cba,#402ab5 73.5px,#412ebe 80.5px,#412dbb,#4331c7 86.5px,#4331c6 91.5px,#412dbb 100.5px,#422ebf 105.5px,#412dbc 111.5px,#4230c3 114.5px,#4330c4 118.5px,#422ebf 120.5px,#6757c9 121.5px)"></i><i style="background:linear-gradient(#7867c3 .5px,#3e27aa,#3e27a9 2.5px,#3f28ae 5.5px,#3e27ab,#3f29b2 13.5px,#3e27a9 15.5px,#3f29b1,#3e27ac 21.5px,#3f29b0 25.5px,#3e27ab 28.5px,#3f28ae 32.5px,#3e27ab 35.5px,#402ab4 41.5px,#3e27aa 43.5px,#402ab4,#3e27aa 49.5px,#3f29b2 58.5px,#3f29b0 63.5px,#402bb6 65.5px,#412cb8 72.5px,#402ab3 74.5px,#402bb8 83.5px,#422ec0 86.5px,#412cb9 98.5px,#422fc3 109.5px,#4230c3 114.5px,#412dbc 116.5px,#412dbd 120.5px,#6757c8 121.5px)"></i><i style="background:linear-gradient(#7868c4 .5px,#3e27ab 1.5px,#3e27a9 3.5px,#3f29b0 12.5px,#3e27aa 15.5px,#3f28ae 22.5px,#3e27a9 28.5px,#3f28af 32.5px,#3e27a9 35.5px,#3e28ad 39.5px,#402ab5 41.5px,#3f28ae 44.5px,#3f29b0 46.5px,#3e27aa,#3f28ae 54.5px,#3e27ab,#402ab4 58.5px,#3f28ae,#402ab5 66.5px,#402bb6 72.5px,#3f29b1 75.5px,#412cb9 86.5px,#412cb9 103.5px,#422fc3 108.5px,#422ebf 112.5px,#4230c3 114.5px,#412cbb,#412dbd 120.5px,#6757c9 121.5px)"></i><i style="background:linear-gradient(#7868c4 .5px,#3f28ad 1.5px,#3f29af,#3e27ab 7.5px,#3f29b2 12.5px,#3f28ad 15.5px,#3f29af 20.5px,#3e27a9 24.5px,#3f29b0 32.5px,#3e27ab 35.5px,#3f29b1 41.5px,#3e27ac 44.5px,#3f29b1 58.5px,#3e27ac 61.5px,#402bb6 66.5px,#402ab3 69.5px,#412dbb 77.5px,#402bb7 81.5px,#422ebf 90.5px,#402bb7 96.5px,#412ebe 99.5px,#402bb8 101.5px,#4230c4 108.5px,#422ebf 111.5px,#422fc2 113.5px,#412dbd 116.5px,#412ebe 120.5px,#6757c9 121.5px)"></i><i style="background:linear-gradient(#7868c4 .5px,#3f28ad 1.5px,#3f29b2 3.5px,#3e27ab 8.5px,#402ab3 12.5px,#3f28ad 18.5px,#3f29b0 20.5px,#3e26a9 25.5px,#3f29b0 33.5px,#3e27ac 39.5px,#3f29b2,#3e27aa 45.5px,#4029b2 51.5px,#3f28ae 63.5px,#412cba 68.5px,#402bb7 70.5px,#412ebe 77.5px,#402ab5 81.5px,#412cba 86.5px,#4230c4 90.5px,#412cb9 96.5px,#412dbb 101.5px,#422fc3,#422fc2 109.5px,#412dbc,#422ec0 113.5px,#412dbd 120.5px,#6758cb 121.5px)"></i><i style="background:linear-gradient(#7868c6 .5px,#3f29b1 1.5px,#402ab5 3.5px,#3e27aa 8.5px,#3f29b1 12.5px,#3e26a9 24.5px,#3f29b0 27.5px,#3e28ac 31.5px,#3f29b2 41.5px,#3e27aa 46.5px,#3f29b1 49.5px,#402bb6 60.5px,#3f28af,#412cb9 68.5px,#412dbc 73.5px,#402bb6 82.5px,#422fc1 90.5px,#402bb7 97.5px,#422fc1,#412dbb 107.5px,#422fc0 109.5px,#412dbb 112.5px,#412ebe 119.5px,#422ebf,#6859ce 121.5px)"></i><i style="background:linear-gradient(#7868c5 .5px,#3f28af 1.5px,#3e27ab 10.5px,#3f28ae 12.5px,#3e27ab 28.5px,#3f29b2 40.5px,#3e27ab 47.5px,#402ab3 55.5px,#3f29b2 58.5px,#402bb7 60.5px,#3e28ac 64.5px,#402bb6 70.5px,#412cba 80.5px,#402ab5 82.5px,#422ebe 95.5px,#402bb7,#422fc0,#402bb8,#412cb9 107.5px,#422ec0 109.5px,#412dbd,#422fc1 115.5px,#412cb9 119.5px,#412dbb,#6758cb 121.5px)"></i><i style="background:linear-gradient(#7868c5 .5px,#3f28ae 1.5px,#3e27ab 4.5px,#3e27aa 17.5px,#3f28af 20.5px,#3e27a9 24.5px,#3f28af 33.5px,#3e27ab 35.5px,#3f29b2 39.5px,#3e27ab 44.5px,#3e27aa 51.5px,#402ab4 60.5px,#3e27aa 64.5px,#3f29b1,#3f28af 68.5px,#402ab5 71.5px,#402ab3 76.5px,#412cba 80.5px,#402ab3,#412cb8,#402bb6 89.5px,#412dbc 95.5px,#402bb8,#412dbd,#402ab4 104.5px,#412cb9 106.5px,#412dbd 114.5px,#402bb8 120.5px,#6756c7 121.5px)"></i><i style="background:linear-gradient(#7868c5 .5px,#3f28ae 1.5px,#3e27a9 6.5px,#3f29af 14.5px,#3e26a9,#3f28af 20.5px,#3e27aa 29.5px,#3f28af 33.5px,#3e27a9 35.5px,#3f28af 39.5px,#3e28ac 52.5px,#402ab3 59.5px,#3e27ab,#402bb6 67.5px,#3f29af,#402ab4 71.5px,#3f29b1 75.5px,#412cba 80.5px,#402ab3 84.5px,#402bb7 86.5px,#402ab5 92.5px,#412cbb,#402bb6 98.5px,#412dbb 107.5px,#402bb8 110.5px,#422ebe 112.5px,#402cb8 115.5px,#412dbc 117.5px,#412cbb 120.5px,#6756c8 121.5px)"></i><i style="background:linear-gradient(#7869c6 .5px,#3f28ae 1.5px,#3e27a9 5.5px,#3f29b1 13.5px,#3e26a9 17.5px,#3f29af 23.5px,#3f28ad 45.5px,#402ab4 56.5px,#3f28af 70.5px,#402bb7 72.5px,#412cb8 77.5px,#422ebf 80.5px,#402ab3 88.5px,#412cba 91.5px,#422fc0 108.5px,#412dbc,#422fc1,#412dbb 114.5px,#412dbd 120.5px,#6757ca 121.5px)"></i><i style="background:linear-gradient(#7868c5 .5px,#3e27ab,#3e27aa 2.5px,#3e27a9 8.5px,#402ab3 11.5px,#3e27a9 16.5px,#3f28ae 18.5px,#3f29b0 23.5px,#3e27aa 32.5px,#3f29b1 42.5px,#3f28af,#402bb6 56.5px,#3f29b1 62.5px,#402ab5 65.5px,#3f28ae,#3f28ae,#3f29b2,#412dbc 73.5px,#422fc2 80.5px,#402ab4 88.5px,#422ec0 97.5px,#412dbc 100.5px,#422fc1 102.5px,#422ec0,#4331c8 108.5px,#412dbc,#402bb8 120.5px,#6756c7 121.5px)"></i><i style="background:linear-gradient(#7969c9 .5px,#3f29b0 1.5px,#3e27a9 4.5px,#3e27a9 8.5px,#3f29b1 11.5px,#3e27a9 13.5px,#3e26a9 16.5px,#3f29b2 22.5px,#3f28ad 24.5px,#3e27aa 37.5px,#3f29b1 40.5px,#3f29b0 58.5px,#402ab4 60.5px,#3f29af 68.5px,#402ab3,#412dbd 74.5px,#412cba 79.5px,#412dbc 82.5px,#402ab4 86.5px,#412cba 92.5px,#402bb8 95.5px,#412ebe 97.5px,#412cb9 100.5px,#4230c4,#402bb7 116.5px,#402bb7 120.5px,#6756c8 121.5px)"></i><i style="background:linear-gradient(#7969c9 .5px,#3f29b1 1.5px,#3e26a9 7.5px,#3f29b1 11.5px,#3e26a9,#3e26a9 17.5px,#3f29b2 22.5px,#3e27ac,#3f28ae,#3e27a9 31.5px,#3e28ac 36.5px,#402ab4,#3f28ae 42.5px,#3f29b1 47.5px,#3e28ac,#402ab5 55.5px,#3f29b0 57.5px,#402ab5 63.5px,#3f29b1 68.5px,#402bb8 75.5px,#3f29b0 78.5px,#3f29b2 85.5px,#412cb9 88.5px,#402ab5 95.5px,#412cbb 97.5px,#402bb6,#412dbc 103.5px,#402ab5 116.5px,#412cb9 120.5px,#6757c9 121.5px)"></i><i style="background:linear-gradient(#7969c9 .5px,#3f29b2 1.5px,#3e27ac 7.5px,#3e27a9 17.5px,#3f28af,#3e27ab 25.5px,#3f28ae 27.5px,#3e26a9 31.5px,#3e28ad,#3e27aa 35.5px,#3f29b2 39.5px,#3e27ac 45.5px,#3f29b0 52.5px,#402bb7 54.5px,#3e27ac 57.5px,#402ab5 64.5px,#3f29b2 72.5px,#412cba 76.5px,#3f29b0 78.5px,#3f28ae 81.5px,#412cba 88.5px,#402ab5 90.5px,#402bb8 96.5px,#402ab4 101.5px,#412dbb 107.5px,#402bb7 118.5px,#412dbb 120.5px,#6757ca 121.5px)"></i><i style="background:linear-gradient(#7869c6 .5px,#3f28af 1.5px,#3e27aa,#3f29b0 7.5px,#3e27ab 11.5px,#3f28ae 13.5px,#3e26a9 16.5px,#3e27aa 25.5px,#3f29b1,#3e27aa 29.5px,#3e27a9 35.5px,#3f29b2 38.5px,#3f28ad,#402ab3 46.5px,#3e27ac 48.5px,#402ab5 54.5px,#3e28ad,#402ab5 60.5px,#3f29b0 71.5px,#412dbc 75.5px,#402ab4 78.5px,#412dbd 86.5px,#412dbb 95.5px,#402ab5 97.5px,#422ebf 105.5px,#412dbc 118.5px,#422ebf 120.5px,#6758cb 121.5px)"></i><i style="background:linear-gradient(#7868c4 .5px,#3e27ab 1.5px,#3e27ab 5.5px,#402ab3,#3e27ac 11.5px,#3f28ae 13.5px,#3e26a9 16.5px,#3e27ab 25.5px,#402ab4,#3e27ac 29.5px,#3f29af 33.5px,#3e27ab 35.5px,#3f29b0 43.5px,#3f28ae 49.5px,#402ab4 53.5px,#3f28ad 56.5px,#412cb8,#3f28af,#402bb8 68.5px,#402ab3 71.5px,#422fc2 76.5px,#412cba 87.5px,#422fc1 92.5px,#412dbd 95.5px,#402ab4,#412dbb 99.5px,#412cba,#4330c5 109.5px,#412dbd 118.5px,#422fc2 120.5px,#6858cd 121.5px)"></i><i style="background:linear-gradient(#7868c4 .5px,#3e27aa 1.5px,#3e27ab 5.5px,#402ab5 8.5px,#3e27a9 14.5px,#3e27ab 24.5px,#402bb6,#3e27aa 30.5px,#402ab3 34.5px,#3e27a9 39.5px,#3f29af 43.5px,#3e27ac 45.5px,#3f29b2 53.5px,#3f28ad 55.5px,#402bb6 60.5px,#402ab4,#412cb9 68.5px,#402ab5 70.5px,#422fc1 77.5px,#412cb9 86.5px,#422ebf 90.5px,#412cba 97.5px,#412ebe 100.5px,#402bb8 104.5px,#422ebe 112.5px,#412dbc 118.5px,#422fc2 120.5px,#6859cf 121.5px)"></i><i style="background:linear-gradient(#7868c5 .5px,#3e27aa,#3e27a9 2.5px,#3f29b1 8.5px,#3e27a9 13.5px,#3f29b1 19.5px,#3e27aa 23.5px,#402ab3,#3e27aa 29.5px,#3f29b1 34.5px,#3e28ac 36.5px,#3f29b0 47.5px,#3e28ac 50.5px,#402ab5 60.5px,#3f29b2 62.5px,#402bb6 66.5px,#402ab4 72.5px,#412cba 77.5px,#402bb7 86.5px,#412dbc 88.5px,#412cba 101.5px,#402ab3 104.5px,#412ebe 113.5px,#412dbd 119.5px,#422ebf,#6858cd 121.5px)"></i><i style="background:linear-gradient(#7868c5 .5px,#3e27a9,#3e26a8 2.5px,#3f28ad 6.5px,#3e28ad 23.5px,#402ab4 25.5px,#3e27ab 29.5px,#3f29b1 44.5px,#3e27ab 49.5px,#3f28af,#3e27ab 53.5px,#402ab3 59.5px,#3f28af 61.5px,#402ab5 69.5px,#3f28af 72.5px,#402bb7 74.5px,#402ab4 77.5px,#402bb8 84.5px,#402ab3,#412cba 94.5px,#402ab4 100.5px,#412cb9 110.5px,#422ebf 113.5px,#412cba 119.5px,#412dbb,#6757ca 121.5px)"></i><i style="background:linear-gradient(#7969c7 .5px,#3e27ac,#3e27a9 2.5px,#3f29b0 6.5px,#3e26a9 9.5px,#3e26a9 13.5px,#402ab4 20.5px,#3f28ae,#3f29b2 26.5px,#3e27ac 28.5px,#3e27ac 37.5px,#3f29b0 40.5px,#3f28af 51.5px,#3e27aa 53.5px,#402ab3 56.5px,#3f28ad 61.5px,#402ab3,#3f29b1 67.5px,#402ab5 69.5px,#3f29b1 72.5px,#402bb6 74.5px,#3f28af 77.5px,#402bb8 90.5px,#402ab5 99.5px,#412cba 103.5px,#402ab5 106.5px,#412dbd 108.5px,#412cb9,#422ebe 114.5px,#412cb9 119.5px,#412dbc,#6758cb 121.5px)"></i><i style="background:linear-gradient(#7969c7 .5px,#3e27ac,#3e27aa 2.5px,#3f29b0 6.5px,#3e27a9 9.5px,#3e26a9 13.5px,#3f29b0 16.5px,#3f29b1 20.5px,#3e27ac 35.5px,#3f29b1 47.5px,#3e27aa 53.5px,#3f29b0 55.5px,#3f28af 62.5px,#402bb7 70.5px,#402ab3,#402bb7,#3f29b1 76.5px,#402bb8 81.5px,#402ab4 85.5px,#412dbd 93.5px,#412cb8 99.5px,#422ebf 103.5px,#412cb9 106.5px,#412dbc,#412cb9 110.5px,#422ec0 114.5px,#412dbb 120.5px,#6758cb 121.5px)"></i><i style="background:linear-gradient(#7868c4 .5px,#3e27aa 1.5px,#3e27aa 13.5px,#3f29b1 16.5px,#3e28ac 22.5px,#3f29b2 47.5px,#3e27ab 53.5px,#3f29b1 58.5px,#3f28ad,#402bb6 66.5px,#402ab4 69.5px,#412dbb 74.5px,#402bb6 76.5px,#412dbb 81.5px,#402ab5 85.5px,#402bb7 90.5px,#422fc1,#4230c4 96.5px,#412dbd 100.5px,#422fc2 103.5px,#412dbd 105.5px,#422ebf 110.5px,#4332c8 113.5px,#422ec0 120.5px,#6858cd 121.5px)"></i><i style="background:linear-gradient(#7868c5 .5px,#3f28ad 1.5px,#3e27ab 4.5px,#3f29b0 10.5px,#3e27ab,#3f28af 16.5px,#3e27aa 23.5px,#3f29b1 27.5px,#3e27ac 33.5px,#3f29b1 36.5px,#3e28ac 38.5px,#3f29b1 41.5px,#3f28ae,#4029b3 45.5px,#3e27ab 53.5px,#402ab3 56.5px,#402ab4 69.5px,#412dbb 74.5px,#402ab5 89.5px,#4230c4 97.5px,#412dbb 106.5px,#4331c6 111.5px,#4434cf 113.5px,#4230c3 120.5px,#6859d0 121.5px)"></i><i style="background:linear-gradient(#7868c5 .5px,#3e27aa 1.5px,#3f28ae 9.5px,#3e27aa 13.5px,#3f29b0 18.5px,#3e27ac 20.5px,#3e27ab 26.5px,#402ab3 35.5px,#3e27aa 38.5px,#3e28ad 42.5px,#402ab4 45.5px,#3f28ae 47.5px,#3e27ac 53.5px,#4029b3 56.5px,#3f29b1 60.5px,#402bb8 65.5px,#3f29b1 72.5px,#402bb8 81.5px,#402ab3 85.5px,#412dbd 93.5px,#422ebf 99.5px,#402cb8,#4230c4,#412dbc 120.5px,#6758cb 121.5px)"></i><i style="background:linear-gradient(#7868c5 .5px,#3e27a9,#3e26a9 2.5px,#3e27aa,#3f29b2 18.5px,#3f28ad 27.5px,#3f29b2 29.5px,#3e27a9 38.5px,#402ab4 45.5px,#3f28af 47.5px,#402ab3 55.5px,#3f28ad 60.5px,#412cba 66.5px,#3f29b1 71.5px,#402ab5 73.5px,#402ab3 76.5px,#402bb8 78.5px,#402bb6 91.5px,#412dbb,#402ab5 97.5px,#412dbc 99.5px,#402bb7 103.5px,#402bb8 111.5px,#422ebe 117.5px,#412cba 120.5px,#6756c8 121.5px)"></i><i style="background:linear-gradient(#7868c4 .5px,#3e27aa,#3e27a9 2.5px,#3f28ae 12.5px,#3e27aa 14.5px,#4029b2 20.5px,#3e28ac 24.5px,#3f29b1 32.5px,#3e27aa 38.5px,#3f29b0 40.5px,#3f28ae 49.5px,#402ab4 52.5px,#3e27ab 56.5px,#3f29b0 63.5px,#412cb8 66.5px,#3f29b1 72.5px,#412cb9 87.5px,#402ab4,#412cbb 95.5px,#402bb6,#412ebe 99.5px,#402bb6 108.5px,#422ebe 120.5px,#6757c9 121.5px)"></i><i style="background:linear-gradient(#7969c8 .5px,#3f28af,#3f28ad 2.5px,#3e27ab 17.5px,#402ab4,#3f28af 23.5px,#3e27ab 31.5px,#3f29b2 36.5px,#3e27aa 38.5px,#402ab5 45.5px,#3f28ae 50.5px,#402ab4,#3e27a9 56.5px,#412cb9 68.5px,#3f29b2 72.5px,#422ebe 87.5px,#402bb8 92.5px,#422ebe 96.5px,#422fc2 120.5px,#6859ce 121.5px)"></i><i style="background:linear-gradient(#7969c9 .5px,#3f29b0 1.5px,#3e27aa 9.5px,#3f29b1 15.5px,#3e27ab 17.5px,#3f29b1 20.5px,#3e27ab 32.5px,#3f29b0,#3e27ab 38.5px,#402ab5 45.5px,#3f28ad 50.5px,#3f29b0 52.5px,#3e27ab 56.5px,#402ab4 59.5px,#402ab4 72.5px,#412cba 77.5px,#412cb9 85.5px,#422fc2,#422ebf 99.5px,#4330c5 102.5px,#422fc1 106.5px,#4331c8 116.5px,#422fc2 119.5px,#4230c4,#695ad3 121.5px)"></i><i style="background:linear-gradient(#7969c8 .5px,#3f28af 1.5px,#3e27ab 3.5px,#3e27aa 9.5px,#402ab4 14.5px,#3f28ae,#3f29b1 18.5px,#3e27ab 22.5px,#3f29af 27.5px,#3e27aa 29.5px,#3e27a9,#3f28af 35.5px,#3e27ac 37.5px,#3f29b0 41.5px,#3f28ae 43.5px,#402ab4 46.5px,#3e27aa 54.5px,#402ab4 59.5px,#3f28af 62.5px,#402ab3 64.5px,#3f29b1 71.5px,#412cba 77.5px,#402ab5 80.5px,#412cba 82.5px,#402bb6,#422ebf 88.5px,#412dbd,#4230c3 92.5px,#422ec0 97.5px,#412cba 99.5px,#422fc2 102.5px,#412ebd 111.5px,#4230c3 116.5px,#422fc2 120.5px,#6859ce 121.5px)"></i><i style="background:linear-gradient(#7868c5 .5px,#3e27ac,#3e27a9 2.5px,#3f29b2 17.5px,#3e28ad 23.5px,#3f29af 26.5px,#3e26a9 30.5px,#3f29b1 41.5px,#3f29b0 49.5px,#3e27ab 54.5px,#402ab5,#3f29b0 72.5px,#402bb7 75.5px,#402ab4 80.5px,#402bb8 82.5px,#3f29b2,#412cb9 88.5px,#412dbd 96.5px,#412cb8 99.5px,#422ebe 105.5px,#412cb9 110.5px,#422fc1 113.5px,#412dbc,#422fc1 117.5px,#422ebf 120.5px,#6757ca 121.5px)"></i><i style="background:linear-gradient(#7868c4 .5px,#3e27ab,#3e27aa 2.5px,#3f29b0 8.5px,#3e27aa 12.5px,#3f29b1 17.5px,#3e27ab,#3f29b0 21.5px,#3e27ac 24.5px,#3f29b1 26.5px,#3e27ab 30.5px,#3f28af 32.5px,#3f28ad 35.5px,#402bb6 39.5px,#402ab3 48.5px,#402bb7,#3f29b2 54.5px,#402bb6 58.5px,#3f29b2 61.5px,#402ab4,#3f28ad 73.5px,#402ab5 76.5px,#412cb8 82.5px,#402ab5 87.5px,#412cb9 93.5px,#422ec0 96.5px,#422fc1 107.5px,#412dbc,#422fc3 113.5px,#422ebf 120.5px,#6757c9 121.5px)"></i><i style="background:linear-gradient(#7867c3 .5px,#3e27aa 1.5px,#3f29b1 8.5px,#3e27aa,#3f29b2 14.5px,#3f29b1 21.5px,#3e28ad,#3f29b2 25.5px,#3f28ae 30.5px,#402ab4,#3f29b0 34.5px,#412dbc,#412dbd 44.5px,#4332c8 51.5px,#422fc0 57.5px,#402ab5 61.5px,#412cba,#412cb9 67.5px,#402ab3 69.5px,#3f29b1,#422fc0 79.5px,#412dbc,#422fc2 85.5px,#412dbb,#412dbb 89.5px,#422ebf 94.5px,#4332ca 98.5px,#4331c7,#4434cf 102.5px,#4435d2 107.5px,#4331c6 113.5px,#4332ca 116.5px,#4230c4 120.5px,#6859cd 121.5px)"></i><i style="background:linear-gradient(#7868c3 .5px,#3e27ab 1.5px,#3f28ae 5.5px,#402ab5 7.5px,#3f29b0 11.5px,#402ab5 14.5px,#3f29b2 18.5px,#402bb6 21.5px,#3f29b1,#412cb8 25.5px,#402bb8,#422ebf 37.5px,#4332c9 40.5px,#4536d3 50.5px,#4332ca 58.5px,#43c 64.5px,#422ec0 69.5px,#4434cd 79.5px,#422fc0 83.5px,#4434cf 91.5px,#4435d0 94.5px,#473fe2,#4536d3 110.5px,#4433cd 120.5px,#695cd6 121.5px)"></i><i style="background:linear-gradient(#7868c5 .5px,#3f28ad 1.5px,#3f29b1 6.5px,#402bb8 8.5px,#4029b2 15.5px,#4230c4 29.5px,#422fc1 31.5px,#4331c7,#4230c4 37.5px,#4434ce 41.5px,#4536d4 56.5px,#463bdd 60.5px,#4332ca 71.5px,#4537d5 74.5px,#4435d1 78.5px,#412ebe,#4639da 90.5px,#4744e8 98.5px,#4743e7 102.5px,#463adb 104.5px,#4435d0 107.5px,#4537d5 120.5px,#6a5fde 121.5px)"></i><i style="background:linear-gradient(#7868c5 .5px,#3f29b0 1.5px,#402bb6 8.5px,#3f28ae 12.5px,#3f29b2 15.5px,#412cbb 17.5px,#412cb8 26.5px,#422fc0 29.5px,#412dbc 37.5px,#43c 42.5px,#4435d0 45.5px,#43c 49.5px,#422fc2 52.5px,#4230c4,#4536d4 60.5px,#422fc2 66.5px,#422ec0 71.5px,#4332c9 79.5px,#422fc3 84.5px,#4536d4 88.5px,#4538d8,#4740e3 98.5px,#463de0,#43c 104.5px,#4331c7 106.5px,#4433cd 112.5px,#4434cd 119.5px,#4434cf,#6a5edb 121.5px)"></i><i style="background:linear-gradient(#7969c8 .5px,#3f29b2 1.5px,#3f28af 5.5px,#402ab4 8.5px,#3f28af 10.5px,#3f28af 15.5px,#412cba 21.5px,#3f29b2 26.5px,#402bb7 30.5px,#3f29b1 37.5px,#412dbd 40.5px,#4331c6 44.5px,#412dbb 55.5px,#422fc2 59.5px,#402bb6 64.5px,#402ab3,#402bb8 76.5px,#422ec0 78.5px,#4332ca 85.5px,#4434ce,#4433cb 93.5px,#4536d2 95.5px,#4434ce 101.5px,#4331c6,#43c 109.5px,#422fc1 112.5px,#422fc2 118.5px,#4332ca 120.5px,#695cd7 121.5px)"></i><i style="background:linear-gradient(#796acc .5px,#402ab5 1.5px,#3f29b0 4.5px,#412cb9 8.5px,#402ab3,#402bb6 12.5px,#402ab3 17.5px,#412cba 21.5px,#402bb6 22.5px,#402cb8 26.5px,#422ebf 28.5px,#402ab5 31.5px,#422ebe 33.5px,#412dbd 36.5px,#402ab5 38.5px,#4230c4 46.5px,#422ebf,#4331c8 50.5px,#4332cb 57.5px,#4331c7,#4433cd,#4331c6 63.5px,#412dbd,#4331c8 65.5px,#412cbb 69.5px,#4332c9 71.5px,#4230c4 72.5px,#4332c9,#4230c3 76.5px,#4331c6,#4536d3,#4435d2,#463ada 80.5px,#4537d6 83.5px,#4539d9,#4740e4 85.5px,#4535d2,#4536d3,#4332c9 91.5px,#4536d3,#4536d4,#463ee1 94.5px,#463ee1 96.5px,#463bdd,#43c 98.5px,#4743e7,#4740e4 104.5px,#4538d7,#463cde 108.5px,#484aee,#4744e8,#4435d1,#4331c7,#4331c6,#4435d0,#463ee0,#463cde,#4740e4,#4433cd 118.5px,#473fe2 120.5px,#6c66e8 121.5px)"></i><i style="background:linear-gradient(#796bcd .5px,#412cb9 1.5px,#3f29b1,#402bb7,#402ab5 10.5px,#422ebe 19.5px,#402bb7 22.5px,#412cbb 23.5px,#412cbb 26.5px,#4230c4,#412cba 30.5px,#412dbb 31.5px,#4331c7 33.5px,#422fc2 34.5px,#422ebf 37.5px,#4230c3,#412cb9,#422fc1,#422fc2 45.5px,#4434ce,#4434ce,#4331c7 48.5px,#4434ce 50.5px,#4331c8 51.5px,#4332ca 53.5px,#4230c4 54.5px,#4435d1 56.5px,#4435d1,#4331c6,#4330c5 59.5px,#4435d1 62.5px,#4434cf,#422fc1,#4434cf 65.5px,#4332c9 70.5px,#4537d6 71.5px,#4537d5 76.5px,#4434d0,#463bdd,#463ada,#463ddf,#4639d9,#463cdf,#463bdd 83.5px,#484aee 85.5px,#4849ed,#463adb,#43c,#4434cf 89.5px,#4230c4,#463de0,#484bef 95.5px,#484aee,#4741e5,#4536d2,#463cde,#463bdd 100.5px,#4848ec 103.5px,#4852f4 104.5px,#4741e5 106.5px,#4850f3 109.5px,#484aee,#4639d9 111.5px,#4433cd 113.5px,#463ddf 114.5px,#4853f5 117.5px,#473ee1,#484ef1,#484ef1,#6c6aee 121.5px)"></i><i style="background:linear-gradient(#7a6bcd .5px,#402cb8 1.5px,#402ab4,#412cb9,#402bb6 10.5px,#422ebf 14.5px,#412dbc 17.5px,#4230c3 19.5px,#412cb9 22.5px,#412dbd 26.5px,#4332c9,#412ebd 30.5px,#412dbd 31.5px,#4331c8 33.5px,#422fc3,#4331c7,#4230c3 36.5px,#4332ca 39.5px,#412dbc,#4331c6,#4331c6 45.5px,#4435d1 46.5px,#4434cf 48.5px,#4536d5 49.5px,#4332ca,#4332ca 53.5px,#422ebf 54.5px,#4435d0 56.5px,#4535d2,#4331c8,#4230c4 59.5px,#43c 61.5px,#4537d6,#4536d2,#4230c3 64.5px,#4435d1,#4332cb 68.5px,#4639d9,#4435d1,#4538d8 71.5px,#4536d2 73.5px,#4740e4 76.5px,#4538d7,#473fe2,#463cde,#473ee2,#4538d8 81.5px,#4639da 83.5px,#4746ea 84.5px,#484aee 86.5px,#4536d4,#4433cb,#4538d8,#4332c9,#4332c8,#4538d8,#4746ea,#4744e8 94.5px,#484df0,#4741e5 98.5px,#4849ed,#4536d4,#4536d4,#463cdf,#484bee,#4757f7 104.5px,#4849ed,#484ef1 108.5px,#4849ed 109.5px,#4849ed 111.5px,#463de0,#4537d6,#4746ea,#4747eb 115.5px,#4854f6 117.5px,#4850f3,#4466fd,#4756f6,#6c70f3 121.5px)"></i><i style="background:linear-gradient(#7a6ccf .5px,#412dbc 1.5px,#402ab4 3.5px,#412dbc 7.5px,#412dbc 15.5px,#4330c5 21.5px,#422ebf 22.5px,#4330c5,#422ebe,#43c 28.5px,#422ebf 31.5px,#4433cb 33.5px,#4230c4 34.5px,#4332ca 37.5px,#422fc1 41.5px,#4435d2,#4435d0 45.5px,#4537d6,#4435d1 47.5px,#4537d6 49.5px,#4433cb,#4331c8,#4434ce 52.5px,#422fc0 54.5px,#4536d3 57.5px,#4332c9 59.5px,#4332c9,#4433cd,#4539d9 62.5px,#4331c6 64.5px,#4230c3,#4434cf 66.5px,#43c 68.5px,#4742e6 69.5px,#4535d2,#4537d6,#473fe2 75.5px,#4848ec,#463bdc,#4740e4,#463bdd,#4740e3,#463de0,#4536d4,#4535d2,#484cf0,#4743e7,#4741e5,#4435d2,#4434ce,#463cde,#4433cd 90.5px,#4743e7 92.5px,#4849ed,#4742e6 94.5px,#4849ed 96.5px,#4745e9,#484cef,#475af9,#4539d9,#4536d4,#463de0,#4854f5,#4756f7,#484aee,#4848ec 106.5px,#4850f3 109.5px,#475af9,#4758f8,#463cde,#463cde,#4850f3,#4757f7,#484ff2,#4757f7,#4464fd,#3578fd,#4564fd,#6c7cfa 121.5px)"></i><i style="background:linear-gradient(#7a6dd1 .5px,#422ebf,#412ebd 2.5px,#422ebf,#412cb9 6.5px,#4230c4 9.5px,#422fc0 10.5px,#422ec0 16.5px,#4433cd 21.5px,#422fc3,#422fc2,#4332ca 24.5px,#4330c5,#4537d6 28.5px,#4230c3 31.5px,#4434cf,#4536d4,#4433cd 34.5px,#4434ce 38.5px,#4331c6 41.5px,#4536d3,#4539d9,#4536d5 44.5px,#4538d7 46.5px,#4536d3 47.5px,#4538d8 49.5px,#4332cb,#4330c5,#4536d2 52.5px,#4433cb 54.5px,#4433cd,#4435d0,#463bdd 57.5px,#4537d5 61.5px,#463cdf 62.5px,#4538d8 64.5px,#4434ce,#463bdc 66.5px,#4435d1 68.5px,#4746ea,#4740e3,#4536d4 71.5px,#463bdd 73.5px,#4743e7,#4744e8,#484df1,#463de0,#4742e6 78.5px,#4740e3 81.5px,#4435d1,#4536d4,#4850f3 84.5px,#4743e7 86.5px,#4538d7,#4536d3,#463de0,#463ada,#4853f5,#475af9 92.5px,#4849ed,#484bef 96.5px,#4743e7,#465efb,#4269fe,#4745e9,#463adb,#4742e6,#465ffb 103.5px,#484bee 105.5px,#4757f7,#4852f4,#4660fc 108.5px,#406dfe 110.5px,#4561fc,#463ddf,#4740e4,#426afe,#2f80fa,#4757f7,#3777fe,#2d8cf3,#2a93ed,#2f80fa,#6986fe 121.5px)"></i><i style="background:linear-gradient(#7a6bce .5px,#412dbc 1.5px,#4330c5 4.5px,#412dbb 6.5px,#4331c7 11.5px,#422fc2 12.5px,#4331c5 14.5px,#4230c3 19.5px,#4332ca,#422fc0 23.5px,#4538d8 28.5px,#4332ca 31.5px,#4537d5,#4537d6 33.5px,#4332ca 35.5px,#4434d0 38.5px,#4332c9 39.5px,#4435d1 41.5px,#463adb,#463adb,#4535d2,#463bdc 45.5px,#43c,#4536d3 49.5px,#4331c7,#4230c3,#43c,#4331c8 53.5px,#4741e4 57.5px,#4538d8 58.5px,#4538d8 60.5px,#4538d8,#463de0,#463cde,#4741e5,#463cdf,#4740e3 66.5px,#4434cf 68.5px,#4741e5,#4741e4,#4537d6 71.5px,#463cde 73.5px,#4743e7 74.5px,#4848ec 76.5px,#463bdd 77.5px,#4746eb 79.5px,#463bdd,#473ee1 81.5px,#4538d8,#4757f7,#463bdd 87.5px,#4536d4,#4539d9,#4744e8,#4563fd,#4466fd,#4851f3 93.5px,#4849ed 96.5px,#473fe3,#465efb,#4660fb 99.5px,#463bdd 101.5px,#4745e9,#4660fb,#4744e8,#4758f8,#4368fe,#4851f3,#4269fe 108.5px,#3e6fff 110.5px,#465efb,#473ee1,#4741e5,#2f82fa,#2b91ef,#416bfe,#2b91ef,#2699e9,#2798ea,#3579fd,#6c71f3 121.5px)"></i><i style="background:linear-gradient(#7a6bce .5px,#412cba 1.5px,#422fc2 4.5px,#412dbc 6.5px,#4330c5 11.5px,#422fc0 12.5px,#4330c5 16.5px,#422ebf,#4230c4,#422ebe 19.5px,#43c 22.5px,#4331c7 24.5px,#4536d3,#4537d6 30.5px,#4433cd,#4536d4,#4535d2 33.5px,#4330c5 35.5px,#4332cb 36.5px,#4332c9 39.5px,#463adb,#463cdf 43.5px,#4539d9,#473ee1 45.5px,#43c,#4435d1 49.5px,#4331c6 50.5px,#43c 52.5px,#4331c8 53.5px,#473fe3 56.5px,#4740e4,#4537d5,#4434ce,#4538d8,#4538d8,#463ddf,#463cde,#4741e4 64.5px,#463de0 66.5px,#4537d6,#4536d4 68.5px,#4745e9 70.5px,#463bdd,#463ee1,#463cde 73.5px,#4743e7,#473fe2,#4742e6 79.5px,#4537d6 80.5px,#4741e5 82.5px,#463bdd,#463bdd,#4759f8,#4744e8,#4639da,#473fe3,#463ee1 89.5px,#475bf9 92.5px,#4744e8,#4850f2 94.5px,#4744e8 97.5px,#4851f4,#4851f3,#484df0,#463bdd,#4740e4,#475bf9,#4741e5,#4563fc,#4465fd,#4849ed,#4466fd,#337bfc,#3a73fe,#4660fb,#484aee,#4742e6,#307ffb,#2e86f7,#327cfc,#2b91ef,#2e85f8,#2f82fa,#475dfa,#6b61e2 121.5px)"></i><i style="background:linear-gradient(#7a6cd1 .5px,#412dbc 1.5px,#402cb8 3.5px,#4230c4 8.5px,#412ebd 10.5px,#4331c6 14.5px,#4230c4 16.5px,#412dbd,#4230c4 18.5px,#412dbd 20.5px,#422ec0,#4432cb 22.5px,#4434d0 25.5px,#43c,#4537d5 27.5px,#4538d8 30.5px,#4331c7,#4433cb 32.5px,#43c 35.5px,#4536d3 36.5px,#4332c9 38.5px,#4432cb,#4538d7 40.5px,#4538d8 42.5px,#463ee1 43.5px,#4740e3 45.5px,#4536d4,#4435d0 47.5px,#4538d8 49.5px,#43c,#4536d4 51.5px,#4536d3 53.5px,#4639da,#4538d8,#473fe3,#473ee2 57.5px,#4434cf 59.5px,#463bdd,#4538d7 61.5px,#473fe2 64.5px,#473fe2 65.5px,#4536d4,#463ddf 69.5px,#4850f2,#4849ed,#484aee,#463adc,#463bdd,#4744e8,#463ee1 76.5px,#4744e8,#4740e4,#484cef 82.5px,#4740e4,#463bdd,#475af9,#4742e6,#4538d8,#4745e9,#484aee 89.5px,#4745e9 91.5px,#4756f7,#4848ec,#4852f4,#4741e5 95.5px,#484aee 97.5px,#4849ed,#4852f4,#4849ed,#463adb,#463de0,#465dfa,#4747eb,#4660fb,#475af9,#4741e5,#475cfa,#2e85f8,#3876fe,#465efb 111.5px,#484bef 113.5px,#4368fe,#3c71ff,#3f6fff 116.5px,#347afd 118.5px,#406cfe,#4741e5,#6a5fde 121.5px)"></i><i style="background:linear-gradient(#7b6dd3 .5px,#422fc0 1.5px,#412cba 3.5px,#412ebe 6.5px,#4331c6,#412dbd 10.5px,#422ebe,#4331c6 12.5px,#422fc1 15.5px,#4331c7 16.5px,#4332c8,#412ebd 20.5px,#422ebe 21.5px,#4332cb,#4435d1 25.5px,#4434ce 26.5px,#4539d9 29.5px,#4538d7,#4331c5,#4332ca,#4331c6 33.5px,#4537d5 36.5px,#4433cd,#4538d7,#4538d7,#4740e3 44.5px,#4740e3,#4435d1 46.5px,#463adb 49.5px,#4536d4,#463bdd,#463ada 52.5px,#463ee1 54.5px,#463adb,#4743e7,#4741e4,#4537d5,#4536d5,#463ee1,#4538d7 61.5px,#463adc,#4743e7,#463ada,#4745e9 69.5px,#4854f6 70.5px,#484df0 72.5px,#4538d8,#4536d3,#4741e4,#473fe2 76.5px,#4747eb 78.5px,#4745e9,#484cf0,#484cef,#4757f7,#484ff2,#473ee2,#475bf9,#484ff2,#4538d8,#463ee1,#484cef,#4853f5,#4851f3 91.5px,#4561fc 94.5px,#484ff2 95.5px,#484df0 97.5px,#4744e8,#475af9,#4743e7,#463ada,#4741e5,#416cfe 103.5px,#4758f8 106.5px,#4741e6,#4759f8,#3777fe,#3c71ff,#475bf9 111.5px,#4563fd 113.5px,#475bf9,#475af9,#465efb,#4757f7,#317dfb,#4562fc,#463de0,#6c66e8 121.5px)"></i><i style="background:linear-gradient(#7b6ed5 .5px,#422fc1,#412cbb 2.5px,#412dbb,#4332c9,#422ec0 11.5px,#4331c6 15.5px,#4433cb 16.5px,#422ebf 19.5px,#422fc2,#412ebd 21.5px,#4434ce 24.5px,#4331c7 26.5px,#4435d1 29.5px,#4434d0,#4331c6,#4332c9,#4230c4,#43c 34.5px,#4639d9 39.5px,#4434cf 40.5px,#473ee1 44.5px,#463cdf,#4332c9,#4435d2 47.5px,#4538d8 50.5px,#463ee1,#463adb,#463bdd,#4539d9 54.5px,#4745e9 56.5px,#4740e4,#4537d5 58.5px,#463de0 60.5px,#463adb 61.5px,#463bde 63.5px,#4742e6 64.5px,#4745ea 66.5px,#4742e6 67.5px,#4851f3 70.5px,#4745e9 72.5px,#4537d5,#4434d0 74.5px,#4744e8,#4849ed 78.5px,#4740e4 79.5px,#484cf0 81.5px,#475bf9,#4758f8,#4740e3,#4757f7,#4759f8,#463de0,#463ddf 88.5px,#4757f7 90.5px,#4759f8,#484df0,#4563fc,#3875fe,#4367fd,#4756f7,#4854f5,#4848ec,#475bf9 99.5px,#4744e8 101.5px,#484cef,#3d70ff,#3080fa,#4368fe,#4852f4,#484ef1,#4661fc,#4562fc,#416bfe,#4367fd,#3a73fe,#3776fe,#475bf9,#4759f8,#3f6eff,#4757f7,#317efb,#4759f8,#484bef,#6b7efc 121.5px)"></i><i style="background:linear-gradient(#7a6dd2 .5px,#422ebf,#412cbb 2.5px,#412cba,#4230c4 8.5px,#412cba 13.5px,#4331c7,#412dbc 19.5px,#422fc1,#412dbb,#412dbd 22.5px,#43c,#422fc1,#4331c5 28.5px,#422ebf 33.5px,#4331c7 34.5px,#4536d3 39.5px,#4331c6 40.5px,#4639da 44.5px,#422fc2 46.5px,#43c 47.5px,#4433cb,#4538d8 51.5px,#4331c7 54.5px,#4538d7,#463de0 56.5px,#4537d6 59.5px,#4538d8 61.5px,#463cdf 62.5px,#463bde 65.5px,#4742e6,#463ee1 67.5px,#4744e8 70.5px,#4741e5 71.5px,#4537d5,#4538d7 75.5px,#473fe2 76.5px,#4745ea 78.5px,#4537d6,#4537d6 80.5px,#4851f3 82.5px,#484df0,#463de0,#484cf0,#4851f3,#4746ea,#4743e7 88.5px,#484ff2 90.5px,#4850f2,#4747eb 92.5px,#4466fd,#4850f3 96.5px,#4756f7,#484ff2 98.5px,#484df0 100.5px,#4744e8,#4747eb,#465ffb,#3777fe,#4563fd,#4746eb,#4759f8,#475af9,#4851f4 109.5px,#4563fc 111.5px,#3e6fff,#4368fe,#4851f3,#4759f8,#3c71ff,#4661fc,#4465fd,#4854f5,#4757f7,#6a83fd 121.5px)"></i><i style="background:linear-gradient(#796bcc .5px,#402bb6 1.5px,#412cbb 3.5px,#402bb6 6.5px,#412ebe 8.5px,#402ab5 11.5px,#422fc0,#412cb9 19.5px,#412cbb 22.5px,#4332c9,#422ec0 26.5px,#4331c7 27.5px,#412dbc 30.5px,#412dbb 32.5px,#4332c9 39.5px,#422ebf 40.5px,#4536d4 44.5px,#422fc1 46.5px,#4433cb 47.5px,#4230c4 52.5px,#4331c8 54.5px,#4536d4 55.5px,#4434cf 61.5px,#4639d9 62.5px,#4537d6,#463de0 66.5px,#4538d8 67.5px,#4639da 71.5px,#4536d3,#4435d1,#4538d8,#4435d2,#4537d5 76.5px,#4745e9 78.5px,#4537d6,#43c,#473ee1,#4746eb 82.5px,#463ada 84.5px,#4742e7 85.5px,#4849ec 87.5px,#4742e6,#4743e7 89.5px,#484ff2 94.5px,#4746ea,#4848ec,#4850f3,#4851f3,#4742e6,#4740e4 100.5px,#4745ea,#4561fc 104.5px,#4854f5,#473fe2,#4852f4 107.5px,#4742e6 110.5px,#475cfa 112.5px,#4759f9 113.5px,#484bee 115.5px,#4561fc,#4660fc,#484ef1 118.5px,#4853f5 120.5px,#6c75f7 121.5px)"></i><i style="background:linear-gradient(#7969c9 .5px,#402ab5 1.5px,#412dbb 7.5px,#402bb7,#422ec0 15.5px,#412dbc 20.5px,#4331c7,#4331c7 28.5px,#422ec0 29.5px,#412dbb 31.5px,#4330c5 36.5px,#422ec0 38.5px,#422fc1 41.5px,#4332c9 43.5px,#422fc2 46.5px,#4434cf,#4331c7 48.5px,#412ebe 51.5px,#422ebf 52.5px,#4536d2 55.5px,#4332ca,#4332c9,#4434cf 58.5px,#4230c4 61.5px,#4435d0 62.5px,#4535d2 65.5px,#4538d8,#4536d4,#4538d7 68.5px,#4433cd 70.5px,#4434cf 73.5px,#4537d6,#4434d0,#4435d0,#473fe2,#4744e8 78.5px,#4332ca 80.5px,#463adb,#473fe2 82.5px,#463adb 84.5px,#473fe3,#463de0,#4746ea,#463cde,#4539d9 89.5px,#463cde 91.5px,#4848ec,#4848ec,#463ddf,#473ee1,#4848ec 96.5px,#484ff2 98.5px,#4538d7,#4538d8,#4742e7,#484bef,#484bef,#4853f5 104.5px,#473ee2 106.5px,#4744e9 107.5px,#4744e8 109.5px,#463adc 110.5px,#484df0,#4854f5 114.5px,#4747ec,#4758f8,#4759f9,#4745e9,#484cef,#4746ea,#6c68eb 121.5px)"></i><i style="background:linear-gradient(#7969c9 .5px,#402bb6 1.5px,#412dbd 7.5px,#402bb6 12.5px,#422fc1 16.5px,#412cba 19.5px,#4230c3 23.5px,#422fc1 25.5px,#4331c8,#4332c9 27.5px,#422ebe 31.5px,#4331c6 34.5px,#422ebf 38.5px,#4331c8 43.5px,#422fc2 44.5px,#4331c7 46.5px,#4434cf,#4330c5,#4330c5 49.5px,#412dbb,#4331c6 53.5px,#4331c7,#4434cf,#4331c7 56.5px,#4332ca,#422fc1 60.5px,#422fc2,#43c,#4434ce,#4434ce,#4331c6,#4434cf,#4434cd,#4537d6,#4434ce 69.5px,#4332c9 71.5px,#4537d6 74.5px,#4434ce 76.5px,#463cde,#473fe2,#463bdc,#4332c9 80.5px,#463bdd 83.5px,#463adb,#463de0,#4538d8,#4745e9 87.5px,#463adc,#4536d5 91.5px,#4740e4 92.5px,#4537d5 94.5px,#463adb,#4849ed,#4743e8,#4747eb,#4537d5 99.5px,#4848ec 102.5px,#4742e6,#484cef 104.5px,#4743e7 106.5px,#463ada 107.5px,#484ef1,#4741e5 111.5px,#4742e6,#484cf0,#484ff2 114.5px,#484cef 118.5px,#4852f4,#4744e8,#6c6ff2 121.5px)"></i><i style="background:linear-gradient(#796acb .5px,#402bb7 1.5px,#402bb6 4.5px,#412ebe 10.5px,#402bb8 12.5px,#422ebf 16.5px,#402bb8,#402bb8 18.5px,#412ebe 21.5px,#422ebe 25.5px,#4331c7 27.5px,#422ebe 30.5px,#422fc1 34.5px,#412dbc 36.5px,#4331c7 39.5px,#4330c5 41.5px,#4332ca 42.5px,#412dbd 44.5px,#4332c8 47.5px,#422ebe 51.5px,#4230c3 54.5px,#4332ca,#422fc2,#4230c3,#43c 58.5px,#422fc2,#4535d2,#43c 64.5px,#4230c3,#4433cd,#4434ce,#4639d9 68.5px,#4332cb 70.5px,#4536d4 74.5px,#4332ca 76.5px,#463cde 79.5px,#4435d0,#4434ce 81.5px,#473ee1 83.5px,#4536d4,#4536d4,#4434cf,#4743e7 87.5px,#463de0 90.5px,#4539d8,#463ee0 92.5px,#4537d6 94.5px,#4639da,#4742e6,#4538d8 97.5px,#463bde 99.5px,#4743e7 100.5px,#4740e3 102.5px,#4639da,#4745e9,#4747eb,#4744e8,#4537d6,#4746ea,#4852f4,#484ef1,#463ee1,#473fe2,#4849ed,#4745e9,#4852f4,#4747eb,#4849ed,#4756f7 118.5px,#484cef 120.5px,#6c7bfa 121.5px)"></i><i style="background:linear-gradient(#796aca .5px,#402ab4 1.5px,#402ab5 8.5px,#412cba 10.5px,#402ab4,#412dbc 16.5px,#412dbc 25.5px,#4230c4 27.5px,#412cb9,#412ebd 33.5px,#402bb6,#422ebf 37.5px,#412cb9 38.5px,#4330c5 42.5px,#412dbc 44.5px,#4330c5 48.5px,#422ebf 49.5px,#422fc3 55.5px,#412dbd 57.5px,#4332c9 58.5px,#422fc2 60.5px,#43c,#4435d0 62.5px,#4434ce 64.5px,#422fc3 65.5px,#4432cb 67.5px,#4539d9,#4433cd,#4331c8 70.5px,#4434ce 72.5px,#4433cd 75.5px,#4331c7 76.5px,#463ada 79.5px,#4536d4 81.5px,#463ada,#4743e7,#4536d2,#4434cf,#4536d2,#473ee1 87.5px,#473fe2 90.5px,#463adb,#463bdc 92.5px,#4537d7 94.5px,#4639d9 95.5px,#4435d1 97.5px,#4536d3 98.5px,#473ee2,#463ada 102.5px,#4434cf,#463cde,#4742e6,#4744e8,#463de0,#484df0 108.5px,#4747eb 110.5px,#4538d8,#4740e3,#4741e4,#4639da,#4849ed,#4742e6 116.5px,#4758f8 118.5px,#4849ed,#484aee,#6c72f5 121.5px)"></i><i style="background:linear-gradient(#7869c7 .5px,#3f29b0 1.5px,#3e27ab 4.5px,#3f29b2 9.5px,#3e27ab 15.5px,#3f29b2,#3f28ad 19.5px,#3f28ae 24.5px,#402bb6,#3f28af 30.5px,#402ab3 32.5px,#3e27ab 35.5px,#402ab5 40.5px,#3f28ae 44.5px,#402bb7 47.5px,#3f29b0 49.5px,#402bb8 52.5px,#402ab4 60.5px,#412cba,#3f29b0 66.5px,#412cba 68.5px,#402ab5 72.5px,#422fc2 83.5px,#412dbb 85.5px,#422ebf 95.5px,#412dbc 99.5px,#422fc1,#412dbd 103.5px,#4332c8 108.5px,#412dbc 114.5px,#4435d0 118.5px,#4331c8 120.5px,#685ad1 121.5px)"></i><i style="background:linear-gradient(#7969c7 .5px,#3f29b0 1.5px,#3e27ab 4.5px,#4029b2,#3e27a9 12.5px,#3e27a9 15.5px,#3f28af 17.5px,#3e27aa 25.5px,#3f29b1,#3f29b0 31.5px,#3e27aa 33.5px,#402ab3 46.5px,#3f28ae 50.5px,#402ab3 53.5px,#3f28af 60.5px,#402ab5 63.5px,#3f28af 65.5px,#402bb6 70.5px,#3f29b0 72.5px,#402bb7 79.5px,#3f29b2 89.5px,#402bb7 91.5px,#402bb6 98.5px,#412cba 101.5px,#402bb6 115.5px,#422ebf 118.5px,#412dbd 120.5px,#6757ca 121.5px)"></i><i style="background:linear-gradient(#f2f0fa .5px,#eceaf7 1.5px,#ece9f6 11.5px,#eceaf8 117.5px,#eceaf9 120.5px,#f0eefa 121.5px)"></i></div>
<div class="p" style="left:36px;top:180px;width:142px;height:60px"><i style="flex:2;background:linear-gradient(#4536d4 .5px,#4536d5 9.5px,#412dbb 11.5px,#412cb9 12.5px,#412dbd 23.5px,#4536d3 25.5px,#463bdc 31.5px,#463adb 34.5px,#4535d2,#422ebf,#412dbc 37.5px,#422ec0 40.5px,#4537d5 42.5px,#463bdd 45.5px,#463bdc,#4536d4,#422fc2,#4230c3,#4537d6,#4539d9,#4537d6,#4331c7,#4331c7,#4536d4 55.5px,#4332c8 58.5px,#6859d0 59.5px)"></i><i style="flex:4;background:linear-gradient(#4538d7 .5px,#4538d8 9.5px,#412dbc 11.5px,#412cbb 12.5px,#422ebf 23.5px,#4538d7 25.5px,#4639da 29.5px,#463de0 31.5px,#463cdf 34.5px,#4537d6,#422fc1,#412ebe 37.5px,#422fc2 40.5px,#4539d9 42.5px,#463de0 45.5px,#463de0,#4538d7,#4330c5,#4330c5,#4639d9,#463bdc,#4639da,#4332c9,#4332ca,#4538d7,#4537d6,#4434ce,#4433cb,#685ad1 59.5px)"></i><i style="background:linear-gradient(#4639d9 .5px,#4639da 9.5px,#412ebd 11.5px,#412dbb 12.5px,#422ec0 23.5px,#4539d9 25.5px,#473ee1 31.5px,#463ee1 34.5px,#4538d7,#422fc3,#422ebf 37.5px,#4230c3 40.5px,#463adb 42.5px,#473fe2 45.5px,#473ee2,#4539d9,#4331c6,#4331c6,#463adb,#463cde,#463adc,#4432cb,#43c,#4639d9,#4538d8,#4434cf,#4433cd,#695ad3 59.5px)"></i><i style="background:linear-gradient(#463bdd .5px,#463bdd 9.5px,#422ebf 11.5px,#412dbd 12.5px,#422fc2 23.5px,#463bdc 25.5px,#4741e5 31.5px,#4740e4 34.5px,#463adb,#4330c5,#422fc1 37.5px,#4330c5 40.5px,#463cde 42.5px,#4742e6 45.5px,#4741e5,#463bdd,#4332c8,#4332c9,#463cdf,#473ee2,#463cdf,#4434ce,#4434cf,#463bdd,#463adc,#4536d3,#4434d0,#695bd5 59.5px)"></i><i style="flex:2;background:linear-gradient(#463de0 .5px,#463de0 9.5px,#422fc1 11.5px,#422ebf 12.5px,#4230c4 23.5px,#463ddf 25.5px,#4744e8 31.5px,#4743e7 34.5px,#463cde,#4331c7,#4230c3 37.5px,#4331c8 40.5px,#4538d7,#463ee1 42.5px,#4744e8 45.5px,#4744e8,#463de0,#4433cb,#43c,#473ee2,#4741e5,#473fe2,#4435d0,#4435d1,#463de0,#463cdf,#4537d6,#4536d3,#695cd7 59.5px)"></i><i style="background:linear-gradient(#463bdc .5px,#463bdd 9.5px,#422ebf 11.5px,#412dbd 12.5px,#422fc1 23.5px,#463adc 25.5px,#4741e5 31.5px,#4740e4 34.5px,#463ada,#4330c5,#422fc1 37.5px,#4330c5 40.5px,#463cde 42.5px,#4741e5 45.5px,#4741e5,#463bdc,#4331c8,#4332c9,#463cde,#473ee1,#463cdf,#4433cd,#4434ce,#463bdc,#463adb,#4535d2,#4434cf,#695bd4 59.5px)"></i><i style="background:linear-gradient(#4538d8 .5px,#4538d8 9.5px,#412dbd 11.5px,#412dbb 12.5px,#422ebf 23.5px,#4538d7 25.5px,#4639da 29.5px,#463de0 31.5px,#463ddf 34.5px,#4537d6,#422fc2,#412ebe 37.5px,#422fc2 40.5px,#4639d9 42.5px,#463ee1 45.5px,#463de0,#4538d8,#4330c5,#4331c5,#4639da,#463bdd,#4639da,#4332ca,#4332cb,#4538d8,#4538d7,#4434ce,#4433cb,#685ad2 59.5px)"></i><i style="flex:2;background:linear-gradient(#4537d6 .5px,#4537d6 9.5px,#412dbc 11.5px,#412cba 12.5px,#412ebe 23.5px,#4537d5 25.5px,#4538d8 29.5px,#463cde 31.5px,#463bdd 34.5px,#4536d4,#422fc0,#412dbd 37.5px,#422fc1 40.5px,#4538d7 42.5px,#463cde 45.5px,#463cde,#4537d5,#4230c3,#4230c4,#4538d7,#463ada,#4538d8,#4331c8,#4332c9,#4537d6 55.5px,#4332c9 58.5px,#685ad0 59.5px)"></i><i style="background:linear-gradient(#4538d8 .5px,#4539d9 9.5px,#412dbd 11.5px,#412dbb 12.5px,#422ebf 23.5px,#4538d8 25.5px,#463adb 29.5px,#463ee1 31.5px,#463de0 34.5px,#4537d6,#422fc2,#422ebe 37.5px,#422fc2 40.5px,#4639da 42.5px,#463ee1 45.5px,#463ee1,#4538d8,#4330c5,#4331c6,#4639da,#463bdd,#463adb,#4332ca,#4432cb,#4538d8,#4538d7,#4434ce,#43c,#685ad2 59.5px)"></i><i style="background:linear-gradient(#463bdc .5px,#463bdc 9.5px,#422ebf 11.5px,#412dbd 12.5px,#422fc1 23.5px,#463adb 25.5px,#4741e4 31.5px,#4740e3 34.5px,#4639da,#4330c5,#422fc0 37.5px,#4330c5 40.5px,#463bde 42.5px,#4741e5 45.5px,#4741e5,#463adc,#4331c8,#4332c9,#463cde,#463ee1,#463cdf,#4433cd,#4434ce,#463bdc,#463adb,#4535d2,#4434cf,#695bd4 59.5px)"></i><i style="flex:2;background:linear-gradient(#463cdf .5px,#463ddf 9.5px,#422fc0 11.5px,#422ebe 12.5px,#4230c3 23.5px,#463cde 25.5px,#463ee1 29.5px,#4743e7 31.5px,#4742e6 34.5px,#463bdd,#4331c6,#422fc2 37.5px,#4331c7 40.5px,#4537d7,#463de0 42.5px,#4743e8 45.5px,#4743e7,#463cdf,#4332ca,#4433cb,#463ee1,#4740e4,#463ee1,#4434d0,#4435d1,#463cdf,#463cde,#4537d5,#4435d2,#695cd6 59.5px)"></i><i style="background:linear-gradient(#463bdd .5px,#463bdd 9.5px,#422ebf 11.5px,#412dbd 12.5px,#422fc2 23.5px,#463adc 25.5px,#4741e5 31.5px,#4740e4 34.5px,#463ada,#4330c5,#422fc1 37.5px,#4330c5 40.5px,#463cde 42.5px,#4741e5 45.5px,#4741e5,#463bdc,#4332c8,#4332c9,#463cdf,#473ee2,#463cdf,#4434ce,#4434ce,#463bdd,#463adb,#4536d2,#4434d0,#695bd5 59.5px)"></i><i style="flex:4;background:linear-gradient(#4639d9 .5px,#4639da 9.5px,#412ebe 11.5px,#412dbc 12.5px,#422ec0 23.5px,#4539d9 25.5px,#473fe2 31.5px,#463ee1 34.5px,#4538d7,#4230c3,#422ebf 37.5px,#4230c3 40.5px,#463adb 42.5px,#473fe2 45.5px,#473fe2,#4639d9,#4331c6,#4331c7,#463adb,#463cdf,#463adc,#4433cb,#43c,#4639d9,#4538d8,#4434cf,#4433cd,#695ad3 59.5px)"></i><i style="flex:3;background:linear-gradient(#4538d7 .5px,#4538d8 9.5px,#412dbc 11.5px,#412cbb 12.5px,#422ebf 23.5px,#4538d7 25.5px,#4639d9 29.5px,#463de0 31.5px,#463cdf 34.5px,#4537d5,#422fc1,#412ebe 37.5px,#422fc2 40.5px,#4539d9 42.5px,#463de0 45.5px,#463de0,#4538d7,#4330c4,#4330c5,#4539d9,#463bdc,#4639d9,#4332c9,#4332ca,#4538d7,#4537d6,#4434cd,#4433cb,#685ad1 59.5px)"></i><i style="background:linear-gradient(#463adc .5px,#463adc 9.5px,#422ebf 11.5px,#412dbd 12.5px,#422fc1 23.5px,#463adb 25.5px,#4740e4 31.5px,#473fe3 34.5px,#4639d9,#4230c4,#422fc0 37.5px,#4330c4 40.5px,#463bdd 42.5px,#4741e4 45.5px,#4740e4,#463adb,#4331c7,#4332c8,#463bdd,#463ee0,#463cde,#4433cd,#4434ce,#463adb,#463ada,#4435d1,#4434cf,#695bd4 59.5px)"></i><i style="background:linear-gradient(#463de0 .5px,#463de0 9.5px,#422fc1 11.5px,#422ebf 12.5px,#4230c4 23.5px,#463ddf 25.5px,#4744e8 31.5px,#4743e7 34.5px,#463cde,#4331c7,#4230c3 37.5px,#4331c8 40.5px,#4538d8,#473ee1 42.5px,#4744e9 45.5px,#4744e8,#463de0,#4433cb,#43c,#473ee2,#4741e5,#473fe2,#4435d1,#4435d2,#463de0,#463cdf,#4537d6,#4536d3,#695cd7 59.5px)"></i><i style="flex:2;background:linear-gradient(#473fe3 .5px,#4740e3 9.5px,#4230c3 11.5px,#422fc0 12.5px,#4331c6 23.5px,#473fe2 25.5px,#4747eb 31.5px,#4746ea 34.5px,#463ee1,#4332ca,#4330c5 37.5px,#4332ca 40.5px,#463ada,#4740e4 42.5px,#4747eb 45.5px,#4747eb,#473fe3,#4434cd,#4434ce,#4741e5,#4744e8,#4741e5,#4536d3,#4536d5,#473fe3,#473ee2,#4539d8,#4537d6,#6a5dd9 59.5px)"></i><i style="background:linear-gradient(#463de0 .5px,#463ee1 9.5px,#422fc1 11.5px,#422ebf 12.5px,#4230c4 23.5px,#463de0 25.5px,#4744e8 31.5px,#4743e7 34.5px,#463cde,#4331c8,#4230c3 37.5px,#4331c8 40.5px,#4538d8,#473ee2 42.5px,#4745e9 45.5px,#4744e9,#463de0,#4433cb,#43c,#473fe2,#4741e5,#473fe3,#4435d1,#4535d2,#463de0,#463ddf,#4537d6,#4536d3,#695cd7 59.5px)"></i><i style="flex:3;background:linear-gradient(#463bdc .5px,#463bdd 9.5px,#422ebf 11.5px,#412dbd 12.5px,#422fc1 23.5px,#463adb 25.5px,#4741e4 31.5px,#4740e3 34.5px,#4639da,#4330c5,#422fc0 37.5px,#4330c5 40.5px,#463bde 42.5px,#4741e5 45.5px,#4741e5,#463adc,#4331c8,#4332c9,#463cde,#463ee1,#463cdf,#4433cd,#4434ce,#463bdc,#463adb,#4535d2,#4434cf,#695bd4 59.5px)"></i><i style="background:linear-gradient(#463adb .5px,#463adb 9.5px,#412ebe 11.5px,#412dbc 12.5px,#422fc0 23.5px,#4639da 25.5px,#473fe3 31.5px,#473fe2 34.5px,#4539d9,#4230c4,#422ec0 37.5px,#4230c4 40.5px,#463bdc 42.5px,#4740e3 45.5px,#4740e3,#463ada,#4331c7,#4331c8,#463bdc,#463de0,#463bdd,#43c,#4433cd,#463adb,#4639d9,#4435d1,#4434ce,#695bd3 59.5px)"></i><i style="background:linear-gradient(#4538d8 .5px,#4538d8 9.5px,#412dbd 11.5px,#412dbb 12.5px,#422ebf 23.5px,#4538d7 25.5px,#4639da 29.5px,#463de0 31.5px,#463ddf 34.5px,#4537d6,#422fc2,#412ebe 37.5px,#422fc2 40.5px,#4539d9 42.5px,#463ee1 45.5px,#463de0,#4538d8,#4330c5,#4330c5,#4639da,#463bdd,#4639da,#4332ca,#4332ca,#4538d8,#4538d7,#4434ce,#4433cb,#685ad2 59.5px)"></i><i style="flex:2;background:linear-gradient(#4536d4 .5px,#4537d5 9.5px,#412dbb 11.5px,#412cb9 12.5px,#412dbd 23.5px,#4536d4 25.5px,#463bdc 31.5px,#463adb 34.5px,#4536d2,#422ec0,#412dbc 37.5px,#422ec0 40.5px,#4537d6 42.5px,#463bdd 45.5px,#463bdd,#4536d4,#422fc2,#4230c3,#4537d6,#4539d9,#4537d7,#4331c7,#4331c8,#4536d4 55.5px,#4332c8 58.5px,#6859d0 59.5px)"></i><i style="flex:3;background:linear-gradient(#4536d3 .5px,#4536d4 9.5px,#412cbb 11.5px,#412cb9 12.5px,#412dbd 23.5px,#4536d3 25.5px,#463adc 31.5px,#463ada 34.5px,#4435d1,#422ebf,#412dbc 37.5px,#422ebf 40.5px,#4537d5 42.5px,#463bdc 45.5px,#463adc,#4536d3,#422fc2,#422fc2,#4537d5,#4538d8,#4537d6,#4331c6,#4331c7,#4536d3 55.5px,#4331c8 58.5px,#6859cf 59.5px)"></i><i style="background:linear-gradient(#4537d6 .5px,#4537d6 9.5px,#412dbc 11.5px,#412cba 12.5px,#412ebe 23.5px,#4537d5 25.5px,#4538d8 29.5px,#463cde 31.5px,#463bdd 34.5px,#4536d4,#422fc0,#412dbd 37.5px,#422fc1 40.5px,#4538d7 42.5px,#463cdf 45.5px,#463cde,#4537d6,#4230c3,#4230c4,#4538d7,#463adb,#4538d8,#4331c8,#4332c9,#4537d6,#4537d5,#43c,#4332ca,#685ad0 59.5px)"></i><i style="background:linear-gradient(#4539d9 .5px,#4539d9 9.5px,#412dbd 11.5px,#412dbb 12.5px,#422ebf 23.5px,#4538d8 25.5px,#463adb 29.5px,#463ee1 31.5px,#463de0 34.5px,#4538d7,#422fc2,#422ebf 37.5px,#422fc3 40.5px,#4639da 42.5px,#473ee2 45.5px,#463ee1,#4539d9,#4331c5,#4331c6,#463adb,#463cde,#463adb,#4332ca,#4433cb,#4539d9,#4538d8,#4434cf,#43c,#695ad2 59.5px)"></i><i style="background:linear-gradient(#463bdd .5px,#463bdd 9.5px,#422ebf 11.5px,#412dbd 12.5px,#422fc1 23.5px,#463adc 25.5px,#4741e5 31.5px,#4740e4 34.5px,#463ada,#4330c5,#422fc1 37.5px,#4330c5 40.5px,#463cde 42.5px,#4741e5 45.5px,#4741e5,#463bdc,#4332c8,#4332c9,#463cde,#473ee1,#463cdf,#4434cd,#4434ce,#463bdc,#463adb,#4536d2,#4434cf,#695bd5 59.5px)"></i><i style="flex:2;background:linear-gradient(#463cdf .5px,#463ddf 9.5px,#422fc0 11.5px,#422ebe 12.5px,#4230c3 23.5px,#463cde 25.5px,#473ee1 29.5px,#4743e7 31.5px,#4742e6 34.5px,#463bdd,#4331c7,#422fc2 37.5px,#4331c7 40.5px,#4538d7,#463de0 42.5px,#4744e8 45.5px,#4743e7,#463cdf,#4332ca,#4433cb,#463ee1,#4740e4,#473ee1,#4434d0,#4435d1,#463cdf,#463cde,#4537d5,#4435d2,#695cd6 59.5px)"></i><i style="background:linear-gradient(#463bdd .5px,#463bdd 9.5px,#422ebf 11.5px,#412dbd 12.5px,#422fc2 23.5px,#463bdc 25.5px,#4741e5 31.5px,#4740e4 34.5px,#463adb,#4330c5,#422fc1 37.5px,#4330c5 40.5px,#463cde 42.5px,#4742e6 45.5px,#4741e5,#463bdd,#4332c8,#4332c9,#463cdf,#473ee2,#463cdf,#4434ce,#4434cf,#463bdd,#463adc,#4536d3,#4434d0,#695bd5 59.5px)"></i><i style="flex:2;background:linear-gradient(#463ada .5px,#463adb 9.5px,#412ebe 11.5px,#412dbc 12.5px,#422fc0 23.5px,#4639da 25.5px,#473fe3 31.5px,#473ee2 34.5px,#4538d8,#4230c3,#422ebf 37.5px,#4230c4 40.5px,#463adc 42.5px,#4740e3 45.5px,#473fe3,#4639da,#4331c7,#4331c7,#463bdc,#463ddf,#463bdd,#43c,#4433cd,#463ada,#4639d9,#4435d0,#4434ce,#695bd3 59.5px)"></i><i style="background:linear-gradient(#463cde .5px,#463cdf 9.5px,#422fc0 11.5px,#412ebe 12.5px,#422fc3 23.5px,#463cde 25.5px,#463ee1 29.5px,#4742e7 31.5px,#4742e6 34.5px,#463bdc,#4331c6,#422fc2 37.5px,#4331c6 40.5px,#4537d6,#463de0 42.5px,#4743e7 45.5px,#4743e7,#463cde,#4332ca,#4332ca,#463de0,#4740e3,#463ee1,#4434cf,#4435d0,#463cde,#463bdd,#4536d4,#4435d1,#695cd6 59.5px)"></i><i style="flex:2;background:linear-gradient(#473fe2 .5px,#473fe2 9.5px,#422fc2 11.5px,#422ec0 12.5px,#4330c5 23.5px,#473ee1 25.5px,#4746ea 31.5px,#4745e9 34.5px,#463de0,#4332c9,#4230c4 37.5px,#4332c9 40.5px,#4639da,#4740e3 42.5px,#4746eb 45.5px,#4746ea,#473fe2,#4433cd,#4434ce,#4740e4,#4743e7,#4741e4,#4536d3,#4536d4,#473fe2,#463ee1,#4538d8,#4537d5,#695dd8 59.5px)"></i><i style="background:linear-gradient(#463cde .5px,#463cde 9.5px,#422ec0 11.5px,#412ebe 12.5px,#422fc2 23.5px,#463bdd 25.5px,#463de0 29.5px,#4742e6 31.5px,#4741e5 34.5px,#463adc,#4331c6,#422fc2 37.5px,#4331c6 40.5px,#4537d6,#463ddf 42.5px,#4743e7 45.5px,#4742e6,#463cde,#4332c9,#4332ca,#463de0,#473fe3,#463de0,#4434cf,#4434d0,#463cde,#463bdd,#4536d4,#4435d1,#695bd5 59.5px)"></i><i style="flex:2;background:linear-gradient(#4639da .5px,#4639da 9.5px,#412ebe 11.5px,#412dbc 12.5px,#422ec0 23.5px,#4539d9 25.5px,#473fe2 31.5px,#463ee1 34.5px,#4538d8,#4230c3,#422ebf 37.5px,#4230c3 40.5px,#463adb 42.5px,#473fe2 45.5px,#473fe2,#4639d9,#4331c6,#4331c7,#463adb,#463cdf,#463adc,#4433cb,#43c,#4639da,#4539d9,#4434d0,#4433cd,#695ad3 59.5px)"></i><i style="background:linear-gradient(#463cde .5px,#463cdf 9.5px,#422fc0 11.5px,#412ebe 12.5px,#422fc3 23.5px,#463bde 25.5px,#463de0 29.5px,#4742e6 31.5px,#4741e5 34.5px,#463bdc,#4331c6,#422fc2 37.5px,#4331c6 40.5px,#4537d6,#463ddf 42.5px,#4743e7 45.5px,#4742e6,#463cde,#4332ca,#4332ca,#463de0,#4740e3,#463de0,#4434cf,#4435d0,#463cde,#463bdd,#4536d4,#4435d1,#695cd6 59.5px)"></i><i style="flex:2;background:linear-gradient(#4740e3 .5px,#4740e4 9.5px,#4230c3 11.5px,#422fc1 12.5px,#4331c6 23.5px,#473fe2 25.5px,#4747eb 31.5px,#4746ea 34.5px,#463ee1,#4332ca,#4330c5 37.5px,#4332ca 40.5px,#463adb,#4741e5 42.5px,#4848ec 45.5px,#4747eb,#473fe3,#4434ce,#4434cf,#4741e5,#4744e8,#4742e6,#4536d4,#4537d5,#4740e3,#473fe2,#4539d9,#4537d6,#6a5dd9 59.5px)"></i><i style="background:linear-gradient(#463de0 .5px,#463ee0 9.5px,#422fc1 11.5px,#422ebf 12.5px,#4230c4 23.5px,#463ddf 25.5px,#4744e8 31.5px,#4743e7 34.5px,#463cde,#4331c7,#4230c3 37.5px,#4331c8 40.5px,#4538d8,#473ee1 42.5px,#4745e9 45.5px,#4744e8,#463de0,#4433cb,#43c,#473fe2,#4741e5,#473fe2,#4435d1,#4435d2,#463de0,#463cdf,#4537d6,#4536d3,#695cd7 59.5px)"></i><i style="background:linear-gradient(#463ada .5px,#463adb 9.5px,#412ebe 11.5px,#412dbc 12.5px,#422fc0 23.5px,#4639da 25.5px,#473fe3 31.5px,#473ee2 34.5px,#4538d8,#4230c3,#422ebf 37.5px,#4230c4 40.5px,#463adc 42.5px,#4740e3 45.5px,#473fe3,#4639da,#4331c7,#4331c7,#463bdc,#463ddf,#463bdd,#43c,#4433cd,#463ada,#4639d9,#4435d0,#4434ce,#695bd3 59.5px)"></i><i style="background:linear-gradient(#4537d6 .5px,#4538d7 9.5px,#412dbc 11.5px,#412cba 12.5px,#412ebe 23.5px,#4537d6 25.5px,#4539d8 29.5px,#463cdf 31.5px,#463cde 34.5px,#4536d4,#422fc1,#412dbd 37.5px,#422fc1 40.5px,#4538d7 42.5px,#463ddf 45.5px,#463cdf,#4537d6,#4230c4,#4230c4,#4538d8,#463adb,#4539d9,#4332c8,#4332c9,#4537d6,#4537d5,#43c,#4332ca,#685ad1 59.5px)"></i><i style="background:linear-gradient(#463bdd .5px,#463bdd 9.5px,#412dbd 11.5px,#412dbb 12.5px,#422ec0 23.5px,#463adb 25.5px,#463cde 29.5px,#4742e6 31.5px,#4741e5 34.5px,#463adb,#4230c3,#422ebe 37.5px,#422fc3 40.5px,#463bdc 42.5px,#4742e6 45.5px,#4742e6,#463bdd,#4331c5,#4331c6,#463cde,#473ee2,#463cdf,#4433cb,#4332ca,#4538d8,#4537d6,#4433cd,#4332ca,#685ad1 59.5px)"></i><i style="background:linear-gradient(#4853f5 .5px,#4758f8 7.5px,#4854f6 9.5px,#473fe2,#4331c8,#4230c3 12.5px,#4331c5 19.5px,#43c 23.5px,#484ef1 25.5px,#4854f5 29.5px,#4563fc,#4367fd 31.5px,#4465fd 34.5px,#4853f5,#4536d3,#4332c8 37.5px,#4434d0 40.5px,#4743e7,#484ef1 42.5px,#4759f8 44.5px,#4466fd,#4466fd,#4854f5,#4536d4,#4537d5,#4755f6,#475bf9,#4756f6,#463bdd,#4538d8,#4742e6,#4740e4,#4538d8,#4536d4,#695cd8 59.5px)"></i><i style="background:linear-gradient(#317dfc .5px,#317efb 4.5px,#2e86f7,#2e87f7 8.5px,#3080fa,#4756f7,#4538d8,#4434d0 12.5px,#4536d5 19.5px,#463cde 23.5px,#4853f4,#3c71ff,#3777fe 26.5px,#3777fe 28.5px,#317dfc,#269ae9,#22a1e4 31.5px,#249ee6 34.5px,#307ffb,#4742e6,#4538d8 37.5px,#463ada 39.5px,#473ee1,#475af9,#3d70ff,#3876fe,#2e86f7,#249fe6,#249fe6,#3080fb,#4742e6,#4743e7,#3080fb,#2d8af4,#2f81fa,#484cf0,#4744e8,#4854f5,#4851f3,#4742e6,#473ee1,#6b61e2 59.5px)"></i><i style="background:linear-gradient(#2d8df2 .5px,#2c8ef1 4.5px,#2797ea,#2798ea 8.5px,#2b90ef,#4660fb,#463bdd,#4537d5 12.5px,#4639da 19.5px,#4740e4 23.5px,#475bf9,#2f80fa,#2e86f7 26.5px,#2e86f7 28.5px,#2d8df2,#19acdc,#0bb4d2 31.5px,#09b4d1 33.5px,#13b1d7,#2c90f0,#4848ec,#463bdd 37.5px,#463de0 39.5px,#4743e7,#4564fd,#307ffb,#2e85f8,#2797eb,#12b1d7,#12b1d6,#2c90f0,#4848ec,#4848ec,#2c90f0,#259be7,#2b91ef,#4853f5,#4849ed,#475bf9,#4757f7,#4746ea,#4742e6,#6b64e6 59.5px)"></i><i style="background:linear-gradient(#2a93ee .5px,#2994ed 4.5px,#249ee6 7.5px,#249ee6,#2796eb,#4563fd,#463ddf,#4537d7 12.5px,#463ee1 22.5px,#4742e6,#465efb,#2e86f7,#2d8cf3 26.5px,#2d8cf3 28.5px,#2a93ee,#0fb2d4,#01b9c7 31.5px,#01b9c6 33.5px,#04b6cd,#2896ec,#484aee,#463ddf,#463de0 38.5px,#4745e9 40.5px,#4368fe,#2e84f8,#2d8bf4,#259de7,#04b6cd,#04b6cc,#2896eb,#484aee,#484bee,#2896ec,#22a2e4,#2797ea,#4756f7,#484bef,#465efb,#475af9,#4848ec,#4743e7,#6b65e7 59.5px)"></i><i style="background:linear-gradient(#259de7 .5px,#249ee6 4.5px,#1ea8e0 6.5px,#1da8e0,#1da8e0,#23a0e5,#426afe,#473fe2,#4639d9 12.5px,#463cdf 19.5px,#4745e9 23.5px,#4464fd,#2c8ff1,#2895ec 26.5px,#2895ec 28.5px,#259ce7,#02bbc3,#1dc0b3 31.5px,#1fc0b2 33.5px,#10beba,#23a0e5,#484ef1,#473fe2 37.5px,#4741e5 39.5px,#4848ec,#3e6fff,#2d8df2,#2994ed,#1ea7e1,#11beba,#12beb9,#23a0e5,#484df1,#484ef1,#239fe5,#1aacdd,#22a1e4,#475bf9,#484ff2,#4563fc,#465efb,#484bee,#4746ea,#6c66e9 59.5px)"></i><i style="background:linear-gradient(#1ea7e1 .5px,#1da8e0 4.5px,#10b2d5 6.5px,#0fb2d4,#0fb2d5,#1babde,#3c72ff,#4742e6,#463bdd 12.5px,#4743e7 22.5px,#4848ec,#416bfe,#2698ea,#249fe5 26.5px,#249fe5 28.5px,#1ea7e1,#25c2ad,#36c898 31.5px,#38c896 33.5px,#30c5a1,#1baade,#4852f4,#4741e6 37.5px,#4744e8 39.5px,#484bef,#3777fe,#2796eb,#249de6,#12b1d7,#30c5a1,#31c6a0,#1babde,#4852f4,#4852f4,#1caadf,#06b5cf,#1aabdd,#4660fc,#4853f4,#4368fe,#4563fd,#484ef1,#4849ed,#6c68eb 59.5px)"></i><i style="background:linear-gradient(#01b9c8 .5px,#01bac6 4.5px,#1fc0b1 6.5px,#21c1b0,#21c1b1,#06bcc0,#2e83f9,#4848ec,#473fe3 12.5px,#4849ed 22.5px,#4850f2,#337bfc,#1aabdd,#10b2d5 26.5px,#0fb2d5 28.5px,#01b8c8,#68cd6c,#9dc943 31.5px,#a1c840 33.5px,#8acb52,#08bcbf,#475bf9,#4747ec 37.5px,#484aee 39.5px,#4853f5,#2d88f6,#1ca9e0,#13b0d7,#1cc0b4,#86cb55,#89cb52,#08bcbe,#475af9,#475bfa,#03bbc3,#2ac3a8,#07bcbf,#406dfe,#475bf9,#3875fe,#3e6fff,#4755f6,#484ff2,#6c6cf0 59.5px)"></i><i style="background:linear-gradient(#36c899 .5px,#39c895 4.5px,#50cc7f,#61cd71,#63cd6f,#63cd70,#41ca8c,#2796eb,#4850f3,#4745ea 12.5px,#484cef 19.5px,#4851f3 20.5px,#4852f4 22.5px,#4759f8,#2d8df2,#0cbdbc,#25c2ae 26.5px,#25c2ae 28.5px,#36c799,#e5bb2d,#fec934 31.5px,#fdcc32 33.5px,#febf3b,#48cb86,#4368fe,#484ff2 37.5px,#4852f4 39.5px,#465dfa,#259be8,#04bbc1,#1ec0b2,#5dcc75,#fcbd3d,#febe3c,#49cb85,#4367fd,#4368fd,#3dc991,#76cc61,#43ca8b,#317efb,#4367fd,#2e86f7,#307ffb,#465efb,#4757f7,#6c72f4 59.5px)"></i><i style="background:linear-gradient(#50cc80 .5px,#50cc80 3.5px,#56cc7b,#77cc60,#8ccb50 6.5px,#8ecb4e 8.5px,#63cd6f,#249ee6,#4853f5,#4848ec 12.5px,#484ff1 19.5px,#4854f5 20.5px,#4755f6 22.5px,#465dfa,#2995ec,#27c2ac,#34c79b 26.5px,#35c79b 28.5px,#4fcc80,#fec239,#f5e626 31.5px,#f5e924 33.5px,#f8da2b,#6ecd66,#3f6dfe,#4852f4 37.5px,#4756f6 39.5px,#4562fc,#22a2e4,#1ec0b2,#30c5a1,#87cb54,#fad62d,#f9d82c,#70cd65,#406cfe,#406dfe,#5dcc75,#a3c83f,#65cd6e,#2e84f8,#416cfe,#2d8cf3,#2e85f8,#4562fc,#475af9,#6c74f6 59.5px)"></i><i style="background:linear-gradient(#58cc79 .5px,#58cc79 3.5px,#5ecc74,#81cc58,#96ca48 6.5px,#98c947 8.5px,#6ccd68,#249fe5,#4854f5,#4849ed 12.5px,#4849ed 14.5px,#4756f7 22.5px,#465efb,#2796eb,#2bc3a8,#38c896 26.5px,#38c896 28.5px,#57cc7a,#fec735,#f5ec22 31.5px,#f6ef20 33.5px,#f6e028,#78cc5f,#3e6fff,#4853f5 37.5px,#4757f7 39.5px,#4563fc,#20a4e3,#24c1ae,#34c79c,#91ca4c,#f7dc2a,#f6de29,#7acc5d,#3f6dfe,#3f6eff,#65cd6e,#adc638,#6ecd66,#2e86f8,#406dfe,#2c8ef2,#2e86f7,#4563fc,#475bf9,#6c75f6 59.5px)"></i><i style="background:linear-gradient(#53cc7d .5px,#53cc7d 3.5px,#59cc78,#7bcc5d,#90ca4d 6.5px,#93ca4b 8.5px,#67cd6c,#249ee6,#4854f5,#4848ec 12.5px,#484ff2 19.5px,#4854f6 20.5px,#4755f6 22.5px,#465efb,#2895ec,#29c3aa,#36c799 26.5px,#36c899 28.5px,#52cc7e,#fec338,#f5e526 31.5px,#f5e825 33.5px,#f8da2b,#70cd65,#3f6eff,#4853f5 37.5px,#4756f7 39.5px,#4562fc,#21a3e3,#21c1b1,#32c69f,#8ccb50,#f9d82c,#f8da2b,#74cc62,#406dfe,#3f6dfe,#60cd72,#a7c73c,#69cd6b,#2e85f8,#406cfe,#2d8df2,#2e86f8,#4562fc,#475af9,#6c74f6 59.5px)"></i><i style="background:linear-gradient(#41ca8d .5px,#41ca8d 3.5px,#45cb88,#63cd70,#76cc60 6.5px,#79cc5f 8.5px,#52cc7e,#269ae8,#4852f4,#4747eb 12.5px,#484df0 19.5px,#4852f4 20.5px,#4853f5 22.5px,#475bf9,#2b91ef,#1bc0b4,#2ec4a5 26.5px,#2ec4a4 28.5px,#3fca8e,#f0ba36,#fdcd31,#fcd030,#fcd030,#fec338,#55cc7c,#416afe,#4851f3 37.5px,#4854f5 39.5px,#465ffb,#249fe6,#11beba,#29c3aa,#71cd64,#fec736,#fec934,#5bcc77,#4269fe,#426afe,#4bcb83,#8dcb4f,#54cc7d,#2f81fa,#4269fe,#2d89f5,#2f82f9,#4660fb,#4758f8,#6c73f5 59.5px)"></i><i style="background:linear-gradient(#43ca8b .5px,#43ca8b 3.5px,#48cb86,#66cd6d,#7acc5e 6.5px,#7ccc5c 8.5px,#54cc7c,#269be8,#4852f4,#4747eb 12.5px,#484df1 19.5px,#4853f4 20.5px,#4854f5 22.5px,#475cfa,#2b92ee,#1dc0b3,#2fc5a3 26.5px,#2fc5a3 28.5px,#41ca8d,#efba36,#feca33,#fdcc32,#fdcc32,#fec03a,#54cc7c,#416bfe,#4851f3 37.5px,#4854f6 39.5px,#4660fb,#239fe5,#13beb9,#2bc3a8,#71cd64,#fec239,#fec338,#56cc7b,#4269fe,#416bfe,#4ecc81,#90ca4d,#56cc7b,#2f82fa,#426afe,#2d8af5,#2e83f9,#4660fc,#4759f8,#6c73f5 59.5px)"></i><i style="background:linear-gradient(#4fcc80 .5px,#4fcc80 3.5px,#54cc7c,#76cc61,#8bcb51 6.5px,#8dcb4f 8.5px,#62cd70,#249de6,#4853f5,#4848ec 12.5px,#4848ec 14.5px,#4755f6 22.5px,#465dfa,#2994ed,#26c2ac,#34c79c 26.5px,#34c79b 28.5px,#4ccb83,#fabb3d,#fbd32e 31.5px,#fad52d 33.5px,#fec834,#61cd71,#406dfe,#4852f4 37.5px,#4756f6 39.5px,#4561fc,#22a2e4,#1dc0b3,#30c5a1,#81cc58,#fec835,#fec934,#61cd71,#416bfe,#406dfe,#5bcc76,#a1c840,#64cd6f,#2e84f8,#416bfe,#2d8cf3,#2e85f8,#4562fc,#475af9,#6c74f6 59.5px)"></i><i style="background:linear-gradient(#2fc5a3 .5px,#31c6a0 4.5px,#40ca8d,#4fcc81,#51cc7f,#51cc7f,#36c898,#2a92ee,#484ef1,#4744e8 12.5px,#484aee 19.5px,#4850f3 22.5px,#4757f7,#2d8af5,#02bac3,#18bfb6 26.5px,#18bfb6 28.5px,#2ec4a5,#c5c22a,#edba33 31.5px,#f0ba36 33.5px,#debc2a,#36c799,#4465fd,#484ef1 37.5px,#4851f3 39.5px,#475bf9,#2797ea,#01b8c8,#0fbeba,#48cb86,#ddbd29,#dfbc2a,#36c799,#4564fd,#4465fd,#34c79c,#61cd71,#37c897,#337afd,#4464fd,#2e83f9,#327cfc,#475cfa,#4755f6,#6c71f3 59.5px)"></i><i style="background:linear-gradient(#1ea7e1 .5px,#1da9e0 4.5px,#0fb2d4 6.5px,#0eb3d4,#0eb2d4,#1aabdd,#3b72ff,#4742e6,#463bdd 12.5px,#4743e7 22.5px,#4848ec,#416cfe,#2699e9,#239fe5 26.5px,#23a0e5 28.5px,#1ea7e1,#26c2ad,#36c898 31.5px,#37c897 33.5px,#30c5a1,#1babde,#4852f4,#4742e6 37.5px,#4744e8 39.5px,#484cef,#3677fe,#2797eb,#249ee6,#12b1d6,#30c5a1,#31c6a0,#1babde,#4852f4,#4853f4,#1baade,#05b6ce,#1aacdd,#4661fc,#4853f5,#4369fe,#4564fd,#484ef1,#4849ed,#6c68eb 59.5px)"></i><i style="background:linear-gradient(#2d88f6 .5px,#2d89f5 4.5px,#2b92ee,#2a92ee 8.5px,#2d8bf3,#475cfa,#463adc,#4536d3 12.5px,#4538d8 19.5px,#473fe2 23.5px,#4758f8,#327cfc,#2f82fa 26.5px,#2f82fa 28.5px,#2d88f6,#1ea7e1,#16aeda 31.5px,#16afd9 33.5px,#1aabdd,#2d8af4,#4746ea,#463adc 37.5px,#463cde 39.5px,#4741e5,#4661fc,#337afd,#2f80fa,#2b92ef,#1aabdd,#1aacdd,#2d8bf4,#4746ea,#4747eb,#2d8bf4,#2796eb,#2d8cf3,#4851f3,#4848ec,#4758f8,#4755f6,#4745e9,#4741e5,#6b63e5 59.5px)"></i><i style="background:linear-gradient(#3a73fe .5px,#3974fe 4.5px,#317dfc,#317dfc 8.5px,#3776fe,#4851f3,#4536d5,#4433cd 12.5px,#4435d1 19.5px,#463adb 23.5px,#484ef1,#4269fe 25.5px,#3a74fe 29.5px,#2c8ff1,#2796eb 31.5px,#2a93ed 34.5px,#3875fe,#473fe2,#4537d5 37.5px,#4538d7 39.5px,#463cde,#4755f6,#4368fe,#3f6dfe,#327dfc,#2994ed,#2994ed,#3876fe,#473fe3,#4740e4,#3876fe,#2f81fa,#3677fe,#4848ec,#4741e5,#4850f2,#484df0,#4740e3,#463cdf,#6b60e0 59.5px)"></i><i style="background:linear-gradient(#475cfa .5px,#465dfa 4.5px,#4563fc 7.5px,#465efb 9.5px,#4744e8,#43c,#4331c6 12.5px,#4332c9 19.5px,#4435d1 23.5px,#4743e7,#4756f7 25.5px,#465dfa 29.5px,#3d70ff,#3776fe 31.5px,#3a74fe 34.5px,#465dfa,#4538d8,#43c 37.5px,#4434ce 39.5px,#4536d4,#4848ec,#4756f7,#4759f9,#4563fc,#3974fe,#3974fe,#465efb,#4639d9,#4639da,#465efb,#4465fd,#465ffb,#473fe2,#463bdc,#4746ea,#4744e8,#463adb,#4538d7,#6a5dda 59.5px)"></i><i style="background:linear-gradient(#484aee .5px,#484ef1 7.5px,#484bef 9.5px,#463adb,#4230c4,#422ec0 12.5px,#4230c4 22.5px,#4331c7 23.5px,#4746eb 25.5px,#484bee 29.5px,#4756f7,#4759f8 31.5px,#4758f8 34.5px,#484aee,#4433cd,#4330c4 37.5px,#4332cb 40.5px,#463de0,#4747eb 42.5px,#484ff2 44.5px,#4758f8,#4758f8,#484bee,#4434cf,#4434cf,#484bef,#4850f3,#484cef,#4538d7,#4536d3,#463ee1,#463ddf,#4536d4,#4435d0,#695bd5 59.5px)"></i><i style="background:linear-gradient(#4745e9 .5px,#4746ea 9.5px,#422fc1 11.5px,#412ebe 12.5px,#4330c5 23.5px,#4742e6 25.5px,#4746ea 29.5px,#484ff2,#4852f4 31.5px,#4850f3 34.5px,#4744e8,#4332ca,#422fc2 37.5px,#4331c8 40.5px,#463adc,#4743e7 42.5px,#4849ed 44.5px,#4851f3,#4851f3,#4745e9,#43c,#43c,#4746ea,#484aee,#4747eb,#4536d3,#4435d0,#463cde,#463bdc,#4435d1,#4434ce,#695bd4 59.5px)"></i><i style="background:linear-gradient(#484df1 .5px,#4852f4 7.5px,#484ff2 9.5px,#463cde,#4330c5,#422fc1 12.5px,#4331c6 22.5px,#4332c9 23.5px,#4849ed 25.5px,#484ef1 29.5px,#475bf9,#465ffb 31.5px,#475dfa 34.5px,#484df1,#4434cf,#4331c6 37.5px,#4433cd 40.5px,#473fe3,#484aee 42.5px,#4853f4 44.5px,#465efb,#465dfb,#484ef1,#4435d1,#4435d2,#484ff2,#4854f5,#4850f2,#4539d9,#4537d5,#4740e3,#473ee1,#4537d5,#4435d2,#695cd6 59.5px)"></i><i style="background:linear-gradient(#4755f6 .5px,#475af9 7.5px,#4757f7 9.5px,#4740e4,#4332c8,#4230c3 12.5px,#4331c6 19.5px,#4433cd 23.5px,#4850f3 25.5px,#4756f7 29.5px,#4466fd,#416bfe 31.5px,#4368fe 34.5px,#4756f6,#4536d4,#4332c9 37.5px,#4435d1 40.5px,#4744e8,#4850f3 42.5px,#475bf9 44.5px,#4269fe,#4269fe,#4756f7,#4537d5,#4537d6,#4757f7,#465dfa,#4758f8,#463cde,#4539d9,#4743e7,#4741e5,#4539d9,#4537d5,#695dd8 59.5px)"></i><i style="flex:3;background:linear-gradient(#4757f7 .5px,#465dfa 7.5px,#4759f8 9.5px,#4741e5,#4332c9,#4230c4 12.5px,#4331c7 19.5px,#4434ce 23.5px,#4740e4,#4852f4 25.5px,#4758f8 29.5px,#4369fe,#3f6eff 31.5px,#416bfe 34.5px,#4758f8,#4537d5,#4332ca 37.5px,#43c 39.5px,#4535d2,#4745e9,#4852f4 42.5px,#465dfb 44.5px,#406cfe,#406cfe,#4758f8,#4537d7,#4538d7,#4759f8,#465ffb,#475af9,#463ddf,#4639da,#4744e8,#4742e6,#4639da,#4537d6,#6a5dd9 59.5px)"></i><i style="background:linear-gradient(#4850f3 .5px,#4755f6 7.5px,#4852f4 9.5px,#463ee1,#4331c7,#422fc2 12.5px,#4330c5 19.5px,#4433cb 23.5px,#484cf0 25.5px,#4851f4 29.5px,#465ffb,#4563fc 31.5px,#4561fc 34.5px,#4851f3,#4435d1,#4331c8 37.5px,#4434cf 40.5px,#4741e5,#484df0 42.5px,#4756f7 44.5px,#4562fc,#4562fc,#4851f4,#4536d3,#4536d4,#4852f4,#4758f8,#4853f5,#463adc,#4538d7,#4742e6,#4740e4,#4538d8,#4536d4,#695cd8 59.5px)"></i><i style="background:linear-gradient(#473fe3 .5px,#4740e4 9.5px,#422ec0 11.5px,#412dbd 12.5px,#4230c3 23.5px,#463ee1 25.5px,#4741e4 29.5px,#4849ed 31.5px,#4848ec 34.5px,#473fe2,#4331c7,#422fc1 37.5px,#4331c6 40.5px,#4538d8,#473fe2 42.5px,#4849ed 45.5px,#4849ed,#4740e3,#4332ca,#4332ca,#4741e4,#4744e8,#4741e5,#4434d0,#4434cf,#463bdd,#463adb,#4435d1,#4434ce,#695bd4 59.5px)"></i><i style="flex:2;background:linear-gradient(#4639d9 .5px,#4639da 9.5px,#412ebd 11.5px,#412dbb 12.5px,#422ec0 23.5px,#4539d9 25.5px,#463adc 29.5px,#473fe2 31.5px,#463ee1 34.5px,#4538d7,#4230c3,#422ebf 37.5px,#4230c3 40.5px,#463adb 42.5px,#473fe2 45.5px,#473fe2,#4639d9,#4331c6,#4331c7,#463adb,#463cdf,#463adc,#4432cb,#43c,#4639d9,#4538d8,#4434cf,#4433cd,#695ad2 59.5px)"></i><i style="background:linear-gradient(#4538d7 .5px,#4538d8 9.5px,#412dbc 11.5px,#412cbb 12.5px,#422ebf 23.5px,#4538d7 25.5px,#4639da 29.5px,#463de0 31.5px,#463cdf 34.5px,#4537d5,#422fc1,#412ebe 37.5px,#422fc2 40.5px,#4539d9 42.5px,#463de0 45.5px,#463de0,#4538d7,#4330c4,#4330c5,#4539d9,#463bdc,#4639da,#4332c9,#4332ca,#4538d7,#4537d6,#4434ce,#4433cb,#685ad1 59.5px)"></i><i style="flex:3;background:linear-gradient(#4537d5 .5px,#4537d5 9.5px,#412dbb 11.5px,#412cba 12.5px,#412dbd 23.5px,#4536d4 25.5px,#4538d7 29.5px,#463bdd 31.5px,#463bdc 34.5px,#4536d3,#422fc0,#412dbd 37.5px,#422fc0 40.5px,#4537d6 42.5px,#463cde 45.5px,#463bdd,#4537d5,#4230c3,#4230c3,#4538d7,#4639da,#4538d7,#4331c7,#4331c8,#4537d5 55.5px,#4332c9 58.5px,#6859d0 59.5px)"></i><i style="background:linear-gradient(#4538d7 .5px,#4538d8 9.5px,#412dbc 11.5px,#412cbb 12.5px,#422ebf 23.5px,#4538d7 25.5px,#4639da 29.5px,#463de0 31.5px,#463cdf 34.5px,#4537d6,#422fc1,#412ebe 37.5px,#422fc2 40.5px,#4539d9 42.5px,#463de0 45.5px,#463de0,#4538d7,#4330c5,#4330c5,#4639d9,#463bdc,#4639da,#4332c9,#4332ca,#4538d7,#4537d6,#4434ce,#4433cb,#685ad1 59.5px)"></i><i style="background:linear-gradient(#463ada .5px,#463adb 9.5px,#412ebe 11.5px,#412dbc 12.5px,#422fc0 23.5px,#4639d9 25.5px,#473fe2 31.5px,#473ee1 34.5px,#4538d8,#4230c3,#422ebf 37.5px,#4230c4 40.5px,#463adc 42.5px,#4740e3 45.5px,#473fe3,#4639da,#4331c7,#4331c7,#463bdc,#463ddf,#463bdd,#43c,#43c,#4639da,#4539d9,#4435d0,#4434cd,#695bd3 59.5px)"></i><i style="flex:2;background:linear-gradient(#463bdc .5px,#463bdd 9.5px,#422ebf 11.5px,#412dbd 12.5px,#422fc1 23.5px,#463adc 25.5px,#4741e5 31.5px,#4740e3 34.5px,#4639da,#4330c5,#422fc1 37.5px,#4330c5 40.5px,#463bde 42.5px,#4741e5 45.5px,#4741e5,#463bdc,#4331c8,#4332c9,#463cde,#463ee1,#463cdf,#4433cd,#4434ce,#463bdc,#463adb,#4535d2,#4434cf,#695bd4 59.5px)"></i><i style="background:linear-gradient(#463ada .5px,#463adb 9.5px,#412ebe 11.5px,#412dbc 12.5px,#422fc0 23.5px,#4639d9 25.5px,#473fe2 31.5px,#473ee1 34.5px,#4538d8,#4230c3,#422ebf 37.5px,#4230c4 40.5px,#463adc 42.5px,#4740e3 45.5px,#473fe3,#4639da,#4331c7,#4331c7,#463bdc,#463ddf,#463bdd,#43c,#43c,#4639da,#4539d9,#4435d0,#4434cd,#695bd3 59.5px)"></i><i style="background:linear-gradient(#4538d7 .5px,#4538d8 9.5px,#412dbc 11.5px,#412cbb 12.5px,#422ebf 23.5px,#4538d7 25.5px,#4639da 29.5px,#463de0 31.5px,#463cdf 34.5px,#4537d6,#422fc1,#412ebe 37.5px,#422fc2 40.5px,#4539d9 42.5px,#463de0 45.5px,#463de0,#4538d7,#4330c5,#4330c5,#4639d9,#463bdc,#4639da,#4332c9,#4332ca,#4538d7,#4537d6,#4434ce,#4433cb,#685ad1 59.5px)"></i><i style="flex:3;background:linear-gradient(#4537d6 .5px,#4537d6 9.5px,#412dbc 11.5px,#412cba 12.5px,#412ebe 23.5px,#4537d5 25.5px,#4538d8 29.5px,#463cde 31.5px,#463bdd 34.5px,#4536d4,#422fc0,#412dbd 37.5px,#422fc1 40.5px,#4538d7 42.5px,#463cdf 45.5px,#463cde,#4537d6,#4230c3,#4230c4,#4538d8,#463adb,#4538d8,#4331c8,#4332c9,#4537d6,#4537d5,#43c,#4332ca,#685ad0 59.5px)"></i><i style="background:linear-gradient(#4639da .5px,#4639da 9.5px,#412ebe 11.5px,#412dbc 12.5px,#422ec0 23.5px,#4539d9 25.5px,#473fe2 31.5px,#463ee1 34.5px,#4538d8,#4230c3,#422ebf 37.5px,#4230c3 40.5px,#463adb 42.5px,#473fe2 45.5px,#473fe2,#4639d9,#4331c6,#4331c7,#463adb,#463cdf,#463bdc,#4433cb,#43c,#4639da,#4539d9,#4434d0,#4433cd,#695ad3 59.5px)"></i><i style="flex:2;background:linear-gradient(#463bdc .5px,#463bdc 9.5px,#422ebf 11.5px,#412dbd 12.5px,#422fc1 23.5px,#463adb 25.5px,#4741e4 31.5px,#4740e3 34.5px,#4639da,#4330c4,#422fc0 37.5px,#4330c5 40.5px,#463bdd 42.5px,#4741e5 45.5px,#4741e4,#463adc,#4331c8,#4332c9,#463cde,#463ee1,#463cde,#4433cd,#4434ce,#463bdc,#463adb,#4535d2,#4434cf,#695bd4 59.5px)"></i><i style="background:linear-gradient(#4639da .5px,#4639da 9.5px,#412ebe 11.5px,#412dbc 12.5px,#422fc0 23.5px,#4539d9 25.5px,#473fe2 31.5px,#463ee1 34.5px,#4538d8,#4230c3,#422ebf 37.5px,#4230c3 40.5px,#463adb 42.5px,#473fe3 45.5px,#473fe2,#4639da,#4331c6,#4331c7,#463adc,#463cdf,#463bdc,#4433cb,#43c,#4639da,#4539d9,#4434d0,#4433cd,#695bd3 59.5px)"></i><i style="flex:4;background:linear-gradient(#4538d8 .5px,#4538d8 9.5px,#412dbd 11.5px,#412dbb 12.5px,#422ebf 23.5px,#4538d7 25.5px,#4639da 29.5px,#463de0 31.5px,#463cdf 34.5px,#4537d6,#422fc2,#412ebe 37.5px,#422fc2 40.5px,#4539d9 42.5px,#463ee0 45.5px,#463de0,#4538d7,#4330c5,#4330c5,#4639d9,#463bdd,#4639da,#4332c9,#4332ca,#4538d8,#4538d7,#4434ce,#4433cb,#685ad2 59.5px)"></i><i style="background:linear-gradient(#4639d9 .5px,#4639da 9.5px,#412ebd 11.5px,#412dbb 12.5px,#422ec0 23.5px,#4539d9 25.5px,#463adc 29.5px,#473ee2 31.5px,#463ee1 34.5px,#4538d7,#422fc3,#422ebf 37.5px,#4230c3 40.5px,#463adb 42.5px,#473fe2 45.5px,#473fe2,#4639d9,#4331c6,#4331c6,#463adb,#463cde,#463adc,#4432cb,#43c,#4639d9,#4538d8,#4434cf,#4433cd,#695ad2 59.5px)"></i><i style="background:linear-gradient(#463bdc .5px,#463bdd 9.5px,#412ebe 11.5px,#412dbc 12.5px,#422fc0 23.5px,#463adb 25.5px,#463cde 29.5px,#4742e6 31.5px,#4741e5 34.5px,#463adb,#4230c4,#422ebf 37.5px,#4230c3 40.5px,#463bdd 42.5px,#4742e6 45.5px,#4742e6,#463bdc,#4331c6,#4331c7,#463cde,#473ee1,#463cdf,#43c,#43c,#4639d9,#4538d8,#4434cf,#43c,#695ad2 59.5px)"></i><i style="background:linear-gradient(#4743e7 .5px,#4744e8 9.5px,#422fc1 11.5px,#412ebe 12.5px,#4230c4 23.5px,#4741e4 25.5px,#4744e8 29.5px,#484ef1 31.5px,#484df0 34.5px,#4742e6,#4332c9,#422fc2 37.5px,#4331c7 40.5px,#463ada,#4741e5 42.5px,#484ef1 45.5px,#484ef1,#4743e7,#4433cb,#43c,#4744e8,#4848ec,#4745e9,#4535d2,#4435d0,#463cde,#463bdc,#4435d2,#4434cf,#695bd4 59.5px)"></i><i style="background:linear-gradient(#484cef .5px,#4850f2 7.5px,#484df0 9.5px,#463bdd,#4330c4,#422fc0 12.5px,#4330c5 22.5px,#4332c8 23.5px,#4848ec 25.5px,#484df0 29.5px,#4758f8,#475cfa 31.5px,#475af9 34.5px,#484cef,#4434ce,#4330c5 37.5px,#43c 40.5px,#473ee1,#4848ec 42.5px,#4851f3 44.5px,#475bf9,#475bf9,#484cf0,#4435d0,#4435d1,#484df0,#4852f4,#484ef1,#4538d8,#4536d4,#473fe2,#463ee1,#4537d5,#4435d1,#695cd6 59.5px)"></i><i style="background:linear-gradient(#484ef1 .5px,#4853f4 7.5px,#484ff2 9.5px,#463cdf,#4331c5,#422fc1 12.5px,#4331c6 22.5px,#4332ca 23.5px,#484aee 25.5px,#484ff2 29.5px,#475cfa,#4660fb 31.5px,#465efb 34.5px,#484ef1,#4434cf,#4331c6 37.5px,#4433cd 40.5px,#4740e3,#484aee 42.5px,#4853f5 44.5px,#465ffb,#465efb,#484ff2,#4435d1,#4535d2,#4850f2,#4755f6,#4850f3,#4639da,#4537d5,#4740e3,#473ee2,#4537d6,#4535d2,#695cd6 59.5px)"></i><i style="background:linear-gradient(#484cef .5px,#4850f3 7.5px,#484df0 9.5px,#463bdd,#4230c4,#422fc0 12.5px,#4330c5 22.5px,#4332c8 23.5px,#4848ec 25.5px,#484df0 29.5px,#4758f8,#475cfa 31.5px,#475af9 34.5px,#484cef,#4434ce,#4330c5 37.5px,#43c 40.5px,#473ee1,#4848ec 42.5px,#4851f3 44.5px,#475bf9,#475bf9,#484df0,#4435d0,#4435d1,#484df0,#4852f4,#484ef1,#4538d8,#4536d4,#473fe2,#463de0,#4537d5,#4435d1,#695cd6 59.5px)"></i><i style="background:linear-gradient(#4743e8 .5px,#4744e8 9.5px,#422fc1 11.5px,#412ebe 12.5px,#4230c4 23.5px,#4741e5 25.5px,#4745e9 29.5px,#484df1,#4850f2 31.5px,#484ff1 34.5px,#4743e7,#4332c9,#422fc2 37.5px,#4331c7 40.5px,#463adb,#4742e6 42.5px,#4848ec 44.5px,#484ff2,#484ff2,#4744e8,#4433cb,#43c,#4745e9,#4849ed,#4745e9,#4535d2,#4434cf,#463bdd,#463adc,#4435d1,#4434ce,#695bd3 59.5px)"></i><i style="background:linear-gradient(#463cde .5px,#463cde 9.5px,#412dbd 11.5px,#412dbb 12.5px,#422ec0 23.5px,#463adc 25.5px,#463ddf 29.5px,#4744e8 31.5px,#4743e7 34.5px,#463bdd,#4230c3,#422ebe 37.5px,#4230c3 40.5px,#463bdd 42.5px,#4744e8 45.5px,#4743e7,#463cde,#4331c6,#4331c6,#463ddf,#473fe3,#463de0,#4433cb,#4332cb,#4538d8,#4537d7,#4433cd,#4332ca,#685ad1 59.5px)"></i><i style="background:linear-gradient(#463adb .5px,#463bdc 9.5px,#412dbd 11.5px,#412cba 12.5px,#422ebf 23.5px,#4639da 25.5px,#463bdd 29.5px,#4741e5 31.5px,#4740e4 34.5px,#4639da,#422fc2,#412ebe 37.5px,#422fc2 40.5px,#463adb 42.5px,#4741e5 45.5px,#4741e5,#463adc,#4330c5,#4330c5,#463bdd,#463ee0,#463bde,#4332ca,#4332ca,#4538d7,#4537d6,#43c,#4332ca,#685ad0 59.5px)"></i><i style="background:linear-gradient(#4849ed .5px,#484df0 7.5px,#484aed 9.5px,#4639da,#4230c3,#422ebf 12.5px,#4230c4 22.5px,#4331c7 23.5px,#4745e9 25.5px,#484aed 29.5px,#4854f6,#4757f7 31.5px,#4756f7 34.5px,#4848ec,#43c,#4230c4 37.5px,#4332ca 40.5px,#463cdf,#4746ea 42.5px,#484df1 44.5px,#4757f7,#4757f7,#4849ed,#4434ce,#4434cf,#484aee,#484ff1,#484bee,#4537d6,#4536d2,#463de0,#463cdf,#4536d3,#4434d0,#695bd5 59.5px)"></i><i style="background:linear-gradient(#3e6fff .5px,#3e70ff 4.5px,#3678fd,#3578fd 8.5px,#3c72ff,#484ff2,#4536d3,#43c 12.5px,#4435d0 19.5px,#4539d9 23.5px,#484cef,#4466fd 25.5px,#3e6fff 29.5px,#2d8af4,#2b91ef 31.5px,#2c8ef1 34.5px,#3d71ff,#463ee1,#4536d3 37.5px,#4537d6 39.5px,#463bdc,#4853f5,#4465fd,#426afe,#3678fd,#2c8ff1,#2c8ff1,#3c71ff,#473ee1,#473fe2,#3c72ff,#327cfc,#3b73fe,#4747eb,#4740e4,#484ef1,#484bef,#473fe2,#463cde,#6a60df 59.5px)"></i><i style="background:linear-gradient(#2d89f5 .5px,#2d8bf4 4.5px,#2994ed,#2994ed 8.5px,#2d8df2,#465dfb,#463bdc,#4536d4 12.5px,#4539d9 19.5px,#473fe3 23.5px,#4759f8,#317dfc,#2e83f9 26.5px,#2e83f9 28.5px,#2d8af5,#1da8e0,#14b0d8 31.5px,#13b1d7 33.5px,#19addc,#2d8cf3,#4746eb,#463bdc 37.5px,#463cdf 39.5px,#4742e6,#4562fc,#327cfc,#2f82fa,#2a93ed,#18aedb,#17aeda,#2d8df2,#4747eb,#4747eb,#2d8cf3,#2798ea,#2c8ef2,#4852f4,#4848ec,#4759f8,#4756f6,#4745e9,#4741e5,#6b63e5 59.5px)"></i><i style="background:linear-gradient(#1da8e0 .5px,#1ca9df 4.5px,#0db3d3 6.5px,#0cb3d3,#0cb3d3,#1aacdd,#3b73fe,#4742e6,#463bdd 12.5px,#4743e7 22.5px,#4849ed,#406cfe,#269ae9,#23a0e5 26.5px,#23a0e5 28.5px,#1da8e0,#28c2ab,#38c896 31.5px,#39c995 33.5px,#31c69f,#1aabdd,#4852f4,#4742e6 37.5px,#4744e8 39.5px,#484cef,#3678fd,#2797ea,#249ee6,#0fb2d4,#36c799,#36c898,#19addc,#4852f4,#4853f5,#1babde,#04b6cd,#19addc,#4561fc,#4853f5,#4269fe,#4464fd,#484ef1,#4849ed,#6c68ec 59.5px)"></i><i style="background:linear-gradient(#29c3a9 .5px,#2cc4a7 4.5px,#39c895,#44cb8a,#46cb88,#46cb88,#31c69f,#2c90f0,#484df1,#4743e8 12.5px,#4849ed 19.5px,#484ff2 22.5px,#4756f7,#2d88f6,#01b8c8,#0dbdbb 26.5px,#0ebdbb 28.5px,#28c3ab,#b7c532,#e1bc2b 31.5px,#e4bb2c 33.5px,#d1bf27,#31c6a0,#4563fd,#484df0 37.5px,#4850f2 39.5px,#475af9,#2895ec,#04b6cd,#07bcbf,#41ca8c,#e3bc2c,#e6bb2d,#36c799,#4563fc,#4563fd,#2fc5a3,#55cc7c,#32c69e,#3578fd,#4563fc,#2f81fa,#347afd,#475bf9,#4854f5,#6c70f3 59.5px)"></i><i style="background:linear-gradient(#43ca8b .5px,#43ca8b 3.5px,#48cb87,#66cd6d,#7acc5e 6.5px,#7ccc5c 8.5px,#54cc7c,#269be8,#4852f4,#4747eb 12.5px,#484df1 19.5px,#4853f4 20.5px,#4854f5 22.5px,#475cfa,#2b92ee,#1dc0b3,#2fc5a3 26.5px,#2fc5a3 28.5px,#40ca8d,#efba35,#fec934,#fdcb33,#fdcb33,#febf3b,#53cc7d,#416bfe,#4851f3 37.5px,#4854f6 39.5px,#4660fb,#249fe5,#13beb9,#2ac3a8,#75cc61,#fdcb32,#fdcd31,#60cd72,#426afe,#416bfe,#4ecc81,#90ca4d,#56cc7b,#2f82fa,#426afe,#2d8af5,#2e83f9,#4660fc,#4759f8,#6c73f5 59.5px)"></i><i style="background:linear-gradient(#4acb85 .5px,#4acb85 3.5px,#4fcc80,#6fcd66,#84cc56 6.5px,#86cb54 8.5px,#5dcc75,#259ce7,#4853f5,#4847ec 12.5px,#484ef1 19.5px,#4853f5 20.5px,#4854f6 22.5px,#475cfa,#2a93ed,#23c1af,#32c69f 26.5px,#32c69f 28.5px,#47cb87,#f6ba3b,#fccf30 31.5px,#fcd12f 33.5px,#fec537,#5ccc76,#406cfe,#4852f4 37.5px,#4755f6 39.5px,#4661fc,#22a1e4,#19bfb5,#2ec4a4,#7fcc5a,#fcd030,#fbd22f,#68cd6c,#416bfe,#416cfe,#56cc7b,#9ac945,#5ecd74,#2e83f9,#416bfe,#2d8bf4,#2e84f8,#4561fc,#4759f9,#6c74f6 59.5px)"></i><i style="background:linear-gradient(#3cc991 .5px,#40ca8d 4.5px,#5dcc75,#6fcd66 6.5px,#71cd64 8.5px,#4ccb83,#2699e9,#4851f3,#4746ea 12.5px,#484df0 19.5px,#4852f4 20.5px,#4853f5 22.5px,#475bf9,#2c90f0,#16bfb7,#2bc3a8 26.5px,#2bc3a8 28.5px,#3bc993,#e6bb2d,#fec338 31.5px,#fec537 33.5px,#fabb3d,#4bcb84,#4269fe,#4850f3 37.5px,#4854f5 39.5px,#465ffb,#249de6,#0bbdbc,#26c2ad,#69cd6b,#fec03a,#fec239,#52cc7e,#4368fe,#4269fe,#46cb88,#85cb55,#4dcc82,#3080fa,#4368fe,#2d88f6,#2f81fa,#465ffb,#4758f8,#6c73f5 59.5px)"></i><i style="background:linear-gradient(#1fc1b1 .5px,#1fc1b1 3.5px,#24c1af,#32c69f,#39c895,#3ac993,#3ac994,#2bc3a8,#2d8df2,#484cf0,#4742e6 12.5px,#4848ec 19.5px,#484ef1 22.5px,#4854f6,#2e85f8,#05b6ce,#03bbc2 26.5px,#04bbc2 28.5px,#1ec0b2,#a2c83f,#d0bf27 31.5px,#d3bf27 33.5px,#bec32e,#2ac3a9,#4561fc,#484bef 37.5px,#484ef1 39.5px,#4758f8,#2b92ee,#0bb3d2,#01b9c6,#36c899,#c1c32c,#c4c22b,#2bc3a8,#4660fc,#4561fc,#27c2ab,#46cb88,#2cc4a7,#3875fe,#4561fc,#317efb,#3677fe,#4759f9,#4853f5,#6c6ff2 59.5px)"></i><i style="background:linear-gradient(#07bcc0 .5px,#0abdbd 4.5px,#22c1b0,#2bc3a8 6.5px,#2cc4a7 8.5px,#15bfb8,#2e86f7,#4849ed,#4740e4 12.5px,#484bef 22.5px,#4851f4,#307ffb,#14b0d8,#06b6ce 26.5px,#05b6ce 28.5px,#06bbc1,#79cc5e,#a8c73b 31.5px,#acc739 33.5px,#95ca49,#13beb8,#465dfb,#4849ed 37.5px,#484cef 39.5px,#4755f6,#2d8bf3,#18addb,#0ab4d1,#28c2ab,#95ca49,#97ca48,#13beb8,#475cfa,#465efb,#10beba,#33c69e,#17bfb7,#3e70ff,#465dfb,#3579fd,#3b72ff,#4756f7,#4850f3,#6c6df0 59.5px)"></i><i style="background:linear-gradient(#02bac4 .5px,#04bbc2 4.5px,#1ac0b5,#26c2ad,#27c2ac,#27c2ac,#0cbdbc,#2e84f8,#4849ed,#4740e3 12.5px,#484aee 22.5px,#4850f3,#317dfc,#18aedb,#0ab4d2 26.5px,#0ab4d2 28.5px,#02bac5,#6ccd68,#9bc944 31.5px,#9ec942 33.5px,#88cb53,#0abdbd,#475cfa,#4848ec 37.5px,#484bef 39.5px,#4854f5,#2d89f5,#1babde,#0fb2d5,#22c1b0,#87cb54,#8acb52,#0bbdbd,#475bf9,#475cfa,#08bcbf,#2fc5a3,#0ebdbb,#3f6eff,#475cfa,#3777fe,#3d71ff,#4756f6,#484ff2,#6c6df0 59.5px)"></i><i style="background:linear-gradient(#01b8c9 .5px,#01b9c6 4.5px,#1dc0b3 6.5px,#1fc0b2,#1fc0b2,#05bbc1,#2f82f9,#4848ec,#473fe3 12.5px,#4849ed 22.5px,#484ff2,#337afd,#1babde,#11b1d6 26.5px,#10b2d5 28.5px,#01b8c9,#5fcd73,#8ccb50 31.5px,#8fcb4e 33.5px,#79cc5e,#04bbc2,#475bf9,#4747eb 37.5px,#484aee 39.5px,#4853f5,#2e87f7,#1da9e0,#14b0d8,#19bfb5,#78cc5f,#7acc5d,#04bbc2,#475af9,#475bf9,#02bac4,#29c3aa,#06bcc0,#406cfe,#475bf9,#3975fe,#3e6fff,#4855f6,#484ff1,#6c6cef 59.5px)"></i><i style="background:linear-gradient(#18addb .5px,#16afda 4.5px,#08b4d0,#02b7cb 6.5px,#01b8ca 8.5px,#11b1d6,#3677fe,#4744e8,#463cdf 12.5px,#4745e9 22.5px,#484bee,#3d70ff,#249fe6,#1fa6e2 26.5px,#1fa6e2 28.5px,#18addb,#33c69d,#4bcb84 31.5px,#4dcc82 33.5px,#3eca8f,#12b1d7,#4755f6,#4743e7 37.5px,#4746ea 39.5px,#484ef1,#317dfc,#259de7,#20a4e3,#04b6cd,#3eca8f,#3fca8e,#12b1d6,#4854f6,#4755f6,#13b0d7,#02bac3,#10b2d5,#4464fd,#4755f6,#406cfe,#4367fd,#4850f3,#484bee,#6c69ed 59.5px)"></i><i style="background:linear-gradient(#2d8cf3 .5px,#2d8df2 4.5px,#2796eb,#2797eb 8.5px,#2c8ff0,#465ffb,#463bdd,#4536d4 12.5px,#4639d9 19.5px,#4740e3 23.5px,#475bf9,#307ffb,#2e85f8 26.5px,#2e85f8 28.5px,#2d8cf3,#1aabdd,#0eb3d4 31.5px,#0cb3d3 33.5px,#14b0d8,#2c8ff1,#4747eb,#463bdd 37.5px,#463de0 39.5px,#4742e7,#4563fd,#317efb,#2e84f8,#2896ec,#14b0d8,#14b0d8,#2c8ff1,#4747eb,#4848ec,#2c8ff1,#269ae8,#2b90f0,#4853f5,#4849ed,#475af9,#4757f7,#4746ea,#4742e6,#6b63e6 59.5px)"></i><i style="background:linear-gradient(#3a74fe .5px,#3975fe 4.5px,#317dfb,#317efb 8.5px,#3677fe,#4851f4,#4537d5,#4433cd 12.5px,#4435d2 19.5px,#463adb 23.5px,#484ef1,#426afe,#3e6fff 26.5px,#3e6fff 28.5px,#3975fe,#2c90f0,#2797ea 31.5px,#2994ed 34.5px,#3876fe,#473fe3,#4537d5 37.5px,#4538d8 39.5px,#463cde,#4755f6,#4269fe,#3f6eff,#317dfc,#2995ec,#2995ec,#3777fe,#4740e3,#4740e4,#3777fe,#2f81fa,#3578fd,#4849ed,#4742e6,#4850f3,#484df1,#4740e3,#463cdf,#6b60e0 59.5px)"></i><i style="background:linear-gradient(#465dfa .5px,#465efb 4.5px,#4563fd 7.5px,#465ffb 9.5px,#4745e9,#43c,#4331c6 12.5px,#4332c9 19.5px,#4435d1 23.5px,#4743e7,#4757f7 25.5px,#465efb 29.5px,#3c71ff,#3678fe 31.5px,#3975fe 34.5px,#465efb,#4538d8,#43c 37.5px,#4434cf 39.5px,#4537d5,#4848ec,#4757f7,#475af9,#4564fd,#3875fe,#3876fe,#465ffb,#4639d9,#463ada,#465ffb,#4466fd,#4660fb,#473fe3,#463bdd,#4746eb,#4744e9,#463adc,#4538d8,#6a5edb 59.5px)"></i><i style="background:linear-gradient(#4740e4 .5px,#4741e5 9.5px,#422ebf 11.5px,#412dbc 12.5px,#422fc2 23.5px,#463ee1 25.5px,#4741e5 29.5px,#484bee 31.5px,#4849ed 34.5px,#4740e3,#4331c6,#422fc0 37.5px,#4330c5 40.5px,#4538d7,#473fe2 42.5px,#484aee 45.5px,#484aee,#4740e4,#4332c9,#4332c9,#4741e5,#4745e9,#4742e6,#4434cf,#4433cd,#463adb,#4639da,#4434cf,#43c,#695ad2 59.5px)"></i><i style="flex:2;background:linear-gradient(#4536d4 .5px,#4536d4 9.5px,#412cbb 11.5px,#412cb9 12.5px,#412dbc 23.5px,#4536d3 25.5px,#4537d6 29.5px,#463adc 31.5px,#463adb 34.5px,#4435d2,#422ebf,#412dbc 37.5px,#422ebf 40.5px,#4537d5 42.5px,#463bdc 45.5px,#463bdc,#4536d3,#422fc2,#422fc2,#4537d5,#4539d8,#4537d6,#4331c6,#4331c7,#4536d3 55.5px,#4331c8 58.5px,#6859cf 59.5px)"></i><i style="background:linear-gradient(#7d72e0 .5px,#7d73e2 8.5px,#7d72e0 9.5px,#7a6ccf 11.5px,#7a6bce 12.5px,#7a6cd0 23.5px,#7c72e0 25.5px,#7d75e6 31.5px,#7d75e5 34.5px,#7c72df,#7a6dd2,#7a6cd0 37.5px,#7a6dd2 40.5px,#7d73e1 42.5px,#7d75e6 45.5px,#7d72e0 47.5px,#7b6dd4,#7b6ed4,#7d73e1,#7d74e4,#7d73e2,#7b6fd7,#7b6fd7,#7d72e0 55.5px,#7b6fd8 58.5px,#958bdd 59.5px)"></i></div>
<div class="p" style="left:218px;top:180px;width:142px;height:60px"><i style="background:linear-gradient(#43c .5px,#4434cd 9.5px,#412cb9 11.5px,#402bb8 12.5px,#412cba 22.5px,#412cba 23.5px,#43c 25.5px,#4537d6 33.5px,#4537d5,#4434ce,#422ec0 36.5px,#412dbc 39.5px,#422ebf,#4538d7,#4740e4,#4741e5 43.5px,#4740e3 46.5px,#4639da,#422fc1,#422ebf,#4434ce,#4434cf,#4434ce,#4330c5,#4332cb,#463bdd,#463adb,#4433cb,#4332c8,#6859cf 59.5px)"></i><i style="background:linear-gradient(#4536d3 .5px,#4639da 8.5px,#4538d8 9.5px,#412dbc 11.5px,#412dbd 22.5px,#412ebe 23.5px,#4536d3 25.5px,#4537d6 29.5px,#463ddf 30.5px,#473ee1 33.5px,#463ee1,#4538d7,#422fc1 36.5px,#422ebf 39.5px,#422fc2,#463bdc,#4745e9,#4746ea 43.5px,#4740e3 46.5px,#463adb,#4331c6,#4330c5,#4536d3,#4537d5,#4536d3,#4332c9,#43c,#4639d9 55.5px,#4434cf 58.5px,#695bd4 59.5px)"></i><i style="background:linear-gradient(#4536d3 .5px,#4537d5 4.5px,#473ee1,#4742e7 6.5px,#4743e7 8.5px,#4741e5 9.5px,#422fc1 11.5px,#412ebd 22.5px,#422ebe 23.5px,#4535d2 25.5px,#4537d6 29.5px,#473fe2 30.5px,#4741e5 33.5px,#4741e4,#463adb,#4230c4 36.5px,#422ebf 39.5px,#422fc1,#4538d8,#4741e4,#4741e5 43.5px,#463bdd 46.5px,#4537d6,#4331c8,#4332c9,#463ada,#463bdc,#463ada,#4332ca,#4332ca,#4537d5 55.5px,#4434cf 58.5px,#695bd4 59.5px)"></i><i style="background:linear-gradient(#4536d3 .5px,#4536d4 4.5px,#463de0,#463de0 8.5px,#463cdf 9.5px,#422fc1 11.5px,#412ebd 22.5px,#422ebe 23.5px,#4434ce 25.5px,#4536d3 29.5px,#4743e7 30.5px,#4747eb 33.5px,#4746ea,#463de0,#4230c3 36.5px,#412dbc 39.5px,#422ebf,#4539d9,#4743e7,#4743e7,#473ee1,#4536d3 45.5px,#4331c8 48.5px,#4332c9,#4538d7,#4539d9,#4538d7,#4332ca,#4332ca,#4536d4 55.5px,#4433cd 58.5px,#695ad2 59.5px)"></i><i style="background:linear-gradient(#4537d5 .5px,#4538d8 9.5px,#412dbc 11.5px,#412dbb 12.5px,#412dbc 23.5px,#4435d0 25.5px,#4435d1 28.5px,#4538d7,#484ef1,#4854f5 31.5px,#4854f5 33.5px,#4853f4,#4745e9,#4230c3,#412dbd 37.5px,#422fc1 40.5px,#4538d8,#4741e4,#4741e5,#463ddf,#4435d1 45.5px,#4332ca,#4435d0 51.5px,#4434ce,#4330c5,#4332ca,#463adb,#4639d9,#4434ce,#43c,#685ad2 59.5px)"></i><i style="background:linear-gradient(#4434ce .5px,#4434cf 4.5px,#4538d8,#4539d9 8.5px,#4538d7 9.5px,#412ebe 11.5px,#412dbc 22.5px,#412ebd 23.5px,#4537d6 25.5px,#4639da 29.5px,#4742e6 30.5px,#4744e8 33.5px,#4743e7,#463bdd,#422fc2,#422ebf 37.5px,#4330c5 40.5px,#4536d4 42.5px,#4434cf 46.5px,#4330c5 48.5px,#4331c7,#4538d8,#4639da,#4538d8,#4331c6,#4331c7,#4536d4 55.5px,#4332cb 58.5px,#685ad1 59.5px)"></i><i style="background:linear-gradient(#4433cd .5px,#4433cd 4.5px,#4537d5,#4537d5 8.5px,#4536d4 9.5px,#412cba 11.5px,#412cb9 14.5px,#422fc1 23.5px,#4435d0 25.5px,#4639d9 33.5px,#4539d9,#4435d1,#422fc0,#412ebe 37.5px,#422fc1 40.5px,#4435d1 42.5px,#4435d1 43.5px,#4434ce 46.5px,#4330c4 48.5px,#4331c8,#4740e3,#4742e6,#4740e3,#4332c9,#4330c5,#4435d1 55.5px,#4331c7 58.5px,#6859ce 59.5px)"></i><i style="background:linear-gradient(#4434ce .5px,#4537d5 8.5px,#4536d3 9.5px,#412cb9 11.5px,#412cb8 18.5px,#422ec0 23.5px,#4537d5 25.5px,#4538d7,#4434cf,#4434cf 34.5px,#412dbd 36.5px,#412dbb 37.5px,#422ebf 40.5px,#4435d1,#463bdd,#463bdd 43.5px,#4434cf,#4332c9 47.5px,#422fc1,#4230c4,#463bdd,#463de0,#463cde,#4331c7,#4331c6,#4536d3 55.5px,#4332c9 58.5px,#6859d0 59.5px)"></i><i style="background:linear-gradient(#463adc .5px,#463adb 4.5px,#4536d2 6.5px,#4435d0 9.5px,#412cb9 11.5px,#402bb8 12.5px,#412cb9 19.5px,#422fc0 20.5px,#4230c3 23.5px,#463de0 25.5px,#473ee2 26.5px,#463ee1 29.5px,#4538d8,#4537d6 31.5px,#4537d5 34.5px,#4433cd,#412ebd,#412dbc 37.5px,#422fc2 40.5px,#463adb,#4744e8,#4744e9,#473fe3,#4537d5 45.5px,#4433cd 47.5px,#422fc1,#4230c4,#463de0,#473fe3,#463ee1,#43c,#4332c9,#4435d0 55.5px,#4434ce 58.5px,#695ad3 59.5px)"></i><i style="background:linear-gradient(#4741e5 .5px,#4741e4 4.5px,#4538d7 6.5px,#4536d5 9.5px,#412dbb 11.5px,#412cba 12.5px,#412dbb 19.5px,#422fc2 20.5px,#4330c5 23.5px,#4744e8 25.5px,#4746ea 26.5px,#4744e8 34.5px,#463bde,#422fc2,#422ebe 37.5px,#4332c9 40.5px,#4741e5,#484ff2,#4850f2 43.5px,#4742e6 46.5px,#463bdc,#4230c3,#4330c5,#4740e4,#4743e7,#4741e5,#4536d3,#4434cf 54.5px,#4435d1,#4332ca 58.5px,#685ad1 59.5px)"></i><i style="background:linear-gradient(#463de0 .5px,#463ddf 4.5px,#4537d6 6.5px,#4536d4 9.5px,#422ebf 11.5px,#412dbc 19.5px,#422ec0 23.5px,#4741e5 25.5px,#4746ea 33.5px,#4745e9,#463ddf,#422fc2 36.5px,#422ebf,#4230c4 40.5px,#473fe2,#484cef,#484df0,#4747eb,#463de0 45.5px,#4537d5 47.5px,#422fc2,#4230c4,#463ee1,#4740e4,#473fe2,#4535d2 53.5px,#4435d1 56.5px,#4432cb 58.5px,#685ad1 59.5px)"></i><i style="background:linear-gradient(#4435d1 .5px,#4535d2 4.5px,#463bdc,#463bdd 8.5px,#463adb 9.5px,#412ebd 11.5px,#412dbb 22.5px,#412dbc 23.5px,#463bdd 25.5px,#4740e3 33.5px,#473fe2,#4538d8,#422ec0 36.5px,#412dbc 39.5px,#422fc0,#463bdc,#4746ea,#4747eb,#4742e6,#4539d9 45.5px,#4434cf 47.5px,#422fc1,#4230c4,#4741e4,#4743e7,#4741e5,#4434cf,#4433cb,#4536d3 55.5px,#4435d0 58.5px,#695bd5 59.5px)"></i><i style="background:linear-gradient(#4537d6 .5px,#4435d1 9.5px,#412cba 11.5px,#412cb9 14.5px,#422ebe 23.5px,#4539d8 25.5px,#473fe2 33.5px,#473ee1,#4538d7,#422ebf 36.5px,#412dbc 39.5px,#422ebf,#4539d9,#4742e6,#4743e7 43.5px,#463ddf 46.5px,#4537d6,#422fc1,#422fc2,#463bdd,#463de0,#463bde,#4332ca,#4332c9,#4537d6 55.5px,#4435d1 58.5px,#695bd5 59.5px)"></i><i style="background:linear-gradient(#4743e7 .5px,#4742e6 4.5px,#4434ce 6.5px,#43c 9.5px,#402bb8 11.5px,#402bb7 12.5px,#422ec0 23.5px,#4538d8 25.5px,#4639da 26.5px,#4536d4 34.5px,#43c,#412dbc,#412cba 37.5px,#412ebe 40.5px,#4536d4 42.5px,#4537d5 43.5px,#4537d5 46.5px,#4434cf,#422fc1,#422fc1,#4434ce,#4435d0,#4434cf,#4330c5,#4332c8,#4537d6 55.5px,#4433cb 58.5px,#685ad1 59.5px)"></i><i style="background:linear-gradient(#4746eb .5px,#4745e9 4.5px,#463ada,#4434d0 6.5px,#4433cd 9.5px,#412cb8 11.5px,#402bb7 12.5px,#412cba 19.5px,#422ebf 20.5px,#422fc1 23.5px,#463bdc 25.5px,#463cde 26.5px,#463bdc 29.5px,#4435d1,#4434ce 31.5px,#4433cd 34.5px,#412dbb 36.5px,#412cba 37.5px,#422fc0 40.5px,#4536d4 42.5px,#4537d5 43.5px,#4435d0 46.5px,#422ec0 48.5px,#422fc2,#463cde,#463ee0,#463cde,#4331c6,#4331c6,#4536d4 55.5px,#4331c6 58.5px,#6859ce 59.5px)"></i><i style="background:linear-gradient(#484bef .5px,#484aee 4.5px,#463ddf,#4536d4 6.5px,#4435d1 9.5px,#412cba 11.5px,#412cb9 12.5px,#422fc1 23.5px,#4538d7 25.5px,#4539d8 26.5px,#4537d6 34.5px,#4434ce,#412dbd,#412dbb 37.5px,#422fc2 40.5px,#4536d3,#463bdd 42.5px,#463de0 45.5px,#463de0,#4538d7,#422fc2,#4330c5,#4744e8,#4747eb,#4744e8,#43c,#4331c8,#4536d4 55.5px,#4331c6 58.5px,#6859ce 59.5px)"></i><i style="background:linear-gradient(#4848ec .5px,#4747eb 4.5px,#4537d6 6.5px,#4536d3 9.5px,#412dbc 11.5px,#412cbb 12.5px,#4230c3 23.5px,#4639da 25.5px,#463cde 29.5px,#484aee,#484ef1 31.5px,#484df0 34.5px,#4741e5,#422fc1,#412dbc 37.5px,#422fc1 40.5px,#4639da,#4743e7 42.5px,#4849ed 44.5px,#4851f3,#4851f3,#4744e9,#4330c5,#4330c5,#4741e4,#4743e7,#4741e5,#4434ce,#4435d2,#4742e6,#473fe2,#4433cb,#4331c7,#6859ce 59.5px)"></i><i style="background:linear-gradient(#4539d9 .5px,#4538d8 4.5px,#4435d2 6.5px,#4434d0 9.5px,#412cb9 11.5px,#412dbb 19.5px,#422fc0 23.5px,#4537d6 25.5px,#463ada 29.5px,#4848ec 30.5px,#484cef 33.5px,#484aee,#4740e3,#422fc2 36.5px,#412dbd,#422ec0,#4639d9 42.5px,#463adb,#4740e4,#484cef,#484cef,#4741e5,#4230c3,#422fc1,#4537d6,#4538d8,#4538d7,#4331c8,#43c,#463cdf,#463adb,#4332c9,#4330c5,#6858cd 59.5px)"></i><i style="background:linear-gradient(#4538d8 .5px,#4539d9 4.5px,#4740e3 6.5px,#473ee1 9.5px,#412cb9 11.5px,#402bb7 12.5px,#412dbd 23.5px,#4537d6 25.5px,#4539d9 31.5px,#4538d8 34.5px,#4435d0,#422ebf,#412dbd 37.5px,#422fc2 40.5px,#4434cf 42.5px,#4435d1 43.5px,#473ee1 45.5px,#473fe2,#4539d9,#4230c3,#4330c5,#463ee1,#4740e3,#463ee1,#4331c6,#4330c5,#4536d3 55.5px,#4332ca 58.5px,#685ad0 59.5px)"></i><i style="background:linear-gradient(#463cde .5px,#463de0 4.5px,#4747eb,#484cef 6.5px,#484aee 9.5px,#4538d8,#412ebe 11.5px,#412cb9,#422fc0 23.5px,#463bdc 25.5px,#463cde 28.5px,#463bdd,#4536d2,#4434d0 31.5px,#4434cf 34.5px,#422ebe 36.5px,#412dbd 37.5px,#422fc0 40.5px,#4538d7 42.5px,#4536d4 46.5px,#4332c9 48.5px,#4434cd,#4747eb,#484aee,#4747eb,#43c,#4330c5,#4435d0 55.5px,#4433cd 58.5px,#695ad3 59.5px)"></i><i style="background:linear-gradient(#473fe2 .5px,#463cde 9.5px,#422fc1 11.5px,#412cba 16.5px,#422fc1 23.5px,#4742e6 25.5px,#4743e7 26.5px,#4742e6 29.5px,#4639d9 30.5px,#4537d5 34.5px,#4434cf,#422fc2 36.5px,#412ebe 39.5px,#422ec0 40.5px,#4539d9 42.5px,#463adb 46.5px,#4433cd 48.5px,#4435d1,#4747eb,#484aee,#4747eb,#4435d1,#4434ce,#463bdc,#4639da,#43c,#4332ca,#685ad0 59.5px)"></i><i style="background:linear-gradient(#473fe3 .5px,#473fe2 4.5px,#463bdc 6.5px,#463ada 9.5px,#422fc2 11.5px,#412dbb,#422ebf 23.5px,#463bde 25.5px,#463de0 34.5px,#4538d8,#4330c5 36.5px,#422ebf 39.5px,#422fc1,#4536d3,#463cde,#463ddf 43.5px,#4538d8 46.5px,#4435d2,#4330c5,#4433cb,#484cf0,#4850f2,#484df0,#4435d1,#4434ce,#463de0,#463bdd,#4433cd,#4332ca,#685ad0 59.5px)"></i><i style="background:linear-gradient(#463adb .5px,#4536d4 9.5px,#412dbb 11.5px,#412cba 12.5px,#412cb9 18.5px,#422ebe 23.5px,#4538d8 25.5px,#4639da 26.5px,#4435d1 34.5px,#4332ca,#422ebe 36.5px,#412dbc 39.5px,#412ebe 40.5px,#4538d7 42.5px,#4538d8 43.5px,#4537d5 46.5px,#4434ce,#422fc1,#4331c6,#4848ec,#484cef,#4849ed,#43c,#4331c7,#4538d8,#4537d6,#4332c8,#4331c6,#6859ce 59.5px)"></i><i style="background:linear-gradient(#4538d7 .5px,#4536d5 9.5px,#412dbb 11.5px,#412cba 18.5px,#412dbb,#422fc2 20.5px,#4330c5 23.5px,#463cdf 25.5px,#463de0,#4538d8,#4538d7 34.5px,#4434d0,#422fc0 36.5px,#422ebf 39.5px,#422fc1,#4536d3,#463cde,#463ddf 43.5px,#463bdc 46.5px,#4536d4,#422fc2,#4330c5,#4741e6,#4744e8,#4742e6,#4433cb,#43c,#463ee1,#463cde,#43c,#4332c9,#6859d0 59.5px)"></i><i style="background:linear-gradient(#4538d7 .5px,#4539d9 8.5px,#4538d7 9.5px,#422ebf 11.5px,#412dbd 18.5px,#4330c5 23.5px,#4741e4 25.5px,#484aee 33.5px,#4849ed,#473fe3,#4230c4,#422ebf 37.5px,#4331c8 40.5px,#463adb,#4741e5 42.5px,#484cef 45.5px,#484cef,#4741e5,#4331c7,#4331c8,#4743e7,#4745e9,#4743e7,#4435d1,#4536d4,#4744e8,#4741e5,#4536d3,#4434cf,#695bd4 59.5px)"></i><i style="background:linear-gradient(#4536d3 .5px,#4537d6 9.5px,#412dbd 11.5px,#412dbc 12.5px,#412ebd 22.5px,#422ebf 23.5px,#473fe2 25.5px,#4849ed 33.5px,#4848ec,#473ee2,#422fc2,#412ebe 37.5px,#422fc2 40.5px,#4536d4,#463cde 42.5px,#463ee1 45.5px,#463de0,#4538d8,#4230c4,#4331c6,#473fe2,#4741e5,#4740e3,#4435d1,#4435d1,#463bde 55.5px,#4538d7 58.5px,#6a5dda 59.5px)"></i><i style="background:linear-gradient(#4435d2 .5px,#4536d3 4.5px,#463bdc,#463bdd 8.5px,#463adb 9.5px,#412ebd 11.5px,#422fc2 18.5px,#412dbc 22.5px,#422ebe 23.5px,#463ee1 25.5px,#4740e4 29.5px,#4747ec 30.5px,#4849ed,#4848ec 34.5px,#473ee2,#422fc2,#412ebd 37.5px,#422fc0 40.5px,#4639d9 42.5px,#463adb 43.5px,#4848ec 45.5px,#4848ec,#473fe2,#4230c4,#4330c5,#4742e6,#4744e9,#4742e6,#4435d1,#4434ce,#4639d9 55.5px,#4536d3 58.5px,#695cd7 59.5px)"></i><i style="background:linear-gradient(#4538d8 .5px,#4539d9 4.5px,#4741e4,#4741e5 8.5px,#473fe3 9.5px,#4230c3 11.5px,#422ebe 22.5px,#422fc0 23.5px,#463de0 25.5px,#4740e4 29.5px,#484bef 30.5px,#484ef1 33.5px,#484df0,#4742e6,#4230c4,#422ebe 37.5px,#4230c4 40.5px,#463adb,#4743e7 42.5px,#4848ec 45.5px,#4747eb,#473fe2,#4331c7,#4331c7,#463cdf 50.5px,#463de0 52.5px,#4435d1,#4537d6,#4742e6,#4740e3,#4536d3,#4434cf,#695bd4 59.5px)"></i><i style="background:linear-gradient(#4639da .5px,#463adb 4.5px,#4744e8,#4744e8 8.5px,#4743e7 9.5px,#4330c5 11.5px,#412ebe 22.5px,#422ebf 23.5px,#4537d6 25.5px,#463adb 29.5px,#484ff2,#4855f6 31.5px,#4755f6 33.5px,#4854f5,#4746eb,#4331c6,#422fc0 37.5px,#4331c6 40.5px,#463ada,#4741e5,#4742e6 43.5px,#463adb 46.5px,#4537d5,#4331c6,#4331c7,#4537d6,#4538d7,#4537d6,#4434ce,#4536d4,#4741e5,#473fe3,#4536d5,#4435d1,#695cd6 59.5px)"></i><i style="background:linear-gradient(#463cde .5px,#4639d9 9.5px,#412ebe 11.5px,#412dbd 12.5px,#412dbb 23.5px,#4433cd 25.5px,#4434cf 29.5px,#4537d6 30.5px,#4538d7,#4538d7 34.5px,#4434cf,#422ec0,#412ebe 37.5px,#4330c5 40.5px,#463bdd 42.5px,#463cde 43.5px,#4639da 46.5px,#4535d2,#422fc0,#422fc0,#4536d3 50.5px,#4536d4 52.5px,#4332ca,#4435d0,#473fe2 55.5px,#4538d8 58.5px,#6a5dda 59.5px)"></i><i style="background:linear-gradient(#473fe2 .5px,#473fe2 9.5px,#412dbd 11.5px,#412dbb 12.5px,#412dbc 23.5px,#4434ce 25.5px,#4536d3 31.5px,#4536d2 34.5px,#4433cb,#412ebd,#412dbc 37.5px,#4330c5 40.5px,#4537d5,#463cdf 42.5px,#4744e8 44.5px,#4850f2,#4850f3,#4744e8,#4330c5,#422fc2,#4639d9,#463bdc,#463ada,#4433cd,#4537d5,#4747eb,#4745e9,#463adc,#4539d9,#6a5edb 59.5px)"></i><i style="background:linear-gradient(#463cde .5px,#463cdf 4.5px,#4747eb 6.5px,#4746ea 9.5px,#4536d3,#412dbc,#412cb9 12.5px,#412dbc 23.5px,#4434ce 25.5px,#4435d2 29.5px,#463de0 30.5px,#4740e3,#473fe2 34.5px,#4538d8,#412ebe,#412cbb 37.5px,#422fc1 40.5px,#4536d2,#463bdd 42.5px,#4741e4 44.5px,#4849ed,#4849ed,#473fe2,#4230c4,#4230c3,#463bde,#463de0,#463cde,#4332ca,#4434cd,#473ee2,#463de0,#4435d1,#4434ce,#695bd3 59.5px)"></i><i style="background:linear-gradient(#463adc .5px,#4639d9 9.5px,#412cba 11.5px,#412cb8 12.5px,#422ebe 16.5px,#412dbb 23.5px,#4434ce 25.5px,#4434cf 28.5px,#4536d4,#4848ec,#484df0 31.5px,#484cef 34.5px,#4740e4,#422fc0,#412dbb 37.5px,#422fc1 40.5px,#463ada,#4743e7 42.5px,#4740e3 44.5px,#4538d8 45.5px,#4434cf 47.5px,#422fc0,#422fc2,#463ada,#463bdd,#463adb,#4332c9,#4332cb,#463adb,#4639da,#4435d0,#4434ce,#695bd3 59.5px)"></i><i style="background:linear-gradient(#4537d6 .5px,#4434cf 9.5px,#412cb9 11.5px,#412cba 22.5px,#412dbb 23.5px,#4434ce 25.5px,#4536d3 29.5px,#4743e8 30.5px,#4747eb 33.5px,#4746ea,#463ddf,#422ebf,#412cbb 37.5px,#422ec0 40.5px,#4537d6,#473fe3,#4740e3,#463cde,#4435d1 45.5px,#4332ca 47.5px,#422fc1,#422fc2,#4433cd,#4434ce,#4433cd,#4230c3,#4331c8,#4639d9 55.5px,#4434ce 58.5px,#695bd3 59.5px)"></i><i style="background:linear-gradient(#4435d1 .5px,#4537d5 8.5px,#4536d3 9.5px,#412dbb 11.5px,#412cba 22.5px,#412dbc 23.5px,#4538d8 25.5px,#463adb 29.5px,#4743e7 30.5px,#4745e9 33.5px,#4744e8,#463bde,#422ebf,#412dbb 37.5px,#4230c3 40.5px,#4536d4,#463cdf 42.5px,#463adb 44.5px,#4435d1 45.5px,#4433cb 47.5px,#422fc2,#4230c3,#4434ce,#4434cf,#4434ce,#4230c4,#4331c8,#4538d8,#4537d6,#4332ca,#4331c8,#6859cf 59.5px)"></i><i style="background:linear-gradient(#4434ce .5px,#4434cf 4.5px,#4539d9,#4639d9 8.5px,#4538d8 9.5px,#422fc1 11.5px,#412cba 16.5px,#412cba 22.5px,#412dbc 23.5px,#463ee1 25.5px,#473fe3 28.5px,#473ee2,#4538d7,#4536d4 31.5px,#4536d3 34.5px,#43c,#412dbd,#412dbb 37.5px,#422fc3 40.5px,#4538d8,#4537d5 44.5px,#4332c9 47.5px,#422fc1,#4230c3,#4639da,#463bdd,#463ada,#4331c7,#4332c9,#4538d8,#4537d6,#4332c9,#4331c7,#6859ce 59.5px)"></i><i style="background:linear-gradient(#4535d2 .5px,#4536d3 4.5px,#463ee1,#463ee1 8.5px,#463ddf 9.5px,#422fc1 11.5px,#412dbb 19.5px,#422ec0 23.5px,#473fe2 25.5px,#4740e4,#4538d8,#4538d7 34.5px,#4435d0,#422fc1,#422ec0 37.5px,#4330c5 40.5px,#4435d2 42.5px,#463ada 45.5px,#463ada,#4536d3,#4230c4,#4331c7,#4740e3,#4742e6,#4740e3,#4332ca,#4332c9,#4639d9 55.5px,#4434ce 58.5px,#695bd3 59.5px)"></i><i style="background:linear-gradient(#463ada .5px,#463adb 9.5px,#412ebe 11.5px,#412dbc 12.5px,#422fc0 16.5px,#422ebe 22.5px,#422fc0 23.5px,#473ee1 25.5px,#4741e5 29.5px,#484df1 30.5px,#4850f3 33.5px,#484ff2,#4743e8,#4330c5,#422ec0 37.5px,#4330c5 40.5px,#4536d3 42.5px,#4537d5,#473fe2,#484ff2,#4850f2,#4744e8,#4331c5,#4331c7,#4747eb,#484bee,#4848ec,#4433cd,#4331c8,#4537d5 55.5px,#4332cb 58.5px,#685ad1 59.5px)"></i><i style="background:linear-gradient(#4539d9 .5px,#4535d2 9.5px,#412cb9 11.5px,#412cb9,#422fc0 17.5px,#412cba 22.5px,#412dbc 23.5px,#463cde 25.5px,#4740e4 29.5px,#4755f6,#475af9 31.5px,#475af9 33.5px,#4759f8,#484aee,#4331c7,#422fc0 37.5px,#422fc0 40.5px,#4538d7 42.5px,#4539d9 43.5px,#4744e8 45.5px,#4744e8,#463cde,#4230c3,#4332c9,#4854f5,#4759f8,#4755f6,#4435d0,#4331c6,#4536d5,#4536d3,#4331c8,#4331c6,#6858cd 59.5px)"></i><i style="background:linear-gradient(#4538d8 .5px,#4539d9 4.5px,#473fe3,#4740e3 8.5px,#463ee1 9.5px,#412cbb 11.5px,#412cba 22.5px,#412dbb 23.5px,#4435d1 25.5px,#4536d2 28.5px,#4538d7,#484ef1,#4853f5 31.5px,#4853f5 33.5px,#4852f4,#4746ea,#4331c6,#422fc0 37.5px,#422ec0 40.5px,#4537d5,#473ee1,#473fe2 43.5px,#4639da 46.5px,#4435d2,#422fc1,#4331c7,#484df0,#4851f3,#484df1,#4434cf,#4332ca,#463bdd,#4639da,#4332c9,#4331c6,#6859ce 59.5px)"></i><i style="background:linear-gradient(#4434cf .5px,#4536d3 4.5px,#4743e7,#484aee 6.5px,#484bef 8.5px,#4849ed,#4538d7,#412ebe,#412dbb 12.5px,#412dbb 23.5px,#43c 25.5px,#4434cf 29.5px,#4639d9 30.5px,#463bdc,#463adb 34.5px,#4536d4,#4330c5 36.5px,#412dbc 39.5px,#422ebf,#4538d8,#4741e5,#4742e6 43.5px,#4639d9 46.5px,#4435d1,#422ebf,#422fc2,#4740e4,#4743e7,#4740e4,#4332ca,#43c,#463ddf,#463adc,#4332c9,#4331c6,#6859ce 59.5px)"></i><i style="background:linear-gradient(#4537d6 .5px,#4538d8 4.5px,#4741e5,#4742e6 8.5px,#4740e4 9.5px,#422fc0 11.5px,#422ebe 12.5px,#422ebf 23.5px,#4434cf 25.5px,#4435d0 33.5px,#43c 35.5px,#4230c3 36.5px,#412dbc 39.5px,#422ebf,#4536d2,#463cde 42.5px,#4745e9 45.5px,#4744e8,#463cde,#422fc2,#4230c4,#4744e8,#4848ec,#4745e9,#4435d0,#4435d0,#473fe3,#463de0,#4434ce,#4332ca,#685ad0 59.5px)"></i><i style="background:linear-gradient(#4435d1 .5px,#4537d5 8.5px,#4536d4 9.5px,#412dbd 11.5px,#412ebd 19.5px,#422fc0 23.5px,#4639d9 25.5px,#463adb,#4536d2,#4435d2 34.5px,#4230c3 36.5px,#412ebd 39.5px,#422ebf 40.5px,#4537d5 42.5px,#4538d7 43.5px,#4744e8 45.5px,#4744e8,#463cdf,#4230c4,#4331c7,#4848ec,#484cef,#4849ed,#4435d2,#4435d1,#4741e4,#463ee1,#43c,#4332c8,#6859cf 59.5px)"></i><i style="background:linear-gradient(#4435d1 .5px,#4535d2 9.5px,#422ebe 11.5px,#412ebd 12.5px,#422ebe 22.5px,#422fc1 23.5px,#4743e7 25.5px,#4745e9 28.5px,#4744e8,#463cdf,#463bdc 31.5px,#463adb 34.5px,#4536d4,#4330c5 36.5px,#422ebf 39.5px,#422fc1,#4537d5,#463de0,#463ee1 43.5px,#463de0 46.5px,#4538d8,#4330c5,#4331c6,#463ee0 50.5px,#463ee1 52.5px,#4434ce,#4435d1,#473fe3,#463de0,#4433cd,#4332c9,#6859d0 59.5px)"></i><i style="background:linear-gradient(#4435d2 .5px,#4537d6 8.5px,#4536d5 9.5px,#412ebe 11.5px,#412ebd 22.5px,#422ec0 23.5px,#4745e9 25.5px,#4745e9 33.5px,#4744e8,#463de0,#4332c9 36.5px,#422ebf 39.5px,#422fc2,#463adb,#4743e7 42.5px,#4746ea 45.5px,#4746ea,#463de0,#4230c4,#422fc2,#4536d3,#4536d5,#4536d3,#4332cb,#4435d0,#463ee1,#463cde,#4434cf,#43c,#685ad2 59.5px)"></i><i style="background:linear-gradient(#4537d5 .5px,#4537d6 4.5px,#463de0,#463de0 8.5px,#463cde 9.5px,#412dbd 11.5px,#412ebe 22.5px,#422ec0 23.5px,#473ee2 25.5px,#4742e6 33.5px,#4742e6,#463cde,#4332ca 36.5px,#4230c3 39.5px,#4331c6,#463bdd,#4744e8,#4745e9 43.5px,#4536d3 47.5px,#4230c3,#4230c4,#4538d8,#463adb,#4539d9,#4332c8,#4433cb,#463bdc 55.5px,#4537d5 58.5px,#695dd8 59.5px)"></i><i style="background:linear-gradient(#4539d9 .5px,#463ada 4.5px,#4742e6,#4742e6 8.5px,#4741e4 9.5px,#422fc1 11.5px,#4230c3 18.5px,#412ebe 22.5px,#422fc1,#4538d8,#4849ed 25.5px,#484bef 28.5px,#4849ed,#463de0,#463adb 31.5px,#463ada 34.5px,#4537d5,#4332c8 36.5px,#4331c6 40.5px,#4538d7,#463ee1,#473fe2 43.5px,#463bdd 46.5px,#4537d6,#4331c5,#4332c9,#4743e7,#4746ea,#4743e8,#4433cd,#43c,#463cde,#463bdd,#4536d5,#4536d2,#695cd6 59.5px)"></i><i style="background:linear-gradient(#4434ce .5px,#4435d1 4.5px,#4740e3,#4746ea 6.5px,#4747eb 8.5px,#4745e9 9.5px,#422fc1 11.5px,#422fc0 18.5px,#412cbb 22.5px,#412dbd,#4536d5,#4746ea 25.5px,#4848ec 28.5px,#4747eb,#463bdd,#4539d9 31.5px,#4538d8 34.5px,#4435d0,#422ebf,#412dbd 37.5px,#422fc0 40.5px,#4536d3 42.5px,#4537d5 43.5px,#4747eb 45.5px,#4747eb,#473ee2,#4331c7,#4332c8,#4745e9,#4848ec,#4745e9,#4332ca,#4331c8,#4639da,#4538d8,#4433cb,#4332c9,#6859cf 59.5px)"></i><i style="background:linear-gradient(#43c .5px,#4434cf 4.5px,#473ee2,#4745e9 6.5px,#4745e9 8.5px,#4743e8 9.5px,#422ebe 11.5px,#412dbd 22.5px,#422ebf 23.5px,#4741e4 25.5px,#4742e6 28.5px,#463de0 30.5px,#463bdd 34.5px,#4536d3,#412dbd 36.5px,#412dbc 39.5px,#412ebe,#4434cf,#463ada,#463bdd,#4742e6,#4850f2,#4850f3,#4744e8,#4330c4,#422fc1,#4536d5,#4538d7,#4537d5,#4230c4,#4330c5,#4535d2 55.5px,#4332ca 58.5px,#685ad0 59.5px)"></i><i style="background:linear-gradient(#4435d0 .5px,#4535d2 4.5px,#463ddf,#4741e5 6.5px,#4741e5 8.5px,#4740e3 9.5px,#412dbd 11.5px,#412dbb 22.5px,#412dbd 23.5px,#4740e4 25.5px,#4742e6 29.5px,#463ee0 30.5px,#463cde 34.5px,#4536d4,#412ebd,#412cba 37.5px,#412ebe 40.5px,#4537d6 42.5px,#4538d8 43.5px,#4742e6 45.5px,#4742e6,#463bdd,#4230c3,#4230c4,#473fe3,#4742e6,#4740e3,#43c,#4434ce,#463ee1,#463cde,#4434cf,#43c,#685ad2 59.5px)"></i><i style="background:linear-gradient(#473ee2 .5px,#463de0 9.5px,#412ebe 11.5px,#412dbc 12.5px,#412dbb 19.5px,#422fc0 23.5px,#4538d7,#4747eb,#4849ed 26.5px,#4848ec 29.5px,#473fe2 31.5px,#463ee1 34.5px,#4538d7,#422fc0,#412ebe 37.5px,#4230c4 40.5px,#4639d9 42.5px,#463adb 43.5px,#4848ec 45.5px,#4848ec,#473fe2,#4330c5,#4331c6,#4742e6 50.5px,#4742e7 52.5px,#4435d1,#4538d7,#4849ed,#4745e9,#4435d1,#43c,#685ad2 59.5px)"></i><i style="background:linear-gradient(#463adc .5px,#463cde 9.5px,#412dbc 11.5px,#412cbb 14.5px,#4230c3 23.5px,#473ee2 25.5px,#4740e3 33.5px,#473fe3,#4639da,#4230c4,#422fc1 37.5px,#4330c5 40.5px,#4537d6 42.5px,#4538d8,#4741e5,#4853f5,#4854f5,#4747eb,#4331c7,#4331c6,#4742e6,#4745e9,#4743e7,#4434cf,#4434ce,#463cde,#463adb,#4433cd,#4332ca,#685ad1 59.5px)"></i><i style="background:linear-gradient(#4435d1 .5px,#4536d3 4.5px,#463cde,#473fe3 6.5px,#4740e3 8.5px,#473ee1 9.5px,#412dbd 11.5px,#412dbb 19.5px,#422fc1 23.5px,#4537d6 25.5px,#4639d9 29.5px,#4742e6 30.5px,#4744e8 33.5px,#4743e7,#463cde,#4230c4 36.5px,#422ec0 39.5px,#422fc2 40.5px,#4639d9 42.5px,#463adc,#4743e7,#4853f4,#4853f5,#4747eb,#4331c7,#4330c5,#463cdf,#463ee1,#463cdf,#4432cb,#43c,#463bdd,#463ada,#4433cd,#4332ca,#685ad1 59.5px)"></i><i style="background:linear-gradient(#4434cf .5px,#4435d1 4.5px,#463ee1,#4743e7 6.5px,#4744e8 8.5px,#4742e6 9.5px,#422ebe 11.5px,#412cba 19.5px,#412ebe 23.5px,#4536d2 25.5px,#4537d6 29.5px,#4740e3 30.5px,#4742e6 33.5px,#4741e5,#463adb,#422fc2 36.5px,#412ebe 39.5px,#422ec0 40.5px,#4639da 42.5px,#463bdc,#4743e8,#4854f5,#4755f6,#4847ec,#4331c7,#4330c5,#473fe2,#4741e5,#473fe3,#4434cf,#4433cd,#4537d5 55.5px,#43c 58.5px,#685ad2 59.5px)"></i><i style="background:linear-gradient(#4435d2 .5px,#4536d3 4.5px,#463cde,#473fe3 6.5px,#4740e3 8.5px,#473ee1 9.5px,#412dbc 11.5px,#412cb9 19.5px,#412dbc 23.5px,#4435d0 25.5px,#4536d3 29.5px,#463cde 30.5px,#463de0 33.5px,#463ddf,#4537d6,#422ebf 36.5px,#412dbd 39.5px,#422fc1,#4639da,#4743e7 42.5px,#4849ed 44.5px,#4852f4,#4852f4,#4745e9,#4330c5,#4330c5,#4745e9,#4848ec,#4745e9,#4435d0,#4434cf,#463cdf,#463bdc,#4434cf,#43c,#695ad2 59.5px)"></i><i style="background:linear-gradient(#463bdd .5px,#463bde 9.5px,#412dbd 11.5px,#412cb9 16.5px,#412dbc 23.5px,#4538d7 25.5px,#4539d8 34.5px,#4435d0,#412ebe,#412dbc 37.5px,#422fc2 40.5px,#463de0,#4849ed 42.5px,#484bef 45.5px,#484aee,#4740e4,#4230c3,#4230c4,#4743e7,#4746ea,#4743e7,#43c,#4435d1,#4746ea,#4742e7,#4434ce,#4332c9,#6859d0 59.5px)"></i><i style="background:linear-gradient(#4435d2 .5px,#4536d3 4.5px,#463cde,#473fe3 6.5px,#4740e3 8.5px,#473ee1 9.5px,#412cba 11.5px,#412cba 19.5px,#412ebe 23.5px,#4538d7 25.5px,#463bdd 33.5px,#463adc,#4536d3,#412ebe 36.5px,#412dbc 39.5px,#422ebf,#4538d8,#4741e5 42.5px,#484aee 45.5px,#484aee,#4740e3,#4230c3,#4230c4,#4742e6,#4745e9,#4742e6,#4332ca,#4433cd,#4742e6,#473fe3,#4434cf,#4433cb,#685ad1 59.5px)"></i><i style="background:linear-gradient(#4538d7 .5px,#4538d8 4.5px,#463cdf 6.5px,#463bdd 9.5px,#412cba,#402bb8 13.5px,#422ec0 23.5px,#4639d9 25.5px,#463adb,#4535d2,#4435d1 34.5px,#4332cb,#412ebd 36.5px,#412dbc 39.5px,#412ebe 40.5px,#4536d3 42.5px,#4537d5,#463de0,#484aee,#484bef,#4741e5,#4331c7,#4330c5,#463adb,#463cde,#463adc,#4331c7,#4331c6,#4536d3 55.5px,#4331c7 58.5px,#6859ce 59.5px)"></i><i style="background:linear-gradient(#463adb .5px,#4538d8 9.5px,#412dbb,#412cba 13.5px,#422ec0 23.5px,#463ada 25.5px,#463adb 29.5px,#4537d7 30.5px,#4536d5 34.5px,#4433cd,#422ebf,#412dbd 37.5px,#422fc0 40.5px,#4536d3 42.5px,#4537d5,#463ddf,#4849ed,#484aee,#4741e4,#4331c8,#4330c5,#4537d5,#4538d7,#4537d5,#4331c6,#4331c7,#4535d2 55.5px,#4332ca 58.5px,#685ad1 59.5px)"></i><i style="background:linear-gradient(#4434cf .5px,#4434ce 9.5px,#412cb9 11.5px,#402bb8 14.5px,#412ebe 23.5px,#4435d2 25.5px,#4538d8 33.5px,#4538d7,#4434cf,#412ebd 36.5px,#412dbb 39.5px,#412dbd 40.5px,#4434d0 42.5px,#4435d2 43.5px,#4745e9 45.5px,#4745ea,#463ddf,#422fc2,#422ec0,#4433cd,#4434cf,#4434cd,#422fc2,#4230c4,#4434cf 55.5px,#4433cb 58.5px,#685ad1 59.5px)"></i><i style="background:linear-gradient(#4537d7 .5px,#4537d6 4.5px,#4433cd 6.5px,#43c 9.5px,#412cb9 11.5px,#402bb8 12.5px,#412dbb 23.5px,#4538d8 25.5px,#463de0 31.5px,#463cdf 34.5px,#4536d4,#412dbd,#412cba 37.5px,#412dbd 40.5px,#4434cf,#4639da,#463adb 43.5px,#4535d2 46.5px,#422fc0 48.5px,#422fc0,#4433cd,#4434ce,#4433cd,#4230c4,#4331c7,#4537d5 55.5px,#4332c9 58.5px,#6859d0 59.5px)"></i><i style="background:linear-gradient(#473fe2 .5px,#463ee1 4.5px,#4435d0 6.5px,#4434ce 9.5px,#412cb9 11.5px,#412cb8 12.5px,#412dbb 23.5px,#4536d4 25.5px,#4538d8 29.5px,#4742e6,#4744e8 31.5px,#4743e7 34.5px,#463bdc,#422ebf,#412cbb 37.5px,#422ebf 40.5px,#4536d2,#463cde,#463cdf 43.5px,#4537d6 46.5px,#4434ce,#422ec0,#422fc1,#463adb,#463bde,#463adb,#4331c8,#4332c8,#4537d6 55.5px,#4433cb 58.5px,#685ad1 59.5px)"></i><i style="background:linear-gradient(#463de0 .5px,#463cdf 4.5px,#4435d0 6.5px,#4434cf 9.5px,#412dbb 11.5px,#412cba 12.5px,#412cb9 18.5px,#412dbd 23.5px,#4536d4 25.5px,#4537d6 29.5px,#463cde 30.5px,#463de0,#463ddf 34.5px,#4537d5,#412dbd 36.5px,#412dbc 39.5px,#422ebe,#4435d0,#463adc 42.5px,#4740e3 44.5px,#4848ec,#4848ec,#473ee2,#422fc1,#422fc1,#463ee1,#4740e4,#473ee2,#4332c9,#4331c7,#4537d7 55.5px,#43c 58.5px,#685ad1 59.5px)"></i><i style="background:linear-gradient(#4740e4 .5px,#463ddf 9.5px,#412dbd 11.5px,#412dbb 18.5px,#422fc0 23.5px,#4538d8 25.5px,#463adb 29.5px,#4742e6 30.5px,#4743e7 34.5px,#463adc,#422fc1,#412dbd 37.5px,#422fc2 40.5px,#4539d8,#4741e5 42.5px,#4745e9 44.5px,#484cf0,#484cef,#4741e4,#4330c5,#4230c3,#4538d8,#463ada,#4539d9,#4332ca,#4434ce,#463ddf 55.5px,#4536d2 58.5px,#695cd7 59.5px)"></i><i style="background:linear-gradient(#465efb .5px,#465efb 5.5px,#4563fd,#465ffb 9.5px,#4741e5,#4435d1,#4434cf 12.5px,#4435d0 22.5px,#4536d4,#4747eb,#4661fc 25.5px,#4367fd 29.5px,#3080fa,#2d88f6 31.5px,#2d88f6 33.5px,#2e85f8,#4562fc,#463adc,#4536d4 37.5px,#4537d6 39.5px,#463adc,#4756f7,#406cfe 42.5px,#3e6fff 44.5px,#317dfb,#327cfc,#465efb,#463cde,#463cdf,#465dfb,#4562fc,#465efb,#463de0,#473fe3,#4756f7,#4851f3,#4741e5,#473fe2,#6b63e5 59.5px)"></i><i style="background:linear-gradient(#317dfc .5px,#3579fd 5.5px,#2e85f8 6.5px,#2e87f7 8.5px,#3080fa,#484bef,#463de0 11.5px,#463cdf 22.5px,#473fe3,#475cfa,#2d8af4 25.5px,#2994ed 29.5px,#13b0d7,#01b9c7 31.5px,#01b9c6 33.5px,#05b6ce,#2e84f9,#4848ec,#4741e5 37.5px,#4741e5 39.5px,#4747eb,#3a74fe,#2895ec 42.5px,#2797eb 44.5px,#15afd9,#18aedb,#317efb,#4848ec,#484aed,#2d87f7,#2c8ff1,#2e87f7,#484aed,#484cf0,#3f6eff,#4562fc,#484bef,#4848ec,#6c6bef 59.5px)"></i><i style="background:linear-gradient(#2e83f9 .5px,#307ffb 5.5px,#2d8bf3 6.5px,#2d8df2 8.5px,#2e86f7,#484df1,#473fe2 11.5px,#463ee1 22.5px,#4741e5,#4660fc,#2b92ee,#2798ea 26.5px,#259ce7 29.5px,#03b7cb,#15bfb7 31.5px,#19bfb5 33.5px,#07bcc0,#2d89f5,#484aee,#4743e7 37.5px,#4743e7 39.5px,#4849ed,#337afd,#249de6 42.5px,#249ee6 44.5px,#03b7cc,#06b5cf,#2e85f8,#484aee,#484cf0,#2c8ff0,#2798ea,#2c8ff0,#484cf0,#484ef1,#3b72ff,#4564fd,#484df0,#484aee,#6c6cf0 59.5px)"></i><i style="background:linear-gradient(#2d8df2 .5px,#2d8cf3 4.5px,#2e85f8,#2a92ee 6.5px,#2994ed 8.5px,#2d8df2,#484ff2,#473fe2 11.5px,#463ee1 22.5px,#4742e6,#4466fd,#259de7,#22a2e4 26.5px,#1ea6e1 29.5px,#0fbebb,#2ec5a4 31.5px,#30c5a1 33.5px,#25c2ae,#2b90f0,#484bef,#4743e7 37.5px,#4743e7 39.5px,#484aee,#2f83f9,#1ca9df,#1aacdd,#1ea8e1,#0fbebb,#09bcbe,#2d8bf4,#484aee,#484df1,#269ae9,#22a2e4,#269ae9,#484ef1,#484ef1,#3b72ff,#4563fd,#484df0,#484aee,#6c6cef 59.5px)"></i><i style="background:linear-gradient(#2b91ef .5px,#2c8ff0 4.5px,#2d88f6,#2895ec 6.5px,#2797eb 8.5px,#2c8ff0,#4850f2,#473fe2 11.5px,#473ee2 22.5px,#4742e6,#4367fd,#249ee6,#21a4e3 26.5px,#1da8e0 29.5px,#17bfb6,#31c6a0 31.5px,#33c69e 33.5px,#29c3aa,#2a93ed,#484cef,#4743e7 37.5px,#4743e7 39.5px,#484aee,#2f82f9,#1ca9df,#1aacdd,#1da8e0,#0fbebb,#09bcbe,#2d8cf3,#484bee,#484df1,#269ae8,#21a3e4,#269ae9,#484ef1,#484ef1,#3b72ff,#4564fd,#484df0,#484aee,#6c6cef 59.5px)"></i><i style="background:linear-gradient(#21a3e4 .5px,#22a2e4 4.5px,#259ce7,#1da8e0 6.5px,#1ca9df 8.5px,#22a1e4,#4855f6,#4741e5 11.5px,#4741e5 17.5px,#4747eb 19.5px,#4747eb 22.5px,#484bef,#3d71ff,#22a2e4 25.5px,#19acdc 29.5px,#2dc4a5,#42ca8b 31.5px,#45cb88 33.5px,#36c799,#2797eb,#4850f3,#4848ec 37.5px,#4848ec 39.5px,#484ef1,#2f81fa,#21a3e4 42.5px,#1ea6e1 44.5px,#02bac3,#01b9c7,#2d89f5,#484aee,#484df0,#2995ec,#259de7,#2995ec,#484df0,#4850f2,#3975fe,#4466fd,#484df0,#484aee,#6c6cef 59.5px)"></i><i style="background:linear-gradient(#34c79b .5px,#34c79b 3.5px,#32c69f,#19bfb5,#40ca8d,#49cb85,#49cb86,#30c5a1,#4561fc,#4849ed,#4848ec 12.5px,#4849ed 17.5px,#465ffb 19.5px,#4660fb 22.5px,#4464fd,#2c8ff1,#11beb9,#24c1af 26.5px,#24c1af 28.5px,#2fc5a3,#c5c22a,#f8ba3d,#fbbc3d,#fbbc3d,#e1bc2b,#1babde,#4660fb,#4757f7 37.5px,#4757f7 39.5px,#465efb,#2b92ee,#06b5cf,#01b7ca,#06b5cf,#3bc993,#36c898,#2699ea,#484cf0,#484ff2,#21a3e3,#19acdc,#21a3e3,#4850f3,#4759f8,#2f82f9,#3a74fe,#484ff2,#484aee,#6c6cef 59.5px)"></i><i style="background:linear-gradient(#2fc5a2 .5px,#2dc4a6 4.5px,#0fbeba,#39c895,#3fca8e,#3fca8e,#2cc4a7,#4562fc,#4746ea 11.5px,#4746ea 17.5px,#4756f7 19.5px,#4757f7 22.5px,#475cfa,#2d88f6,#07bcbf,#1bc0b4 26.5px,#1bc0b4 28.5px,#29c3a9,#b0c636,#e8bb2e 31.5px,#ecba32 33.5px,#cfc028,#1aabdd,#475bf9,#4851f4 37.5px,#4851f4 39.5px,#4758f8,#2c8ef1,#0bb3d2,#05b6ce,#0cb3d3,#37c898,#34c79c,#2797ea,#484cef,#484ff2,#20a4e3,#19addc,#20a4e3,#4850f3,#475af9,#2e85f8,#3777fe,#484ff2,#484aee,#6c6cf0 59.5px)"></i><i style="background:linear-gradient(#2d88f6 .5px,#2d87f6 4.5px,#2f83f9,#2c8ef1 6.5px,#2c90f0 8.5px,#2d89f5,#484ff1,#4740e3 11.5px,#4741e5 22.5px,#4744e8,#465efb,#2d8af5,#2c8ff1 26.5px,#2b91ef 29.5px,#21a3e4,#1babde 31.5px,#1aacdd 33.5px,#1ea7e1,#3777fe,#484aee,#4745e9 37.5px,#4745e9 39.5px,#484aed,#3e6fff,#2b90ef 42.5px,#2b92ee 44.5px,#16aeda,#18addb,#317dfb,#4849ed,#484df1,#2699ea,#22a1e4,#2698ea,#484ef1,#475af9,#2e85f8,#3777fe,#484ff2,#484aee,#6c6cef 59.5px)"></i><i style="background:linear-gradient(#347afd .5px,#3875fe 5.5px,#307ffb 6.5px,#3080fa 8.5px,#347afd,#484bef,#473fe2 11.5px,#463ee1 22.5px,#4740e4,#4758f8,#307ffb,#2e84f9 26.5px,#2e85f8 29.5px,#2895ec,#2896ec 33.5px,#2b92ef,#416bfe,#4747eb 36.5px,#4743e7 39.5px,#4848ec,#406cfe,#2d8cf3 42.5px,#2c90f0 44.5px,#19acdc,#1babde,#337bfc,#4849ed,#484ef1,#249fe5,#1da8e0,#249fe5,#4850f2,#475af9,#2e85f8,#3777fe,#484ff2,#484aee,#6c6cef 59.5px)"></i><i style="background:linear-gradient(#2d89f5 .5px,#2d88f6 4.5px,#2f80fa,#2d89f5,#2d8af4,#2d8af4,#2e84f9,#484ef1,#473fe2 11.5px,#463ee1 22.5px,#4741e5,#4561fc,#2d8df2,#2a92ee 26.5px,#2994ed 29.5px,#23a1e4,#1fa6e1 31.5px,#1ea7e1 33.5px,#22a2e4,#3a73fe,#484bef,#4746eb 37.5px,#4746eb 39.5px,#484df0,#3080fb,#22a1e4 42.5px,#19addc 44.5px,#2dc4a6,#2ac3a9,#2994ed,#484cef,#4755f6,#1fc0b2,#35c79a,#1fc0b2,#4757f7,#475af9,#2e85f8,#3777fe,#484ff2,#484aee,#6c6cf0 59.5px)"></i><i style="background:linear-gradient(#2699e9 .5px,#2798ea 4.5px,#2c8ef1,#2699e9,#259be8,#259be8,#2a93ed,#4851f3,#473fe2 11.5px,#463ee1 22.5px,#4742e6,#416cfe,#1fa5e2,#1aabdd 26.5px,#1aabdd 28.5px,#10b2d5,#5ecc74,#9ac946 31.5px,#9ec942 33.5px,#7bcc5d,#259ce7,#465ffb,#4758f8 37.5px,#4758f8 39.5px,#465ffb,#2896eb,#01b9c7,#05bbc1,#1ac0b5,#afc636,#a9c73a,#17aeda,#484ff2,#4756f7,#2ec5a4,#48cb87,#2ec5a4,#4758f8,#475bf9,#2e85f8,#3777fe,#484ff2,#484aee,#6c6cf0 59.5px)"></i><i style="background:linear-gradient(#24c2ae .5px,#24c2ae 3.5px,#1fc1b1,#02bac5,#2fc5a3 6.5px,#33c69e 8.5px,#1ec0b2,#4562fc,#4740e4 11.5px,#463ee1 22.5px,#4742e6,#416cfe,#1fa5e2,#1aabdd 26.5px,#1aabdd 28.5px,#0fb2d5,#6dcd68,#acc739 31.5px,#b0c636 33.5px,#8dcb50,#249fe5,#4561fc,#475af9,#475af9,#475af9,#4561fc,#2699ea,#06bcc0,#11beba,#23c1af,#c7c12a,#c2c32c,#12b1d7,#484ff2,#4756f7,#2ec5a4,#47cb87,#2ec5a4,#4758f8,#475bf9,#2e85f8,#3777fe,#484ff2,#484aee,#6c6cef 59.5px)"></i><i style="background:linear-gradient(#25c2ad .5px,#25c2ad 3.5px,#21c1b0,#04bbc2,#31c6a0 6.5px,#35c79b 8.5px,#21c1b0,#4563fc,#4740e4 11.5px,#463ee1 22.5px,#4742e6,#4464fd,#2b91ef 25.5px,#259be8 29.5px,#06bcc0,#22c1b0 31.5px,#23c1af 33.5px,#11beb9,#2d8df2,#4756f6,#4850f2 37.5px,#4850f2 39.5px,#4756f7,#2b91ef,#03b7cc,#01bac6,#0abdbd,#9dc943,#97ca47,#1baade,#484ef1,#4854f6,#1abfb5,#32c69e,#19bfb5,#4756f7,#4759f8,#2f82f9,#3a74fe,#484ff2,#484aee,#6c6cef 59.5px)"></i><i style="background:linear-gradient(#2994ed .5px,#2a93ee 5.5px,#269ae8 6.5px,#259be8 8.5px,#2994ed,#4852f4,#463ddf,#463bdd 12.5px,#463bdd 22.5px,#473ee1,#465ffb,#2c8ef1,#2a93ed 26.5px,#2797eb 29.5px,#13b0d7,#01b8c9 31.5px,#01b8c8 33.5px,#08b5d0,#2e83f9,#4848ec,#4741e5 37.5px,#4746ea 40.5px,#4269fe,#2d89f5 42.5px,#2d8df2 44.5px,#1babde,#1caadf,#347afd,#4746ea,#4848ec,#2d8cf3,#2994ed,#2d8cf3,#484aee,#484cf0,#406cfe,#4661fc,#484aee,#4747eb,#6c6aed 59.5px)"></i><i style="background:linear-gradient(#484df0 .5px,#484df1 4.5px,#4852f4 6.5px,#4850f3 9.5px,#463cde,#4330c5,#422fc2 12.5px,#422fc1 19.5px,#4331c6 23.5px,#4741e5,#475bf9 25.5px,#465ffb 29.5px,#4269fe 31.5px,#4367fd 34.5px,#4851f4,#4434cd,#4331c6 37.5px,#4434cf 40.5px,#4743e7,#484ff2 42.5px,#4854f5 44.5px,#465efb,#465efb,#484df0,#4434ce,#4536d4,#4562fc,#4369fe,#4563fc,#463adb,#4536d4,#4743e7 55.5px,#4538d8 58.5px,#6a5edc 59.5px)"></i><i style="background:linear-gradient(#4743e7 .5px,#4743e8 4.5px,#484bee 6.5px,#4849ed 9.5px,#4331c7 11.5px,#4230c4 12.5px,#4230c4 19.5px,#4332c9 23.5px,#463cde,#484cf0,#484ef1 26.5px,#484cef 34.5px,#4743e7,#4434cf,#43c 37.5px,#4435d2 40.5px,#4742e6,#484cef 42.5px,#484ff2 46.5px,#4746ea,#4536d3,#463adb,#416cfe,#3b73fe,#406cfe,#473fe2,#463bdd,#484cf0,#484aed,#463cdf,#463adb,#6a5edd 59.5px)"></i><i style="background:linear-gradient(#4747eb .5px,#484bee 9.5px,#4434ce 11.5px,#4332c9 18.5px,#4434ce 23.5px,#4849ed 25.5px,#484bef 29.5px,#4851f3 31.5px,#4850f2 34.5px,#4747eb,#4537d5,#4435d1 37.5px,#4538d8 40.5px,#4747eb,#4852f4 42.5px,#4853f5 45.5px,#4852f4,#4849ed,#4538d8,#463bdd,#4561fc,#4367fd,#4562fc,#4741e5,#473fe2,#484df1,#484cef,#4741e5,#473fe2,#6b61e2 59.5px)"></i><i style="background:linear-gradient(#4740e3 .5px,#4742e6 9.5px,#4332c9 11.5px,#4331c7 19.5px,#4432cb 23.5px,#4742e6 25.5px,#4745e9 29.5px,#4851f3 30.5px,#4854f5 33.5px,#4853f5,#4848ec,#4434cf,#4332ca 37.5px,#4434cf 40.5px,#4741e5,#484bef 42.5px,#4851f3 45.5px,#4850f3,#4746ea,#4435d0,#4434d0,#4743e7,#4745e9,#4744e8,#4639da,#463adb,#4743e7 55.5px,#473ee1 58.5px,#6b61e2 59.5px)"></i><i style="background:linear-gradient(#4743e7 .5px,#4849ed 8.5px,#4747eb 9.5px,#4433cb 11.5px,#4434ce 18.5px,#4332ca 22.5px,#43c 23.5px,#4744e8 25.5px,#4848ec 29.5px,#475af9,#465efb 31.5px,#475dfa 34.5px,#484ff2,#4435d2,#4433cb 37.5px,#4433cd 39.5px,#4435d1,#4744e8,#484ff2 42.5px,#475af9 44.5px,#4269fe,#4269fe,#4758f8,#4538d7,#4536d3,#4743e7,#4745ea,#4744e8,#4539d9,#463cde,#484bef 55.5px,#4740e4 58.5px,#6b62e4 59.5px)"></i><i style="background:linear-gradient(#473ee2 .5px,#473fe2 4.5px,#4744e8 6.5px,#4743e7 9.5px,#4331c8 11.5px,#4331c6 12.5px,#4332c9 17.5px,#4331c7 23.5px,#473fe3 25.5px,#4741e5 29.5px,#4848ec 31.5px,#4747eb 34.5px,#4740e3,#43c,#4332c9 37.5px,#4435d0 40.5px,#473fe3,#4848ec 42.5px,#484cf0 45.5px,#484bef,#4744e8,#4536d4,#4536d5,#4744e8,#4746ea,#4744e8,#4537d5,#4539d9,#4747eb,#4745ea,#463bdd,#4639da,#6a5edc 59.5px)"></i><i style="background:linear-gradient(#463ee1 .5px,#473fe2 4.5px,#4747eb 6.5px,#4745e9 9.5px,#4330c5 11.5px,#4230c3 12.5px,#4332c8 23.5px,#4744e8 25.5px,#4745ea 26.5px,#4744e8 34.5px,#463de0,#4332cb,#4331c8 37.5px,#4434ce 40.5px,#4740e3,#484aee,#484bee 43.5px,#4743e7 46.5px,#463ee1,#4536d4,#4537d6,#4849ed,#484bef,#4849ed,#4538d7,#4537d7,#4740e4 55.5px,#4537d7 58.5px,#6a5dd9 59.5px)"></i><i style="background:linear-gradient(#463cdf .5px,#463de0 4.5px,#4746ea 6.5px,#4745e9 9.5px,#4230c4 11.5px,#422fc2 12.5px,#422fc2 19.5px,#4331c8 23.5px,#4742e6 25.5px,#4745e9 29.5px,#484ef1,#4850f3 31.5px,#484ff2 34.5px,#4745e9,#43c,#4331c7 37.5px,#4434cf 40.5px,#4742e6,#484df0,#484ef1 43.5px,#4742e6 45.5px,#4741e4,#463cde,#4434cf,#4435d0,#463ee1,#473fe3,#463ee1,#4435d1,#4536d4,#4741e5,#4740e3,#4538d7,#4537d5,#695cd8 59.5px)"></i><i style="background:linear-gradient(#463bdc .5px,#463bdd 4.5px,#4741e4,#4741e5 8.5px,#473fe3 9.5px,#422fc2 11.5px,#412ebe 16.5px,#422fc0 22.5px,#422fc2 23.5px,#473fe2 25.5px,#4742e6 29.5px,#4852f4 30.5px,#4756f7 33.5px,#4755f6,#4848ec,#4332cb,#4330c5 37.5px,#43c 40.5px,#463ddf,#4745e9,#4746ea 43.5px,#4741e5 46.5px,#463bdd,#4332c8,#4331c8,#4539d9,#463adb,#4639da,#4433cd,#4536d3,#4742e6,#4740e4,#4537d5,#4435d2,#695cd6 59.5px)"></i><i style="background:linear-gradient(#4744e8 .5px,#4740e3 9.5px,#422fc2 11.5px,#422fc0 12.5px,#422ec0 22.5px,#422fc2 23.5px,#4745e9 25.5px,#4849ed 29.5px,#475bf9,#465ffb 31.5px,#465efb 34.5px,#484ef1,#4332c9,#422fc2 37.5px,#4331c7 40.5px,#463bdd,#4744e8 42.5px,#484aed 44.5px,#4852f4,#4852f4,#4747eb,#43c,#4332ca,#463adc,#463cde,#463bdc,#4434cf,#4435d1,#463bde 55.5px,#4536d4 58.5px,#695cd8 59.5px)"></i><i style="background:linear-gradient(#484aee .5px,#484aee 4.5px,#4742e6 9.5px,#4230c3 11.5px,#422fc1 12.5px,#4330c5 23.5px,#4747eb 25.5px,#484bee 29.5px,#4757f7,#475af9 31.5px,#4759f8 34.5px,#484aee,#4332c9,#422fc2 37.5px,#4331c7 40.5px,#463ada,#4741e5 42.5px,#4747eb 44.5px,#484ff2,#484ff2,#4746ea,#4435d1,#4435d0,#4740e3,#4742e6,#4740e3,#4434d0,#4435d0,#463cde 55.5px,#463adb 58.5px,#6a5fdd 59.5px)"></i><i style="background:linear-gradient(#4747eb .5px,#4746ea 9.5px,#422fc3 11.5px,#422fc0 12.5px,#4230c3 19.5px,#4332c9 20.5px,#43c 23.5px,#4849ed 25.5px,#484ef1 30.5px,#484df1 34.5px,#4743e7,#4332c9,#4330c5 37.5px,#4332cb 40.5px,#473ee1,#4744e8 44.5px,#484df0,#484df1,#4744e8,#4435d0,#4435d0,#4744e8,#4746ea,#4744e8,#4536d2,#4535d2,#463ee0 55.5px,#4639da 58.5px,#6a5edc 59.5px)"></i><i style="background:linear-gradient(#4743e7 .5px,#4742e6 9.5px,#4230c3 11.5px,#422ebf 16.5px,#422fc0 19.5px,#4332c9 20.5px,#43c 23.5px,#4747eb 25.5px,#4848ec 26.5px,#4744e8 34.5px,#463cdf,#4331c5,#422fc2 37.5px,#4331c7 40.5px,#463bde,#4741e5 44.5px,#484bee,#484bee,#4742e6,#4332cb,#43c,#4848ec,#484bef,#4848ec,#4536d4,#4435d1,#463bdd 55.5px,#4536d4 58.5px,#695cd8 59.5px)"></i><i style="background:linear-gradient(#4538d7 .5px,#4538d8 9.5px,#412dbc 11.5px,#412dbb 14.5px,#4230c4 23.5px,#463ddf 25.5px,#473ee2 33.5px,#463ee1,#4538d7,#422fc0,#412ebd 37.5px,#422fc1 40.5px,#4537d6 42.5px,#4538d8,#4740e3,#484ff1,#484ff2,#4744e8,#4331c7,#4331c8,#4746ea,#4849ed,#4746ea,#4434cf,#4332ca,#4536d5 55.5px,#4432cb 58.5px,#685ad1 59.5px)"></i><i style="background:linear-gradient(#4535d2 .5px,#4536d3 4.5px,#4639da,#463ada 8.5px,#4539d9 9.5px,#412dbb 11.5px,#412cb9 14.5px,#422ec0 23.5px,#4536d4 25.5px,#4539d9 33.5px,#4538d8,#4435d0,#422ebf 36.5px,#412dbd,#422ebf,#4537d5 42.5px,#4537d6 43.5px,#4742e6 45.5px,#4742e6,#463bdc,#4230c4,#4331c6,#4742e6,#4744e8,#4742e6,#43c,#4331c8,#4536d3 55.5px,#4332c9 58.5px,#6859cf 59.5px)"></i><i style="background:linear-gradient(#4538d7 .5px,#4538d8 4.5px,#4741e5 6.5px,#4740e3 9.5px,#412dbd,#412cba 13.5px,#422ebf 23.5px,#4538d7 25.5px,#4538d8 26.5px,#4538d8 34.5px,#4435d0,#422fc1 36.5px,#422ec0 39.5px,#422fc1 40.5px,#4537d6 42.5px,#463bdc 46.5px,#4536d4,#4230c3,#4331c7,#4747eb,#484aee,#4747eb,#4434cd,#4332cb,#463adb,#4539d9,#4433cd,#4332ca,#685ad0 59.5px)"></i><i style="background:linear-gradient(#4538d8 .5px,#4539d9 4.5px,#463de0,#463de0 8.5px,#463cde 9.5px,#412dbd 11.5px,#412dbb 21.5px,#412dbc,#4539d9 25.5px,#4538d7 34.5px,#4434cf,#412ebe,#412dbc 37.5px,#422fc2 40.5px,#4538d7 42.5px,#463de0 45.5px,#463ddf,#4537d6,#422fc2,#4330c5,#4745e9,#4848ec,#4745e9,#4433cb,#4332ca,#463bdd,#463ada,#4332cb,#4331c8,#6859cf 59.5px)"></i><i style="background:linear-gradient(#4536d5 .5px,#4537d5 4.5px,#463cde,#463cdf 8.5px,#463bdd 9.5px,#422ebe 11.5px,#412cba 16.5px,#412dbb 23.5px,#4536d3 25.5px,#4539d9 31.5px,#4538d8 34.5px,#4434d0,#412ebe,#412dbb 37.5px,#422fc1 40.5px,#4535d2,#463bdd 42.5px,#463cdf 45.5px,#463cde,#4537d6,#4230c4,#4230c4,#4537d5,#4538d7,#4537d5,#4230c4,#4332c8,#463adc,#4639d9,#4432cb,#4331c8,#6859cf 59.5px)"></i><i style="background:linear-gradient(#4537d6 .5px,#4538d8 9.5px,#412ebd 11.5px,#412cb9 16.5px,#412dbb 23.5px,#4536d3 25.5px,#4538d8 31.5px,#4538d7 34.5px,#4434cf,#422ebf 36.5px,#422ebf 39.5px,#422fc2 40.5px,#463ada 42.5px,#463ee1 45.5px,#463ee0,#4538d8,#4230c3,#422fc2,#4435d1,#4536d2,#4435d1,#4230c3,#4331c6,#4537d6 55.5px,#4332c9 58.5px,#6859d0 59.5px)"></i><i style="background:linear-gradient(#4537d5 .5px,#4435d1 9.5px,#412dbb 11.5px,#412cba 12.5px,#412dbb 23.5px,#4538d8 25.5px,#463bdd 31.5px,#463bdc 34.5px,#4536d4,#422fc2,#422fc0 37.5px,#4230c3 40.5px,#463adb 42.5px,#463de0 45.5px,#463ddf,#4537d6,#422fc0,#422fc1,#463bdc,#463ddf,#463bdd,#4332c9,#4331c8,#4435d2 55.5px,#4332ca 58.5px,#6859d0 59.5px)"></i><i style="background:linear-gradient(#4435d1 .5px,#4435d1 9.5px,#412cba 11.5px,#412cb9 12.5px,#412cba 22.5px,#412dbc 23.5px,#463bdc 25.5px,#4743e7 33.5px,#4742e7,#463bdd,#4230c3,#422ebf 37.5px,#4230c3 40.5px,#463adb 42.5px,#463cdf 45.5px,#463cde,#4537d5,#422fc0,#4230c3,#4740e3,#4742e6,#4740e4,#43c,#4332ca,#4538d8,#4537d6,#43c,#4332ca,#685ad0 59.5px)"></i><i style="background:linear-gradient(#4435d1 .5px,#4537d7 8.5px,#4537d5 9.5px,#412cba 11.5px,#412dbb 22.5px,#412dbd 23.5px,#463bdc 25.5px,#4743e7 33.5px,#4742e6,#463adc,#422fc1,#412dbd 37.5px,#4230c3 40.5px,#4639d9 42.5px,#463adc 45.5px,#463adb,#4536d3,#422fc1,#422fc3,#463de0,#473fe3,#463de0,#4332ca,#4332ca,#4639d9,#4538d7,#4332ca,#4331c8,#6859cf 59.5px)"></i><i style="background:linear-gradient(#4435d0 .5px,#4435d1 4.5px,#4538d8,#4538d8 8.5px,#4537d6 9.5px,#412cba 11.5px,#412cba 19.5px,#412ebd 23.5px,#4639d9 25.5px,#473fe2 33.5px,#473ee1,#4538d7,#422ebf,#412dbc 37.5px,#422fc1 40.5px,#4537d6 42.5px,#4538d8 45.5px,#4538d7,#4434d0,#422fc1,#4230c3,#463cde,#463ee0,#463cde,#4331c7,#4331c7,#4537d6 55.5px,#4331c8 58.5px,#6859cf 59.5px)"></i><i style="background:linear-gradient(#4435d2 .5px,#4537d6 9.5px,#412cba 11.5px,#412cb9 12.5px,#412ebd 23.5px,#4537d6 25.5px,#4538d8 26.5px,#4538d8 34.5px,#4434d0,#422ebf,#412dbd 37.5px,#422ebf 40.5px,#4639da 42.5px,#463adb 43.5px,#4538d8 46.5px,#4435d0,#422fc1,#4230c3,#463ada,#463bdd,#463adb,#4331c6,#4331c7,#4538d7,#4537d6,#43c,#4332ca,#685ad0 59.5px)"></i><i style="background:linear-gradient(#4536d4 .5px,#4435d1 9.5px,#412dbb 11.5px,#412cba 12.5px,#412dbd 23.5px,#4538d7 25.5px,#4539d9 26.5px,#4537d5 34.5px,#4434ce,#422ebf 36.5px,#412ebe 39.5px,#422fc1,#4537d5,#463ee1,#473fe2 43.5px,#463cde 46.5px,#4537d5,#422fc2,#422fc3,#463ada,#463bdd,#463ada,#4331c5,#4331c6,#4537d5 55.5px,#4433cb 58.5px,#685ad1 59.5px)"></i><i style="background:linear-gradient(#463adb .5px,#463ada 4.5px,#4536d2 9.5px,#412dbb 11.5px,#412cba 12.5px,#412dbc 23.5px,#4538d8 25.5px,#4639d9 26.5px,#4538d8 34.5px,#4434d0,#422ebe 36.5px,#422ebe 39.5px,#422fc1,#4536d4,#463ddf,#463ee1 43.5px,#463cde 46.5px,#4537d6,#4230c3,#4230c3,#4538d8,#463adb,#4539d9,#4331c6,#4331c7,#4537d6 55.5px,#4332ca 58.5px,#685ad0 59.5px)"></i><i style="background:linear-gradient(#463cde .5px,#4538d7 9.5px,#412dbc 11.5px,#412cba 12.5px,#412ebe 23.5px,#4538d8 25.5px,#463bdd 31.5px,#463bdd 34.5px,#4536d3,#422ebf,#412dbc 37.5px,#422fc0 40.5px,#4536d3,#463cde,#463cdf 43.5px,#463cde 46.5px,#4537d6,#422fc3,#4230c4,#463bdd,#463ddf,#463bdd,#4331c8,#4331c8,#4537d6 55.5px,#4332ca 58.5px,#685ad0 59.5px)"></i><i style="background:linear-gradient(#4538d8 .5px,#4538d8 9.5px,#412dbb 11.5px,#412cba 12.5px,#412ebe 23.5px,#4639da 25.5px,#463adb 26.5px,#463ada 34.5px,#4435d2,#422ebf,#412dbd 37.5px,#422ebf 40.5px,#463ada 42.5px,#463adb 43.5px,#4538d8 46.5px,#4435d0,#422fc0,#422fc2,#463bdd,#463de0,#463bde,#4331c7,#4331c6,#4536d3 55.5px,#4331c8 58.5px,#6859cf 59.5px)"></i><i style="background:linear-gradient(#4639da .5px,#4536d4 9.5px,#412cba 11.5px,#412cb9 12.5px,#412ebe 23.5px,#4538d8 25.5px,#463cde 31.5px,#463bdd 34.5px,#4536d4,#422ec0,#412dbd 37.5px,#422ebf 40.5px,#4539d9 42.5px,#4639da 43.5px,#4538d8 46.5px,#4435d0,#422fc0,#4230c3,#463ddf,#473fe2,#463de0,#4331c8,#4331c8,#4538d8,#4537d6,#43c,#4332ca,#6859d0 59.5px)"></i><i style="background:linear-gradient(#463adb .5px,#463ada 4.5px,#4536d3 9.5px,#412cba 11.5px,#412cb8 12.5px,#412dbc 23.5px,#4536d4 25.5px,#4538d7 29.5px,#463de0,#473fe2 31.5px,#463ee1 34.5px,#4538d7,#422ebf,#412dbb 37.5px,#412ebe 40.5px,#4536d3 42.5px,#4539d9 45.5px,#4539d8,#4435d1,#422fc0,#4230c3,#473fe2,#4741e5,#473fe2,#4332c8,#4331c6,#4536d3 55.5px,#4332c9 58.5px,#6859d0 59.5px)"></i><i style="background:linear-gradient(#463bdc .5px,#4537d5 9.5px,#412cba 11.5px,#412cb9 12.5px,#412dbc 23.5px,#4538d8 25.5px,#463de0 31.5px,#463cdf 34.5px,#4537d5,#422ebf,#412dbc 37.5px,#422ebf 40.5px,#4536d4 42.5px,#463ee0 45.5px,#463ee0,#4538d7,#422fc2,#4230c3,#463ee1,#4740e3,#463ee1,#4332ca,#4332c8,#4536d4 55.5px,#4332c8 58.5px,#6859cf 59.5px)"></i><i style="background:linear-gradient(#463adb .5px,#4538d7 9.5px,#412dbc 11.5px,#412cba 12.5px,#412dbd 23.5px,#4538d7 25.5px,#4539d9 26.5px,#4539d9 34.5px,#4435d0,#422ebf,#412dbd 37.5px,#422ebf 40.5px,#4539d9 42.5px,#463adb 45.5px,#463ada,#4536d2,#422fc1,#422fc3,#463ada,#463bdd,#463adb,#4332c9,#4332c9,#4537d5 55.5px,#4332c8 58.5px,#6859cf 59.5px)"></i><i style="background:linear-gradient(#4539d9 .5px,#4538d7 9.5px,#412dbc 11.5px,#412dbb 12.5px,#422ec0 23.5px,#4537d6 25.5px,#4538d8 26.5px,#4538d8 34.5px,#4435d0,#422ec0,#412ebe 37.5px,#422ec0 40.5px,#463adb 42.5px,#463adc 43.5px,#4639d9 46.5px,#4536d2,#4230c3,#4330c4,#4639da,#463bdd,#463ada,#4332c8,#4332ca,#4539d9,#4538d7,#43c,#4332ca,#685ad1 59.5px)"></i><i style="background:linear-gradient(#463ddf .5px,#463bdd 9.5px,#412ebe 11.5px,#412dbc 12.5px,#422ec0 23.5px,#4536d5 25.5px,#463ada 31.5px,#4639da 34.5px,#4535d2,#422fc1,#422ebf 37.5px,#422fc0 40.5px,#4539d9 42.5px,#463adb 45.5px,#463ada,#4536d4,#4330c5,#4331c6,#4539d9,#463adb,#4539d9,#4331c7,#4332ca,#463adb,#4639da,#4434ce,#43c,#685ad2 59.5px)"></i><i style="background:linear-gradient(#4740e3 .5px,#463de0 9.5px,#412dbd 11.5px,#412dbb 12.5px,#412ebe 23.5px,#4435d0 25.5px,#4536d2 29.5px,#4538d8 31.5px,#4538d7 34.5px,#4435d0,#422fc1,#422ebf 37.5px,#422fc0 40.5px,#4536d4 42.5px,#4537d6 46.5px,#4434cf,#422fc2,#4330c5,#4741e5,#4744e8,#4741e5,#4332ca,#4332c9,#463adb,#4539d8,#4432cb,#4332c8,#6859cf 59.5px)"></i><i style="background:linear-gradient(#463de0 .5px,#463cdf 9.5px,#412dbb 11.5px,#412cb9 12.5px,#422ebf 23.5px,#4435d1 25.5px,#4538d7 31.5px,#4537d6 34.5px,#4434cf,#422fc1,#422ebf 37.5px,#422fc0 40.5px,#4536d4 42.5px,#4537d6 46.5px,#4434cf,#422fc2,#4332c8,#484df1,#4851f4,#484ef1,#4535d2,#4434ce,#463de0,#463cde,#4434cf,#43c,#685ad2 59.5px)"></i><i style="background:linear-gradient(#463bdc .5px,#463bdd 4.5px,#473fe2 6.5px,#463ee1 9.5px,#412dbd 11.5px,#412cbb 12.5px,#422fc2 23.5px,#4537d5 25.5px,#4538d8 29.5px,#473fe2,#4740e4 31.5px,#4740e4 34.5px,#463adb,#422fc2,#422ebf 37.5px,#4230c4 40.5px,#463adb 42.5px,#473fe2 45.5px,#473fe2,#463adb,#4332ca,#4434ce,#484cef,#484ff2,#484cef,#4536d2,#4434cf,#463de0,#463cde,#4536d4,#4435d1,#695cd6 59.5px)"></i><i style="background:linear-gradient(#4743e7 .5px,#4740e4 9.5px,#422fc0 11.5px,#422ebe 12.5px,#4330c5 16.5px,#4330c5 23.5px,#463cdf 25.5px,#463de0 28.5px,#4741e5,#475bf9,#4561fc 31.5px,#4660fb 34.5px,#4852f4,#4433cb,#4230c3 37.5px,#4433cd 40.5px,#4743e8,#484ff1 42.5px,#4853f5 44.5px,#465efb,#465efb,#4851f3,#4435d2,#4535d2,#4851f3,#4755f6,#4852f4,#4639d9,#4535d2,#463cdf 55.5px,#463bdc 58.5px,#6a5fde 59.5px)"></i><i style="background:linear-gradient(#4849ed .5px,#4849ed 4.5px,#4742e6 6.5px,#4740e4 9.5px,#422fc2 11.5px,#422ec0 12.5px,#4331c7 23.5px,#4746eb 25.5px,#484cef 29.5px,#4465fd,#416cfe 31.5px,#416bfe 34.5px,#475bf9,#4435d1,#4331c8 37.5px,#4332c9 39.5px,#4434cf,#484aee,#4757f7 42.5px,#475cfa 44.5px,#406cfe,#406dfe,#475bfa,#4536d3,#4435d2,#4854f5,#4758f8,#4755f6,#463adc,#4536d4,#463ee1 55.5px,#463cde 58.5px,#6a60df 59.5px)"></i><i style="background:linear-gradient(#463ee1 .5px,#463bdc 9.5px,#412dbd 11.5px,#412dbc 18.5px,#422fc0 23.5px,#463de0 25.5px,#473fe3 29.5px,#4848ec 31.5px,#4747eb 34.5px,#4740e3,#4332ca 36.5px,#422fc2 39.5px,#4330c5,#4639da,#4741e4 42.5px,#4849ed 46.5px,#4740e4,#4331c6,#4331c7,#4747eb,#484aee,#4747eb,#4434cf,#4332ca,#4537d6 55.5px,#4434cf 58.5px,#695bd4 59.5px)"></i><i style="background:linear-gradient(#4639d9 .5px,#4537d5 9.5px,#422ebe 11.5px,#412cba 16.5px,#412ebe 23.5px,#463bdc 25.5px,#463cde 26.5px,#4538d8 34.5px,#4535d2,#4330c5 36.5px,#412ebe 39.5px,#422ebf 40.5px,#4536d4 42.5px,#463cdf 45.5px,#463cde,#4537d6,#422fc2,#4230c3,#463cdf,#473ee1,#463ddf,#4332ca,#4331c8,#4435d1 55.5px,#43c 58.5px,#695ad2 59.5px)"></i><i style="background:linear-gradient(#463bde .5px,#463bdd 4.5px,#4536d4 6.5px,#4536d3 9.5px,#422ec0 11.5px,#412cba 16.5px,#412dbd 23.5px,#463cdf 25.5px,#463ee0 26.5px,#463de0 34.5px,#4538d7,#4230c3 36.5px,#422ebf 39.5px,#422fc0 40.5px,#4535d2 42.5px,#4536d3 43.5px,#473fe2 45.5px,#473fe2,#4639da,#4330c4,#4331c6,#463de0,#473fe3,#463de0,#4332c8,#4331c6,#4435d1 55.5px,#4536d4 58.5px,#695cd8 59.5px)"></i><i style="background:linear-gradient(#4639da .5px,#463bdc 8.5px,#463adb 9.5px,#422fc2 11.5px,#422ebe 22.5px,#422fc0 23.5px,#463de0 25.5px,#473fe3 29.5px,#4747eb 30.5px,#4849ed 33.5px,#4848ec,#473fe3,#4331c7,#4230c3 37.5px,#4230c3 39.5px,#4330c5 40.5px,#4539d9 42.5px,#463ada 43.5px,#4848ec 45.5px,#4848ec,#4740e4,#43c,#4433cb,#463de0,#473fe2,#463de0,#43c,#4433cb,#4639da 55.5px,#4538d7 58.5px,#6a5dd9 59.5px)"></i><i style="background:linear-gradient(#463bdd .5px,#463cdf 9.5px,#422fc0 11.5px,#422ebf 12.5px,#422fc1 22.5px,#422fc2 23.5px,#463bde 25.5px,#463ee1 29.5px,#4848ec 30.5px,#484aee 33.5px,#4849ed,#4740e4,#4332ca 36.5px,#4230c3 39.5px,#4330c5 40.5px,#4639da 42.5px,#463bdc,#4743e7,#4853f4,#4853f5,#4848ec,#4435d0,#4434ce,#463cde,#463de0,#463cde,#4433cb,#4434cf,#4740e3,#473ee2,#4537d6,#4536d4,#695cd7 59.5px)"></i><i style="background:linear-gradient(#463ada .5px,#463adb 4.5px,#473fe3 6.5px,#473ee1 9.5px,#422ec0 11.5px,#412ebe 14.5px,#4230c4 23.5px,#4538d8 25.5px,#463ada 29.5px,#473ee1 30.5px,#473fe3 33.5px,#473fe2,#463adb,#4332c9 36.5px,#422fc1 39.5px,#422fc3 40.5px,#463adb,#4740e4 44.5px,#484aee,#484bee,#4742e6,#4434ce,#4433cd,#463de0,#473fe2,#463de0,#43c,#4536d2,#4746ea,#4743e7,#4536d3,#4434cf,#695bd4 59.5px)"></i><i style="background:linear-gradient(#463bdc .5px,#463bdd 4.5px,#473fe2 6.5px,#463ee1 9.5px,#422fc2 11.5px,#422fc0 12.5px,#4330c5 23.5px,#463bdc 25.5px,#473fe3 31.5px,#473fe2 34.5px,#463ada,#4331c8 36.5px,#422fc2 39.5px,#4230c4 40.5px,#463bdd 42.5px,#4744e8 45.5px,#4744e8,#463ee1,#4434ce,#4434ce,#463cde,#463de0,#463cde,#4434cf,#463adb,#4852f4,#484df0,#463adb,#4538d7,#6a5dda 59.5px)"></i><i style="background:linear-gradient(#473fe3 .5px,#463ddf 9.5px,#422ec0 11.5px,#412ebe 12.5px,#4230c4 23.5px,#463bdc 25.5px,#463ddf 29.5px,#4848ec,#484bee 31.5px,#484aee 34.5px,#4740e4,#4331c7,#422fc2 37.5px,#4230c4 40.5px,#4639da,#4742e6 42.5px,#4747eb 44.5px,#484ff2,#484ff2,#4745e9,#4433cd,#4434ce,#4849ed,#484cf0,#484aed,#4537d6,#4746ea,#3975fe,#4466fd,#4848ec,#4744e8,#6c68eb 59.5px)"></i><i style="background:linear-gradient(#484ff2 .5px,#484ff2 4.5px,#4757f7 7.5px,#4854f5 9.5px,#463ada,#4230c3 11.5px,#422fc1 16.5px,#4433cd 23.5px,#463de0,#484ef1 25.5px,#4853f4 29.5px,#4466fd,#406dfe 31.5px,#3f6dfe 33.5px,#426afe,#4850f3,#43c,#4230c4 37.5px,#4330c5 39.5px,#4434cf,#465dfa,#317efb,#2e83f9,#2c90f0,#0db3d4,#0db3d3,#2d8af5,#4639da,#463de0,#20a5e2,#15afd8,#1fa6e2,#484aee,#4848ec,#327bfc,#426afe,#484aee,#4746ea,#6c6aed 59.5px)"></i><i style="background:linear-gradient(#0ab4d2 .5px,#0ab4d2 3.5px,#0eb3d4,#1aacdd,#01b9c6,#03bbc3,#03bbc3,#0ab4d1,#4759f8,#463adc,#4538d8 12.5px,#4538d8 16.5px,#4639da 17.5px,#484aee 19.5px,#484bef 22.5px,#4850f2,#337bfd,#0eb2d4,#02b7cb 26.5px,#02b7cb 28.5px,#07bcc0,#94ca4a,#d3bf27 31.5px,#d8be28 33.5px,#bcc42f,#14b0d8,#484cf0,#473fe3 37.5px,#473fe3 39.5px,#4849ed,#2994ed,#0abdbe,#1ac0b4,#32c69e,#f7ba3c,#f4ba3a,#02bac5,#484ef1,#4851f3,#0abdbd,#2bc3a8,#0abdbd,#4854f5,#4850f2,#327cfc,#426afe,#484aee,#4746ea,#6c6aed 59.5px)"></i><i style="background:linear-gradient(#02b7ca .5px,#04b6cd 4.5px,#14b0d8,#07bcbf,#0ebdbb,#0dbdbb,#02b7cb,#475bfa,#463ddf 11.5px,#463adc 16.5px,#463cde,#4747eb,#484ff2 19.5px,#4850f3 22.5px,#4755f6,#2f82f9,#01b8c9,#08bcbf 26.5px,#08bcbe 28.5px,#1ec0b2,#b6c532,#eeba34,#f2ba37,#f2ba37,#dabd28,#06b5cf,#4850f3,#4743e7 37.5px,#4743e7 39.5px,#484df0,#259ce7,#27c2ac,#30c5a2,#48cb86,#fcd030,#fdcd32,#11beb9,#4852f4,#4854f5,#13beb8,#2fc5a2,#13beb8,#4755f6,#4851f3,#327cfc,#4269fe,#484aee,#4746ea,#6c6aed 59.5px)"></i><i style="background:linear-gradient(#347afd .5px,#3876fe 5.5px,#307ffb 6.5px,#3080fa 8.5px,#3479fd,#4849ed,#463bdd 11.5px,#463adc 16.5px,#463ee1 22.5px,#4742e6,#4464fd,#2c90f0 25.5px,#2698ea 29.5px,#0db3d3,#01b8c8 31.5px,#01b9c7 33.5px,#06b5cf,#2d88f6,#484aee,#4743e7 37.5px,#4743e7 39.5px,#484cf0,#2896eb,#0fbebb,#1ec0b2,#32c69f,#f3ba38,#efba35,#01b8c9,#4851f3,#4853f5,#01bac6,#1ec0b2,#01bac6,#4854f5,#4852f4,#327dfc,#426afe,#484aee,#4746ea,#6c6aed 59.5px)"></i><i style="background:linear-gradient(#3f6efe .5px,#406dfe 4.5px,#4368fe,#3d70ff 6.5px,#3c72ff 8.5px,#406cfe,#4745e9,#463bdd 11.5px,#463adc 22.5px,#463ee1,#465ffb,#2c8ef1,#2994ed 26.5px,#2995ec 29.5px,#22a2e4,#21a3e4 33.5px,#249ee6,#3a73fe,#4848ec,#4743e7 37.5px,#4743e7 39.5px,#4848ec,#3a73fe,#2895ec 42.5px,#2797eb 44.5px,#12b1d6,#14b0d8,#307ffb,#4849ed,#484cf0,#2c8ff0,#2798ea,#2c8ff0,#484df0,#4852f4,#317dfc,#416afe,#484bee,#4746ea,#6c6aed 59.5px)"></i><i style="background:linear-gradient(#3f6eff .5px,#3f6dfe 4.5px,#4367fd,#3d71ff 6.5px,#3b72ff 8.5px,#406dfe,#4745e9,#463bdd 11.5px,#463adc 22.5px,#463ee1,#465efb,#2c8ff1,#2994ed 26.5px,#2797eb 29.5px,#1aacdd,#0ab4d1 31.5px,#07b5d0 33.5px,#13b0d7,#2f80fa,#4849ed,#4743e7 37.5px,#4743e7 39.5px,#4849ed,#3776fe,#2797eb,#2699e9,#2895ec,#20a4e3,#22a2e4,#3776fe,#4848ec,#484bef,#2d8bf4,#2a93ee,#2d8bf4,#484cf0,#4852f4,#327dfc,#426afe,#484aee,#4746ea,#6c6aed 59.5px)"></i><i style="background:linear-gradient(#3f6eff .5px,#3f6dfe 4.5px,#4367fd,#3d71ff 6.5px,#3b72ff 8.5px,#406cfe,#4745e9,#463bdd 11.5px,#463adc 22.5px,#463de0,#475bf9,#2d88f6 25.5px,#2b91ef 29.5px,#17aeda,#03b7cb 31.5px,#01b8ca 33.5px,#0ab4d2,#2e83f9,#484aed,#4743e7 37.5px,#4743e7 39.5px,#484aee,#2f82fa,#1da9e0,#1babde,#21a3e4,#07b5cf,#0cb3d3,#2f82f9,#484aed,#484df1,#2699e9,#22a2e4,#2699e9,#484ef1,#4852f4,#327cfc,#4269fe,#484aee,#4746ea,#6c6aed 59.5px)"></i><i style="background:linear-gradient(#406dfe .5px,#406cfe 4.5px,#4367fd,#3e70ff 6.5px,#3c71ff 8.5px,#416cfe,#4745e9,#463bdd 11.5px,#463adc 22.5px,#463de0,#475af9,#2e87f7 25.5px,#2c90f0 29.5px,#18aedb,#03b7cc 31.5px,#01b8ca 33.5px,#0bb3d2,#2f81fa,#4849ed,#4743e7 37.5px,#4743e7 39.5px,#484aee,#2e84f8,#1aabdd,#18aedb,#20a5e3,#02b7cb,#06b5ce,#2e83f9,#484aed,#484ef1,#259ce7,#20a4e3,#259ce7,#484ef1,#4851f4,#327cfc,#4269fe,#484aee,#4746ea,#6c6aed 59.5px)"></i><i style="background:linear-gradient(#4368fe .5px,#4367fd 4.5px,#4562fc,#426afe 6.5px,#416cfe 8.5px,#4367fd,#4743e7,#463bdd 11.5px,#463adc 22.5px,#463de0,#475af9,#2e86f7 25.5px,#2c90f0 29.5px,#18addb,#03b7cc 31.5px,#01b8ca 33.5px,#0bb3d2,#2f81fa,#4849ed,#4743e7 37.5px,#4743e7 39.5px,#484aee,#2e84f8,#1aabdd,#18aedb,#20a5e2,#02b7cb,#06b5cf,#2e83f9,#484aed,#484ef1,#259ce7,#20a4e3,#259ce7,#484ef1,#4852f4,#327cfc,#426afe,#484aee,#4746ea,#6c6aed 59.5px)"></i><i style="background:linear-gradient(#4367fd .5px,#4466fd 4.5px,#4561fc,#4269fe 6.5px,#416bfe 8.5px,#4466fd,#4743e7,#463bdc 11.5px,#463adc 22.5px,#463de0,#4757f7,#2f80fa 25.5px,#2d89f5 29.5px,#1fa6e2,#14b0d8 31.5px,#12b1d7 33.5px,#1aacdd,#327cfc,#4849ed,#4743e7 37.5px,#4743e7 39.5px,#4849ed,#317efb,#21a3e4,#20a5e2,#249ee6,#13b1d7,#16aeda,#317efb,#4849ed,#484ef1,#259ce7,#20a4e3,#259be7,#484ef1,#4852f4,#317dfc,#416bfe,#484bee,#4746ea,#6c6aed 59.5px)"></i><i style="background:linear-gradient(#4367fd .5px,#4466fd 4.5px,#4561fc,#4269fe 6.5px,#416afe 8.5px,#4466fd,#4743e7,#463bdc 11.5px,#463adc 22.5px,#463cde 23.5px,#465dfa 25.5px,#4562fc 29.5px,#3975fe,#347afd 31.5px,#3677fe 34.5px,#465ffb,#4746ea,#4743e7 37.5px,#4746ea 40.5px,#475cfa,#426afe 42.5px,#3d71ff 44.5px,#327cfc,#337afd,#4660fc,#4746ea,#484df0,#2994ed,#259ce7,#2994ed,#484df0,#4851f3,#3579fd,#4269fe,#484aee,#4746ea,#6c6aed 59.5px)"></i><i style="background:linear-gradient(#4563fc .5px,#4562fc 4.5px,#465efb,#4465fd 6.5px,#4466fd 8.5px,#4561fc,#4742e6,#4539d9 11.5px,#4538d8 22.5px,#4639da,#4744e8,#4756f7 25.5px,#475af9 29.5px,#4464fd,#4368fd 31.5px,#4466fd 34.5px,#4756f7,#4742e6 36.5px,#473fe3 39.5px,#4741e5 40.5px,#4758f8,#475bf9 44.5px,#4367fd,#4466fd,#4854f5,#4742e6,#4744e8,#4465fd,#426afe,#4465fd,#4745e9,#4848ec,#4660fc,#4757f7,#4746ea,#4743e7,#6c67ea 59.5px)"></i><i style="background:linear-gradient(#484cf0 .5px,#4849ed 9.5px,#463adb,#422fc1,#422ebe 12.5px,#422fc1 22.5px,#4230c4,#463ee1,#4851f3 25.5px,#4755f6 29.5px,#4561fc,#4465fd 31.5px,#4464fd 34.5px,#4756f7,#4435d0,#4331c7 37.5px,#4330c5 39.5px,#4332ca,#4744e9,#4852f4 42.5px,#4853f5 44.5px,#4660fb,#4660fb,#4850f2,#4433cd,#4434cf,#4755f6,#475af9,#4756f7,#463adb,#4538d7,#4744e8,#4740e4,#4535d2,#4434ce,#695bd4 59.5px)"></i><i style="background:linear-gradient(#463ee1 .5px,#463ee1 4.5px,#4539d8 9.5px,#412cba 11.5px,#412cb9 19.5px,#412ebe 23.5px,#463adb 25.5px,#473ee1 29.5px,#4757f7,#465efb 31.5px,#465efb 33.5px,#475cfa,#484df0,#4331c6,#412ebe 37.5px,#412ebe 40.5px,#4434ce,#4539d8 42.5px,#463de0 44.5px,#4747eb,#4747eb,#463ee1,#422fc2,#422fc1,#463bdd,#463de0,#463cde,#4434ce,#4434cf,#463adb,#4538d8,#4332c8,#4331c6,#6859cd 59.5px)"></i><i style="background:linear-gradient(#463bdd .5px,#463adc 4.5px,#4536d4 6.5px,#4435d2 9.5px,#412cba 11.5px,#412dbc 22.5px,#412dbd 23.5px,#4536d3 25.5px,#4536d4 28.5px,#4639da,#4852f4,#4758f8 31.5px,#4759f8 33.5px,#4757f7,#4848ec,#4230c3,#412dbc 37.5px,#422ebf 40.5px,#4435d0,#463adb,#463bdd,#4742e6,#484ef1,#484ff2,#4743e7,#4230c4,#422fc2,#463bdd,#463ddf,#463cde,#4434ce,#4434cf,#463cde,#463ada,#4332ca,#4331c7,#6859cf 59.5px)"></i><i style="background:linear-gradient(#a29ded .5px,#a29ae8 9.5px,#a096dc 11.5px,#a096dd 22.5px,#a096de 23.5px,#a29ae8 25.5px,#a29beb 29.5px,#a3a5f7 30.5px,#a3a7f9 33.5px,#a3a1f3 35.5px,#a197e1 36.5px,#a096de 39.5px,#a097df 40.5px,#a39def 42.5px,#a3a7f8 46.5px,#a3a1f3,#a197e2,#a197e0,#a29cec,#a29dee,#a29ced,#a199e5,#a29ae8,#a3a1f3,#a39ff1,#a199e6,#a198e3,#b4ace7 59.5px)"></i></div>
<div class="T" style="left:106.8px;top:9.6px">S1</div>
<div class="T" style="left:288.8px;top:9.6px">U1</div>
<div class="T" style="left:106.8px;top:170.6px">S2</div>
<div class="T" style="left:288.8px;top:170.6px">U2</div>
<div class="T" style="left:472.3px;top:55.4px;font-size:11px;letter-spacing:.25px">STFT</div>
<div class="r" style="left:33.2px;top:21.1px">120</div>
<div class="r" style="left:33.2px;top:40.9px">100</div>
<div class="r" style="left:33.2px;top:60.8px">80</div>
<div class="r" style="left:33.2px;top:80.6px">60</div>
<div class="r" style="left:33.2px;top:100.5px">40</div>
<div class="r" style="left:33.2px;top:120.3px">20</div>
<div class="r" style="left:34px;top:179.5px">60</div>
<div class="r" style="left:34px;top:199.5px">40</div>
<div class="r" style="left:34px;top:219.6px">20</div>
<div class="r" style="left:34px;top:239.5px">0</div>
<div class="r" style="left:215px;top:21.1px">120</div>
<div class="r" style="left:215px;top:40.9px">100</div>
<div class="r" style="left:215px;top:60.8px">80</div>
<div class="r" style="left:215px;top:80.6px">60</div>
<div class="r" style="left:215px;top:100.5px">40</div>
<div class="r" style="left:215px;top:120.3px">20</div>
<div class="r" style="left:215.8px;top:179.5px">60</div>
<div class="r" style="left:215.8px;top:199.5px">40</div>
<div class="r" style="left:215.8px;top:219.6px">20</div>
<div class="r" style="left:215.8px;top:239.5px">0</div>
<div class="t" style="left:36px;top:147.6px">0</div>
<div class="t" style="left:36px;top:247.2px">0</div>
<div class="t" style="left:80.5px;top:147.6px">50</div>
<div class="t" style="left:80.5px;top:247.2px">50</div>
<div class="t" style="left:125.1px;top:147.6px">100</div>
<div class="t" style="left:125.1px;top:247.2px">100</div>
<div class="t" style="left:169.4px;top:147.6px">150</div>
<div class="t" style="left:169.4px;top:247.2px">150</div>
<div class="t" style="left:218px;top:147.6px">0</div>
<div class="t" style="left:218px;top:247.2px">0</div>
<div class="t" style="left:262.5px;top:147.6px">50</div>
<div class="t" style="left:262.5px;top:247.2px">50</div>
<div class="t" style="left:307.1px;top:147.6px">100</div>
<div class="t" style="left:307.1px;top:247.2px">100</div>
<div class="t" style="left:351.4px;top:147.6px">150</div>
<div class="t" style="left:351.4px;top:247.2px">150</div>
<div class="r" style="left:398.9px;top:72.1px">120</div>
<div class="r" style="left:398.9px;top:91.2px">100</div>
<div class="r" style="left:398.9px;top:110.2px">80</div>
<div class="r" style="left:398.9px;top:129.2px">60</div>
<div class="r" style="left:398.9px;top:148.3px">40</div>
<div class="r" style="left:398.9px;top:167.3px">20</div>
<div class="r" style="left:398.9px;top:186.3px">0</div>
<div class="t" style="left:446.2px;top:194.3px">50</div>
<div class="t" style="left:491.6px;top:194.3px">100</div>
<div class="t" style="left:537.3px;top:194.3px">150</div>
<div class="L" style="left:197.6px;top:262.6px">time [s]</div>
<div class="L" style="left:472.8px;top:204.8px">time [s]</div>
<div class="Y" style="left:9.1px;top:124.8px">frequency [Hz]</div>
<div class="Y" style="left:379.9px;top:124.8px">frequency [Hz]</div>
</body></html>
